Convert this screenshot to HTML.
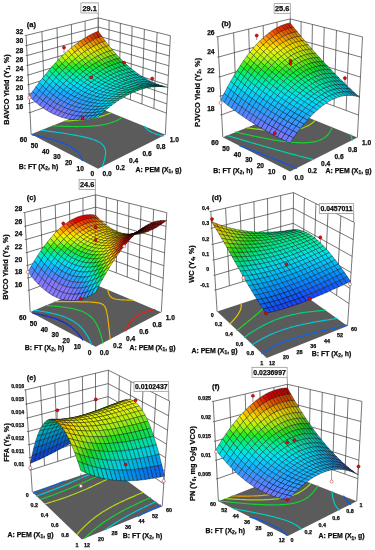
<!DOCTYPE html>
<html lang="en"><head><meta charset="utf-8"><title>Response surface plots</title>
<style>html,body{margin:0;padding:0;background:#fff}svg{display:block}</style></head>
<body>
<svg width="375" height="550" viewBox="0 0 375 550" font-family="'Liberation Sans', Arial, sans-serif" font-weight="bold" fill="#0a0a0a">
<g id="pa"><polygon points="31.1,134.3 98,168.7 165.3,134.8 98.2,107.6" fill="#5b5b5b"/>
<polyline points="31.9,134.7 32.3,134.8 33.8,135.1 35.2,135.4 35.6,135.5 36.7,135.7 38.2,136 39.4,136.3 39.7,136.4 41.1,136.7 42.6,137 43.5,137.2 44,137.4 45.5,137.7 46.9,138.1 47.9,138.3 48.3,138.4 49.7,138.8 51.1,139.2 52.4,139.6 52.9,139.7 53.8,140 55.1,140.4 56.5,140.8 57.8,141.2 59.1,141.7 59.1,141.7 60.3,142.1 61.6,142.6 62.8,143.1 64,143.5 65.2,144 66.3,144.6 67.5,145.1 68.6,145.6 69.6,146.2 70.7,146.8 71.7,147.4 72.6,148 73.6,148.7 74.5,149.3 74.5,149.4 75.3,150 76.2,150.8 76.9,151.5 77.5,152.1 77.7,152.3 78.4,153 79,153.9 79.2,154.1 79.6,154.7 80.2,155.6 80.4,155.9 80.7,156.5 81.2,157.4 81.2,157.6 81.6,158.4 81.9,159.1 82,159.4 82.3,160.4 82.3,160.6" fill="none" stroke="#0a55f5" stroke-width="1.2" stroke-linecap="round"/>
<polyline points="41.4,130.3 43.1,130.5 43.3,130.5 44.7,130.7 46.3,130.9 46.4,130.9 48.1,131.1 49.3,131.3 49.8,131.3 51.4,131.6 52.3,131.7 53.1,131.8 54.8,132 55.4,132.1 56.4,132.3 58.1,132.5 58.5,132.6 59.8,132.7 61.4,133 61.6,133 63.1,133.2 64.7,133.5 64.8,133.5 66.4,133.7 68,134 68.1,134 69.6,134.3 71.2,134.5 71.5,134.6 72.8,134.8 74.4,135.1 75,135.2 76,135.4 77.6,135.7 78.7,135.9 79.2,136 80.7,136.3 82.3,136.6 82.7,136.7 83.8,136.9 85.3,137.3 86.7,137.6 87.1,137.7 88.2,138 89.6,138.4 91,138.8 92.3,139.2 93.2,139.5 93.6,139.7 94.9,140.1 96.1,140.6 97.3,141.1 98.4,141.7 99.4,142.3 100.3,142.8 100.4,142.9 101.3,143.6 102.1,144.3 102.9,145 103,145.2 103.5,145.8 104.1,146.6 104.2,146.8 104.6,147.5 104.8,148.2 104.9,148.5 105.2,149.5 105.2,149.5 105.4,150.5 105.5,150.7 105.6,151.6 105.6,151.9 105.6,152.7 105.6,153 105.5,153.9 105.5,154.2 105.4,155.2 105.4,155.3 105.2,156.3 105.2,156.4 105,157.4 105,157.8 104.8,158.5 104.7,159.1 104.5,159.5 104.3,160.6 104.3,160.6 103.9,161.7 103.8,162 103.6,162.7 103.4,163.5 103.3,163.8 102.9,164.8 102.8,165 102.5,165.9 102.3,166.6" fill="none" stroke="#00c8d8" stroke-width="1.2" stroke-linecap="round"/>
<polyline points="163.1,136 161.5,135.6 160.1,135.2 158.6,134.8 158.1,134.6 157.2,134.4 155.9,133.9 154.6,133.5 153.3,133 152.1,132.5 151,131.9 149.9,131.4 149.6,131.1 149,130.8 148,130.1 147.2,129.5 146.8,129.1 146.5,128.8 145.8,128.1 145.5,127.7 145.2,127.3 144.7,126.5" fill="none" stroke="#00c8d8" stroke-width="1.2" stroke-linecap="round"/>
<polyline points="52.6,125.8 53.1,125.8 54.6,125.9 55.4,125.9 56.5,126 57.8,126 58.5,126.1 60.2,126.1 60.4,126.1 62.4,126.2 62.5,126.2 64.4,126.3 64.9,126.3 66.4,126.4 67.2,126.4 68.5,126.4 69.4,126.5 70.5,126.5 71.7,126.5 72.6,126.5 73.9,126.5 74.8,126.5 76.1,126.6 76.9,126.6 78.3,126.6 79.1,126.5 80.4,126.5 81.3,126.5 82.5,126.5 83.6,126.5 84.5,126.5 86,126.4 86.5,126.4 88.4,126.3 88.5,126.3 90.4,126.2 90.9,126.2 92.2,126.1 93.5,126 94,125.9 95.8,125.8 96.4,125.7 97.5,125.6 99.2,125.4 99.4,125.3 100.8,125.1 102.3,124.9 102.9,124.8 103.8,124.6 105.2,124.3 106.6,124 107.2,123.8 108,123.7 109.3,123.3 110.5,122.9 111.7,122.5 112.8,122.1 113.9,121.7 115,121.3 116,120.8 117,120.4 118,119.9 118.9,119.4 119.8,118.9 120.6,118.4 121.5,117.9 122.3,117.4" fill="none" stroke="#14d232" stroke-width="1.2" stroke-linecap="round"/>
<polyline points="64.8,121 65.9,120.9 67.1,120.9 67.8,120.8 69.5,120.8 69.7,120.8 71.6,120.7 72,120.6 73.4,120.5 74.5,120.5 75.2,120.4 77,120.3 77.1,120.3 78.8,120.1 79.9,120 80.5,120 82.2,119.8 82.8,119.7 83.8,119.6 85.4,119.4 85.8,119.3 87,119.2 88.6,118.9 89.1,118.8 90.1,118.7 91.6,118.4 92.8,118.2 93,118.2 94.4,117.9 95.8,117.6 97.1,117.3 97.2,117.3 98.5,117 99.8,116.6 101,116.3 102.2,115.9 103.1,115.7 103.4,115.6 104.6,115.2 105.7,114.8 106.8,114.4 107.9,114 108.9,113.6 110,113.2 110.9,112.8" fill="none" stroke="#96dc14" stroke-width="1.2" stroke-linecap="round"/>
<polyline points="81.1,114.4 82,114.3 83.4,114.1 84.8,113.8 84.9,113.8 86.3,113.5 87.7,113.3 88.9,113 89,113 90.3,112.7 91.6,112.4 92.9,112.1 94,111.8 94.2,111.7 95.4,111.4 96.6,111.1 97.8,110.7 98.9,110.4 100.1,110 101.2,109.7 102,109.4 102.3,109.3" fill="none" stroke="#e6c800" stroke-width="1.2" stroke-linecap="round"/>
<polygon points="30,112.6 98.2,87.8 98.2,17.9 26.1,35.4" fill="#fff"/>
<polygon points="98.2,87.8 166.4,113.1 170.4,35.7 98.2,17.9" fill="#fff"/>
<path d="M31.1,134.3 L26.1,35.4 M44.9,107.2 L41.9,31.6 M59.1,102.1 L57,27.9 M72.7,97.1 L71.4,24.4 M85.8,92.4 L85.1,21.1 M98.2,107.6 L98.2,17.9 M108.5,91.7 L109.1,20.6 M119.3,95.6 L120.4,23.4 M130.4,99.8 L132.1,26.3 M141.9,104 L144.4,29.3 M153.9,108.5 L157.1,32.5 M165.3,134.8 L170.4,35.7 M30,112.6 L98.2,87.8 L166.4,113.1 M30,112.6 L28.7,112.6 M29.5,103.5 L98.2,79.5 L166.9,103.9 M29.5,103.5 L28.2,103.5 M29.1,94.1 L98.2,71 L167.3,94.6 M29.1,94.1 L27.8,94.1 M28.6,84.7 L98.2,62.4 L167.8,85.1 M28.6,84.7 L27.3,84.7 M28.1,75.1 L98.2,53.7 L168.3,75.5 M28.1,75.1 L26.8,75.1 M27.6,65.4 L98.2,45 L168.8,65.8 M27.6,65.4 L26.3,65.4 M27.1,55.5 L98.2,36 L169.3,55.9 M27.1,55.5 L25.8,55.5 M26.6,45.5 L98.2,27 L169.8,45.9 M26.6,45.5 L25.3,45.5 M26.1,35.4 L98.2,17.9 L170.4,35.7 M26.1,35.4 L24.8,35.4" fill="none" stroke="#3c3c3c" stroke-width="0.7"/>
<line x1="64" y1="47.5" x2="64" y2="53" stroke="#555" stroke-width="0.6"/>
<line x1="124.1" y1="62.7" x2="124.1" y2="66" stroke="#555" stroke-width="0.6"/>
<line x1="152.2" y1="78.5" x2="152.2" y2="82" stroke="#555" stroke-width="0.6"/>
<line x1="98.3" y1="13" x2="98.3" y2="31.7" stroke="#555" stroke-width="0.6"/>
<g stroke="#000" stroke-opacity="0.8" stroke-width="0.45" stroke-linejoin="round">
<polygon points="95.3,32.4 97.1,34.9 98.9,37.4 100.3,36.8 101.8,36.2 100,33.7 98.2,31.2 96.8,31.8" fill="#d41f00"/>
<polygon points="92.4,33.8 94.2,36.2 95.9,38.6 97.4,38 98.9,37.4 97.1,34.9 95.3,32.4 93.9,33.1" fill="#d82a00"/>
<polygon points="98.9,37.4 100.6,39.8 102.4,42.1 103.9,41.6 105.3,41.1 103.5,38.7 101.8,36.2 100.3,36.8" fill="#de7500"/>
<polygon points="89.4,35.3 91.2,37.7 93,40.1 94.5,39.3 95.9,38.6 94.2,36.2 92.4,33.8 90.9,34.5" fill="#dd3800"/>
<polygon points="95.9,38.6 97.7,41 99.5,43.3 101,42.7 102.4,42.1 100.6,39.8 98.9,37.4 97.4,38" fill="#e27d00"/>
<polygon points="102.4,42.1 104.2,44.4 106,46.6 107.5,46.1 108.9,45.6 107.1,43.4 105.3,41.1 103.9,41.6" fill="#dfb400"/>
<polygon points="86.5,37 88.2,39.4 90,41.7 91.5,40.9 93,40.1 91.2,37.7 89.4,35.3 87.9,36.1" fill="#e24a00"/>
<polygon points="93,40.1 94.8,42.4 96.6,44.7 98,44 99.5,43.3 97.7,41 95.9,38.6 94.5,39.3" fill="#e58800"/>
<polygon points="99.5,43.3 101.3,45.5 103.1,47.7 104.6,47.2 106,46.6 104.2,44.4 102.4,42.1 101,42.7" fill="#e3bb00"/>
<polygon points="106,46.6 107.8,48.8 109.6,50.9 111.1,50.4 112.5,50 110.7,47.9 108.9,45.6 107.5,46.1" fill="#cad506"/>
<polygon points="83.4,38.8 85.2,41.2 87,43.5 88.5,42.6 90,41.7 88.2,39.4 86.5,37 85,37.9" fill="#e76000"/>
<polygon points="90,41.7 91.8,44 93.6,46.2 95.1,45.4 96.6,44.7 94.8,42.4 93,40.1 91.5,40.9" fill="#e99500"/>
<polygon points="96.6,44.7 98.4,46.9 100.2,49 101.6,48.4 103.1,47.7 101.3,45.5 99.5,43.3 98,44" fill="#e7c400"/>
<polygon points="103.1,47.7 104.9,49.9 106.7,51.9 108.2,51.4 109.6,50.9 107.8,48.8 106,46.6 104.6,47.2" fill="#cbd807"/>
<polygon points="109.6,50.9 111.5,53 113.3,55 114.7,54.6 116.2,54.2 114.3,52.1 112.5,50 111.1,50.4" fill="#a0db12"/>
<polygon points="80.4,40.8 82.2,43.1 84,45.4 85.5,44.4 87,43.5 85.2,41.2 83.4,38.8 81.9,39.8" fill="#ed7900"/>
<polygon points="87,43.5 88.8,45.7 90.6,47.9 92.1,47 93.6,46.2 91.8,44 90,41.7 88.5,42.6" fill="#eca500"/>
<polygon points="93.6,46.2 95.4,48.3 97.2,50.5 98.7,49.7 100.2,49 98.4,46.9 96.6,44.7 95.1,45.4" fill="#ead100"/>
<polygon points="100.2,49 102,51.1 103.8,53.1 105.3,52.5 106.7,51.9 104.9,49.9 103.1,47.7 101.6,48.4" fill="#cadc08"/>
<polygon points="106.7,51.9 108.6,54 110.4,55.9 111.9,55.4 113.3,55 111.5,53 109.6,50.9 108.2,51.4" fill="#a2df12"/>
<polygon points="77.4,43 79.1,45.3 80.9,47.5 82.5,46.4 84,45.4 82.2,43.1 80.4,40.8 78.9,41.9" fill="#f19100"/>
<polygon points="113.3,55 115.1,56.9 117,58.8 118.4,58.4 119.8,58.1 118,56.2 116.2,54.2 114.7,54.6" fill="#56d619"/>
<polygon points="84,45.4 85.8,47.6 87.6,49.7 89.1,48.8 90.6,47.9 88.8,45.7 87,43.5 85.5,44.4" fill="#efb800"/>
<polygon points="90.6,47.9 92.4,50 94.2,52.1 95.7,51.2 97.2,50.5 95.4,48.3 93.6,46.2 92.1,47" fill="#ecde01"/>
<polygon points="97.2,50.5 99,52.5 100.8,54.5 102.3,53.8 103.8,53.1 102,51.1 100.2,49 98.7,49.7" fill="#c7e10a"/>
<polygon points="103.8,53.1 105.6,55.1 107.5,57 108.9,56.5 110.4,55.9 108.6,54 106.7,51.9 105.3,52.5" fill="#a0e213"/>
<polygon points="74.3,45.3 76.1,47.6 77.8,49.7 79.4,48.6 80.9,47.5 79.1,45.3 77.4,43 75.8,44.2" fill="#f4ac00"/>
<polygon points="110.4,55.9 112.2,57.8 114.1,59.7 115.5,59.2 117,58.8 115.1,56.9 113.3,55 111.9,55.4" fill="#5ada19"/>
<polygon points="80.9,47.5 82.7,49.6 84.5,51.7 86,50.7 87.6,49.7 85.8,47.6 84,45.4 82.5,46.4" fill="#f2ce00"/>
<polygon points="117,58.8 118.8,60.7 120.7,62.4 122.1,62.1 123.6,61.8 121.7,60 119.8,58.1 118.4,58.4" fill="#16d222"/>
<polygon points="87.6,49.7 89.4,51.8 91.2,53.8 92.7,52.9 94.2,52.1 92.4,50 90.6,47.9 89.1,48.8" fill="#e3e304"/>
<polygon points="94.2,52.1 96,54.1 97.9,56 99.4,55.2 100.8,54.5 99,52.5 97.2,50.5 95.7,51.2" fill="#c2e50c"/>
<polygon points="100.8,54.5 102.7,56.4 104.5,58.3 106,57.7 107.5,57 105.6,55.1 103.8,53.1 102.3,53.8" fill="#9ae514"/>
<polygon points="71.2,47.9 73,50 74.7,52.2 76.3,50.9 77.8,49.7 76.1,47.6 74.3,45.3 72.7,46.6" fill="#f6c900"/>
<polygon points="107.5,57 109.3,58.9 111.2,60.7 112.6,60.2 114.1,59.7 112.2,57.8 110.4,55.9 108.9,56.5" fill="#5ade1a"/>
<polygon points="77.8,49.7 79.6,51.9 81.4,53.9 83,52.8 84.5,51.7 82.7,49.6 80.9,47.5 79.4,48.6" fill="#f3e501"/>
<polygon points="114.1,59.7 116,61.5 117.8,63.2 119.3,62.8 120.7,62.4 118.8,60.7 117,58.8 115.5,59.2" fill="#18d520"/>
<polygon points="84.5,51.7 86.3,53.8 88.1,55.7 89.7,54.8 91.2,53.8 89.4,51.8 87.6,49.7 86,50.7" fill="#d8e808"/>
<polygon points="120.7,62.4 122.6,64.2 124.5,65.8 125.9,65.5 127.3,65.3 125.4,63.6 123.6,61.8 122.1,62.1" fill="#0bd459"/>
<polygon points="91.2,53.8 93,55.8 94.8,57.7 96.3,56.8 97.9,56 96,54.1 94.2,52.1 92.7,52.9" fill="#bbea0f"/>
<polygon points="97.9,56 99.7,57.9 101.5,59.7 103,59 104.5,58.3 102.7,56.4 100.8,54.5 99.4,55.2" fill="#90e815"/>
<polygon points="68.1,50.5 69.8,52.7 71.6,54.8 73.2,53.4 74.7,52.2 73,50 71.2,47.9 69.6,49.2" fill="#f8e900"/>
<polygon points="104.5,58.3 106.4,60.1 108.2,61.9 109.7,61.3 111.2,60.7 109.3,58.9 107.5,57 106,57.7" fill="#56e11b"/>
<polygon points="74.7,52.2 76.5,54.2 78.3,56.3 79.9,55.1 81.4,53.9 79.6,51.9 77.8,49.7 76.3,50.9" fill="#e2eb06"/>
<polygon points="111.2,60.7 113,62.5 114.9,64.2 116.4,63.7 117.8,63.2 116,61.5 114.1,59.7 112.6,60.2" fill="#1ad920"/>
<polygon points="81.4,53.9 83.2,55.9 85.1,57.8 86.6,56.8 88.1,55.7 86.3,53.8 84.5,51.7 83,52.8" fill="#caed0c"/>
<polygon points="117.8,63.2 119.7,64.9 121.6,66.5 123.1,66.2 124.5,65.8 122.6,64.2 120.7,62.4 119.3,62.8" fill="#0cd854"/>
<polygon points="88.1,55.7 90,57.7 91.8,59.5 93.3,58.6 94.8,57.7 93,55.8 91.2,53.8 89.7,54.8" fill="#b0ef13"/>
<polygon points="124.5,65.8 126.4,67.5 128.3,69 129.7,68.8 131.1,68.6 129.2,67 127.3,65.3 125.9,65.5" fill="#01d78a"/>
<polygon points="94.8,57.7 96.7,59.5 98.5,61.3 100,60.5 101.5,59.7 99.7,57.9 97.9,56 96.3,56.8" fill="#81ea17"/>
<polygon points="64.9,53.4 66.7,55.5 68.5,57.5 70.1,56.1 71.6,54.8 69.8,52.7 68.1,50.5 66.5,51.9" fill="#e0ef08"/>
<polygon points="101.5,59.7 103.4,61.5 105.2,63.3 106.7,62.6 108.2,61.9 106.4,60.1 104.5,58.3 103,59" fill="#4de31c"/>
<polygon points="71.6,54.8 73.4,56.8 75.2,58.8 76.8,57.5 78.3,56.3 76.5,54.2 74.7,52.2 73.2,53.4" fill="#cdf10c"/>
<polygon points="108.2,61.9 110.1,63.6 112,65.3 113.5,64.7 114.9,64.2 113,62.5 111.2,60.7 109.7,61.3" fill="#17dc21"/>
<polygon points="78.3,56.3 80.1,58.2 82,60.1 83.5,59 85.1,57.8 83.2,55.9 81.4,53.9 79.9,55.1" fill="#b9f211"/>
<polygon points="114.9,64.2 116.8,65.8 118.7,67.4 120.2,66.9 121.6,66.5 119.7,64.9 117.8,63.2 116.4,63.7" fill="#0ddc51"/>
<polygon points="85.1,57.8 86.9,59.7 88.7,61.6 90.3,60.5 91.8,59.5 90,57.7 88.1,55.7 86.6,56.8" fill="#98f016"/>
<polygon points="121.6,66.5 123.5,68.1 125.4,69.6 126.9,69.3 128.3,69 126.4,67.5 124.5,65.8 123.1,66.2" fill="#03da83"/>
<polygon points="91.8,59.5 93.6,61.3 95.5,63.1 97,62.2 98.5,61.3 96.7,59.5 94.8,57.7 93.3,58.6" fill="#6eeb1a"/>
<polygon points="61.8,56.4 63.5,58.5 65.3,60.5 66.9,59 68.5,57.5 66.7,55.5 64.9,53.4 63.3,54.9" fill="#c4f50f"/>
<polygon points="128.3,69 130.2,70.5 132.1,71.9 133.6,71.7 135,71.6 133,70.1 131.1,68.6 129.7,68.8" fill="#00d3a6"/>
<polygon points="98.5,61.3 100.4,63.1 102.2,64.8 103.7,64 105.2,63.3 103.4,61.5 101.5,59.7 100,60.5" fill="#40e61e"/>
<polygon points="68.5,57.5 70.3,59.5 72.1,61.5 73.6,60.1 75.2,58.8 73.4,56.8 71.6,54.8 70.1,56.1" fill="#b6f713"/>
<polygon points="105.2,63.3 107.1,64.9 109,66.5 110.5,65.9 112,65.3 110.1,63.6 108.2,61.9 106.7,62.6" fill="#17e027"/>
<polygon points="75.2,58.8 77,60.7 78.8,62.5 80.4,61.3 82,60.1 80.1,58.2 78.3,56.3 76.8,57.5" fill="#9af416"/>
<polygon points="112,65.3 113.9,66.9 115.8,68.4 117.2,67.9 118.7,67.4 116.8,65.8 114.9,64.2 113.5,64.7" fill="#0edf53"/>
<polygon points="82,60.1 83.8,61.9 85.6,63.7 87.2,62.6 88.7,61.6 86.9,59.7 85.1,57.8 83.5,59" fill="#79f119"/>
<polygon points="118.7,67.4 120.6,68.9 122.5,70.4 124,70 125.4,69.6 123.5,68.1 121.6,66.5 120.2,66.9" fill="#04de7f"/>
<polygon points="88.7,61.6 90.5,63.3 92.4,65 93.9,64 95.5,63.1 93.6,61.3 91.8,59.5 90.3,60.5" fill="#55ec1d"/>
<polygon points="58.6,59.6 60.3,61.6 62.1,63.6 63.7,62 65.3,60.5 63.5,58.5 61.8,56.4 60.2,58" fill="#98f617"/>
<polygon points="125.4,69.6 127.4,71.1 129.3,72.5 130.7,72.2 132.1,71.9 130.2,70.5 128.3,69 126.9,69.3" fill="#00d8a2"/>
<polygon points="95.5,63.1 97.3,64.8 99.2,66.4 100.7,65.6 102.2,64.8 100.4,63.1 98.5,61.3 97,62.2" fill="#2fe720"/>
<polygon points="65.3,60.5 67.1,62.4 68.9,64.3 70.5,62.9 72.1,61.5 70.3,59.5 68.5,57.5 66.9,59" fill="#85f419"/>
<polygon points="132.1,71.9 134.1,73.3 136,74.7 137.5,74.5 138.9,74.4 136.9,73 135,71.6 133.6,71.7" fill="#00cfbd"/>
<polygon points="102.2,64.8 104.1,66.4 106,68 107.5,67.2 109,66.5 107.1,64.9 105.2,63.3 103.7,64" fill="#15e432"/>
<polygon points="72.1,61.5 73.9,63.3 75.7,65.1 77.3,63.8 78.8,62.5 77,60.7 75.2,58.8 73.6,60.1" fill="#6ef21b"/>
<polygon points="109,66.5 110.9,68.1 112.8,69.6 114.3,69 115.8,68.4 113.9,66.9 112,65.3 110.5,65.9" fill="#0de357"/>
<polygon points="78.8,62.5 80.7,64.3 82.5,66.1 84.1,64.9 85.6,63.7 83.8,61.9 82,60.1 80.4,61.3" fill="#55f01d"/>
<polygon points="115.8,68.4 117.7,69.9 119.6,71.3 121.1,70.8 122.5,70.4 120.6,68.9 118.7,67.4 117.2,67.9" fill="#05e27e"/>
<polygon points="85.6,63.7 87.4,65.5 89.3,67.1 90.8,66.1 92.4,65 90.5,63.3 88.7,61.6 87.2,62.6" fill="#38ed20"/>
<polygon points="55.4,63 57.1,65 58.9,66.9 60.5,65.2 62.1,63.6 60.3,61.6 58.6,59.6 57,61.3" fill="#58f01d"/>
<polygon points="122.5,70.4 124.5,71.8 126.4,73.1 127.8,72.8 129.3,72.5 127.4,71.1 125.4,69.6 124,70" fill="#00dda0"/>
<polygon points="92.4,65 94.3,66.7 96.1,68.3 97.7,67.3 99.2,66.4 97.3,64.8 95.5,63.1 93.9,64" fill="#19e923"/>
<polygon points="62.1,63.6 63.9,65.5 65.7,67.4 67.3,65.8 68.9,64.3 67.1,62.4 65.3,60.5 63.7,62" fill="#4cef1e"/>
<polygon points="129.3,72.5 131.2,73.8 133.2,75.1 134.6,74.9 136,74.7 134.1,73.3 132.1,71.9 130.7,72.2" fill="#00d5b8"/>
<polygon points="99.2,66.4 101.1,68 102.9,69.5 104.5,68.7 106,68 104.1,66.4 102.2,64.8 100.7,65.6" fill="#13e840"/>
<polygon points="68.9,64.3 70.7,66.2 72.5,67.9 74.1,66.5 75.7,65.1 73.9,63.3 72.1,61.5 70.5,62.9" fill="#3dee20"/>
<polygon points="136,74.7 138,75.9 140,77.1 141.4,77 142.8,77 140.8,75.7 138.9,74.4 137.5,74.5" fill="#00ccd0"/>
<polygon points="106,68 107.9,69.5 109.8,70.9 111.3,70.2 112.8,69.6 110.9,68.1 109,66.5 107.5,67.2" fill="#0ce760"/>
<polygon points="75.7,65.1 77.5,66.9 79.3,68.6 80.9,67.3 82.5,66.1 80.7,64.3 78.8,62.5 77.3,63.8" fill="#2bed21"/>
<polygon points="112.8,69.6 114.7,71 116.6,72.4 118.1,71.8 119.6,71.3 117.7,69.9 115.8,68.4 114.3,69" fill="#05e581"/>
<polygon points="82.5,66.1 84.3,67.8 86.2,69.4 87.7,68.2 89.3,67.1 87.4,65.5 85.6,63.7 84.1,64.9" fill="#18eb26"/>
<polygon points="52.1,66.5 53.9,68.5 55.7,70.4 57.3,68.6 58.9,66.9 57.1,65 55.4,63 53.8,64.7" fill="#18eb28"/>
<polygon points="119.6,71.3 121.5,72.7 123.5,74 124.9,73.5 126.4,73.1 124.5,71.8 122.5,70.4 121.1,70.8" fill="#00e29f"/>
<polygon points="89.3,67.1 91.2,68.7 93,70.3 94.6,69.3 96.1,68.3 94.3,66.7 92.4,65 90.8,66.1" fill="#14ec3b"/>
<polygon points="58.9,66.9 60.7,68.8 62.5,70.6 64.1,68.9 65.7,67.4 63.9,65.5 62.1,63.6 60.5,65.2" fill="#17eb2c"/>
<polygon points="126.4,73.1 128.4,74.4 130.3,75.7 131.8,75.4 133.2,75.1 131.2,73.8 129.3,72.5 127.8,72.8" fill="#00dab4"/>
<polygon points="96.1,68.3 98,69.8 99.9,71.3 101.4,70.4 102.9,69.5 101.1,68 99.2,66.4 97.7,67.3" fill="#0fec53"/>
<polygon points="65.7,67.4 67.5,69.1 69.3,70.9 70.9,69.4 72.5,67.9 70.7,66.2 68.9,64.3 67.3,65.8" fill="#16ec33"/>
<polygon points="133.2,75.1 135.2,76.3 137.2,77.5 138.6,77.3 140,77.1 138,75.9 136,74.7 134.6,74.9" fill="#00d1c9"/>
<polygon points="102.9,69.5 104.8,71 106.7,72.4 108.3,71.6 109.8,70.9 107.9,69.5 106,68 104.5,68.7" fill="#0aeb6c"/>
<polygon points="72.5,67.9 74.3,69.6 76.2,71.3 77.7,69.9 79.3,68.6 77.5,66.9 75.7,65.1 74.1,66.5" fill="#14ec3c"/>
<polygon points="140,77.1 142,78.3 144,79.4 145.4,79.3 146.8,79.3 144.8,78.1 142.8,77 141.4,77" fill="#01c7db"/>
<polygon points="109.8,70.9 111.7,72.3 113.6,73.6 115.1,73 116.6,72.4 114.7,71 112.8,69.6 111.3,70.2" fill="#04e987"/>
<polygon points="79.3,68.6 81.2,70.2 83,71.8 84.6,70.6 86.2,69.4 84.3,67.8 82.5,66.1 80.9,67.3" fill="#12ec48"/>
<polygon points="48.9,70.3 50.7,72.2 52.4,74 54.1,72.2 55.7,70.4 53.9,68.5 52.1,66.5 50.5,68.4" fill="#0bee68"/>
<polygon points="116.6,72.4 118.6,73.7 120.5,75 122,74.4 123.5,74 121.5,72.7 119.6,71.3 118.1,71.8" fill="#00e6a0"/>
<polygon points="86.2,69.4 88,71 89.9,72.5 91.5,71.4 93,70.3 91.2,68.7 89.3,67.1 87.7,68.2" fill="#0fed57"/>
<polygon points="55.7,70.4 57.5,72.2 59.3,73.9 60.9,72.2 62.5,70.6 60.7,68.8 58.9,66.9 57.3,68.6" fill="#0cee66"/>
<polygon points="123.5,74 125.4,75.2 127.4,76.4 128.9,76 130.3,75.7 128.4,74.4 126.4,73.1 124.9,73.5" fill="#00deb2"/>
<polygon points="93,70.3 94.9,71.8 96.8,73.2 98.3,72.2 99.9,71.3 98,69.8 96.1,68.3 94.6,69.3" fill="#0bee68"/>
<polygon points="62.5,70.6 64.3,72.3 66.1,74 67.7,72.4 69.3,70.9 67.5,69.1 65.7,67.4 64.1,68.9" fill="#0cee66"/>
<polygon points="130.3,75.7 132.3,76.8 134.3,78 135.7,77.7 137.2,77.5 135.2,76.3 133.2,75.1 131.8,75.4" fill="#00d7c4"/>
<polygon points="99.9,71.3 101.8,72.7 103.7,74.1 105.2,73.2 106.7,72.4 104.8,71 102.9,69.5 101.4,70.4" fill="#07ef7c"/>
<polygon points="69.3,70.9 71.1,72.6 73,74.2 74.6,72.7 76.2,71.3 74.3,69.6 72.5,67.9 70.9,69.4" fill="#0bee69"/>
<polygon points="137.2,77.5 139.2,78.6 141.2,79.6 142.6,79.5 144,79.4 142,78.3 140,77.1 138.6,77.3" fill="#00ced7"/>
<polygon points="106.7,72.4 108.7,73.8 110.6,75 112.1,74.3 113.6,73.6 111.7,72.3 109.8,70.9 108.3,71.6" fill="#03ed92"/>
<polygon points="76.2,71.3 78,72.9 79.8,74.4 81.4,73.1 83,71.8 81.2,70.2 79.3,68.6 77.7,69.9" fill="#0aee6e"/>
<polygon points="45.7,74.2 47.4,76 49.2,77.8 50.8,75.9 52.4,74 50.7,72.2 48.9,70.3 47.3,72.2" fill="#00efa8"/>
<polygon points="144,79.4 146,80.4 148.1,81.4 149.5,81.4 150.9,81.4 148.8,80.4 146.8,79.3 145.4,79.3" fill="#04bfdc"/>
<polygon points="113.6,73.6 115.6,74.9 117.5,76.1 119,75.5 120.5,75 118.6,73.7 116.6,72.4 115.1,73" fill="#00e9a4"/>
<polygon points="83,71.8 84.9,73.4 86.7,74.8 88.3,73.6 89.9,72.5 88,71 86.2,69.4 84.6,70.6" fill="#08ee77"/>
<polygon points="52.4,74 54.2,75.8 56,77.5 57.6,75.7 59.3,73.9 57.5,72.2 55.7,70.4 54.1,72.2" fill="#00f0a2"/>
<polygon points="120.5,75 122.5,76.2 124.4,77.3 125.9,76.8 127.4,76.4 125.4,75.2 123.5,74 122,74.4" fill="#00e3b2"/>
<polygon points="89.9,72.5 91.8,73.9 93.6,75.3 95.2,74.2 96.8,73.2 94.9,71.8 93,70.3 91.5,71.4" fill="#06ef82"/>
<polygon points="59.3,73.9 61.1,75.7 62.9,77.3 64.5,75.6 66.1,74 64.3,72.3 62.5,70.6 60.9,72.2" fill="#01f09d"/>
<polygon points="127.4,76.4 129.4,77.5 131.4,78.6 132.8,78.3 134.3,78 132.3,76.8 130.3,75.7 128.9,76" fill="#00dcc1"/>
<polygon points="96.8,73.2 98.7,74.6 100.6,75.9 102.1,75 103.7,74.1 101.8,72.7 99.9,71.3 98.3,72.2" fill="#03ef8f"/>
<polygon points="66.1,74 67.9,75.6 69.7,77.2 71.3,75.7 73,74.2 71.1,72.6 69.3,70.9 67.7,72.4" fill="#01f099"/>
<polygon points="134.3,78 136.3,79 138.3,80 139.8,79.8 141.2,79.6 139.2,78.6 137.2,77.5 135.7,77.7" fill="#00d4d1"/>
<polygon points="103.7,74.1 105.6,75.4 107.5,76.6 109.1,75.8 110.6,75 108.7,73.8 106.7,72.4 105.2,73.2" fill="#00f09f"/>
<polygon points="73,74.2 74.8,75.7 76.6,77.2 78.2,75.8 79.8,74.4 78,72.9 76.2,71.3 74.6,72.7" fill="#02f098"/>
<polygon points="42.4,78.2 44.1,80.1 45.9,81.8 47.5,79.8 49.2,77.8 47.4,76 45.7,74.2 44,76.2" fill="#00e7d4"/>
<polygon points="141.2,79.6 143.2,80.6 145.3,81.5 146.7,81.4 148.1,81.4 146,80.4 144,79.4 142.6,79.5" fill="#01cbdf"/>
<polygon points="110.6,75 112.5,76.3 114.5,77.4 116,76.8 117.5,76.1 115.6,74.9 113.6,73.6 112.1,74.3" fill="#00ecaa"/>
<polygon points="79.8,74.4 81.7,75.9 83.6,77.3 85.1,76.1 86.7,74.8 84.9,73.4 83,71.8 81.4,73.1" fill="#01f09a"/>
<polygon points="49.2,77.8 51,79.6 52.7,81.2 54.4,79.4 56,77.5 54.2,75.8 52.4,74 50.8,75.9" fill="#00e9ca"/>
<polygon points="148.1,81.4 150.1,82.3 152.2,83.1 153.6,83.2 155,83.3 152.9,82.4 150.9,81.4 149.5,81.4" fill="#06badc"/>
<polygon points="117.5,76.1 119.5,77.3 121.5,78.4 123,77.8 124.4,77.3 122.5,76.2 120.5,75 119,75.5" fill="#00e6b5"/>
<polygon points="86.7,74.8 88.6,76.2 90.5,77.6 92.1,76.4 93.6,75.3 91.8,73.9 89.9,72.5 88.3,73.6" fill="#00f09e"/>
<polygon points="56,77.5 57.8,79.2 59.6,80.8 61.2,79 62.9,77.3 61.1,75.7 59.3,73.9 57.6,75.7" fill="#00eac2"/>
<polygon points="124.4,77.3 126.4,78.4 128.4,79.4 129.9,79 131.4,78.6 129.4,77.5 127.4,76.4 125.9,76.8" fill="#00e0c0"/>
<polygon points="93.6,75.3 95.5,76.6 97.5,77.9 99,76.9 100.6,75.9 98.7,74.6 96.8,73.2 95.2,74.2" fill="#00efa3"/>
<polygon points="62.9,77.3 64.7,78.9 66.5,80.4 68.1,78.8 69.7,77.2 67.9,75.6 66.1,74 64.5,75.6" fill="#00ebbc"/>
<polygon points="131.4,78.6 133.4,79.6 135.4,80.6 136.9,80.3 138.3,80 136.3,79 134.3,78 132.8,78.3" fill="#00d9cc"/>
<polygon points="100.6,75.9 102.5,77.2 104.4,78.4 106,77.5 107.5,76.6 105.6,75.4 103.7,74.1 102.1,75" fill="#00eea9"/>
<polygon points="69.7,77.2 71.6,78.7 73.4,80.2 75,78.7 76.6,77.2 74.8,75.7 73,74.2 71.3,75.7" fill="#00ecb8"/>
<polygon points="39.1,82.5 40.9,84.3 42.6,86 44.3,83.9 45.9,81.8 44.1,80.1 42.4,78.2 40.7,80.3" fill="#04d9f6"/>
<polygon points="138.3,80 140.4,80.9 142.4,81.8 143.8,81.6 145.3,81.5 143.2,80.6 141.2,79.6 139.8,79.8" fill="#00d2d9"/>
<polygon points="107.5,76.6 109.5,77.8 111.4,78.9 113,78.2 114.5,77.4 112.5,76.3 110.6,75 109.1,75.8" fill="#00edb1"/>
<polygon points="76.6,77.2 78.5,78.7 80.3,80 82,78.7 83.6,77.3 81.7,75.9 79.8,74.4 78.2,75.8" fill="#00ecb5"/>
<polygon points="45.9,81.8 47.7,83.5 49.5,85.2 51.1,83.2 52.7,81.2 51,79.6 49.2,77.8 47.5,79.8" fill="#00e1f5"/>
<polygon points="145.3,81.5 147.3,82.4 149.4,83.2 150.8,83.1 152.2,83.1 150.1,82.3 148.1,81.4 146.7,81.4" fill="#02c6de"/>
<polygon points="114.5,77.4 116.4,78.5 118.4,79.6 119.9,79 121.5,78.4 119.5,77.3 117.5,76.1 116,76.8" fill="#00eab9"/>
<polygon points="83.6,77.3 85.4,78.7 87.3,80 88.9,78.8 90.5,77.6 88.6,76.2 86.7,74.8 85.1,76.1" fill="#00edb3"/>
<polygon points="52.7,81.2 54.5,82.9 56.3,84.4 58,82.6 59.6,80.8 57.8,79.2 56,77.5 54.4,79.4" fill="#00e3e9"/>
<polygon points="152.2,83.1 154.3,83.9 156.4,84.7 157.8,84.7 159.1,84.9 157.1,84.1 155,83.3 153.6,83.2" fill="#07b6db"/>
<polygon points="121.5,78.4 123.4,79.4 125.4,80.4 126.9,79.9 128.4,79.4 126.4,78.4 124.4,77.3 123,77.8" fill="#00e4c1"/>
<polygon points="90.5,77.6 92.4,78.9 94.3,80.1 95.9,79 97.5,77.9 95.5,76.6 93.6,75.3 92.1,76.4" fill="#00edb4"/>
<polygon points="59.6,80.8 61.4,82.3 63.2,83.8 64.9,82.1 66.5,80.4 64.7,78.9 62.9,77.3 61.2,79" fill="#00e5df"/>
<polygon points="128.4,79.4 130.4,80.4 132.5,81.3 133.9,80.9 135.4,80.6 133.4,79.6 131.4,78.6 129.9,79" fill="#00deca"/>
<polygon points="97.5,77.9 99.4,79.1 101.3,80.3 102.9,79.3 104.4,78.4 102.5,77.2 100.6,75.9 99,76.9" fill="#00ecb5"/>
<polygon points="66.5,80.4 68.3,81.9 70.2,83.3 71.8,81.7 73.4,80.2 71.6,78.7 69.7,77.2 68.1,78.8" fill="#00e6d6"/>
<polygon points="35.8,86.9 37.6,88.7 39.3,90.3 41,88.1 42.6,86 40.9,84.3 39.1,82.5 37.5,84.7" fill="#11bcfc"/>
<polygon points="135.4,80.6 137.5,81.4 139.5,82.3 141,82 142.4,81.8 140.4,80.9 138.3,80 136.9,80.3" fill="#00d7d3"/>
<polygon points="104.4,78.4 106.4,79.5 108.3,80.6 109.9,79.7 111.4,78.9 109.5,77.8 107.5,76.6 106,77.5" fill="#00ecb9"/>
<polygon points="73.4,80.2 75.3,81.6 77.1,82.9 78.7,81.5 80.3,80 78.5,78.7 76.6,77.2 75,78.7" fill="#00e8cf"/>
<polygon points="42.6,86 44.4,87.7 46.1,89.3 47.8,87.2 49.5,85.2 47.7,83.5 45.9,81.8 44.3,83.9" fill="#0cc6fa"/>
<polygon points="142.4,81.8 144.5,82.6 146.6,83.4 148,83.3 149.4,83.2 147.3,82.4 145.3,81.5 143.8,81.6" fill="#00d0dd"/>
<polygon points="111.4,78.9 113.4,80 115.4,81 116.9,80.3 118.4,79.6 116.4,78.5 114.5,77.4 113,78.2" fill="#00ebbe"/>
<polygon points="80.3,80 82.2,81.4 84.1,82.6 85.7,81.3 87.3,80 85.4,78.7 83.6,77.3 82,78.7" fill="#00e9ca"/>
<polygon points="49.5,85.2 51.2,86.8 53,88.3 54.7,86.3 56.3,84.4 54.5,82.9 52.7,81.2 51.1,83.2" fill="#08d0f8"/>
<polygon points="149.4,83.2 151.5,83.9 153.6,84.6 155,84.6 156.4,84.7 154.3,83.9 152.2,83.1 150.8,83.1" fill="#03c3dd"/>
<polygon points="118.4,79.6 120.4,80.6 122.4,81.5 123.9,80.9 125.4,80.4 123.4,79.4 121.5,78.4 119.9,79" fill="#00e8c4"/>
<polygon points="87.3,80 89.2,81.3 91.1,82.4 92.7,81.3 94.3,80.1 92.4,78.9 90.5,77.6 88.9,78.8" fill="#00e9c6"/>
<polygon points="56.3,84.4 58.1,86 59.9,87.4 61.6,85.6 63.2,83.8 61.4,82.3 59.6,80.8 58,82.6" fill="#04d8f7"/>
<polygon points="156.4,84.7 158.5,85.3 160.7,85.9 162,86.1 163.4,86.2 161.3,85.6 159.1,84.9 157.8,84.7" fill="#08b5da"/>
<polygon points="125.4,80.4 127.5,81.3 129.5,82.1 131,81.7 132.5,81.3 130.4,80.4 128.4,79.4 126.9,79.9" fill="#00e2c9"/>
<polygon points="94.3,80.1 96.2,81.3 98.1,82.4 99.7,81.3 101.3,80.3 99.4,79.1 97.5,77.9 95.9,79" fill="#00eac4"/>
<polygon points="63.2,83.8 65,85.3 66.9,86.6 68.5,85 70.2,83.3 68.3,81.9 66.5,80.4 64.9,82.1" fill="#01e0f5"/>
<polygon points="32.5,91.5 34.2,93.2 36,94.9 37.6,92.6 39.3,90.3 37.6,88.7 35.8,86.9 34.2,89.2" fill="#27a1ff"/>
<polygon points="132.5,81.3 134.5,82.1 136.6,82.9 138,82.5 139.5,82.3 137.5,81.4 135.4,80.6 133.9,80.9" fill="#00dccf"/>
<polygon points="101.3,80.3 103.2,81.4 105.2,82.4 106.8,81.5 108.3,80.6 106.4,79.5 104.4,78.4 102.9,79.3" fill="#00eac4"/>
<polygon points="70.2,83.3 72,84.7 73.9,86 75.5,84.4 77.1,82.9 75.3,81.6 73.4,80.2 71.8,81.7" fill="#00e3ec"/>
<polygon points="39.3,90.3 41.1,92 42.8,93.5 44.5,91.4 46.1,89.3 44.4,87.7 42.6,86 41,88.1" fill="#19aaff"/>
<polygon points="139.5,82.3 141.6,83 143.7,83.7 145.1,83.5 146.6,83.4 144.5,82.6 142.4,81.8 141,82" fill="#00d6d6"/>
<polygon points="108.3,80.6 110.3,81.6 112.3,82.6 113.8,81.7 115.4,81 113.4,80 111.4,78.9 109.9,79.7" fill="#00eac5"/>
<polygon points="77.1,82.9 79,84.2 80.9,85.4 82.5,84 84.1,82.6 82.2,81.4 80.3,80 78.7,81.5" fill="#00e4e3"/>
<polygon points="46.1,89.3 47.9,90.8 49.7,92.3 51.4,90.3 53,88.3 51.2,86.8 49.5,85.2 47.8,87.2" fill="#14b6fd"/>
<polygon points="146.6,83.4 148.7,84.1 150.8,84.7 152.2,84.6 153.6,84.6 151.5,83.9 149.4,83.2 148,83.3" fill="#00cedd"/>
<polygon points="115.4,81 117.4,81.9 119.4,82.8 120.9,82.1 122.4,81.5 120.4,80.6 118.4,79.6 116.9,80.3" fill="#00e9c8"/>
<polygon points="84.1,82.6 86,83.8 87.9,85 89.5,83.7 91.1,82.4 89.2,81.3 87.3,80 85.7,81.3" fill="#00e6db"/>
<polygon points="53,88.3 54.8,89.8 56.6,91.2 58.3,89.3 59.9,87.4 58.1,86 56.3,84.4 54.7,86.3" fill="#0fc1fb"/>
<polygon points="153.6,84.6 155.7,85.2 157.9,85.8 159.3,85.8 160.7,85.9 158.5,85.3 156.4,84.7 155,84.6" fill="#03c3dc"/>
<polygon points="122.4,81.5 124.4,82.4 126.5,83.2 128,82.6 129.5,82.1 127.5,81.3 125.4,80.4 123.9,80.9" fill="#00e6ca"/>
<polygon points="91.1,82.4 93,83.6 94.9,84.6 96.5,83.5 98.1,82.4 96.2,81.3 94.3,80.1 92.7,81.3" fill="#00e7d5"/>
<polygon points="59.9,87.4 61.8,88.8 63.6,90.1 65.2,88.4 66.9,86.6 65,85.3 63.2,83.8 61.6,85.6" fill="#0acbf9"/>
<polygon points="160.7,85.9 162.8,86.5 165,86.9 166.4,87.1 167.7,87.4 165.5,86.8 163.4,86.2 162,86.1" fill="#07b5d8"/>
<polygon points="29.2,96.3 30.9,98 32.7,99.6 34.3,97.2 36,94.9 34.2,93.2 32.5,91.5 30.8,93.9" fill="#4a8bff"/>
<polygon points="129.5,82.1 131.5,82.9 133.6,83.6 135.1,83.2 136.6,82.9 134.5,82.1 132.5,81.3 131,81.7" fill="#00e1cd"/>
<polygon points="98.1,82.4 100.1,83.4 102,84.4 103.6,83.4 105.2,82.4 103.2,81.4 101.3,80.3 99.7,81.3" fill="#00e7d0"/>
<polygon points="66.9,86.6 68.7,88 70.6,89.2 72.2,87.6 73.9,86 72,84.7 70.2,83.3 68.5,85" fill="#06d4f7"/>
<polygon points="36,94.9 37.7,96.4 39.5,98 41.2,95.7 42.8,93.5 41.1,92 39.3,90.3 37.6,92.6" fill="#3995ff"/>
<polygon points="136.6,82.9 138.6,83.6 140.7,84.2 142.2,84 143.7,83.7 141.6,83 139.5,82.3 138,82.5" fill="#00dbd0"/>
<polygon points="105.2,82.4 107.2,83.4 109.1,84.3 110.7,83.4 112.3,82.6 110.3,81.6 108.3,80.6 106.8,81.5" fill="#00e8cd"/>
<polygon points="73.9,86 75.7,87.2 77.6,88.4 79.2,86.9 80.9,85.4 79,84.2 77.1,82.9 75.5,84.4" fill="#02dcf6"/>
<polygon points="42.8,93.5 44.6,95 46.4,96.5 48,94.4 49.7,92.3 47.9,90.8 46.1,89.3 44.5,91.4" fill="#299fff"/>
<polygon points="143.7,83.7 145.8,84.4 147.9,84.9 149.3,84.8 150.8,84.7 148.7,84.1 146.6,83.4 145.1,83.5" fill="#00d4d4"/>
<polygon points="112.3,82.6 114.3,83.4 116.3,84.3 117.8,83.5 119.4,82.8 117.4,81.9 115.4,81 113.8,81.7" fill="#00e8cc"/>
<polygon points="80.9,85.4 82.7,86.6 84.6,87.7 86.3,86.3 87.9,85 86,83.8 84.1,82.6 82.5,84" fill="#00e2f2"/>
<polygon points="49.7,92.3 51.5,93.7 53.3,95.1 55,93.1 56.6,91.2 54.8,89.8 53,88.3 51.4,90.3" fill="#1ba9ff"/>
<polygon points="150.8,84.7 152.9,85.2 155.1,85.7 156.5,85.7 157.9,85.8 155.7,85.2 153.6,84.6 152.2,84.6" fill="#00cdd9"/>
<polygon points="119.4,82.8 121.4,83.6 123.4,84.4 125,83.7 126.5,83.2 124.4,82.4 122.4,81.5 120.9,82.1" fill="#00e8cd"/>
<polygon points="87.9,85 89.8,86.1 91.7,87.1 93.3,85.8 94.9,84.6 93,83.6 91.1,82.4 89.5,83.7" fill="#00e3e8"/>
<polygon points="56.6,91.2 58.4,92.5 60.3,93.8 61.9,91.9 63.6,90.1 61.8,88.8 59.9,87.4 58.3,89.3" fill="#14b5fd"/>
<polygon points="157.9,85.8 160,86.2 162.2,86.7 163.6,86.8 165,86.9 162.8,86.5 160.7,85.9 159.3,85.8" fill="#02c4da"/>
<polygon points="126.5,83.2 128.5,83.9 130.6,84.6 132.1,84.1 133.6,83.6 131.5,82.9 129.5,82.1 128,82.6" fill="#00e5cc"/>
<polygon points="94.9,84.6 96.9,85.6 98.8,86.6 100.4,85.5 102,84.4 100.1,83.4 98.1,82.4 96.5,83.5" fill="#00e5df"/>
<polygon points="63.6,90.1 65.4,91.4 67.3,92.6 68.9,90.9 70.6,89.2 68.7,88 66.9,86.6 65.2,88.4" fill="#0fc0fb"/>
<polygon points="32.7,99.6 34.4,101.1 36.1,102.6 37.8,100.3 39.5,98 37.7,96.4 36,94.9 34.3,97.2" fill="#5b80ff"/>
<polygon points="133.6,83.6 135.7,84.3 137.8,84.9 139.3,84.5 140.7,84.2 138.6,83.6 136.6,82.9 135.1,83.2" fill="#00e0cc"/>
<polygon points="102,84.4 104,85.3 106,86.2 107.6,85.2 109.1,84.3 107.2,83.4 105.2,82.4 103.6,83.4" fill="#00e6d8"/>
<polygon points="70.6,89.2 72.4,90.4 74.3,91.5 76,89.9 77.6,88.4 75.7,87.2 73.9,86 72.2,87.6" fill="#0acaf9"/>
<polygon points="39.5,98 41.3,99.4 43,100.9 44.7,98.7 46.4,96.5 44.6,95 42.8,93.5 41.2,95.7" fill="#488cff"/>
<polygon points="140.7,84.2 142.8,84.8 145,85.3 146.4,85.1 147.9,84.9 145.8,84.4 143.7,83.7 142.2,84" fill="#00dacd"/>
<polygon points="109.1,84.3 111.1,85.1 113.1,85.9 114.7,85.1 116.3,84.3 114.3,83.4 112.3,82.6 110.7,83.4" fill="#00e7d3"/>
<polygon points="77.6,88.4 79.5,89.5 81.4,90.6 83,89.1 84.6,87.7 82.7,86.6 80.9,85.4 79.2,86.9" fill="#06d4f7"/>
<polygon points="46.4,96.5 48.2,97.9 50,99.2 51.6,97.1 53.3,95.1 51.5,93.7 49.7,92.3 48,94.4" fill="#3797ff"/>
<polygon points="147.9,84.9 150,85.4 152.2,85.9 153.6,85.8 155.1,85.7 152.9,85.2 150.8,84.7 149.3,84.8" fill="#00d4cf"/>
<polygon points="116.3,84.3 118.3,85 120.3,85.7 121.9,85 123.4,84.4 121.4,83.6 119.4,82.8 117.8,83.5" fill="#00e8d0"/>
<polygon points="84.6,87.7 86.6,88.7 88.5,89.7 90.1,88.4 91.7,87.1 89.8,86.1 87.9,85 86.3,86.3" fill="#02dcf6"/>
<polygon points="53.3,95.1 55.1,96.4 56.9,97.7 58.6,95.7 60.3,93.8 58.4,92.5 56.6,91.2 55,93.1" fill="#27a1ff"/>
<polygon points="155.1,85.7 157.2,86.2 159.4,86.5 160.8,86.6 162.2,86.7 160,86.2 157.9,85.8 156.5,85.7" fill="#00cdd1"/>
<polygon points="123.4,84.4 125.5,85.1 127.5,85.7 129.1,85.1 130.6,84.6 128.5,83.9 126.5,83.2 125,83.7" fill="#00e8ce"/>
<polygon points="91.7,87.1 93.7,88 95.6,88.9 97.2,87.7 98.8,86.6 96.9,85.6 94.9,84.6 93.3,85.8" fill="#00e2f1"/>
<polygon points="60.3,93.8 62.1,95 63.9,96.2 65.6,94.4 67.3,92.6 65.4,91.4 63.6,90.1 61.9,91.9" fill="#19abff"/>
<polygon points="130.6,84.6 132.7,85.2 134.8,85.7 136.3,85.3 137.8,84.9 135.7,84.3 133.6,83.6 132.1,84.1" fill="#00e4ca"/>
<polygon points="98.8,86.6 100.8,87.5 102.8,88.3 104.4,87.2 106,86.2 104,85.3 102,84.4 100.4,85.5" fill="#00e4e6"/>
<polygon points="67.3,92.6 69.1,93.8 71,94.9 72.7,93.2 74.3,91.5 72.4,90.4 70.6,89.2 68.9,90.9" fill="#13b8fd"/>
<polygon points="36.1,102.6 37.9,104 39.7,105.4 41.4,103.1 43,100.9 41.3,99.4 39.5,98 37.8,100.3" fill="#677cff"/>
<polygon points="137.8,84.9 139.9,85.4 142,85.9 143.5,85.6 145,85.3 142.8,84.8 140.7,84.2 139.3,84.5" fill="#00dfc7"/>
<polygon points="106,86.2 108,87 110,87.7 111.6,86.8 113.1,85.9 111.1,85.1 109.1,84.3 107.6,85.2" fill="#00e5dd"/>
<polygon points="74.3,91.5 76.2,92.6 78.1,93.6 79.7,92.1 81.4,90.6 79.5,89.5 77.6,88.4 76,89.9" fill="#0ec3fa"/>
<polygon points="43,100.9 44.8,102.2 46.6,103.5 48.3,101.3 50,99.2 48.2,97.9 46.4,96.5 44.7,98.7" fill="#5583ff"/>
<polygon points="145,85.3 147.1,85.8 149.3,86.2 150.7,86 152.2,85.9 150,85.4 147.9,84.9 146.4,85.1" fill="#00d9c6"/>
<polygon points="113.1,85.9 115.2,86.6 117.2,87.3 118.8,86.5 120.3,85.7 118.3,85 116.3,84.3 114.7,85.1" fill="#00e7d5"/>
<polygon points="81.4,90.6 83.3,91.6 85.2,92.5 86.8,91.1 88.5,89.7 86.6,88.7 84.6,87.7 83,89.1" fill="#09cef8"/>
<polygon points="50,99.2 51.8,100.5 53.6,101.7 55.3,99.7 56.9,97.7 55.1,96.4 53.3,95.1 51.6,97.1" fill="#428fff"/>
<polygon points="152.2,85.9 154.4,86.3 156.6,86.6 158,86.5 159.4,86.5 157.2,86.2 155.1,85.7 153.6,85.8" fill="#00d3c5"/>
<polygon points="120.3,85.7 122.4,86.4 124.5,87 126,86.3 127.5,85.7 125.5,85.1 123.4,84.4 121.9,85" fill="#00e8cf"/>
<polygon points="88.5,89.7 90.4,90.6 92.4,91.5 94,90.2 95.6,88.9 93.7,88 91.7,87.1 90.1,88.4" fill="#04d8f7"/>
<polygon points="56.9,97.7 58.8,98.9 60.6,100 62.3,98.1 63.9,96.2 62.1,95 60.3,93.8 58.6,95.7" fill="#319bff"/>
<polygon points="127.5,85.7 129.6,86.2 131.7,86.7 133.2,86.2 134.8,85.7 132.7,85.2 130.6,84.6 129.1,85.1" fill="#00e8ca"/>
<polygon points="95.6,88.9 97.6,89.8 99.6,90.5 101.2,89.4 102.8,88.3 100.8,87.5 98.8,86.6 97.2,87.7" fill="#00e1f5"/>
<polygon points="63.9,96.2 65.8,97.3 67.7,98.4 69.3,96.6 71,94.9 69.1,93.8 67.3,92.6 65.6,94.4" fill="#20a5ff"/>
<polygon points="134.8,85.7 136.9,86.2 139,86.6 140.5,86.2 142,85.9 139.9,85.4 137.8,84.9 136.3,85.3" fill="#00e3c4"/>
<polygon points="102.8,88.3 104.8,89 106.8,89.7 108.4,88.7 110,87.7 108,87 106,86.2 104.4,87.2" fill="#00e3e8"/>
<polygon points="71,94.9 72.9,95.9 74.8,96.9 76.4,95.2 78.1,93.6 76.2,92.6 74.3,91.5 72.7,93.2" fill="#16b1fe"/>
<polygon points="39.7,105.4 41.4,106.7 43.2,108 44.9,105.7 46.6,103.5 44.8,102.2 43,100.9 41.4,103.1" fill="#707bff"/>
<polygon points="142,85.9 144.2,86.3 146.3,86.6 147.8,86.4 149.3,86.2 147.1,85.8 145,85.3 143.5,85.6" fill="#00dfbe"/>
<polygon points="110,87.7 112,88.4 114,89 115.6,88.1 117.2,87.3 115.2,86.6 113.1,85.9 111.6,86.8" fill="#00e5dd"/>
<polygon points="78.1,93.6 80,94.6 81.9,95.5 83.6,94 85.2,92.5 83.3,91.6 81.4,90.6 79.7,92.1" fill="#10bffb"/>
<polygon points="46.6,103.5 48.4,104.7 50.2,105.9 51.9,103.8 53.6,101.7 51.8,100.5 50,99.2 48.3,101.3" fill="#5f7dff"/>
<polygon points="149.3,86.2 151.5,86.5 153.7,86.8 155.1,86.6 156.6,86.6 154.4,86.3 152.2,85.9 150.7,86" fill="#00d9ba"/>
<polygon points="117.2,87.3 119.3,87.9 121.3,88.4 122.9,87.7 124.5,87 122.4,86.4 120.3,85.7 118.8,86.5" fill="#00e7d3"/>
<polygon points="85.2,92.5 87.1,93.4 89.1,94.2 90.7,92.8 92.4,91.5 90.4,90.6 88.5,89.7 86.8,91.1" fill="#0acbf9"/>
<polygon points="53.6,101.7 55.4,102.9 57.2,103.9 58.9,101.9 60.6,100 58.8,98.9 56.9,97.7 55.3,99.7" fill="#4b8aff"/>
<polygon points="124.5,87 126.5,87.5 128.6,87.9 130.2,87.3 131.7,86.7 129.6,86.2 127.5,85.7 126,86.3" fill="#00e9ca"/>
<polygon points="92.4,91.5 94.3,92.2 96.3,93 97.9,91.7 99.6,90.5 97.6,89.8 95.6,88.9 94,90.2" fill="#05d6f7"/>
<polygon points="60.6,100 62.4,101.1 64.3,102.1 66,100.2 67.7,98.4 65.8,97.3 63.9,96.2 62.3,98.1" fill="#3896ff"/>
<polygon points="131.7,86.7 133.8,87.2 136,87.5 137.5,87.1 139,86.6 136.9,86.2 134.8,85.7 133.2,86.2" fill="#00e7c2"/>
<polygon points="99.6,90.5 101.6,91.2 103.6,91.9 105.2,90.8 106.8,89.7 104.8,89 102.8,88.3 101.2,89.4" fill="#00e0f5"/>
<polygon points="67.7,98.4 69.5,99.4 71.4,100.3 73.1,98.6 74.8,96.9 72.9,95.9 71,94.9 69.3,96.6" fill="#26a2ff"/>
<polygon points="139,86.6 141.2,87 143.3,87.3 144.8,86.9 146.3,86.6 144.2,86.3 142,85.9 140.5,86.2" fill="#00e3b9"/>
<polygon points="106.8,89.7 108.8,90.3 110.8,90.9 112.4,89.9 114,89 112,88.4 110,87.7 108.4,88.7" fill="#00e4e6"/>
<polygon points="74.8,96.9 76.7,97.8 78.6,98.6 80.2,97 81.9,95.5 80,94.6 78.1,93.6 76.4,95.2" fill="#17aefe"/>
<polygon points="43.2,108 45,109.2 46.8,110.3 48.5,108.1 50.2,105.9 48.4,104.7 46.6,103.5 44.9,105.7" fill="#777aff"/>
<polygon points="146.3,86.6 148.5,86.9 150.7,87.1 152.2,86.9 153.7,86.8 151.5,86.5 149.3,86.2 147.8,86.4" fill="#00dfb1"/>
<polygon points="114,89 116.1,89.5 118.2,90 119.8,89.2 121.3,88.4 119.3,87.9 117.2,87.3 115.6,88.1" fill="#00e6d9"/>
<polygon points="81.9,95.5 83.8,96.3 85.8,97.1 87.4,95.6 89.1,94.2 87.1,93.4 85.2,92.5 83.6,94" fill="#11bcfc"/>
<polygon points="50.2,105.9 52,107 53.8,108.1 55.5,106 57.2,103.9 55.4,102.9 53.6,101.7 51.9,103.8" fill="#657cff"/>
<polygon points="121.3,88.4 123.4,88.9 125.5,89.3 127.1,88.6 128.6,87.9 126.5,87.5 124.5,87 122.9,87.7" fill="#00e8cc"/>
<polygon points="89.1,94.2 91,94.9 93,95.6 94.7,94.3 96.3,93 94.3,92.2 92.4,91.5 90.7,92.8" fill="#0acaf9"/>
<polygon points="57.2,103.9 59.1,105 60.9,105.9 62.6,104 64.3,102.1 62.4,101.1 60.6,100 58.9,101.9" fill="#5186ff"/>
<polygon points="128.6,87.9 130.8,88.3 132.9,88.6 134.4,88 136,87.5 133.8,87.2 131.7,86.7 130.2,87.3" fill="#00eac1"/>
<polygon points="96.3,93 98.3,93.6 100.3,94.2 101.9,93 103.6,91.9 101.6,91.2 99.6,90.5 97.9,91.7" fill="#05d7f7"/>
<polygon points="64.3,102.1 66.2,103 68,103.9 69.7,102.1 71.4,100.3 69.5,99.4 67.7,98.4 66,100.2" fill="#3c93ff"/>
<polygon points="136,87.5 138.1,87.8 140.3,88 141.8,87.6 143.3,87.3 141.2,87 139,86.6 137.5,87.1" fill="#00e8b5"/>
<polygon points="103.6,91.9 105.6,92.5 107.6,93 109.2,91.9 110.8,90.9 108.8,90.3 106.8,89.7 105.2,90.8" fill="#00e1f3"/>
<polygon points="71.4,100.3 73.3,101.2 75.2,102 76.9,100.3 78.6,98.6 76.7,97.8 74.8,96.9 73.1,98.6" fill="#29a0ff"/>
<polygon points="143.3,87.3 145.5,87.5 147.7,87.6 149.2,87.3 150.7,87.1 148.5,86.9 146.3,86.6 144.8,86.9" fill="#00e4aa"/>
<polygon points="110.8,90.9 112.9,91.4 115,91.8 116.6,90.9 118.2,90 116.1,89.5 114,89 112.4,89.9" fill="#00e5e1"/>
<polygon points="78.6,98.6 80.5,99.4 82.4,100.1 84.1,98.6 85.8,97.1 83.8,96.3 81.9,95.5 80.2,97" fill="#18adff"/>
<polygon points="46.8,110.3 48.6,111.4 50.4,112.4 52.1,110.2 53.8,108.1 52,107 50.2,105.9 48.5,108.1" fill="#7d79ff"/>
<polygon points="118.2,90 120.3,90.4 122.4,90.8 123.9,90 125.5,89.3 123.4,88.9 121.3,88.4 119.8,89.2" fill="#00e7d0"/>
<polygon points="85.8,97.1 87.7,97.8 89.7,98.4 91.4,97 93,95.6 91,94.9 89.1,94.2 87.4,95.6" fill="#11bdfc"/>
<polygon points="53.8,108.1 55.7,109.1 57.5,110 59.2,108 60.9,105.9 59.1,105 57.2,103.9 55.5,106" fill="#697cff"/>
<polygon points="125.5,89.3 127.6,89.6 129.8,89.8 131.3,89.2 132.9,88.6 130.8,88.3 128.6,87.9 127.1,88.6" fill="#00eac2"/>
<polygon points="93,95.6 95,96.2 97,96.7 98.7,95.5 100.3,94.2 98.3,93.6 96.3,93 94.7,94.3" fill="#0accf9"/>
<polygon points="60.9,105.9 62.8,106.9 64.7,107.7 66.4,105.8 68,103.9 66.2,103 64.3,102.1 62.6,104" fill="#5484ff"/>
<polygon points="132.9,88.6 135.1,88.8 137.2,89 138.8,88.5 140.3,88 138.1,87.8 136,87.5 134.4,88" fill="#00ebb4"/>
<polygon points="100.3,94.2 102.3,94.8 104.4,95.2 106,94.1 107.6,93 105.6,92.5 103.6,91.9 101.9,93" fill="#03daf6"/>
<polygon points="68,103.9 69.9,104.7 71.8,105.5 73.5,103.7 75.2,102 73.3,101.2 71.4,100.3 69.7,102.1" fill="#3e92ff"/>
<polygon points="140.3,88 142.5,88.2 144.7,88.3 146.2,87.9 147.7,87.6 145.5,87.5 143.3,87.3 141.8,87.6" fill="#00e8a5"/>
<polygon points="107.6,93 109.7,93.4 111.7,93.8 113.4,92.8 115,91.8 112.9,91.4 110.8,90.9 109.2,91.9" fill="#00e3eb"/>
<polygon points="75.2,102 77.1,102.7 79.1,103.4 80.8,101.7 82.4,100.1 80.5,99.4 78.6,98.6 76.9,100.3" fill="#29a0ff"/>
<polygon points="115,91.8 117.1,92.2 119.2,92.5 120.8,91.6 122.4,90.8 120.3,90.4 118.2,90 116.6,90.9" fill="#00e6d7"/>
<polygon points="82.4,100.1 84.4,100.8 86.4,101.4 88,99.9 89.7,98.4 87.7,97.8 85.8,97.1 84.1,98.6" fill="#17aefe"/>
<polygon points="50.4,112.4 52.3,113.4 54.1,114.2 55.8,112.1 57.5,110 55.7,109.1 53.8,108.1 52.1,110.2" fill="#8079ff"/>
<polygon points="122.4,90.8 124.5,91 126.6,91.3 128.2,90.5 129.8,89.8 127.6,89.6 125.5,89.3 123.9,90" fill="#00eac4"/>
<polygon points="89.7,98.4 91.7,99 93.7,99.5 95.3,98.1 97,96.7 95,96.2 93,95.6 91.4,97" fill="#0fbffb"/>
<polygon points="57.5,110 59.4,110.9 61.2,111.7 63,109.7 64.7,107.7 62.8,106.9 60.9,105.9 59.2,108" fill="#6b7cff"/>
<polygon points="129.8,89.8 131.9,90 134.1,90.1 135.7,89.6 137.2,89 135.1,88.8 132.9,88.6 131.3,89.2" fill="#00edb3"/>
<polygon points="97,96.7 99,97.2 101.1,97.6 102.7,96.4 104.4,95.2 102.3,94.8 100.3,94.2 98.7,95.5" fill="#08d0f8"/>
<polygon points="64.7,107.7 66.5,108.5 68.4,109.2 70.1,107.3 71.8,105.5 69.9,104.7 68,103.9 66.4,105.8" fill="#5583ff"/>
<polygon points="137.2,89 139.4,89.1 141.6,89.1 143.2,88.7 144.7,88.3 142.5,88.2 140.3,88 138.8,88.5" fill="#00eca1"/>
<polygon points="104.4,95.2 106.4,95.6 108.5,95.9 110.1,94.8 111.7,93.8 109.7,93.4 107.6,93 106,94.1" fill="#01dff5"/>
<polygon points="71.8,105.5 73.8,106.2 75.7,106.8 77.4,105.1 79.1,103.4 77.1,102.7 75.2,102 73.5,103.7" fill="#3d93ff"/>
<polygon points="111.7,93.8 113.8,94.1 115.9,94.3 117.5,93.4 119.2,92.5 117.1,92.2 115,91.8 113.4,92.8" fill="#00e5e0"/>
<polygon points="79.1,103.4 81,104 83,104.5 84.7,102.9 86.4,101.4 84.4,100.8 82.4,100.1 80.8,101.7" fill="#26a1ff"/>
<polygon points="119.2,92.5 121.3,92.7 123.4,92.8 125,92 126.6,91.3 124.5,91 122.4,90.8 120.8,91.6" fill="#00e9c9"/>
<polygon points="86.4,101.4 88.3,101.9 90.3,102.4 92,100.9 93.7,99.5 91.7,99 89.7,98.4 88,99.9" fill="#16b1fe"/>
<polygon points="54.1,114.2 56,115.1 57.8,115.8 59.5,113.7 61.2,111.7 59.4,110.9 57.5,110 55.8,112.1" fill="#8079ff"/>
<polygon points="126.6,91.3 128.8,91.4 131,91.5 132.5,90.8 134.1,90.1 131.9,90 129.8,89.8 128.2,90.5" fill="#00edb4"/>
<polygon points="93.7,99.5 95.7,99.9 97.7,100.3 99.4,98.9 101.1,97.6 99,97.2 97,96.7 95.3,98.1" fill="#0dc4fa"/>
<polygon points="61.2,111.7 63.1,112.4 65,113.1 66.7,111.1 68.4,109.2 66.5,108.5 64.7,107.7 63,109.7" fill="#6a7cff"/>
<polygon points="134.1,90.1 136.3,90.2 138.5,90.2 140.1,89.6 141.6,89.1 139.4,89.1 137.2,89 135.7,89.6" fill="#00f0a0"/>
<polygon points="101.1,97.6 103.1,98 105.2,98.3 106.8,97.1 108.5,95.9 106.4,95.6 104.4,95.2 102.7,96.4" fill="#05d6f7"/>
<polygon points="68.4,109.2 70.3,109.9 72.3,110.4 74,108.6 75.7,106.8 73.8,106.2 71.8,105.5 70.1,107.3" fill="#5385ff"/>
<polygon points="108.5,95.9 110.5,96.2 112.7,96.4 114.3,95.3 115.9,94.3 113.8,94.1 111.7,93.8 110.1,94.8" fill="#00e3eb"/>
<polygon points="75.7,106.8 77.6,107.4 79.6,107.9 81.3,106.2 83,104.5 81,104 79.1,103.4 77.4,105.1" fill="#3a95ff"/>
<polygon points="115.9,94.3 118,94.5 120.2,94.6 121.8,93.7 123.4,92.8 121.3,92.7 119.2,92.5 117.5,93.4" fill="#00e8d0"/>
<polygon points="83,104.5 85,105 86.9,105.4 88.6,103.9 90.3,102.4 88.3,101.9 86.4,101.4 84.7,102.9" fill="#21a5ff"/>
<polygon points="123.4,92.8 125.6,92.9 127.8,92.9 129.4,92.2 131,91.5 128.8,91.4 126.6,91.3 125,92" fill="#00ecb7"/>
<polygon points="90.3,102.4 92.3,102.7 94.4,103.1 96,101.6 97.7,100.3 95.7,99.9 93.7,99.5 92,100.9" fill="#13b8fd"/>
<polygon points="57.8,115.8 59.7,116.5 61.6,117.2 63.3,115.1 65,113.1 63.1,112.4 61.2,111.7 59.5,113.7" fill="#7f79ff"/>
<polygon points="131,91.5 133.1,91.4 135.4,91.4 137,90.7 138.5,90.2 136.3,90.2 134.1,90.1 132.5,90.8" fill="#00f09f"/>
<polygon points="97.7,100.3 99.8,100.6 101.8,100.8 103.5,99.5 105.2,98.3 103.1,98 101.1,97.6 99.4,98.9" fill="#0accf9"/>
<polygon points="65,113.1 66.9,113.7 68.8,114.3 70.6,112.3 72.3,110.4 70.3,109.9 68.4,109.2 66.7,111.1" fill="#687cff"/>
<polygon points="105.2,98.3 107.2,98.5 109.3,98.6 111,97.5 112.7,96.4 110.5,96.2 108.5,95.9 106.8,97.1" fill="#01dff5"/>
<polygon points="72.3,110.4 74.2,111 76.2,111.4 77.9,109.6 79.6,107.9 77.6,107.4 75.7,106.8 74,108.6" fill="#4e88ff"/>
<polygon points="112.7,96.4 114.8,96.5 116.9,96.6 118.5,95.6 120.2,94.6 118,94.5 115.9,94.3 114.3,95.3" fill="#00e6d9"/>
<polygon points="79.6,107.9 81.6,108.3 83.5,108.7 85.2,107 86.9,105.4 85,105 83,104.5 81.3,106.2" fill="#3399ff"/>
<polygon points="120.2,94.6 122.3,94.6 124.5,94.6 126.1,93.7 127.8,92.9 125.6,92.9 123.4,92.8 121.8,93.7" fill="#00ebbc"/>
<polygon points="86.9,105.4 88.9,105.8 91,106.1 92.7,104.5 94.4,103.1 92.3,102.7 90.3,102.4 88.6,103.9" fill="#1aaaff"/>
<polygon points="127.8,92.9 130,92.9 132.2,92.7 133.8,92 135.4,91.4 133.1,91.4 131,91.5 129.4,92.2" fill="#00f0a1"/>
<polygon points="94.4,103.1 96.4,103.3 98.5,103.5 100.1,102.1 101.8,100.8 99.8,100.6 97.7,100.3 96,101.6" fill="#0fc0fb"/>
<polygon points="61.6,117.2 63.5,117.8 65.4,118.3 67.1,116.2 68.8,114.3 66.9,113.7 65,113.1 63.3,115.1" fill="#7c79ff"/>
<polygon points="101.8,100.8 103.9,101 106,101.1 107.7,99.8 109.3,98.6 107.2,98.5 105.2,98.3 103.5,99.5" fill="#05d6f7"/>
<polygon points="68.8,114.3 70.8,114.7 72.7,115.2 74.4,113.3 76.2,111.4 74.2,111 72.3,110.4 70.6,112.3" fill="#637cff"/>
<polygon points="109.3,98.6 111.5,98.7 113.6,98.7 115.3,97.6 116.9,96.6 114.8,96.5 112.7,96.4 111,97.5" fill="#00e4e5"/>
<polygon points="76.2,111.4 78.1,111.8 80.1,112.2 81.8,110.4 83.5,108.7 81.6,108.3 79.6,107.9 77.9,109.6" fill="#478cff"/>
<polygon points="116.9,96.6 119.1,96.5 121.2,96.5 122.9,95.5 124.5,94.6 122.3,94.6 120.2,94.6 118.5,95.6" fill="#00eac4"/>
<polygon points="83.5,108.7 85.5,109 87.5,109.2 89.3,107.6 91,106.1 88.9,105.8 86.9,105.4 85.2,107" fill="#2b9fff"/>
<polygon points="124.5,94.6 126.7,94.5 128.9,94.3 130.6,93.5 132.2,92.7 130,92.9 127.8,92.9 126.1,93.7" fill="#00efa4"/>
<polygon points="91,106.1 93,106.3 95.1,106.4 96.8,104.9 98.5,103.5 96.4,103.3 94.4,103.1 92.7,104.5" fill="#15b3fd"/>
<polygon points="98.5,103.5 100.5,103.6 102.6,103.7 104.3,102.3 106,101.1 103.9,101 101.8,100.8 100.1,102.1" fill="#0acbf9"/>
<polygon points="65.4,118.3 67.3,118.7 69.2,119.1 71,117.1 72.7,115.2 70.8,114.7 68.8,114.3 67.1,116.2" fill="#767aff"/>
<polygon points="106,101.1 108.1,101.1 110.2,101 111.9,99.8 113.6,98.7 111.5,98.7 109.3,98.6 107.7,99.8" fill="#00e1f3"/>
<polygon points="72.7,115.2 74.7,115.5 76.6,115.8 78.4,114 80.1,112.2 78.1,111.8 76.2,111.4 74.4,113.3" fill="#5c7fff"/>
<polygon points="113.6,98.7 115.8,98.6 117.9,98.5 119.6,97.4 121.2,96.5 119.1,96.5 116.9,96.6 115.3,97.6" fill="#00e8ce"/>
<polygon points="80.1,112.2 82.1,112.4 84.1,112.6 85.8,110.9 87.5,109.2 85.5,109 83.5,108.7 81.8,110.4" fill="#3d93ff"/>
<polygon points="121.2,96.5 123.4,96.3 125.7,96 127.3,95.2 128.9,94.3 126.7,94.5 124.5,94.6 122.9,95.5" fill="#00eeaa"/>
<polygon points="87.5,109.2 89.6,109.4 91.6,109.5 93.3,107.9 95.1,106.4 93,106.3 91,106.1 89.3,107.6" fill="#1fa6ff"/>
<polygon points="95.1,106.4 97.1,106.5 99.2,106.5 100.9,105 102.6,103.7 100.5,103.6 98.5,103.5 96.8,104.9" fill="#0fbffb"/>
<polygon points="102.6,103.7 104.7,103.6 106.9,103.5 108.6,102.3 110.2,101 108.1,101.1 106,101.1 104.3,102.3" fill="#04d8f7"/>
<polygon points="69.2,119.1 71.2,119.4 73.1,119.6 74.9,117.7 76.6,115.8 74.7,115.5 72.7,115.2 71,117.1" fill="#6f7bff"/>
<polygon points="110.2,101 112.4,100.9 114.6,100.7 116.3,99.6 117.9,98.5 115.8,98.6 113.6,98.7 111.9,99.8" fill="#00e6da"/>
<polygon points="76.6,115.8 78.6,116 80.6,116.2 82.4,114.4 84.1,112.6 82.1,112.4 80.1,112.2 78.4,114" fill="#5186ff"/>
<polygon points="117.9,98.5 120.1,98.3 122.3,98 124,97 125.7,96 123.4,96.3 121.2,96.5 119.6,97.4" fill="#00edb2"/>
<polygon points="84.1,112.6 86.1,112.7 88.2,112.8 89.9,111.1 91.6,109.5 89.6,109.4 87.5,109.2 85.8,110.9" fill="#309bff"/>
<polygon points="91.6,109.5 93.7,109.5 95.8,109.5 97.5,107.9 99.2,106.5 97.1,106.5 95.1,106.4 93.3,107.9" fill="#16b1fe"/>
<polygon points="99.2,106.5 101.3,106.4 103.4,106.2 105.2,104.9 106.9,103.5 104.7,103.6 102.6,103.7 100.9,105" fill="#09cdf9"/>
<polygon points="106.9,103.5 109,103.4 111.2,103.1 112.9,101.9 114.6,100.7 112.4,100.9 110.2,101 108.6,102.3" fill="#00e3e9"/>
<polygon points="73.1,119.6 75.1,119.8 77.1,119.9 78.9,118 80.6,116.2 78.6,116 76.6,115.8 74.9,117.7" fill="#657cff"/>
<polygon points="114.6,100.7 116.8,100.4 119,100.1 120.7,99 122.3,98 120.1,98.3 117.9,98.5 116.3,99.6" fill="#00ebbd"/>
<polygon points="80.6,116.2 82.6,116.2 84.7,116.2 86.4,114.5 88.2,112.8 86.1,112.7 84.1,112.6 82.4,114.4" fill="#438fff"/>
<polygon points="88.2,112.8 90.2,112.7 92.3,112.6 94,111 95.8,109.5 93.7,109.5 91.6,109.5 89.9,111.1" fill="#21a5ff"/>
<polygon points="95.8,109.5 97.9,109.3 100,109.1 101.7,107.7 103.4,106.2 101.3,106.4 99.2,106.5 97.5,107.9" fill="#0fc1fb"/>
<polygon points="103.4,106.2 105.6,106 107.8,105.7 109.5,104.4 111.2,103.1 109,103.4 106.9,103.5 105.2,104.9" fill="#01def6"/>
<polygon points="111.2,103.1 113.4,102.8 115.6,102.4 117.3,101.2 119,100.1 116.8,100.4 114.6,100.7 112.9,101.9" fill="#00e9ca"/>
<polygon points="77.1,119.9 79.1,119.9 81.1,119.9 82.9,118 84.7,116.2 82.6,116.2 80.6,116.2 78.9,118" fill="#5882ff"/>
<polygon points="84.7,116.2 86.7,116.2 88.8,116 90.5,114.3 92.3,112.6 90.2,112.7 88.2,112.8 86.4,114.5" fill="#3399ff"/>
<polygon points="92.3,112.6 94.4,112.5 96.5,112.2 98.3,110.7 100,109.1 97.9,109.3 95.8,109.5 94,111" fill="#15b3fd"/>
<polygon points="100,109.1 102.1,108.9 104.3,108.5 106,107.1 107.8,105.7 105.6,106 103.4,106.2 101.7,107.7" fill="#07d3f8"/>
<polygon points="107.8,105.7 109.9,105.4 112.1,104.9 113.9,103.6 115.6,102.4 113.4,102.8 111.2,103.1 109.5,104.4" fill="#00e6d9"/>
<polygon points="81.1,119.9 83.2,119.8 85.3,119.6 87,117.8 88.8,116 86.7,116.2 84.7,116.2 82.9,118" fill="#468dff"/>
<polygon points="88.8,116 90.9,115.8 93,115.5 94.7,113.9 96.5,112.2 94.4,112.5 92.3,112.6 90.5,114.3" fill="#20a6ff"/>
<polygon points="96.5,112.2 98.6,111.9 100.8,111.5 102.5,110 104.3,108.5 102.1,108.9 100,109.1 98.3,110.7" fill="#0cc6fa"/>
<polygon points="104.3,108.5 106.5,108.1 108.7,107.6 110.4,106.2 112.1,104.9 109.9,105.4 107.8,105.7 106,107.1" fill="#00e3eb"/>
<polygon points="85.3,119.6 87.3,119.3 89.4,119 91.2,117.2 93,115.5 90.9,115.8 88.8,116 87,117.8" fill="#329aff"/>
<polygon points="93,115.5 95.1,115.2 97.3,114.7 99,113.1 100.8,111.5 98.6,111.9 96.5,112.2 94.7,113.9" fill="#13b8fd"/>
<polygon points="100.8,111.5 103,111 105.2,110.5 106.9,109 108.7,107.6 106.5,108.1 104.3,108.5 102.5,110" fill="#03dbf6"/>
<polygon points="89.4,119 91.6,118.6 93.7,118.1 95.5,116.4 97.3,114.7 95.1,115.2 93,115.5 91.2,117.2" fill="#1ba9ff"/>
<polygon points="97.3,114.7 99.4,114.2 101.6,113.6 103.4,112 105.2,110.5 103,111 100.8,111.5 99,113.1" fill="#09cef8"/>
<polygon points="93.7,118.1 95.9,117.5 98,116.9 99.8,115.2 101.6,113.6 99.4,114.2 97.3,114.7 95.5,116.4" fill="#0fbffb"/>
</g>
<circle cx="64" cy="47.5" r="1.55" fill="#e30b0b" stroke="#6e0000" stroke-width="0.5"/>
<circle cx="124.1" cy="62.7" r="1.55" fill="#e30b0b" stroke="#6e0000" stroke-width="0.5"/>
<circle cx="152.2" cy="78.5" r="1.55" fill="#e30b0b" stroke="#6e0000" stroke-width="0.5"/>
<circle cx="91.2" cy="77.3" r="1.55" fill="#e30b0b" stroke="#6e0000" stroke-width="0.5"/>
<circle cx="82.6" cy="118.2" r="1.55" fill="#e30b0b" stroke="#6e0000" stroke-width="0.5"/>
<circle cx="29.3" cy="97.5" r="1.55" fill="#fff" stroke="#b85050" stroke-width="0.6"/></g>
<g id="pb"><polygon points="222.8,137.2 290,171.5 357.4,137.5 290.2,110.2" fill="#5b5b5b"/>
<polyline points="239.8,145.9 240.3,146 241.5,146.5 242.8,147 244.1,147.4 245.3,147.9 246.6,148.3 247.8,148.8 247.9,148.8 249.2,149.3 250.4,149.8 251.7,150.2 253,150.7 254.3,151.2 255.6,151.7 256.6,152 256.9,152.2 258.2,152.6 259.5,153.1 260.8,153.6 262.1,154.1 263.4,154.6 264.7,155.1 266,155.6 266.3,155.8 267.3,156.1 268.6,156.7 269.9,157.2 271.2,157.7 272.5,158.2 273.8,158.7 275.2,159.3 276.5,159.8 277.8,160.4 278,160.4 279.1,160.9 280.4,161.4 281.7,162 283.1,162.5 284.4,163.1 285.7,163.7 287,164.2 288.3,164.8 289.7,165.4 291,166 292.3,166.6 293.6,167.2 294.9,167.8 296.2,168.4" fill="none" stroke="#0a55f5" stroke-width="1.2" stroke-linecap="round"/>
<polyline points="227,135.5 228.3,135.8 229.6,136.2 230.1,136.4 230.9,136.6 232.2,137 233.5,137.4 234.9,137.8 235.5,138 236.2,138.2 237.5,138.5 238.8,138.9 240.1,139.3 241,139.6 241.5,139.7 242.8,140.1 244.2,140.5 245.5,140.9 246.5,141.2 246.9,141.3 248.2,141.7 249.6,142.1 250.9,142.5 252,142.8 252.3,142.9 253.7,143.3 255.1,143.7 256.4,144.1 257.5,144.4 257.8,144.5 259.2,144.9 260.6,145.3 262,145.7 263.1,146 263.4,146.1 264.9,146.5 266.3,146.9 267.7,147.3 268.7,147.6 269.1,147.7 270.6,148.1 272,148.5 273.5,148.9 274.3,149.2 274.9,149.4 276.4,149.8 277.9,150.2 279.3,150.6 279.8,150.7 280.8,151 282.3,151.4 283.8,151.8 285.3,152.2 285.3,152.3 286.8,152.7 288.3,153.1 289.8,153.5 290.8,153.8 291.3,153.9 292.9,154.3 294.4,154.7 296,155.1 296.2,155.2 297.5,155.5 299.1,156 300.7,156.4 301.5,156.6 302.3,156.8 303.8,157.2 305.5,157.6 306.7,157.9 307.1,158 308.7,158.4 310.3,158.8 311.7,159.1 312,159.2 313.6,159.6" fill="none" stroke="#00cfa8" stroke-width="1.2" stroke-linecap="round"/>
<polyline points="352.2,140.1 352.1,139.9 352,139.1 351.9,138.9 351.7,138.1 351.7,137.9 351.5,137 351.5,136.8 351.3,136 351.2,135.8 351,135.1 351,134.8" fill="none" stroke="#00cfa8" stroke-width="1.2" stroke-linecap="round"/>
<polyline points="235.7,132 237.1,132.3 237.6,132.4 238.5,132.6 239.9,133 241.3,133.3 241.8,133.4 242.8,133.6 244.2,133.9 245.6,134.3 246,134.4 247.1,134.6 248.5,134.9 250,135.2 250.1,135.3 251.5,135.6 252.9,135.9 254.1,136.1 254.4,136.2 255.9,136.5 257.4,136.8 258,136.9 258.9,137.1 260.5,137.4 261.9,137.7 262,137.7 263.6,138 265.1,138.3 265.7,138.5 266.7,138.6 268.3,138.9 269.3,139.1 269.9,139.2 271.5,139.5 272.9,139.8 273.2,139.8 274.8,140.1 276.4,140.3 276.5,140.3 278.2,140.6 279.7,140.8 279.9,140.9 281.6,141.1 283,141.3 283.4,141.3 285.2,141.6 286.1,141.7 287,141.8 288.8,142 289.1,142 290.7,142.2 292,142.3 292.6,142.3 294.6,142.5 294.7,142.5 296.6,142.6 297.3,142.7 298.7,142.7 299.8,142.7 300.9,142.8 302.1,142.8 303.2,142.8 304.4,142.8 305.6,142.7 306.5,142.7 308.3,142.6 308.5,142.5 310.3,142.4 311.2,142.2 312.1,142.1 313.7,141.9 314.8,141.6 315.3,141.5 316.7,141.2 318.1,140.8 319.3,140.3 320.5,139.9 321.6,139.4 322.7,138.8 323.6,138.3 324.5,137.7 325.3,137.1 326.1,136.5 326.5,136.1 326.8,135.8 327.5,135.2 328.1,134.5 328.3,134.2 328.6,133.8 329.1,133.1 329.5,132.6 329.6,132.4 330.1,131.7 330.4,131.1 330.5,130.9 330.9,130.2 331,129.8 331.2,129.5 331.5,128.7 331.6,128.5 331.8,127.9 332,127.3 332.1,127.2" fill="none" stroke="#14d232" stroke-width="1.2" stroke-linecap="round"/>
<polyline points="246.5,127.7 247.5,127.8 248.1,127.9 249.7,128.1 250.7,128.3 251.3,128.4 252.9,128.6 253.8,128.7 254.6,128.8 256.2,129 256.8,129.1 257.9,129.2 259.6,129.4 259.7,129.4 261.3,129.6 262.5,129.8 263.1,129.8 264.8,130 265.3,130 266.7,130.1 267.9,130.3 268.5,130.3 270.4,130.4 270.5,130.4 272.3,130.5 273,130.6 274.3,130.6 275.4,130.7 276.3,130.7 277.8,130.8 278.3,130.8 280,130.8 280.5,130.8 282.2,130.8 282.7,130.8 284.2,130.7 285.1,130.7 286.2,130.7 287.6,130.6 288.1,130.5 290,130.4 290.3,130.4 291.7,130.2 293.3,130 293.4,130 295,129.7 296.6,129.5 296.8,129.4 298,129.2 299.4,128.8 300.8,128.5 301.8,128.2 302.1,128.1 303.3,127.7 304.4,127.3 305.5,126.8 306.6,126.4 307.6,125.9 308.5,125.4 309.4,124.9 309.8,124.7 310.3,124.4 311.1,123.8 311.9,123.3 312.6,122.7 313.1,122.3 313.3,122.1 314,121.5 314.6,120.9 315,120.5 315.2,120.3" fill="none" stroke="#96dc14" stroke-width="1.2" stroke-linecap="round"/>
<polyline points="261.6,121.6 263.7,121.6 263.8,121.6 265.8,121.6 265.9,121.6 267.9,121.6 268.1,121.6 269.8,121.5 270.4,121.5 271.7,121.4 272.9,121.3 273.5,121.3 275.3,121.2 275.5,121.1 277,121 278.4,120.8 278.6,120.8 280.2,120.6 281.6,120.4 281.8,120.3 283.2,120.1 284.7,119.8 285.6,119.6 286,119.5 287.4,119.2 288.6,118.8 289.9,118.5 291,118.1 292.2,117.7 292.7,117.5 293.3,117.3 294.3,116.9 295.3,116.5 295.9,116.2 296.3,116 297.2,115.5 298.1,115.1 299,114.6 299.8,114.1" fill="none" stroke="#e6c800" stroke-width="1.2" stroke-linecap="round"/>
<polygon points="221.6,114.8 290.2,89.8 290.2,18.9 217.7,36.7" fill="#fff"/>
<polygon points="290.2,89.8 358.6,115.1 362.5,36.9 290.2,18.9" fill="#fff"/>
<path d="M222.8,137.2 L217.7,36.7 M236.6,109.4 L233.6,32.8 M250.9,104.2 L248.7,29.1 M264.5,99.2 L263.2,25.5 M277.6,94.4 L277,22.1 M290.2,110.2 L290.2,18.9 M300.5,93.6 L301.1,21.6 M311.3,97.6 L312.4,24.4 M322.5,101.7 L324.2,27.4 M334,106 L336.5,30.4 M346.1,110.5 L349.3,33.6 M357.4,137.5 L362.5,36.9 M221.6,114.8 L290.2,89.8 L358.6,115.1 M221.6,114.8 L220.3,114.8 M220.7,96.1 L290.2,72.7 L359.5,96.4 M220.7,96.1 L219.4,96.1 M219.7,76.9 L290.2,55.2 L360.5,77.1 M219.7,76.9 L218.4,76.9 M218.7,57 L290.2,37.3 L361.5,57.3 M218.7,57 L217.4,57 M217.7,36.7 L290.2,18.9 L362.5,36.9 M217.7,36.7 L216.4,36.7" fill="none" stroke="#3c3c3c" stroke-width="0.7"/>
<line x1="256.7" y1="35.5" x2="256.7" y2="40" stroke="#555" stroke-width="0.6"/>
<line x1="344.9" y1="78.1" x2="344.9" y2="84" stroke="#555" stroke-width="0.6"/>
<line x1="290.3" y1="13.3" x2="290.3" y2="23" stroke="#555" stroke-width="0.6"/>
<g stroke="#000" stroke-opacity="0.8" stroke-width="0.45" stroke-linejoin="round">
<polygon points="287.2,23.6 289,25.8 290.8,28 292.3,27.7 293.7,27.4 291.9,25.2 290.2,22.9 288.7,23.2" fill="#d11f00"/>
<polygon points="284.3,24.4 286,26.6 287.8,28.8 289.3,28.3 290.8,28 289,25.8 287.2,23.6 285.7,24" fill="#d61f00"/>
<polygon points="290.8,28 292.6,30.1 294.4,32.3 295.9,32.1 297.3,31.8 295.5,29.6 293.7,27.4 292.3,27.7" fill="#d65300"/>
<polygon points="281.3,25.6 283.1,27.7 284.9,29.8 286.4,29.3 287.8,28.8 286,26.6 284.3,24.4 282.8,25" fill="#dc2300"/>
<polygon points="287.8,28.8 289.6,30.9 291.5,33 292.9,32.7 294.4,32.3 292.6,30.1 290.8,28 289.3,28.3" fill="#db5300"/>
<polygon points="294.4,32.3 296.2,34.5 298.1,36.6 299.5,36.4 301,36.2 299.2,34.1 297.3,31.8 295.9,32.1" fill="#d88200"/>
<polygon points="278.2,27 280,29.1 281.8,31.2 283.3,30.5 284.9,29.8 283.1,27.7 281.3,25.6 279.7,26.3" fill="#e12b00"/>
<polygon points="284.9,29.8 286.7,31.9 288.5,34 290,33.5 291.5,33 289.6,30.9 287.8,28.8 286.4,29.3" fill="#e15700"/>
<polygon points="291.5,33 293.3,35.2 295.1,37.3 296.6,36.9 298.1,36.6 296.2,34.5 294.4,32.3 292.9,32.7" fill="#de8200"/>
<polygon points="298.1,36.6 299.9,38.8 301.7,40.9 303.2,40.7 304.6,40.6 302.8,38.4 301,36.2 299.5,36.4" fill="#d7a700"/>
<polygon points="275.2,28.7 277,30.7 278.8,32.8 280.3,31.9 281.8,31.2 280,29.1 278.2,27 276.7,27.8" fill="#e73800"/>
<polygon points="281.8,31.2 283.6,33.2 285.5,35.3 287,34.6 288.5,34 286.7,31.9 284.9,29.8 283.3,30.5" fill="#e65f00"/>
<polygon points="288.5,34 290.3,36.1 292.1,38.2 293.6,37.7 295.1,37.3 293.3,35.2 291.5,33 290,33.5" fill="#e38600"/>
<polygon points="295.1,37.3 296.9,39.4 298.8,41.5 300.3,41.2 301.7,40.9 299.9,38.8 298.1,36.6 296.6,36.9" fill="#dda800"/>
<polygon points="301.7,40.9 303.6,43 305.4,45.1 306.9,45 308.3,44.9 306.5,42.8 304.6,40.6 303.2,40.7" fill="#d3c801"/>
<polygon points="272.1,30.6 273.9,32.6 275.7,34.6 277.3,33.7 278.8,32.8 277,30.7 275.2,28.7 273.7,29.6" fill="#ed4a00"/>
<polygon points="278.8,32.8 280.6,34.8 282.4,36.8 283.9,36 285.5,35.3 283.6,33.2 281.8,31.2 280.3,31.9" fill="#ec6b00"/>
<polygon points="285.5,35.3 287.3,37.3 289.1,39.4 290.6,38.7 292.1,38.2 290.3,36.1 288.5,34 287,34.6" fill="#e98c00"/>
<polygon points="292.1,38.2 294,40.3 295.8,42.3 297.3,41.9 298.8,41.5 296.9,39.4 295.1,37.3 293.6,37.7" fill="#e3ab00"/>
<polygon points="298.8,41.5 300.6,43.6 302.5,45.6 304,45.4 305.4,45.1 303.6,43 301.7,40.9 300.3,41.2" fill="#dccc00"/>
<polygon points="269,32.9 270.8,34.8 272.6,36.8 274.2,35.7 275.7,34.6 273.9,32.6 272.1,30.6 270.6,31.7" fill="#f46000"/>
<polygon points="305.4,45.1 307.3,47.2 309.2,49.3 310.6,49.2 312,49.2 310.2,47 308.3,44.9 306.9,45" fill="#b5cb08"/>
<polygon points="275.7,34.6 277.5,36.6 279.4,38.6 280.9,37.7 282.4,36.8 280.6,34.8 278.8,32.8 277.3,33.7" fill="#f37c00"/>
<polygon points="282.4,36.8 284.3,38.8 286.1,40.8 287.6,40.1 289.1,39.4 287.3,37.3 285.5,35.3 283.9,36" fill="#ee9500"/>
<polygon points="289.1,39.4 291,41.4 292.8,43.4 294.3,42.8 295.8,42.3 294,40.3 292.1,38.2 290.6,38.7" fill="#e8b100"/>
<polygon points="295.8,42.3 297.7,44.3 299.5,46.4 301,46 302.5,45.6 300.6,43.6 298.8,41.5 297.3,41.9" fill="#e2cf00"/>
<polygon points="265.9,35.4 267.7,37.3 269.5,39.2 271.1,38 272.6,36.8 270.8,34.8 269,32.9 267.5,34.1" fill="#fb7b00"/>
<polygon points="302.5,45.6 304.4,47.7 306.2,49.7 307.7,49.5 309.2,49.3 307.3,47.2 305.4,45.1 304,45.4" fill="#bfd007"/>
<polygon points="272.6,36.8 274.4,38.7 276.3,40.7 277.8,39.6 279.4,38.6 277.5,36.6 275.7,34.6 274.2,35.7" fill="#f88e00"/>
<polygon points="309.2,49.3 311,51.4 312.9,53.5 314.4,53.4 315.8,53.4 313.9,51.3 312,49.2 310.6,49.2" fill="#98ce10"/>
<polygon points="279.4,38.6 281.2,40.6 283,42.5 284.6,41.6 286.1,40.8 284.3,38.8 282.4,36.8 280.9,37.7" fill="#f3a200"/>
<polygon points="286.1,40.8 287.9,42.8 289.8,44.8 291.3,44 292.8,43.4 291,41.4 289.1,39.4 287.6,40.1" fill="#edba00"/>
<polygon points="292.8,43.4 294.7,45.4 296.5,47.4 298,46.8 299.5,46.4 297.7,44.3 295.8,42.3 294.3,42.8" fill="#e7d400"/>
<polygon points="262.8,38.1 264.6,40 266.4,41.9 267.9,40.5 269.5,39.2 267.7,37.3 265.9,35.4 264.3,36.7" fill="#ff9700"/>
<polygon points="299.5,46.4 301.4,48.4 303.3,50.4 304.8,50 306.2,49.7 304.4,47.7 302.5,45.6 301,46" fill="#c7d507"/>
<polygon points="269.5,39.2 271.3,41.1 273.1,43 274.7,41.8 276.3,40.7 274.4,38.7 272.6,36.8 271.1,38" fill="#fca200"/>
<polygon points="306.2,49.7 308.1,51.8 310,53.8 311.5,53.6 312.9,53.5 311,51.4 309.2,49.3 307.7,49.5" fill="#a2d30f"/>
<polygon points="276.3,40.7 278.1,42.6 279.9,44.5 281.5,43.5 283,42.5 281.2,40.6 279.4,38.6 277.8,39.6" fill="#f7b200"/>
<polygon points="312.9,53.5 314.8,55.5 316.7,57.6 318.2,57.6 319.6,57.6 317.7,55.5 315.8,53.4 314.4,53.4" fill="#66c915"/>
<polygon points="283,42.5 284.9,44.5 286.7,46.4 288.3,45.5 289.8,44.8 287.9,42.8 286.1,40.8 284.6,41.6" fill="#f2c600"/>
<polygon points="289.8,44.8 291.6,46.7 293.5,48.7 295,48 296.5,47.4 294.7,45.4 292.8,43.4 291.3,44" fill="#ecdd00"/>
<polygon points="259.6,41.2 261.4,43 263.2,44.9 264.8,43.4 266.4,41.9 264.6,40 262.8,38.1 261.2,39.6" fill="#ffb100"/>
<polygon points="296.5,47.4 298.4,49.4 300.3,51.3 301.8,50.8 303.3,50.4 301.4,48.4 299.5,46.4 298,46.8" fill="#cdda07"/>
<polygon points="266.4,41.9 268.2,43.8 270,45.6 271.6,44.3 273.1,43 271.3,41.1 269.5,39.2 267.9,40.5" fill="#ffbb00"/>
<polygon points="303.3,50.4 305.2,52.4 307.1,54.4 308.5,54.1 310,53.8 308.1,51.8 306.2,49.7 304.8,50" fill="#abd80e"/>
<polygon points="273.1,43 275,44.9 276.8,46.8 278.4,45.6 279.9,44.5 278.1,42.6 276.3,40.7 274.7,41.8" fill="#fbc600"/>
<polygon points="310,53.8 311.9,55.8 313.8,57.8 315.3,57.7 316.7,57.6 314.8,55.5 312.9,53.5 311.5,53.6" fill="#77d014"/>
<polygon points="279.9,44.5 281.8,46.4 283.6,48.3 285.2,47.3 286.7,46.4 284.9,44.5 283,42.5 281.5,43.5" fill="#f7d600"/>
<polygon points="316.7,57.6 318.6,59.6 320.6,61.6 322,61.7 323.4,61.7 321.5,59.7 319.6,57.6 318.2,57.6" fill="#34c31a"/>
<polygon points="286.7,46.4 288.6,48.3 290.5,50.2 292,49.4 293.5,48.7 291.6,46.7 289.8,44.8 288.3,45.5" fill="#ece202"/>
<polygon points="256.4,44.5 258.2,46.3 260,48.1 261.6,46.5 263.2,44.9 261.4,43 259.6,41.2 258,42.8" fill="#ffcf00"/>
<polygon points="293.5,48.7 295.4,50.6 297.3,52.5 298.8,51.9 300.3,51.3 298.4,49.4 296.5,47.4 295,48" fill="#d0e007"/>
<polygon points="263.2,44.9 265,46.7 266.8,48.5 268.4,47 270,45.6 268.2,43.8 266.4,41.9 264.8,43.4" fill="#ffd400"/>
<polygon points="300.3,51.3 302.2,53.3 304.1,55.2 305.6,54.8 307.1,54.4 305.2,52.4 303.3,50.4 301.8,50.8" fill="#b1dd0e"/>
<polygon points="270,45.6 271.8,47.5 273.7,49.3 275.2,48 276.8,46.8 275,44.9 273.1,43 271.6,44.3" fill="#ffde00"/>
<polygon points="307.1,54.4 309,56.4 310.9,58.3 312.4,58 313.8,57.8 311.9,55.8 310,53.8 308.5,54.1" fill="#83d614"/>
<polygon points="276.8,46.8 278.7,48.6 280.5,50.5 282.1,49.3 283.6,48.3 281.8,46.4 279.9,44.5 278.4,45.6" fill="#fbe900"/>
<polygon points="313.8,57.8 315.7,59.8 317.7,61.8 319.1,61.7 320.6,61.6 318.6,59.6 316.7,57.6 315.3,57.7" fill="#45ca19"/>
<polygon points="283.6,48.3 285.5,50.2 287.4,52 288.9,51.1 290.5,50.2 288.6,48.3 286.7,46.4 285.2,47.3" fill="#e8e804"/>
<polygon points="253.3,48.1 255,49.9 256.8,51.7 258.4,49.9 260,48.1 258.2,46.3 256.4,44.5 254.8,46.3" fill="#fdee01"/>
<polygon points="320.6,61.6 322.5,63.7 324.4,65.7 325.9,65.7 327.3,65.8 325.3,63.8 323.4,61.7 322,61.7" fill="#11c02b"/>
<polygon points="290.5,50.2 292.3,52.1 294.2,54 295.8,53.2 297.3,52.5 295.4,50.6 293.5,48.7 292,49.4" fill="#d0e509"/>
<polygon points="260,48.1 261.8,49.9 263.7,51.7 265.3,50.1 266.8,48.5 265,46.7 263.2,44.9 261.6,46.5" fill="#fdee01"/>
<polygon points="297.3,52.5 299.2,54.4 301.1,56.4 302.6,55.8 304.1,55.2 302.2,53.3 300.3,51.3 298.8,51.9" fill="#b4e20f"/>
<polygon points="266.8,48.5 268.7,50.3 270.5,52.1 272.1,50.7 273.7,49.3 271.8,47.5 270,45.6 268.4,47" fill="#f9ef02"/>
<polygon points="304.1,55.2 306,57.2 307.9,59.1 309.4,58.7 310.9,58.3 309,56.4 307.1,54.4 305.6,54.8" fill="#8bdc14"/>
<polygon points="273.7,49.3 275.5,51.1 277.4,52.9 279,51.7 280.5,50.5 278.7,48.6 276.8,46.8 275.2,48" fill="#f1f004"/>
<polygon points="310.9,58.3 312.8,60.3 314.7,62.2 316.2,62 317.7,61.8 315.7,59.8 313.8,57.8 312.4,58" fill="#52d119"/>
<polygon points="280.5,50.5 282.4,52.3 284.3,54.1 285.8,53 287.4,52 285.5,50.2 283.6,48.3 282.1,49.3" fill="#e1ee07"/>
<polygon points="250.1,52 251.8,53.8 253.6,55.5 255.2,53.5 256.8,51.7 255,49.9 253.3,48.1 251.7,50.1" fill="#dff209"/>
<polygon points="317.7,61.8 319.6,63.8 321.6,65.7 323,65.7 324.4,65.7 322.5,63.7 320.6,61.6 319.1,61.7" fill="#15c51d"/>
<polygon points="287.4,52 289.2,53.9 291.1,55.7 292.7,54.8 294.2,54 292.3,52.1 290.5,50.2 288.9,51.1" fill="#cdeb0b"/>
<polygon points="256.8,51.7 258.7,53.4 260.5,55.2 262.1,53.4 263.7,51.7 261.8,49.9 260,48.1 258.4,49.9" fill="#e3f207"/>
<polygon points="324.4,65.7 326.4,67.7 328.3,69.6 329.7,69.7 331.2,69.9 329.2,67.9 327.3,65.8 325.9,65.7" fill="#09c054"/>
<polygon points="294.2,54 296.1,55.9 298,57.7 299.6,57 301.1,56.4 299.2,54.4 297.3,52.5 295.8,53.2" fill="#b5e810"/>
<polygon points="263.7,51.7 265.5,53.5 267.3,55.2 268.9,53.6 270.5,52.1 268.7,50.3 266.8,48.5 265.3,50.1" fill="#e3f207"/>
<polygon points="301.1,56.4 303,58.2 304.9,60.1 306.4,59.6 307.9,59.1 306,57.2 304.1,55.2 302.6,55.8" fill="#8fe214"/>
<polygon points="270.5,52.1 272.4,53.9 274.2,55.7 275.8,54.3 277.4,52.9 275.5,51.1 273.7,49.3 272.1,50.7" fill="#dff209"/>
<polygon points="307.9,59.1 309.8,61 311.8,62.9 313.3,62.5 314.7,62.2 312.8,60.3 310.9,58.3 309.4,58.7" fill="#5bd719"/>
<polygon points="277.4,52.9 279.2,54.7 281.1,56.5 282.7,55.3 284.3,54.1 282.4,52.3 280.5,50.5 279,51.7" fill="#d6f30b"/>
<polygon points="246.8,56.2 248.6,57.9 250.4,59.6 252,57.5 253.6,55.5 251.8,53.8 250.1,52 248.4,54.1" fill="#bff711"/>
<polygon points="314.7,62.2 316.7,64.2 318.6,66.1 320.1,65.9 321.6,65.7 319.6,63.8 317.7,61.8 316.2,62" fill="#22cc1d"/>
<polygon points="284.3,54.1 286.1,55.9 288,57.8 289.6,56.7 291.1,55.7 289.2,53.9 287.4,52 285.8,53" fill="#c6f10e"/>
<polygon points="253.6,55.5 255.4,57.2 257.3,58.9 258.9,57 260.5,55.2 258.7,53.4 256.8,51.7 255.2,53.5" fill="#c7f60f"/>
<polygon points="321.6,65.7 323.5,67.7 325.5,69.6 326.9,69.6 328.3,69.6 326.4,67.7 324.4,65.7 323,65.7" fill="#0dc546"/>
<polygon points="291.1,55.7 293,57.6 294.9,59.4 296.5,58.5 298,57.7 296.1,55.9 294.2,54 292.7,54.8" fill="#b2ee12"/>
<polygon points="260.5,55.2 262.3,56.9 264.1,58.6 265.7,56.9 267.3,55.2 265.5,53.5 263.7,51.7 262.1,53.4" fill="#caf50e"/>
<polygon points="328.3,69.6 330.3,71.6 332.3,73.6 333.7,73.7 335.1,73.9 333.1,71.9 331.2,69.9 329.7,69.7" fill="#01c17b"/>
<polygon points="298,57.7 299.9,59.6 301.9,61.4 303.4,60.7 304.9,60.1 303,58.2 301.1,56.4 299.6,57" fill="#8ee715"/>
<polygon points="267.3,55.2 269.2,57 271,58.7 272.6,57.1 274.2,55.7 272.4,53.9 270.5,52.1 268.9,53.6" fill="#caf50e"/>
<polygon points="304.9,60.1 306.8,62 308.8,63.9 310.3,63.4 311.8,62.9 309.8,61 307.9,59.1 306.4,59.6" fill="#5fdd19"/>
<polygon points="274.2,55.7 276.1,57.4 277.9,59.2 279.5,57.8 281.1,56.5 279.2,54.7 277.4,52.9 275.8,54.3" fill="#c6f60f"/>
<polygon points="243.6,60.7 245.4,62.3 247.2,64 248.8,61.8 250.4,59.6 248.6,57.9 246.8,56.2 245.2,58.4" fill="#86f418"/>
<polygon points="311.8,62.9 313.7,64.8 315.7,66.7 317.2,66.4 318.6,66.1 316.7,64.2 314.7,62.2 313.3,62.5" fill="#2cd21d"/>
<polygon points="281.1,56.5 283,58.3 284.9,60.1 286.5,58.9 288,57.8 286.1,55.9 284.3,54.1 282.7,55.3" fill="#bdf712"/>
<polygon points="250.4,59.6 252.2,61.3 254,62.9 255.6,60.9 257.3,58.9 255.4,57.2 253.6,55.5 252,57.5" fill="#9cf616"/>
<polygon points="318.6,66.1 320.6,68 322.6,69.9 324,69.7 325.5,69.6 323.5,67.7 321.6,65.7 320.1,65.9" fill="#10cb3b"/>
<polygon points="288,57.8 289.9,59.5 291.8,61.3 293.4,60.3 294.9,59.4 293,57.6 291.1,55.7 289.6,56.7" fill="#aaf314"/>
<polygon points="257.3,58.9 259.1,60.6 260.9,62.3 262.5,60.4 264.1,58.6 262.3,56.9 260.5,55.2 258.9,57" fill="#abf715"/>
<polygon points="325.5,69.6 327.4,71.6 329.4,73.5 330.9,73.5 332.3,73.6 330.3,71.6 328.3,69.6 326.9,69.6" fill="#05c66d"/>
<polygon points="294.9,59.4 296.9,61.2 298.8,63 300.3,62.2 301.9,61.4 299.9,59.6 298,57.7 296.5,58.5" fill="#87eb17"/>
<polygon points="264.1,58.6 266,60.3 267.8,62 269.4,60.3 271,58.7 269.2,57 267.3,55.2 265.7,56.9" fill="#b1f814"/>
<polygon points="332.3,73.6 334.3,75.5 336.3,77.5 337.7,77.7 339,77.9 337.1,75.9 335.1,73.9 333.7,73.7" fill="#00bc94"/>
<polygon points="301.9,61.4 303.8,63.3 305.7,65.1 307.3,64.4 308.8,63.9 306.8,62 304.9,60.1 303.4,60.7" fill="#5fe21a"/>
<polygon points="271,58.7 272.9,60.4 274.8,62.1 276.4,60.6 277.9,59.2 276.1,57.4 274.2,55.7 272.6,57.1" fill="#b0f814"/>
<polygon points="240.4,65.4 242.2,67.1 243.9,68.7 245.6,66.3 247.2,64 245.4,62.3 243.6,60.7 242,63" fill="#3fee1f"/>
<polygon points="308.8,63.9 310.7,65.7 312.7,67.6 314.2,67.1 315.7,66.7 313.7,64.8 311.8,62.9 310.3,63.4" fill="#31d81d"/>
<polygon points="277.9,59.2 279.8,60.9 281.7,62.6 283.3,61.3 284.9,60.1 283,58.3 281.1,56.5 279.5,57.8" fill="#a7f715"/>
<polygon points="247.2,64 249,65.6 250.8,67.2 252.4,65.1 254,62.9 252.2,61.3 250.4,59.6 248.8,61.8" fill="#5cf11c"/>
<polygon points="315.7,66.7 317.6,68.6 319.6,70.4 321.1,70.1 322.6,69.9 320.6,68 318.6,66.1 317.2,66.4" fill="#12d034"/>
<polygon points="284.9,60.1 286.8,61.8 288.7,63.5 290.3,62.4 291.8,61.3 289.9,59.5 288,57.8 286.5,58.9" fill="#96f517"/>
<polygon points="254,62.9 255.8,64.6 257.7,66.2 259.3,64.2 260.9,62.3 259.1,60.6 257.3,58.9 255.6,60.9" fill="#72f21a"/>
<polygon points="322.6,69.9 324.5,71.8 326.5,73.7 328,73.6 329.4,73.5 327.4,71.6 325.5,69.6 324,69.7" fill="#08cb62"/>
<polygon points="291.8,61.3 293.8,63.1 295.7,64.9 297.2,63.9 298.8,63 296.9,61.2 294.9,59.4 293.4,60.3" fill="#7bee19"/>
<polygon points="260.9,62.3 262.7,63.9 264.6,65.6 266.2,63.7 267.8,62 266,60.3 264.1,58.6 262.5,60.4" fill="#80f419"/>
<polygon points="329.4,73.5 331.4,75.4 333.4,77.3 334.8,77.4 336.3,77.5 334.3,75.5 332.3,73.6 330.9,73.5" fill="#00c48c"/>
<polygon points="298.8,63 300.7,64.8 302.7,66.6 304.2,65.8 305.7,65.1 303.8,63.3 301.9,61.4 300.3,62.2" fill="#59e61b"/>
<polygon points="267.8,62 269.7,63.7 271.5,65.3 273.2,63.7 274.8,62.1 272.9,60.4 271,58.7 269.4,60.3" fill="#86f418"/>
<polygon points="336.3,77.5 338.3,79.4 340.3,81.3 341.7,81.5 343.1,81.8 341,79.9 339,77.9 337.7,77.7" fill="#00b7a9"/>
<polygon points="237.1,70.5 238.9,72.1 240.7,73.6 242.3,71.1 243.9,68.7 242.2,67.1 240.4,65.4 238.8,67.9" fill="#12ec45"/>
<polygon points="305.7,65.1 307.7,66.9 309.7,68.7 311.2,68.1 312.7,67.6 310.7,65.7 308.8,63.9 307.3,64.4" fill="#32dd1e"/>
<polygon points="274.8,62.1 276.6,63.8 278.5,65.5 280.1,64 281.7,62.6 279.8,60.9 277.9,59.2 276.4,60.6" fill="#85f419"/>
<polygon points="243.9,68.7 245.7,70.3 247.5,71.8 249.2,69.5 250.8,67.2 249,65.6 247.2,64 245.6,66.3" fill="#19eb24"/>
<polygon points="312.7,67.6 314.7,69.4 316.6,71.2 318.1,70.8 319.6,70.4 317.6,68.6 315.7,66.7 314.2,67.1" fill="#13d530"/>
<polygon points="281.7,62.6 283.6,64.3 285.5,66 287.1,64.8 288.7,63.5 286.8,61.8 284.9,60.1 283.3,61.3" fill="#7bf31a"/>
<polygon points="250.8,67.2 252.6,68.9 254.4,70.5 256,68.3 257.7,66.2 255.8,64.6 254,62.9 252.4,65.1" fill="#35ed20"/>
<polygon points="319.6,70.4 321.6,72.3 323.6,74.1 325.1,73.9 326.5,73.7 324.5,71.8 322.6,69.9 321.1,70.1" fill="#0ad05a"/>
<polygon points="288.7,63.5 290.6,65.3 292.5,67 294.1,65.9 295.7,64.9 293.8,63.1 291.8,61.3 290.3,62.4" fill="#69f11b"/>
<polygon points="257.7,66.2 259.5,67.8 261.3,69.5 263,67.5 264.6,65.6 262.7,63.9 260.9,62.3 259.3,64.2" fill="#4aef1e"/>
<polygon points="326.5,73.7 328.5,75.5 330.5,77.4 332,77.3 333.4,77.3 331.4,75.4 329.4,73.5 328,73.6" fill="#00cb86"/>
<polygon points="295.7,64.9 297.6,66.6 299.6,68.4 301.1,67.4 302.7,66.6 300.7,64.8 298.8,63 297.2,63.9" fill="#4fea1d"/>
<polygon points="264.6,65.6 266.4,67.2 268.3,68.8 269.9,67.1 271.5,65.3 269.7,63.7 267.8,62 266.2,63.7" fill="#57f01d"/>
<polygon points="333.4,77.3 335.4,79.2 337.5,81.1 338.9,81.2 340.3,81.3 338.3,79.4 336.3,77.5 334.8,77.4" fill="#00bea2"/>
<polygon points="233.9,75.8 235.7,77.3 237.4,78.9 239.1,76.2 240.7,73.6 238.9,72.1 237.1,70.5 235.5,73.1" fill="#04ef8d"/>
<polygon points="302.7,66.6 304.6,68.4 306.6,70.1 308.1,69.4 309.7,68.7 307.7,66.9 305.7,65.1 304.2,65.8" fill="#2de21f"/>
<polygon points="271.5,65.3 273.4,67 275.3,68.6 276.9,67 278.5,65.5 276.6,63.8 274.8,62.1 273.2,63.7" fill="#5df11c"/>
<polygon points="340.3,81.3 342.3,83.2 344.3,85.1 345.7,85.4 347.1,85.7 345.1,83.8 343.1,81.8 341.7,81.5" fill="#00b1be"/>
<polygon points="240.7,73.6 242.5,75.2 244.3,76.7 245.9,74.3 247.5,71.8 245.7,70.3 243.9,68.7 242.3,71.1" fill="#0cee66"/>
<polygon points="309.7,68.7 311.6,70.5 313.6,72.3 315.1,71.7 316.6,71.2 314.7,69.4 312.7,67.6 311.2,68.1" fill="#14db30"/>
<polygon points="278.5,65.5 280.4,67.2 282.3,68.8 283.9,67.4 285.5,66 283.6,64.3 281.7,62.6 280.1,64" fill="#5af01d"/>
<polygon points="247.5,71.8 249.3,73.4 251.2,75 252.8,72.7 254.4,70.5 252.6,68.9 250.8,67.2 249.2,69.5" fill="#12ec46"/>
<polygon points="316.6,71.2 318.6,73 320.6,74.8 322.1,74.4 323.6,74.1 321.6,72.3 319.6,70.4 318.1,70.8" fill="#0cd655"/>
<polygon points="285.5,66 287.5,67.7 289.4,69.4 291,68.2 292.5,67 290.6,65.3 288.7,63.5 287.1,64.8" fill="#50f01e"/>
<polygon points="254.4,70.5 256.2,72 258.1,73.6 259.7,71.5 261.3,69.5 259.5,67.8 257.7,66.2 256,68.3" fill="#17eb2d"/>
<polygon points="323.6,74.1 325.6,75.9 327.6,77.8 329.1,77.6 330.5,77.4 328.5,75.5 326.5,73.7 325.1,73.9" fill="#03d07e"/>
<polygon points="292.5,67 294.5,68.7 296.4,70.4 298,69.3 299.6,68.4 297.6,66.6 295.7,64.9 294.1,65.9" fill="#3eed1f"/>
<polygon points="261.3,69.5 263.2,71.1 265.1,72.6 266.7,70.7 268.3,68.8 266.4,67.2 264.6,65.6 263,67.5" fill="#23ec22"/>
<polygon points="330.5,77.4 332.6,79.3 334.6,81.1 336,81.1 337.5,81.1 335.4,79.2 333.4,77.3 332,77.3" fill="#00c69c"/>
<polygon points="230.6,81.4 232.4,82.9 234.2,84.4 235.8,81.6 237.4,78.9 235.7,77.3 233.9,75.8 232.3,78.5" fill="#00eac4"/>
<polygon points="299.6,68.4 301.5,70.1 303.5,71.8 305,70.9 306.6,70.1 304.6,68.4 302.7,66.6 301.1,67.4" fill="#24e621"/>
<polygon points="268.3,68.8 270.2,70.5 272.1,72.1 273.7,70.3 275.3,68.6 273.4,67 271.5,65.3 269.9,67.1" fill="#30ed21"/>
<polygon points="337.5,81.1 339.5,83 341.5,84.8 342.9,84.9 344.3,85.1 342.3,83.2 340.3,81.3 338.9,81.2" fill="#00b9b6"/>
<polygon points="237.4,78.9 239.2,80.4 241,81.9 242.6,79.3 244.3,76.7 242.5,75.2 240.7,73.6 239.1,76.2" fill="#00efa8"/>
<polygon points="306.6,70.1 308.6,71.9 310.6,73.6 312.1,72.9 313.6,72.3 311.6,70.5 309.7,68.7 308.1,69.4" fill="#14e034"/>
<polygon points="275.3,68.6 277.2,70.3 279.1,71.9 280.7,70.3 282.3,68.8 280.4,67.2 278.5,65.5 276.9,67" fill="#35ed20"/>
<polygon points="344.3,85.1 346.4,87 348.4,88.9 349.8,89.2 351.2,89.6 349.1,87.7 347.1,85.7 345.7,85.4" fill="#05a4c1"/>
<polygon points="244.3,76.7 246.1,78.3 247.9,79.8 249.5,77.3 251.2,75 249.3,73.4 247.5,71.8 245.9,74.3" fill="#05ef86"/>
<polygon points="313.6,72.3 315.6,74 317.6,75.8 319.1,75.3 320.6,74.8 318.6,73 316.6,71.2 315.1,71.7" fill="#0ddb54"/>
<polygon points="282.3,68.8 284.3,70.5 286.2,72.1 287.8,70.7 289.4,69.4 287.5,67.7 285.5,66 283.9,67.4" fill="#32ed21"/>
<polygon points="251.2,75 253,76.5 254.8,78.1 256.5,75.8 258.1,73.6 256.2,72 254.4,70.5 252.8,72.7" fill="#0cee66"/>
<polygon points="320.6,74.8 322.6,76.6 324.7,78.4 326.1,78 327.6,77.8 325.6,75.9 323.6,74.1 322.1,74.4" fill="#05d679"/>
<polygon points="289.4,69.4 291.3,71.1 293.3,72.7 294.9,71.5 296.4,70.4 294.5,68.7 292.5,67 291,68.2" fill="#27ec22"/>
<polygon points="258.1,73.6 259.9,75.2 261.8,76.7 263.4,74.7 265.1,72.6 263.2,71.1 261.3,69.5 259.7,71.5" fill="#11ed4d"/>
<polygon points="327.6,77.8 329.6,79.6 331.7,81.4 333.1,81.2 334.6,81.1 332.6,79.3 330.5,77.4 329.1,77.6" fill="#00cd98"/>
<polygon points="227.4,87.2 229.1,88.7 230.9,90.2 232.5,87.3 234.2,84.4 232.4,82.9 230.6,81.4 229,84.3" fill="#00e0f5"/>
<polygon points="296.4,70.4 298.4,72.1 300.4,73.8 301.9,72.8 303.5,71.8 301.5,70.1 299.6,68.4 298,69.3" fill="#18e927"/>
<polygon points="265.1,72.6 266.9,74.2 268.8,75.8 270.5,73.9 272.1,72.1 270.2,70.5 268.3,68.8 266.7,70.7" fill="#14ec3b"/>
<polygon points="334.6,81.1 336.6,82.9 338.7,84.7 340.1,84.7 341.5,84.8 339.5,83 337.5,81.1 336,81.1" fill="#00c1b0"/>
<polygon points="234.2,84.4 235.9,85.9 237.7,87.4 239.4,84.6 241,81.9 239.2,80.4 237.4,78.9 235.8,81.6" fill="#00e7d6"/>
<polygon points="303.5,71.8 305.5,73.5 307.5,75.2 309,74.4 310.6,73.6 308.6,71.9 306.6,70.1 305,70.9" fill="#13e53c"/>
<polygon points="272.1,72.1 274,73.7 275.9,75.2 277.5,73.5 279.1,71.9 277.2,70.3 275.3,68.6 273.7,70.3" fill="#16ec31"/>
<polygon points="341.5,84.8 343.6,86.7 345.7,88.5 347.1,88.7 348.4,88.9 346.4,87 344.3,85.1 342.9,84.9" fill="#01b2c5"/>
<polygon points="241,81.9 242.8,83.4 244.6,84.9 246.2,82.3 247.9,79.8 246.1,78.3 244.3,76.7 242.6,79.3" fill="#00ebba"/>
<polygon points="310.6,73.6 312.6,75.3 314.6,77 316.1,76.4 317.6,75.8 315.6,74 313.6,72.3 312.1,72.9" fill="#0de057"/>
<polygon points="279.1,71.9 281,73.5 283,75.1 284.6,73.6 286.2,72.1 284.3,70.5 282.3,68.8 280.7,70.3" fill="#17eb2d"/>
<polygon points="348.4,88.9 350.5,90.8 352.6,92.6 354,93 355.3,93.4 353.2,91.5 351.2,89.6 349.8,89.2" fill="#0a97c2"/>
<polygon points="247.9,79.8 249.7,81.3 251.5,82.8 253.2,80.4 254.8,78.1 253,76.5 251.2,75 249.5,77.3" fill="#00f0a2"/>
<polygon points="317.6,75.8 319.6,77.5 321.7,79.3 323.2,78.8 324.7,78.4 322.6,76.6 320.6,74.8 319.1,75.3" fill="#06db77"/>
<polygon points="286.2,72.1 288.1,73.7 290.1,75.4 291.7,74 293.3,72.7 291.3,71.1 289.4,69.4 287.8,70.7" fill="#16ec30"/>
<polygon points="254.8,78.1 256.7,79.6 258.5,81.1 260.2,78.9 261.8,76.7 259.9,75.2 258.1,73.6 256.5,75.8" fill="#05ef85"/>
<polygon points="324.7,78.4 326.7,80.1 328.7,81.9 330.2,81.6 331.7,81.4 329.6,79.6 327.6,77.8 326.1,78" fill="#00d496"/>
<polygon points="224.1,93.4 225.9,94.8 227.6,96.3 229.3,93.2 230.9,90.2 229.1,88.7 227.4,87.2 225.8,90.3" fill="#0fc1fb"/>
<polygon points="293.3,72.7 295.2,74.4 297.2,76 298.8,74.9 300.4,73.8 298.4,72.1 296.4,70.4 294.9,71.5" fill="#14ec3a"/>
<polygon points="261.8,76.7 263.7,78.3 265.5,79.8 267.2,77.8 268.8,75.8 266.9,74.2 265.1,72.6 263.4,74.7" fill="#0aee6c"/>
<polygon points="331.7,81.4 333.7,83.2 335.8,84.9 337.2,84.8 338.7,84.7 336.6,82.9 334.6,81.1 333.1,81.2" fill="#00c8ac"/>
<polygon points="230.9,90.2 232.7,91.6 234.4,93.1 236.1,90.2 237.7,87.4 235.9,85.9 234.2,84.4 232.5,87.3" fill="#05d6f7"/>
<polygon points="300.4,73.8 302.3,75.4 304.3,77.1 305.9,76.1 307.5,75.2 305.5,73.5 303.5,71.8 301.9,72.8" fill="#11ea4a"/>
<polygon points="268.8,75.8 270.7,77.3 272.6,78.9 274.3,77 275.9,75.2 274,73.7 272.1,72.1 270.5,73.9" fill="#0eed5b"/>
<polygon points="338.7,84.7 340.7,86.5 342.8,88.3 344.2,88.4 345.7,88.5 343.6,86.7 341.5,84.8 340.1,84.7" fill="#00bcc3"/>
<polygon points="237.7,87.4 239.5,88.8 241.3,90.3 242.9,87.5 244.6,84.9 242.8,83.4 241,81.9 239.4,84.6" fill="#00e3e7"/>
<polygon points="307.5,75.2 309.5,76.9 311.5,78.6 313,77.8 314.6,77 312.6,75.3 310.6,73.6 309,74.4" fill="#0ce65f"/>
<polygon points="275.9,75.2 277.8,76.8 279.7,78.4 281.3,76.7 283,75.1 281,73.5 279.1,71.9 277.5,73.5" fill="#10ed51"/>
<polygon points="345.7,88.5 347.7,90.3 349.8,92.2 351.2,92.4 352.6,92.6 350.5,90.8 348.4,88.9 347.1,88.7" fill="#07a5c6"/>
<polygon points="244.6,84.9 246.4,86.4 248.2,87.8 249.9,85.3 251.5,82.8 249.7,81.3 247.9,79.8 246.2,82.3" fill="#00e8cb"/>
<polygon points="314.6,77 316.6,78.7 318.6,80.4 320.1,79.8 321.7,79.3 319.6,77.5 317.6,75.8 316.1,76.4" fill="#06e17a"/>
<polygon points="283,75.1 284.9,76.7 286.9,78.3 288.5,76.8 290.1,75.4 288.1,73.7 286.2,72.1 284.6,73.6" fill="#11ed4d"/>
<polygon points="352.6,92.6 354.7,94.5 356.8,96.3 358.1,96.7 359.5,97.2 357.4,95.3 355.3,93.4 354,93" fill="#108ac2"/>
<polygon points="251.5,82.8 253.4,84.3 255.2,85.8 256.9,83.4 258.5,81.1 256.7,79.6 254.8,78.1 253.2,80.4" fill="#00ecb4"/>
<polygon points="321.7,79.3 323.7,81 325.7,82.7 327.2,82.3 328.7,81.9 326.7,80.1 324.7,78.4 323.2,78.8" fill="#00db96"/>
<polygon points="220.9,99.8 222.6,101.2 224.4,102.6 226,99.4 227.6,96.3 225.9,94.8 224.1,93.4 222.5,96.6" fill="#24a3ff"/>
<polygon points="290.1,75.4 292,77 294,78.6 295.6,77.3 297.2,76 295.2,74.4 293.3,72.7 291.7,74" fill="#10ed51"/>
<polygon points="258.5,81.1 260.4,82.6 262.3,84.1 263.9,81.9 265.5,79.8 263.7,78.3 261.8,76.7 260.2,78.9" fill="#00f0a1"/>
<polygon points="328.7,81.9 330.8,83.6 332.9,85.4 334.3,85.1 335.8,84.9 333.7,83.2 331.7,81.4 330.2,81.6" fill="#00cfaa"/>
<polygon points="227.6,96.3 229.4,97.7 231.1,99.1 232.8,96.1 234.4,93.1 232.7,91.6 230.9,90.2 229.3,93.2" fill="#13b8fd"/>
<polygon points="297.2,76 299.2,77.6 301.2,79.3 302.8,78.1 304.3,77.1 302.3,75.4 300.4,73.8 298.8,74.9" fill="#0eed5b"/>
<polygon points="265.5,79.8 267.4,81.3 269.3,82.8 271,80.8 272.6,78.9 270.7,77.3 268.8,75.8 267.2,77.8" fill="#04ef8a"/>
<polygon points="335.8,84.9 337.9,86.7 339.9,88.4 341.4,88.4 342.8,88.3 340.7,86.5 338.7,84.7 337.2,84.8" fill="#00c3bf"/>
<polygon points="234.4,93.1 236.2,94.5 238,95.9 239.7,93.1 241.3,90.3 239.5,88.8 237.7,87.4 236.1,90.2" fill="#09cdf9"/>
<polygon points="304.3,77.1 306.3,78.7 308.4,80.4 309.9,79.4 311.5,78.6 309.5,76.9 307.5,75.2 305.9,76.1" fill="#0aeb6b"/>
<polygon points="272.6,78.9 274.5,80.4 276.5,81.9 278.1,80.1 279.7,78.4 277.8,76.8 275.9,75.2 274.3,77" fill="#08ee7a"/>
<polygon points="342.8,88.3 344.9,90.1 347,91.9 348.4,92 349.8,92.2 347.7,90.3 345.7,88.5 344.2,88.4" fill="#03b2cb"/>
<polygon points="241.3,90.3 243.1,91.7 244.9,93.1 246.6,90.4 248.2,87.8 246.4,86.4 244.6,84.9 242.9,87.5" fill="#01e0f5"/>
<polygon points="311.5,78.6 313.5,80.2 315.5,81.9 317.1,81.1 318.6,80.4 316.6,78.7 314.6,77 313,77.8" fill="#05e680"/>
<polygon points="279.7,78.4 281.7,79.9 283.6,81.5 285.2,79.8 286.9,78.3 284.9,76.7 283,75.1 281.3,76.7" fill="#0aee70"/>
<polygon points="349.8,92.2 351.9,94 354,95.8 355.4,96 356.8,96.3 354.7,94.5 352.6,92.6 351.2,92.4" fill="#0c98c6"/>
<polygon points="248.2,87.8 250.1,89.3 251.9,90.7 253.6,88.2 255.2,85.8 253.4,84.3 251.5,82.8 249.9,85.3" fill="#00e5dc"/>
<polygon points="318.6,80.4 320.7,82.1 322.7,83.8 324.2,83.2 325.7,82.7 323.7,81 321.7,79.3 320.1,79.8" fill="#00e199"/>
<polygon points="286.9,78.3 288.8,79.8 290.8,81.4 292.4,79.9 294,78.6 292,77 290.1,75.4 288.5,76.8" fill="#0aee6d"/>
<polygon points="255.2,85.8 257.1,87.2 258.9,88.7 260.6,86.4 262.3,84.1 260.4,82.6 258.5,81.1 256.9,83.4" fill="#00e9c5"/>
<polygon points="325.7,82.7 327.8,84.4 329.9,86.1 331.4,85.7 332.9,85.4 330.8,83.6 328.7,81.9 327.2,82.3" fill="#00d6a9"/>
<polygon points="224.4,102.6 226.1,104 227.9,105.4 229.5,102.2 231.1,99.1 229.4,97.7 227.6,96.3 226,99.4" fill="#2d9dff"/>
<polygon points="294,78.6 296,80.1 298,81.7 299.6,80.5 301.2,79.3 299.2,77.6 297.2,76 295.6,77.3" fill="#09ee71"/>
<polygon points="262.3,84.1 264.1,85.6 266,87.1 267.7,84.9 269.3,82.8 267.4,81.3 265.5,79.8 263.9,81.9" fill="#00edb3"/>
<polygon points="332.9,85.4 334.9,87.1 337,88.8 338.5,88.6 339.9,88.4 337.9,86.7 335.8,84.9 334.3,85.1" fill="#00cabc"/>
<polygon points="231.1,99.1 232.9,100.5 234.7,101.9 236.4,98.9 238,95.9 236.2,94.5 234.4,93.1 232.8,96.1" fill="#17affe"/>
<polygon points="301.2,79.3 303.2,80.9 305.2,82.5 306.8,81.4 308.4,80.4 306.3,78.7 304.3,77.1 302.8,78.1" fill="#07ef7c"/>
<polygon points="269.3,82.8 271.2,84.3 273.2,85.8 274.8,83.8 276.5,81.9 274.5,80.4 272.6,78.9 271,80.8" fill="#00efa4"/>
<polygon points="339.9,88.4 342,90.2 344.1,91.9 345.6,91.9 347,91.9 344.9,90.1 342.8,88.3 341.4,88.4" fill="#00bed0"/>
<polygon points="238,95.9 239.8,97.3 241.6,98.7 243.3,95.9 244.9,93.1 243.1,91.7 241.3,90.3 239.7,93.1" fill="#0dc4fa"/>
<polygon points="308.4,80.4 310.4,82 312.4,83.6 314,82.7 315.5,81.9 313.5,80.2 311.5,78.6 309.9,79.4" fill="#04ec8b"/>
<polygon points="276.5,81.9 278.4,83.5 280.3,85 282,83.2 283.6,81.5 281.7,79.9 279.7,78.4 278.1,80.1" fill="#02f097"/>
<polygon points="347,91.9 349.1,93.7 351.2,95.4 352.6,95.6 354,95.8 351.9,94 349.8,92.2 348.4,92" fill="#08a5cb"/>
<polygon points="244.9,93.1 246.8,94.6 248.6,96 250.3,93.3 251.9,90.7 250.1,89.3 248.2,87.8 246.6,90.4" fill="#05d6f7"/>
<polygon points="315.5,81.9 317.6,83.5 319.6,85.1 321.2,84.4 322.7,83.8 320.7,82.1 318.6,80.4 317.1,81.1" fill="#00e69d"/>
<polygon points="283.6,81.5 285.6,83 287.5,84.5 289.2,82.9 290.8,81.4 288.8,79.8 286.9,78.3 285.2,79.8" fill="#04ef8d"/>
<polygon points="251.9,90.7 253.8,92.2 255.6,93.6 257.3,91.1 258.9,88.7 257.1,87.2 255.2,85.8 253.6,88.2" fill="#00e3ec"/>
<polygon points="322.7,83.8 324.8,85.4 326.8,87.1 328.4,86.6 329.9,86.1 327.8,84.4 325.7,82.7 324.2,83.2" fill="#00dcab"/>
<polygon points="290.8,81.4 292.8,82.9 294.8,84.5 296.4,83.1 298,81.7 296,80.1 294,78.6 292.4,79.9" fill="#04ef8b"/>
<polygon points="258.9,88.7 260.8,90.1 262.7,91.6 264.4,89.3 266,87.1 264.1,85.6 262.3,84.1 260.6,86.4" fill="#00e7d5"/>
<polygon points="329.9,86.1 332,87.8 334,89.4 335.5,89.1 337,88.8 334.9,87.1 332.9,85.4 331.4,85.7" fill="#00d1bb"/>
<polygon points="227.9,105.4 229.6,106.8 231.4,108.1 233,105 234.7,101.9 232.9,100.5 231.1,99.1 229.5,102.2" fill="#3697ff"/>
<polygon points="298,81.7 300,83.3 302,84.8 303.6,83.6 305.2,82.5 303.2,80.9 301.2,79.3 299.6,80.5" fill="#03ef8f"/>
<polygon points="266,87.1 267.9,88.5 269.9,90 271.5,87.8 273.2,85.8 271.2,84.3 269.3,82.8 267.7,84.9" fill="#00eac3"/>
<polygon points="337,88.8 339.1,90.5 341.2,92.2 342.7,92 344.1,91.9 342,90.2 339.9,88.4 338.5,88.6" fill="#00c6ce"/>
<polygon points="234.7,101.9 236.5,103.3 238.3,104.6 240,101.6 241.6,98.7 239.8,97.3 238,95.9 236.4,98.9" fill="#1da8ff"/>
<polygon points="305.2,82.5 307.2,84 309.3,85.6 310.8,84.6 312.4,83.6 310.4,82 308.4,80.4 306.8,81.4" fill="#01f09b"/>
<polygon points="273.2,85.8 275.1,87.3 277,88.7 278.7,86.8 280.3,85 278.4,83.5 276.5,81.9 274.8,83.8" fill="#00ecb5"/>
<polygon points="344.1,91.9 346.3,93.6 348.4,95.4 349.8,95.4 351.2,95.4 349.1,93.7 347,91.9 345.6,91.9" fill="#05b2d0"/>
<polygon points="241.6,98.7 243.4,100.1 245.3,101.5 246.9,98.7 248.6,96 246.8,94.6 244.9,93.1 243.3,95.9" fill="#11bbfc"/>
<polygon points="312.4,83.6 314.5,85.2 316.5,86.8 318.1,85.9 319.6,85.1 317.6,83.5 315.5,81.9 314,82.7" fill="#00eaa5"/>
<polygon points="280.3,85 282.3,86.4 284.3,87.9 285.9,86.2 287.5,84.5 285.6,83 283.6,81.5 282,83.2" fill="#00eeab"/>
<polygon points="248.6,96 250.4,97.4 252.3,98.7 254,96.1 255.6,93.6 253.8,92.2 251.9,90.7 250.3,93.3" fill="#09cef9"/>
<polygon points="319.6,85.1 321.7,86.8 323.8,88.4 325.3,87.7 326.8,87.1 324.8,85.4 322.7,83.8 321.2,84.4" fill="#00e1b0"/>
<polygon points="287.5,84.5 289.5,86 291.5,87.5 293.1,85.9 294.8,84.5 292.8,82.9 290.8,81.4 289.2,82.9" fill="#00efa6"/>
<polygon points="255.6,93.6 257.5,95 259.4,96.4 261.1,93.9 262.7,91.6 260.8,90.1 258.9,88.7 257.3,91.1" fill="#02ddf6"/>
<polygon points="326.8,87.1 328.9,88.7 331,90.3 332.5,89.9 334,89.4 332,87.8 329.9,86.1 328.4,86.6" fill="#00d8bd"/>
<polygon points="294.8,84.5 296.8,86 298.8,87.5 300.4,86.1 302,84.8 300,83.3 298,81.7 296.4,83.1" fill="#00efa5"/>
<polygon points="262.7,91.6 264.6,93 266.5,94.4 268.2,92.1 269.9,90 267.9,88.5 266,87.1 264.4,89.3" fill="#00e4e5"/>
<polygon points="334,89.4 336.2,91.1 338.3,92.7 339.8,92.4 341.2,92.2 339.1,90.5 337,88.8 335.5,89.1" fill="#00cdcd"/>
<polygon points="231.4,108.1 233.2,109.5 235,110.8 236.6,107.7 238.3,104.6 236.5,103.3 234.7,101.9 233,105" fill="#3f92ff"/>
<polygon points="302,84.8 304,86.4 306.1,87.9 307.7,86.7 309.3,85.6 307.2,84 305.2,82.5 303.6,83.6" fill="#00efa8"/>
<polygon points="269.9,90 271.8,91.4 273.7,92.8 275.4,90.7 277,88.7 275.1,87.3 273.2,85.8 271.5,87.8" fill="#00e7d3"/>
<polygon points="341.2,92.2 343.4,93.9 345.5,95.5 346.9,95.4 348.4,95.4 346.3,93.6 344.1,91.9 342.7,92" fill="#03bdd5"/>
<polygon points="238.3,104.6 240.1,106 241.9,107.3 243.6,104.4 245.3,101.5 243.4,100.1 241.6,98.7 240,101.6" fill="#25a2ff"/>
<polygon points="309.3,85.6 311.3,87.2 313.4,88.7 314.9,87.7 316.5,86.8 314.5,85.2 312.4,83.6 310.8,84.6" fill="#00edaf"/>
<polygon points="277,88.7 279,90.2 281,91.6 282.6,89.7 284.3,87.9 282.3,86.4 280.3,85 278.7,86.8" fill="#00e9c5"/>
<polygon points="245.3,101.5 247.1,102.9 249,104.2 250.6,101.4 252.3,98.7 250.4,97.4 248.6,96 246.9,98.7" fill="#15b3fd"/>
<polygon points="316.5,86.8 318.6,88.3 320.7,89.9 322.2,89.1 323.8,88.4 321.7,86.8 319.6,85.1 318.1,85.9" fill="#00e6b7"/>
<polygon points="284.3,87.9 286.2,89.4 288.2,90.8 289.9,89.1 291.5,87.5 289.5,86 287.5,84.5 285.9,86.2" fill="#00ebbb"/>
<polygon points="252.3,98.7 254.2,100.1 256,101.5 257.7,98.9 259.4,96.4 257.5,95 255.6,93.6 254,96.1" fill="#0cc6fa"/>
<polygon points="323.8,88.4 325.9,90 328,91.5 329.5,90.9 331,90.3 328.9,88.7 326.8,87.1 325.3,87.7" fill="#00ddc1"/>
<polygon points="291.5,87.5 293.5,89 295.5,90.4 297.2,88.9 298.8,87.5 296.8,86 294.8,84.5 293.1,85.9" fill="#00ecb6"/>
<polygon points="259.4,96.4 261.3,97.8 263.2,99.1 264.9,96.7 266.5,94.4 264.6,93 262.7,91.6 261.1,93.9" fill="#05d5f7"/>
<polygon points="331,90.3 333.1,92 335.3,93.6 336.8,93.1 338.3,92.7 336.2,91.1 334,89.4 332.5,89.9" fill="#00d3ce"/>
<polygon points="298.8,87.5 300.8,89 302.8,90.5 304.5,89.1 306.1,87.9 304,86.4 302,84.8 300.4,86.1" fill="#00ecb5"/>
<polygon points="266.5,94.4 268.5,95.8 270.4,97.2 272.1,95 273.7,92.8 271.8,91.4 269.9,90 268.2,92.1" fill="#00e1f3"/>
<polygon points="338.3,92.7 340.4,94.4 342.5,96 344,95.7 345.5,95.5 343.4,93.9 341.2,92.2 339.8,92.4" fill="#01c7db"/>
<polygon points="235,110.8 236.8,112.1 238.6,113.4 240.3,110.3 241.9,107.3 240.1,106 238.3,104.6 236.6,107.7" fill="#468dff"/>
<polygon points="306.1,87.9 308.1,89.4 310.2,90.9 311.8,89.8 313.4,88.7 311.3,87.2 309.3,85.6 307.7,86.7" fill="#00ecb9"/>
<polygon points="273.7,92.8 275.7,94.2 277.6,95.6 279.3,93.6 281,91.6 279,90.2 277,88.7 275.4,90.7" fill="#00e4e1"/>
<polygon points="241.9,107.3 243.8,108.6 245.6,110 247.3,107 249,104.2 247.1,102.9 245.3,101.5 243.6,104.4" fill="#2d9dff"/>
<polygon points="313.4,88.7 315.4,90.2 317.5,91.7 319.1,90.8 320.7,89.9 318.6,88.3 316.5,86.8 314.9,87.7" fill="#00eac0"/>
<polygon points="281,91.6 282.9,93 284.9,94.5 286.6,92.6 288.2,90.8 286.2,89.4 284.3,87.9 282.6,89.7" fill="#00e7d4"/>
<polygon points="249,104.2 250.8,105.5 252.7,106.9 254.4,104.1 256,101.5 254.2,100.1 252.3,98.7 250.6,101.4" fill="#18acff"/>
<polygon points="320.7,89.9 322.8,91.5 324.9,93 326.4,92.2 328,91.5 325.9,90 323.8,88.4 322.2,89.1" fill="#00e2c7"/>
<polygon points="288.2,90.8 290.2,92.3 292.2,93.7 293.9,92 295.5,90.4 293.5,89 291.5,87.5 289.9,89.1" fill="#00e8cb"/>
<polygon points="256,101.5 257.9,102.8 259.8,104.2 261.5,101.6 263.2,99.1 261.3,97.8 259.4,96.4 257.7,98.9" fill="#10befb"/>
<polygon points="328,91.5 330.1,93.1 332.2,94.7 333.8,94.1 335.3,93.6 333.1,92 331,90.3 329.5,90.9" fill="#00d9d1"/>
<polygon points="295.5,90.4 297.6,91.9 299.6,93.3 301.2,91.9 302.8,90.5 300.8,89 298.8,87.5 297.2,88.9" fill="#00e9c6"/>
<polygon points="263.2,99.1 265.1,100.5 267,101.8 268.7,99.5 270.4,97.2 268.5,95.8 266.5,94.4 264.9,96.7" fill="#09cdf9"/>
<polygon points="335.3,93.6 337.4,95.2 339.6,96.7 341.1,96.3 342.5,96 340.4,94.4 338.3,92.7 336.8,93.1" fill="#00cfdd"/>
<polygon points="302.8,90.5 304.9,91.9 307,93.4 308.6,92.1 310.2,90.9 308.1,89.4 306.1,87.9 304.5,89.1" fill="#00e9c5"/>
<polygon points="270.4,97.2 272.3,98.5 274.3,99.9 276,97.7 277.6,95.6 275.7,94.2 273.7,92.8 272.1,95" fill="#03daf6"/>
<polygon points="238.6,113.4 240.4,114.7 242.3,116 243.9,112.9 245.6,110 243.8,108.6 241.9,107.3 240.3,110.3" fill="#4e88ff"/>
<polygon points="310.2,90.9 312.3,92.4 314.4,93.9 315.9,92.8 317.5,91.7 315.4,90.2 313.4,88.7 311.8,89.8" fill="#00e9c9"/>
<polygon points="277.6,95.6 279.6,97 281.6,98.4 283.3,96.4 284.9,94.5 282.9,93 281,91.6 279.3,93.6" fill="#00e2ef"/>
<polygon points="245.6,110 247.5,111.3 249.3,112.5 251,109.7 252.7,106.9 250.8,105.5 249,104.2 247.3,107" fill="#3598ff"/>
<polygon points="317.5,91.7 319.6,93.3 321.7,94.8 323.3,93.8 324.9,93 322.8,91.5 320.7,89.9 319.1,90.8" fill="#00e6d0"/>
<polygon points="284.9,94.5 286.9,95.9 288.9,97.2 290.6,95.4 292.2,93.7 290.2,92.3 288.2,90.8 286.6,92.6" fill="#00e4e2"/>
<polygon points="252.7,106.9 254.6,108.2 256.5,109.5 258.2,106.8 259.8,104.2 257.9,102.8 256,101.5 254.4,104.1" fill="#1fa6ff"/>
<polygon points="324.9,93 327,94.5 329.1,96 330.7,95.3 332.2,94.7 330.1,93.1 328,91.5 326.4,92.2" fill="#00ded7"/>
<polygon points="292.2,93.7 294.3,95.1 296.3,96.5 298,94.9 299.6,93.3 297.6,91.9 295.5,90.4 293.9,92" fill="#00e6d9"/>
<polygon points="259.8,104.2 261.8,105.5 263.7,106.8 265.4,104.3 267,101.8 265.1,100.5 263.2,99.1 261.5,101.6" fill="#13b7fd"/>
<polygon points="332.2,94.7 334.4,96.2 336.5,97.8 338,97.2 339.6,96.7 337.4,95.2 335.3,93.6 333.8,94.1" fill="#00d5e0"/>
<polygon points="299.6,93.3 301.6,94.8 303.7,96.2 305.3,94.8 307,93.4 304.9,91.9 302.8,90.5 301.2,91.9" fill="#00e7d5"/>
<polygon points="267,101.8 269,103.2 270.9,104.5 272.6,102.2 274.3,99.9 272.3,98.5 270.4,97.2 268.7,99.5" fill="#0cc6fa"/>
<polygon points="307,93.4 309,94.9 311.1,96.3 312.7,95 314.4,93.9 312.3,92.4 310.2,90.9 308.6,92.1" fill="#00e7d4"/>
<polygon points="274.3,99.9 276.3,101.3 278.2,102.6 279.9,100.4 281.6,98.4 279.6,97 277.6,95.6 276,97.7" fill="#07d3f8"/>
<polygon points="242.3,116 244.1,117.3 246,118.5 247.6,115.5 249.3,112.5 247.5,111.3 245.6,110 243.9,112.9" fill="#5484ff"/>
<polygon points="314.4,93.9 316.5,95.3 318.6,96.8 320.2,95.7 321.7,94.8 319.6,93.3 317.5,91.7 315.9,92.8" fill="#00e6d8"/>
<polygon points="281.6,98.4 283.6,99.7 285.6,101.1 287.3,99.1 288.9,97.2 286.9,95.9 284.9,94.5 283.3,96.4" fill="#02ddf6"/>
<polygon points="249.3,112.5 251.2,113.8 253.1,115.1 254.8,112.2 256.5,109.5 254.6,108.2 252.7,106.9 251,109.7" fill="#3c94ff"/>
<polygon points="321.7,94.8 323.9,96.2 326,97.7 327.6,96.8 329.1,96 327,94.5 324.9,93 323.3,93.8" fill="#00e3df"/>
<polygon points="288.9,97.2 291,98.6 293,100 294.7,98.2 296.3,96.5 294.3,95.1 292.2,93.7 290.6,95.4" fill="#00e2ef"/>
<polygon points="256.5,109.5 258.4,110.8 260.3,112 262,109.4 263.7,106.8 261.8,105.5 259.8,104.2 258.2,106.8" fill="#26a2ff"/>
<polygon points="329.1,96 331.3,97.6 333.4,99 335,98.4 336.5,97.8 334.4,96.2 332.2,94.7 330.7,95.3" fill="#00dae5"/>
<polygon points="296.3,96.5 298.4,97.9 300.4,99.3 302.1,97.7 303.7,96.2 301.6,94.8 299.6,93.3 298,94.9" fill="#00e3e7"/>
<polygon points="263.7,106.8 265.6,108.1 267.6,109.4 269.2,106.9 270.9,104.5 269,103.2 267,101.8 265.4,104.3" fill="#16b0fe"/>
<polygon points="303.7,96.2 305.8,97.6 307.9,99 309.5,97.6 311.1,96.3 309,94.9 307,93.4 305.3,94.8" fill="#00e4e3"/>
<polygon points="270.9,104.5 272.9,105.8 274.9,107.1 276.6,104.8 278.2,102.6 276.3,101.3 274.3,99.9 272.6,102.2" fill="#0fbffb"/>
<polygon points="311.1,96.3 313.2,97.7 315.4,99.1 317,97.9 318.6,96.8 316.5,95.3 314.4,93.9 312.7,95" fill="#00e4e3"/>
<polygon points="278.2,102.6 280.2,103.9 282.2,105.2 283.9,103.1 285.6,101.1 283.6,99.7 281.6,98.4 279.9,100.4" fill="#0accf9"/>
<polygon points="246,118.5 247.8,119.8 249.7,121 251.4,118 253.1,115.1 251.2,113.8 249.3,112.5 247.6,115.5" fill="#5a80ff"/>
<polygon points="318.6,96.8 320.7,98.2 322.8,99.7 324.4,98.7 326,97.7 323.9,96.2 321.7,94.8 320.2,95.7" fill="#00e3e7"/>
<polygon points="285.6,101.1 287.6,102.4 289.7,103.7 291.3,101.8 293,100 291,98.6 288.9,97.2 287.3,99.1" fill="#05d6f7"/>
<polygon points="253.1,115.1 255,116.3 256.9,117.6 258.6,114.8 260.3,112 258.4,110.8 256.5,109.5 254.8,112.2" fill="#4290ff"/>
<polygon points="326,97.7 328.2,99.2 330.3,100.6 331.9,99.8 333.4,99 331.3,97.6 329.1,96 327.6,96.8" fill="#00dfec"/>
<polygon points="293,100 295.1,101.3 297.1,102.7 298.8,100.9 300.4,99.3 298.4,97.9 296.3,96.5 294.7,98.2" fill="#02ddf6"/>
<polygon points="260.3,112 262.2,113.3 264.2,114.6 265.9,111.9 267.6,109.4 265.6,108.1 263.7,106.8 262,109.4" fill="#2c9eff"/>
<polygon points="300.4,99.3 302.5,100.7 304.6,102 306.2,100.5 307.9,99 305.8,97.6 303.7,96.2 302.1,97.7" fill="#00e1f4"/>
<polygon points="267.6,109.4 269.5,110.7 271.5,111.9 273.2,109.5 274.9,107.1 272.9,105.8 270.9,104.5 269.2,106.9" fill="#19aaff"/>
<polygon points="307.9,99 310,100.4 312.1,101.8 313.7,100.4 315.4,99.1 313.2,97.7 311.1,96.3 309.5,97.6" fill="#00e2f0"/>
<polygon points="274.9,107.1 276.9,108.4 278.9,109.7 280.6,107.4 282.2,105.2 280.2,103.9 278.2,102.6 276.6,104.8" fill="#12b9fc"/>
<polygon points="315.4,99.1 317.5,100.5 319.6,101.9 321.2,100.8 322.8,99.7 320.7,98.2 318.6,96.8 317,97.9" fill="#00e2f0"/>
<polygon points="282.2,105.2 284.3,106.5 286.3,107.8 288,105.7 289.7,103.7 287.6,102.4 285.6,101.1 283.9,103.1" fill="#0dc5fa"/>
<polygon points="249.7,121 251.6,122.2 253.5,123.4 255.2,120.5 256.9,117.6 255,116.3 253.1,115.1 251.4,118" fill="#607dff"/>
<polygon points="322.8,99.7 325,101.1 327.2,102.5 328.7,101.5 330.3,100.6 328.2,99.2 326,97.7 324.4,98.7" fill="#00e1f5"/>
<polygon points="289.7,103.7 291.7,105.1 293.8,106.4 295.4,104.5 297.1,102.7 295.1,101.3 293,100 291.3,101.8" fill="#08cff8"/>
<polygon points="256.9,117.6 258.8,118.8 260.8,120 262.5,117.3 264.2,114.6 262.2,113.3 260.3,112 258.6,114.8" fill="#488cff"/>
<polygon points="297.1,102.7 299.2,104 301.3,105.3 302.9,103.6 304.6,102 302.5,100.7 300.4,99.3 298.8,100.9" fill="#05d6f7"/>
<polygon points="264.2,114.6 266.1,115.8 268.1,117 269.8,114.4 271.5,111.9 269.5,110.7 267.6,109.4 265.9,111.9" fill="#329aff"/>
<polygon points="304.6,102 306.7,103.4 308.8,104.7 310.5,103.2 312.1,101.8 310,100.4 307.9,99 306.2,100.5" fill="#03dbf6"/>
<polygon points="271.5,111.9 273.5,113.2 275.5,114.4 277.2,112 278.9,109.7 276.9,108.4 274.9,107.1 273.2,109.5" fill="#1fa6ff"/>
<polygon points="312.1,101.8 314.2,103.1 316.4,104.5 318,103.2 319.6,101.9 317.5,100.5 315.4,99.1 313.7,100.4" fill="#02ddf6"/>
<polygon points="278.9,109.7 280.9,110.9 282.9,112.2 284.6,110 286.3,107.8 284.3,106.5 282.2,105.2 280.6,107.4" fill="#15b3fd"/>
<polygon points="319.6,101.9 321.8,103.3 324,104.7 325.6,103.5 327.2,102.5 325,101.1 322.8,99.7 321.2,100.8" fill="#02ddf6"/>
<polygon points="286.3,107.8 288.3,109.1 290.4,110.4 292.1,108.3 293.8,106.4 291.7,105.1 289.7,103.7 288,105.7" fill="#0fbffb"/>
<polygon points="253.5,123.4 255.4,124.6 257.3,125.8 259,122.9 260.8,120 258.8,118.8 256.9,117.6 255.2,120.5" fill="#647cff"/>
<polygon points="293.8,106.4 295.8,107.7 297.9,108.9 299.6,107.1 301.3,105.3 299.2,104 297.1,102.7 295.4,104.5" fill="#0bc9f9"/>
<polygon points="260.8,120 262.7,121.2 264.7,122.4 266.4,119.7 268.1,117 266.1,115.8 264.2,114.6 262.5,117.3" fill="#4d89ff"/>
<polygon points="301.3,105.3 303.4,106.6 305.5,107.9 307.2,106.3 308.8,104.7 306.7,103.4 304.6,102 302.9,103.6" fill="#08d0f8"/>
<polygon points="268.1,117 270.1,118.2 272.1,119.4 273.8,116.9 275.5,114.4 273.5,113.2 271.5,111.9 269.8,114.4" fill="#3896ff"/>
<polygon points="308.8,104.7 310.9,106 313.1,107.3 314.7,105.9 316.4,104.5 314.2,103.1 312.1,101.8 310.5,103.2" fill="#06d4f7"/>
<polygon points="275.5,114.4 277.5,115.6 279.5,116.8 281.2,114.5 282.9,112.2 280.9,110.9 278.9,109.7 277.2,112" fill="#25a2ff"/>
<polygon points="316.4,104.5 318.5,105.8 320.7,107.1 322.3,105.9 324,104.7 321.8,103.3 319.6,101.9 318,103.2" fill="#05d6f7"/>
<polygon points="282.9,112.2 285,113.4 287,114.6 288.7,112.5 290.4,110.4 288.3,109.1 286.3,107.8 284.6,110" fill="#17aefe"/>
<polygon points="290.4,110.4 292.5,111.6 294.6,112.8 296.2,110.8 297.9,108.9 295.8,107.7 293.8,106.4 292.1,108.3" fill="#12bafc"/>
<polygon points="257.3,125.8 259.3,127 261.2,128.1 262.9,125.3 264.7,122.4 262.7,121.2 260.8,120 259,122.9" fill="#677cff"/>
<polygon points="297.9,108.9 300,110.2 302.1,111.4 303.8,109.6 305.5,107.9 303.4,106.6 301.3,105.3 299.6,107.1" fill="#0ec3fa"/>
<polygon points="264.7,122.4 266.6,123.6 268.6,124.8 270.3,122.1 272.1,119.4 270.1,118.2 268.1,117 266.4,119.7" fill="#5286ff"/>
<polygon points="305.5,107.9 307.6,109.2 309.8,110.5 311.4,108.8 313.1,107.3 310.9,106 308.8,104.7 307.2,106.3" fill="#0bcaf9"/>
<polygon points="272.1,119.4 274.1,120.6 276.1,121.8 277.8,119.3 279.5,116.8 277.5,115.6 275.5,114.4 273.8,116.9" fill="#3c93ff"/>
<polygon points="313.1,107.3 315.3,108.6 317.4,109.9 319.1,108.5 320.7,107.1 318.5,105.8 316.4,104.5 314.7,105.9" fill="#09cef8"/>
<polygon points="279.5,116.8 281.5,118 283.6,119.2 285.3,116.9 287,114.6 285,113.4 282.9,112.2 281.2,114.5" fill="#2a9fff"/>
<polygon points="287,114.6 289.1,115.9 291.2,117.1 292.9,114.9 294.6,112.8 292.5,111.6 290.4,110.4 288.7,112.5" fill="#1aa9ff"/>
<polygon points="294.6,112.8 296.7,114.1 298.8,115.3 300.5,113.3 302.1,111.4 300,110.2 297.9,108.9 296.2,110.8" fill="#14b5fd"/>
<polygon points="261.2,128.1 263.2,129.3 265.2,130.4 266.9,127.6 268.6,124.8 266.6,123.6 264.7,122.4 262.9,125.3" fill="#6a7cff"/>
<polygon points="302.1,111.4 304.3,112.7 306.4,113.9 308.1,112.1 309.8,110.5 307.6,109.2 305.5,107.9 303.8,109.6" fill="#10befb"/>
<polygon points="268.6,124.8 270.6,125.9 272.6,127.1 274.3,124.4 276.1,121.8 274.1,120.6 272.1,119.4 270.3,122.1" fill="#5683ff"/>
<polygon points="309.8,110.5 311.9,111.7 314.1,112.9 315.8,111.4 317.4,109.9 315.3,108.6 313.1,107.3 311.4,108.8" fill="#0dc4fa"/>
<polygon points="276.1,121.8 278.1,123 280.1,124.1 281.9,121.6 283.6,119.2 281.5,118 279.5,116.8 277.8,119.3" fill="#4191ff"/>
<polygon points="283.6,119.2 285.6,120.4 287.7,121.6 289.4,119.3 291.2,117.1 289.1,115.9 287,114.6 285.3,116.9" fill="#2e9cff"/>
<polygon points="291.2,117.1 293.2,118.2 295.4,119.4 297.1,117.3 298.8,115.3 296.7,114.1 294.6,112.8 292.9,114.9" fill="#1fa6ff"/>
<polygon points="298.8,115.3 300.9,116.5 303,117.7 304.7,115.7 306.4,113.9 304.3,112.7 302.1,111.4 300.5,113.3" fill="#16b0fe"/>
<polygon points="265.2,130.4 267.2,131.5 269.2,132.7 270.9,129.8 272.6,127.1 270.6,125.9 268.6,124.8 266.9,127.6" fill="#6d7bff"/>
<polygon points="306.4,113.9 308.6,115.1 310.8,116.3 312.4,114.6 314.1,112.9 311.9,111.7 309.8,110.5 308.1,112.1" fill="#12b9fc"/>
<polygon points="272.6,127.1 274.6,128.2 276.7,129.3 278.4,126.7 280.1,124.1 278.1,123 276.1,121.8 274.3,124.4" fill="#5981ff"/>
<polygon points="280.1,124.1 282.2,125.3 284.3,126.4 286,123.9 287.7,121.6 285.6,120.4 283.6,119.2 281.9,121.6" fill="#448eff"/>
<polygon points="287.7,121.6 289.8,122.7 291.9,123.9 293.6,121.6 295.4,119.4 293.2,118.2 291.2,117.1 289.4,119.3" fill="#329aff"/>
<polygon points="295.4,119.4 297.5,120.6 299.6,121.7 301.3,119.7 303,117.7 300.9,116.5 298.8,115.3 297.1,117.3" fill="#23a3ff"/>
<polygon points="303,117.7 305.2,118.8 307.4,120 309.1,118.1 310.8,116.3 308.6,115.1 306.4,113.9 304.7,115.7" fill="#18acff"/>
<polygon points="269.2,132.7 271.2,133.8 273.2,134.8 274.9,132 276.7,129.3 274.6,128.2 272.6,127.1 270.9,129.8" fill="#6f7bff"/>
<polygon points="276.7,129.3 278.7,130.4 280.8,131.5 282.5,128.9 284.3,126.4 282.2,125.3 280.1,124.1 278.4,126.7" fill="#5c7fff"/>
<polygon points="284.3,126.4 286.4,127.5 288.5,128.6 290.2,126.2 291.9,123.9 289.8,122.7 287.7,121.6 286,123.9" fill="#488cff"/>
<polygon points="291.9,123.9 294,125 296.2,126.1 297.9,123.9 299.6,121.7 297.5,120.6 295.4,119.4 293.6,121.6" fill="#3697ff"/>
<polygon points="299.6,121.7 301.8,122.9 303.9,124 305.7,121.9 307.4,120 305.2,118.8 303,117.7 301.3,119.7" fill="#27a1ff"/>
<polygon points="273.2,134.8 275.3,135.9 277.3,137 279.1,134.2 280.8,131.5 278.7,130.4 276.7,129.3 274.9,132" fill="#717bff"/>
<polygon points="280.8,131.5 282.9,132.6 285,133.7 286.7,131.1 288.5,128.6 286.4,127.5 284.3,126.4 282.5,128.9" fill="#5f7dff"/>
<polygon points="288.5,128.6 290.6,129.7 292.7,130.8 294.4,128.4 296.2,126.1 294,125 291.9,123.9 290.2,126.2" fill="#4a8aff"/>
<polygon points="296.2,126.1 298.3,127.2 300.5,128.3 302.2,126.1 303.9,124 301.8,122.9 299.6,121.7 297.9,123.9" fill="#3996ff"/>
<polygon points="277.3,137 279.4,138 281.5,139 283.2,136.3 285,133.7 282.9,132.6 280.8,131.5 279.1,134.2" fill="#737bff"/>
<polygon points="285,133.7 287.1,134.7 289.2,135.8 291,133.2 292.7,130.8 290.6,129.7 288.5,128.6 286.7,131.1" fill="#607dff"/>
<polygon points="292.7,130.8 294.9,131.8 297,132.9 298.8,130.5 300.5,128.3 298.3,127.2 296.2,126.1 294.4,128.4" fill="#4c89ff"/>
<polygon points="281.5,139 283.6,140.1 285.7,141.1 287.5,138.4 289.2,135.8 287.1,134.7 285,133.7 283.2,136.3" fill="#737aff"/>
<polygon points="289.2,135.8 291.4,136.8 293.5,137.8 295.3,135.3 297,132.9 294.9,131.8 292.7,130.8 291,133.2" fill="#617dff"/>
<polygon points="285.7,141.1 287.8,142.1 290,143 291.7,140.4 293.5,137.8 291.4,136.8 289.2,135.8 287.5,138.4" fill="#747aff"/>
</g>
<circle cx="256.7" cy="35.5" r="1.55" fill="#e30b0b" stroke="#6e0000" stroke-width="0.5"/>
<circle cx="344.9" cy="78.1" r="1.55" fill="#e30b0b" stroke="#6e0000" stroke-width="0.5"/>
<circle cx="290.5" cy="63.5" r="1.55" fill="#e30b0b" stroke="#6e0000" stroke-width="0.5"/>
<circle cx="290.5" cy="60.8" r="1.55" fill="#e30b0b" stroke="#6e0000" stroke-width="0.5"/>
<circle cx="274.8" cy="133.2" r="1.55" fill="#e30b0b" stroke="#6e0000" stroke-width="0.5"/>
<circle cx="220.7" cy="102.9" r="1.55" fill="#fff" stroke="#b85050" stroke-width="0.6"/></g>
<g id="pc"><polygon points="30.2,311.9 95.7,346.8 161.3,312.2 95.7,284.7" fill="#5b5b5b"/>
<polyline points="32.8,313.2 33.3,313.3 34.9,313.6 36,313.8 36.5,313.9 38,314.2 39.4,314.4 39.5,314.5 41,314.8 42.5,315.1 43.1,315.2 43.9,315.4 45.4,315.8 46.8,316.1 47.2,316.2 48.2,316.5 49.5,316.9 50.9,317.2 52.1,317.6 52.2,317.7 53.5,318.1 54.8,318.5 56,318.9 57.2,319.4 58.4,319.9 59.6,320.4 59.6,320.4 60.7,320.9 61.9,321.4 63,321.9 64,322.5 65.1,323.1 66.1,323.6 67.1,324.2 67.5,324.5 68.1,324.9 69,325.5 70,326.1 70.9,326.8 71.8,327.5 72.6,328.2 73.1,328.6 73.4,328.9 74.3,329.6 75,330.4 75.8,331.1 76,331.3 76.6,331.9 77.3,332.7 78,333.5 78.1,333.7 78.7,334.3 79.4,335.2 79.9,335.9 80,336.1 80.7,336.9 81.3,337.8 81.3,337.9 81.9,338.7 82.5,339.7 82.6,339.9" fill="none" stroke="#1428e6" stroke-width="1.2" stroke-linecap="round"/>
<polyline points="34,310.3 35.7,310.5 36.5,310.6 37.4,310.7 39,311 39.5,311 40.6,311.2 42.2,311.4 42.5,311.5 43.8,311.7 45.4,312 45.7,312 46.9,312.2 48.4,312.5 49.2,312.7 49.9,312.8 51.4,313.1 52.9,313.5 52.9,313.5 54.3,313.8 55.7,314.2 57.1,314.5 57.2,314.6 58.4,314.9 59.7,315.3 61,315.7 62.3,316.1 63,316.4 63.6,316.6 64.8,317 66,317.5 67.1,318 68.2,318.5 69.3,319 70.4,319.6 71.4,320.1 72.5,320.7 73.4,321.3 74.4,321.9 75.3,322.6 75.8,322.9 76.2,323.2 77.1,323.9 78,324.6 78.8,325.3 79.6,326 79.6,326 80.3,326.7 81.1,327.5 81.8,328.2 81.9,328.4 82.5,329 83.2,329.8 83.7,330.5 83.9,330.7 84.5,331.5 85.1,332.4 85.2,332.5 85.7,333.2 86.3,334.1 86.5,334.3 86.9,335 87.4,335.9 87.6,336.1 88,336.9 88.5,337.8 88.5,337.9 89,338.8 89.4,339.6 89.5,339.8 90,340.8 90.2,341.3 90.5,341.8 90.9,342.8 91,343 91.3,343.9 91.7,344.7" fill="none" stroke="#00c8d8" stroke-width="1.2" stroke-linecap="round"/>
<polyline points="45.7,305.5 45.8,305.5 47.5,305.6 48.3,305.7 49.3,305.7 50.7,305.8 51.2,305.9 53,306 53.3,306 54.7,306.2 55.8,306.3 56.5,306.3 58.2,306.5 58.5,306.5 60,306.7 61.2,306.8 61.6,306.9 63.3,307.1 64.1,307.2 64.9,307.3 66.6,307.5 67.2,307.6 68.1,307.8 69.7,308.1 70.5,308.2 71.2,308.3 72.7,308.6 74.1,309 74.3,309 75.5,309.3 76.9,309.7 78.2,310.1 79.4,310.4 79.4,310.5 80.7,310.9 81.9,311.3 83,311.8 84.1,312.3 85.1,312.8 86.1,313.4 87.1,314 88,314.6 88.2,314.7 88.9,315.2 89.7,315.8 90.5,316.5 91.3,317.2 91.3,317.3 92,317.9 92.7,318.7 93.2,319.2 93.3,319.4 94,320.2 94.5,321 94.6,321 95.1,321.8 95.6,322.6 95.7,322.7 96.2,323.5 96.5,324.2 96.7,324.4 97.1,325.3 97.3,325.7 97.6,326.2 98,327.2 98,327.2 98.4,328.1 98.6,328.6 98.8,329.1 99.2,330 99.2,330.1 99.6,331 99.7,331.5 99.9,332.1 100.2,332.9 100.3,333.1 100.6,334.1 100.7,334.3 100.9,335.2 101.1,335.8 101.2,336.3 101.5,337.2 101.5,337.3 101.8,338.4 101.9,338.6 102.1,339.6 102.2,340 102.4,340.7 102.6,341.4 102.7,341.8 102.9,342.9 102.9,343" fill="none" stroke="#14d232" stroke-width="1.2" stroke-linecap="round"/>
<polyline points="55,301.6 56.9,301.6 57.1,301.6 58.9,301.6 59.2,301.6 61,301.6 61.3,301.6 63.1,301.6 63.4,301.6 65.2,301.6 65.5,301.6 67.3,301.6 67.6,301.6 69.4,301.6 69.7,301.6 71.5,301.7 71.7,301.7 73.7,301.7 73.8,301.7 75.8,301.7 75.8,301.7 77.9,301.7 77.9,301.7 79.9,301.8 80.1,301.8 82,301.8 82.3,301.8 84,301.8 84.5,301.8 86,301.9 86.7,301.9 87.9,301.9 89,302 89.8,302 91.3,302.1 91.7,302.1 93.5,302.3 93.8,302.3 95.3,302.4 96.5,302.6 96.9,302.6 98.5,302.9 99.9,303.2 100.3,303.3 101.1,303.6 102.2,304.1 102.7,304.4 103.1,304.6 103.8,305.3 104.4,306 104.5,306.2 104.9,306.7 105.3,307.5 105.3,307.6 105.7,308.4 105.8,308.7 106,309.3 106.2,309.8 106.3,310.1 106.5,311 106.5,311.1 106.7,312 106.7,312.1 106.9,312.9 107,313.2 107.1,313.9 107.2,314.3 107.3,314.9 107.4,315.4 107.5,315.9 107.5,316.5 107.6,316.9 107.7,317.7 107.8,317.9 107.9,318.8 107.9,318.9 108,319.9 108,320 108.2,321 108.2,321 108.3,322.1 108.3,322.2 108.5,323.1 108.5,323.3 108.6,324.2 108.6,324.5 108.7,325.3 108.7,325.7 108.8,326.4 108.9,326.8 109,327.5 109,328 109.1,328.6 109.1,329.2 109.2,329.7 109.3,330.4 109.3,330.9 109.4,331.6 109.4,332 109.5,332.9 109.6,333.2 109.7,334.1 109.7,334.4 109.8,335.3 109.8,335.6 109.9,336.6 109.9,336.7 110,337.9 110.1,338 110.2,339.1 110.2,339.2" fill="none" stroke="#e6b400" stroke-width="1.2" stroke-linecap="round"/>
<polyline points="132.7,300.2 131.6,300.2 130.5,300.2 129.6,300.2 128.3,300.1 127.6,300.1 126.1,300 125.7,300 123.8,299.9 123.7,299.9 122,299.8 121.3,299.8 120.2,299.7 118.7,299.5 118.5,299.5 116.9,299.3 115.4,299 115.4,299 114.1,298.7 112.9,298.2 112,297.7 111.3,297.2 111.2,297.2 110.5,296.5 110,295.9 109.9,295.8 109.5,295.2 109.3,294.6 109.1,294.4 108.8,293.6 108.8,293.6 108.5,292.9 108.4,292.6 108.3,292.1 108.2,291.6 108.1,291.3 107.9,290.7 107.9,290.5 107.7,289.7" fill="none" stroke="#e6b400" stroke-width="1.2" stroke-linecap="round"/>
<polyline points="154.8,309.5 153.4,309.8 152.2,310.1 152,310.1 150.6,310.4 149.3,310.8 148,311.2 147.6,311.3 146.8,311.5 145.6,312 144.4,312.4 143.2,312.8 142.1,313.3 141,313.8 140,314.3 139,314.8 138,315.3 137.1,315.9 136.2,316.5 135.4,317.1 134.6,317.7 134,318.2 133.8,318.4 133.1,319.1 132.4,319.8 131.7,320.5 131.6,320.6 131.1,321.2 130.5,322 130.1,322.6 129.9,322.8 129.4,323.6 128.9,324.4 128.9,324.4 128.4,325.2 128,326.1 128,326.1 127.6,327 127.3,327.7 127.2,327.9 126.8,328.8 126.6,329.2 126.4,329.7 126.1,330.7 126.1,330.8" fill="none" stroke="#f01e0a" stroke-width="1.2" stroke-linecap="round"/>
<polygon points="29,290.3 95.7,265.1 95.7,194.8 24.7,212.5" fill="#fff"/>
<polygon points="95.7,265.1 162.5,290.5 166.8,212.7 95.7,194.8" fill="#fff"/>
<path d="M30.2,311.9 L24.7,212.5 M43.6,284.8 L40.4,208.6 M57.6,279.5 L55.2,204.9 M70.9,274.5 L69.4,201.4 M83.6,269.6 L82.9,198 M95.7,284.7 L95.7,194.8 M105.8,268.9 L106.4,197.5 M116.3,272.9 L117.5,200.3 M127.2,277.1 L129.1,203.2 M138.5,281.4 L141.1,206.2 M150.2,285.9 L153.7,209.4 M161.3,312.2 L166.8,212.7 M29,290.3 L95.7,265.1 L162.5,290.5 M29,290.3 L27.7,290.3 M28.3,278 L95.7,253.9 L163.2,278.2 M28.3,278 L27,278 M27.6,265.4 L95.7,242.5 L163.9,265.7 M27.6,265.4 L26.3,265.4 M26.9,252.6 L95.7,230.9 L164.6,252.8 M26.9,252.6 L25.6,252.6 M26.2,239.5 L95.7,219.1 L165.3,239.7 M26.2,239.5 L24.9,239.5 M25.5,226.2 L95.7,207.1 L166,226.4 M25.5,226.2 L24.2,226.2 M24.7,212.5 L95.7,194.8 L166.8,212.7 M24.7,212.5 L23.4,212.5" fill="none" stroke="#3c3c3c" stroke-width="0.7"/>
<line x1="63.3" y1="223.4" x2="63.3" y2="228" stroke="#555" stroke-width="0.6"/>
<line x1="95.3" y1="189.4" x2="95.3" y2="215" stroke="#555" stroke-width="0.6"/>
<g stroke="#000" stroke-opacity="0.8" stroke-width="0.45" stroke-linejoin="round">
<polygon points="92.9,214.8 94.6,216.6 96.4,218.4 97.8,218.6 99.2,218.8 97.5,217 95.7,215.2 94.3,215" fill="#e63d00"/>
<polygon points="90,214.6 91.8,216.5 93.5,218.3 94.9,218.3 96.4,218.4 94.6,216.6 92.9,214.8 91.5,214.7" fill="#e41f00"/>
<polygon points="96.4,218.4 98.1,220.1 99.9,221.7 101.3,221.8 102.7,222.1 100.9,220.5 99.2,218.8 97.8,218.6" fill="#ee8200"/>
<polygon points="87.2,214.7 88.9,216.6 90.6,218.5 92.1,218.3 93.5,218.3 91.8,216.5 90,214.6 88.6,214.7" fill="#e40800"/>
<polygon points="93.5,218.3 95.3,220 97,221.6 98.4,221.6 99.9,221.7 98.1,220.1 96.4,218.4 94.9,218.3" fill="#ee6500"/>
<polygon points="99.9,221.7 101.6,223.2 103.4,224.6 104.8,224.7 106.2,224.9 104.4,223.5 102.7,222.1 101.3,221.8" fill="#f0ae00"/>
<polygon points="84.2,215.1 86,217.1 87.7,218.9 89.2,218.6 90.6,218.5 88.9,216.6 87.2,214.7 85.7,214.9" fill="#e50000"/>
<polygon points="90.6,218.5 92.4,220.2 94.1,221.8 95.6,221.7 97,221.6 95.3,220 93.5,218.3 92.1,218.3" fill="#ed4e00"/>
<polygon points="97,221.6 98.8,223.1 100.5,224.6 102,224.5 103.4,224.6 101.6,223.2 99.9,221.7 98.4,221.6" fill="#f29900"/>
<polygon points="103.4,224.6 105.2,225.9 106.9,227.2 108.3,227.3 109.7,227.4 108,226.2 106.2,224.9 104.8,224.7" fill="#f1d300"/>
<polygon points="81.3,215.8 83,217.7 84.8,219.6 86.2,219.2 87.7,218.9 86,217.1 84.2,215.1 82.8,215.4" fill="#e60000"/>
<polygon points="87.7,218.9 89.5,220.6 91.2,222.2 92.7,222 94.1,221.8 92.4,220.2 90.6,218.5 89.2,218.6" fill="#ed3f00"/>
<polygon points="94.1,221.8 95.9,223.3 97.7,224.8 99.1,224.6 100.5,224.6 98.8,223.1 97,221.6 95.6,221.7" fill="#f48800"/>
<polygon points="100.5,224.6 102.3,225.9 104.1,227.1 105.5,227.1 106.9,227.2 105.2,225.9 103.4,224.6 102,224.5" fill="#f3be00"/>
<polygon points="106.9,227.2 108.7,228.3 110.5,229.3 111.9,229.4 113.3,229.6 111.5,228.6 109.7,227.4 108.3,227.3" fill="#e8e403"/>
<polygon points="78.3,216.7 80,218.7 81.8,220.5 83.3,220 84.8,219.6 83,217.7 81.3,215.8 79.8,216.2" fill="#e80000"/>
<polygon points="84.8,219.6 86.5,221.3 88.3,223 89.7,222.6 91.2,222.2 89.5,220.6 87.7,218.9 86.2,219.2" fill="#ee3800"/>
<polygon points="91.2,222.2 93,223.8 94.8,225.2 96.2,225 97.7,224.8 95.9,223.3 94.1,221.8 92.7,222" fill="#f57c00"/>
<polygon points="97.7,224.8 99.4,226.1 101.2,227.4 102.7,227.2 104.1,227.1 102.3,225.9 100.5,224.6 99.1,224.6" fill="#f6ae00"/>
<polygon points="104.1,227.1 105.9,228.3 107.7,229.3 109.1,229.3 110.5,229.3 108.7,228.3 106.9,227.2 105.5,227.1" fill="#f5db00"/>
<polygon points="75.3,218 77,219.9 78.8,221.8 80.3,221.1 81.8,220.5 80,218.7 78.3,216.7 76.8,217.3" fill="#e90000"/>
<polygon points="110.5,229.3 112.4,230.3 114.2,231.1 115.6,231.2 117,231.4 115.2,230.5 113.3,229.6 111.9,229.4" fill="#dae707"/>
<polygon points="81.8,220.5 83.5,222.3 85.3,224 86.8,223.4 88.3,223 86.5,221.3 84.8,219.6 83.3,220" fill="#f03800"/>
<polygon points="88.3,223 90,224.5 91.8,226 93.3,225.6 94.8,225.2 93,223.8 91.2,222.2 89.7,222.6" fill="#f77500"/>
<polygon points="94.8,225.2 96.5,226.6 98.3,227.9 99.8,227.6 101.2,227.4 99.4,226.1 97.7,224.8 96.2,225" fill="#f8a400"/>
<polygon points="101.2,227.4 103,228.5 104.9,229.6 106.3,229.4 107.7,229.3 105.9,228.3 104.1,227.1 102.7,227.2" fill="#f7cc00"/>
<polygon points="72.2,219.5 74,221.5 75.7,223.4 77.3,222.5 78.8,221.8 77,219.9 75.3,218 73.8,218.7" fill="#eb0400"/>
<polygon points="107.7,229.3 109.5,230.3 111.4,231.1 112.8,231.1 114.2,231.1 112.4,230.3 110.5,229.3 109.1,229.3" fill="#eee702"/>
<polygon points="78.8,221.8 80.5,223.6 82.3,225.3 83.8,224.6 85.3,224 83.5,222.3 81.8,220.5 80.3,221.1" fill="#f23f00"/>
<polygon points="114.2,231.1 116,231.9 117.9,232.5 119.3,232.6 120.7,232.8 118.8,232.1 117,231.4 115.6,231.2" fill="#d2e909"/>
<polygon points="85.3,224 87.1,225.6 88.8,227.1 90.3,226.5 91.8,226 90,224.5 88.3,223 86.8,223.4" fill="#f87600"/>
<polygon points="91.8,226 93.6,227.4 95.4,228.7 96.9,228.2 98.3,227.9 96.5,226.6 94.8,225.2 93.3,225.6" fill="#faa000"/>
<polygon points="98.3,227.9 100.1,229 102,230.1 103.4,229.8 104.9,229.6 103,228.5 101.2,227.4 99.8,227.6" fill="#f9c200"/>
<polygon points="69.2,221.3 70.9,223.3 72.7,225.2 74.2,224.2 75.7,223.4 74,221.5 72.2,219.5 70.7,220.3" fill="#ef1b00"/>
<polygon points="104.9,229.6 106.7,230.6 108.5,231.4 110,231.2 111.4,231.1 109.5,230.3 107.7,229.3 106.3,229.4" fill="#f8e000"/>
<polygon points="75.7,223.4 77.5,225.2 79.3,226.9 80.8,226 82.3,225.3 80.5,223.6 78.8,221.8 77.3,222.5" fill="#f54f00"/>
<polygon points="111.4,231.1 113.2,231.9 115.1,232.6 116.5,232.5 117.9,232.5 116,231.9 114.2,231.1 112.8,231.1" fill="#e7e904"/>
<polygon points="82.3,225.3 84.1,226.9 85.8,228.4 87.3,227.7 88.8,227.1 87.1,225.6 85.3,224 83.8,224.6" fill="#fb7f00"/>
<polygon points="117.9,232.5 119.8,233.1 121.7,233.6 123.1,233.6 124.4,233.8 122.6,233.3 120.7,232.8 119.3,232.6" fill="#d2ea09"/>
<polygon points="88.8,227.1 90.6,228.4 92.4,229.7 93.9,229.2 95.4,228.7 93.6,227.4 91.8,226 90.3,226.5" fill="#fca100"/>
<polygon points="95.4,228.7 97.2,229.9 99,230.9 100.5,230.5 102,230.1 100.1,229 98.3,227.9 96.9,228.2" fill="#fbbe00"/>
<polygon points="66.1,223.4 67.8,225.4 69.6,227.3 71.1,226.2 72.7,225.2 70.9,223.3 69.2,221.3 67.6,222.3" fill="#f43a00"/>
<polygon points="102,230.1 103.8,231.1 105.6,232 107.1,231.7 108.5,231.4 106.7,230.6 104.9,229.6 103.4,229.8" fill="#fad700"/>
<polygon points="72.7,225.2 74.4,227 76.2,228.7 77.7,227.8 79.3,226.9 77.5,225.2 75.7,223.4 74.2,224.2" fill="#f96700"/>
<polygon points="108.5,231.4 110.4,232.2 112.2,232.9 113.7,232.7 115.1,232.6 113.2,231.9 111.4,231.1 110,231.2" fill="#f7e901"/>
<polygon points="79.3,226.9 81,228.5 82.8,230 84.3,229.2 85.8,228.4 84.1,226.9 82.3,225.3 80.8,226" fill="#fd8d00"/>
<polygon points="115.1,232.6 117,233.1 118.9,233.6 120.3,233.5 121.7,233.6 119.8,233.1 117.9,232.5 116.5,232.5" fill="#e6ea05"/>
<polygon points="85.8,228.4 87.6,229.8 89.4,231.1 90.9,230.4 92.4,229.7 90.6,228.4 88.8,227.1 87.3,227.7" fill="#fda800"/>
<polygon points="121.7,233.6 123.6,233.9 125.5,234.2 126.9,234.2 128.3,234.4 126.3,234.1 124.4,233.8 123.1,233.6" fill="#d9e908"/>
<polygon points="92.4,229.7 94.2,230.9 96.1,232.1 97.5,231.5 99,230.9 97.2,229.9 95.4,228.7 93.9,229.2" fill="#fdc000"/>
<polygon points="63,225.7 64.7,227.8 66.5,229.7 68,228.5 69.6,227.3 67.8,225.4 66.1,223.4 64.5,224.5" fill="#f96200"/>
<polygon points="99,230.9 100.8,231.9 102.7,232.8 104.2,232.4 105.6,232 103.8,231.1 102,230.1 100.5,230.5" fill="#fdd300"/>
<polygon points="69.6,227.3 71.4,229.2 73.1,230.9 74.7,229.8 76.2,228.7 74.4,227 72.7,225.2 71.1,226.2" fill="#fe8700"/>
<polygon points="105.6,232 107.5,232.8 109.3,233.5 110.8,233.1 112.2,232.9 110.4,232.2 108.5,231.4 107.1,231.7" fill="#fce300"/>
<polygon points="76.2,228.7 78,230.4 79.8,231.9 81.3,230.9 82.8,230 81,228.5 79.3,226.9 77.7,227.8" fill="#ffa000"/>
<polygon points="112.2,232.9 114.1,233.5 116,233.9 117.4,233.7 118.9,233.6 117,233.1 115.1,232.6 113.7,232.7" fill="#f6ea01"/>
<polygon points="82.8,230 84.6,231.4 86.4,232.8 87.9,231.9 89.4,231.1 87.6,229.8 85.8,228.4 84.3,229.2" fill="#ffb600"/>
<polygon points="118.9,233.6 120.8,234 122.7,234.3 124.1,234.2 125.5,234.2 123.6,233.9 121.7,233.6 120.3,233.5" fill="#ede903"/>
<polygon points="89.4,231.1 91.2,232.3 93.1,233.4 94.6,232.7 96.1,232.1 94.2,230.9 92.4,229.7 90.9,230.4" fill="#ffc800"/>
<polygon points="59.9,228.4 61.6,230.5 63.4,232.5 64.9,231.1 66.5,229.7 64.7,227.8 63,225.7 61.4,227.1" fill="#fe8f00"/>
<polygon points="125.5,234.2 127.4,234.3 129.4,234.4 130.8,234.5 132.1,234.6 130.2,234.5 128.3,234.4 126.9,234.2" fill="#959603"/>
<polygon points="96.1,232.1 97.9,233.1 99.7,234 101.2,233.4 102.7,232.8 100.8,231.9 99,230.9 97.5,231.5" fill="#ffd600"/>
<polygon points="66.5,229.7 68.2,231.6 70,233.4 71.6,232.1 73.1,230.9 71.4,229.2 69.6,227.3 68,228.5" fill="#ffa600"/>
<polygon points="102.7,232.8 104.5,233.6 106.4,234.3 107.9,233.9 109.3,233.5 107.5,232.8 105.6,232 104.2,232.4" fill="#fee000"/>
<polygon points="73.1,230.9 74.9,232.6 76.7,234.1 78.2,233 79.8,231.9 78,230.4 76.2,228.7 74.7,229.8" fill="#ffb900"/>
<polygon points="109.3,233.5 111.2,234.1 113.1,234.6 114.6,234.2 116,233.9 114.1,233.5 112.2,232.9 110.8,233.1" fill="#fce600"/>
<polygon points="79.8,231.9 81.5,233.4 83.3,234.7 84.9,233.7 86.4,232.8 84.6,231.4 82.8,230 81.3,230.9" fill="#ffc900"/>
<polygon points="116,233.9 117.9,234.3 119.8,234.6 121.3,234.4 122.7,234.3 120.8,234 118.9,233.6 117.4,233.7" fill="#fbe800"/>
<polygon points="86.4,232.8 88.2,234 90,235.1 91.5,234.3 93.1,233.4 91.2,232.3 89.4,231.1 87.9,231.9" fill="#ffd500"/>
<polygon points="56.7,231.4 58.5,233.5 60.2,235.5 61.8,233.9 63.4,232.5 61.6,230.5 59.9,228.4 58.3,229.9" fill="#ffb900"/>
<polygon points="122.7,234.3 124.6,234.4 126.6,234.5 128,234.4 129.4,234.4 127.4,234.3 125.5,234.2 124.1,234.2" fill="#f9e700"/>
<polygon points="93.1,233.4 94.9,234.5 96.7,235.4 98.2,234.7 99.7,234 97.9,233.1 96.1,232.1 94.6,232.7" fill="#ffdd00"/>
<polygon points="63.4,232.5 65.1,234.4 66.9,236.1 68.5,234.7 70,233.4 68.2,231.6 66.5,229.7 64.9,231.1" fill="#ffca00"/>
<polygon points="129.4,234.4 131.4,234.4 133.3,234.2 134.7,234.3 136.1,234.4 134.1,234.6 132.1,234.6 130.8,234.5" fill="#9f9100"/>
<polygon points="99.7,234 101.6,234.8 103.4,235.5 104.9,234.9 106.4,234.3 104.5,233.6 102.7,232.8 101.2,233.4" fill="#ffe200"/>
<polygon points="70,233.4 71.8,235 73.6,236.6 75.1,235.3 76.7,234.1 74.9,232.6 73.1,230.9 71.6,232.1" fill="#ffd800"/>
<polygon points="106.4,234.3 108.3,234.9 110.2,235.5 111.6,235 113.1,234.6 111.2,234.1 109.3,233.5 107.9,233.9" fill="#ffe300"/>
<polygon points="76.7,234.1 78.5,235.6 80.3,237 81.8,235.8 83.3,234.7 81.5,233.4 79.8,231.9 78.2,233" fill="#ffe100"/>
<polygon points="113.1,234.6 115,234.9 116.9,235.2 118.4,234.9 119.8,234.6 117.9,234.3 116,233.9 114.6,234.2" fill="#fde000"/>
<polygon points="83.3,234.7 85.2,236 87,237.1 88.5,236.1 90,235.1 88.2,234 86.4,232.8 84.9,233.7" fill="#ffe700"/>
<polygon points="53.6,234.7 55.3,236.8 57.1,238.8 58.6,237.1 60.2,235.5 58.5,233.5 56.7,231.4 55.1,233" fill="#ffea00"/>
<polygon points="119.8,234.6 121.8,234.8 123.7,234.9 125.2,234.6 126.6,234.5 124.6,234.4 122.7,234.3 121.3,234.4" fill="#fbd800"/>
<polygon points="90,235.1 91.9,236.2 93.7,237.1 95.2,236.2 96.7,235.4 94.9,234.5 93.1,233.4 91.5,234.3" fill="#ffea00"/>
<polygon points="60.2,235.5 62,237.4 63.7,239.2 65.3,237.6 66.9,236.1 65.1,234.4 63.4,232.5 61.8,233.9" fill="#f9ef01"/>
<polygon points="126.6,234.5 128.5,234.5 130.5,234.3 131.9,234.2 133.3,234.2 131.4,234.4 129.4,234.4 128,234.4" fill="#9d8100"/>
<polygon points="96.7,235.4 98.6,236.2 100.4,237 101.9,236.2 103.4,235.5 101.6,234.8 99.7,234 98.2,234.7" fill="#ffe900"/>
<polygon points="66.9,236.1 68.7,237.8 70.4,239.4 72,238 73.6,236.6 71.8,235 70,233.4 68.5,234.7" fill="#f4f003"/>
<polygon points="133.3,234.2 135.4,234 137.4,233.6 138.8,233.7 140.1,233.8 138.1,234.2 136.1,234.4 134.7,234.3" fill="#9f7b00"/>
<polygon points="103.4,235.5 105.3,236.1 107.2,236.6 108.7,236 110.2,235.5 108.3,234.9 106.4,234.3 104.9,234.9" fill="#ffe500"/>
<polygon points="73.6,236.6 75.4,238.1 77.2,239.5 78.7,238.2 80.3,237 78.5,235.6 76.7,234.1 75.1,235.3" fill="#f0f004"/>
<polygon points="110.2,235.5 112.1,235.9 114,236.2 115.5,235.7 116.9,235.2 115,234.9 113.1,234.6 111.6,235" fill="#ffdd00"/>
<polygon points="80.3,237 82.1,238.2 83.9,239.4 85.4,238.2 87,237.1 85.2,236 83.3,234.7 81.8,235.8" fill="#f0f004"/>
<polygon points="50.4,238.3 52.1,240.4 53.9,242.5 55.5,240.6 57.1,238.8 55.3,236.8 53.6,234.7 52,236.5" fill="#d7f30b"/>
<polygon points="116.9,235.2 118.9,235.4 120.8,235.5 122.3,235.2 123.7,234.9 121.8,234.8 119.8,234.6 118.4,234.9" fill="#fdd000"/>
<polygon points="87,237.1 88.8,238.2 90.6,239.1 92.2,238.1 93.7,237.1 91.9,236.2 90,235.1 88.5,236.1" fill="#f3f003"/>
<polygon points="57.1,238.8 58.8,240.7 60.6,242.6 62.2,240.9 63.7,239.2 62,237.4 60.2,235.5 58.6,237.1" fill="#d2f40c"/>
<polygon points="123.7,234.9 125.7,234.8 127.7,234.7 129.1,234.5 130.5,234.3 128.5,234.5 126.6,234.5 125.2,234.6" fill="#fbbf00"/>
<polygon points="93.7,237.1 95.5,238 97.4,238.7 98.9,237.8 100.4,237 98.6,236.2 96.7,235.4 95.2,236.2" fill="#f8ef02"/>
<polygon points="63.7,239.2 65.5,240.9 67.3,242.5 68.9,240.9 70.4,239.4 68.7,237.8 66.9,236.1 65.3,237.6" fill="#d1f40c"/>
<polygon points="130.5,234.3 132.5,234.1 134.6,233.7 136,233.6 137.4,233.6 135.4,234 133.3,234.2 131.9,234.2" fill="#9d6c00"/>
<polygon points="100.4,237 102.3,237.6 104.2,238.1 105.7,237.3 107.2,236.6 105.3,236.1 103.4,235.5 101.9,236.2" fill="#ffec00"/>
<polygon points="70.4,239.4 72.2,240.9 74,242.3 75.6,240.9 77.2,239.5 75.4,238.1 73.6,236.6 72,238" fill="#d3f40c"/>
<polygon points="137.4,233.6 139.4,233.2 141.5,232.6 142.9,232.6 144.3,232.7 142.2,233.3 140.1,233.8 138.8,233.7" fill="#9f6000"/>
<polygon points="107.2,236.6 109.1,237.1 111,237.4 112.5,236.7 114,236.2 112.1,235.9 110.2,235.5 108.7,236" fill="#ffde00"/>
<polygon points="77.2,239.5 79,240.8 80.8,242 82.3,240.6 83.9,239.4 82.1,238.2 80.3,237 78.7,238.2" fill="#d7f30b"/>
<polygon points="47.2,242.2 49,244.3 50.7,246.4 52.3,244.4 53.9,242.5 52.1,240.4 50.4,238.3 48.8,240.2" fill="#9af617"/>
<polygon points="114,236.2 115.9,236.4 117.9,236.5 119.4,235.9 120.8,235.5 118.9,235.4 116.9,235.2 115.5,235.7" fill="#ffcd00"/>
<polygon points="83.9,239.4 85.7,240.5 87.6,241.5 89.1,240.3 90.6,239.1 88.8,238.2 87,237.1 85.4,238.2" fill="#dff209"/>
<polygon points="53.9,242.5 55.7,244.4 57.4,246.2 59,244.4 60.6,242.6 58.8,240.7 57.1,238.8 55.5,240.6" fill="#9bf616"/>
<polygon points="120.8,235.5 122.8,235.5 124.8,235.4 126.2,235 127.7,234.7 125.7,234.8 123.7,234.9 122.3,235.2" fill="#feb700"/>
<polygon points="90.6,239.1 92.5,240 94.4,240.8 95.9,239.7 97.4,238.7 95.5,238 93.7,237.1 92.2,238.1" fill="#e9f106"/>
<polygon points="60.6,242.6 62.4,244.3 64.1,246 65.7,244.2 67.3,242.5 65.5,240.9 63.7,239.2 62.2,240.9" fill="#a1f616"/>
<polygon points="127.7,234.7 129.7,234.5 131.7,234.1 133.2,233.9 134.6,233.7 132.5,234.1 130.5,234.3 129.1,234.5" fill="#9b6100"/>
<polygon points="97.4,238.7 99.3,239.4 101.2,239.9 102.7,239 104.2,238.1 102.3,237.6 100.4,237 98.9,237.8" fill="#f6ef03"/>
<polygon points="67.3,242.5 69.1,244.1 70.9,245.5 72.5,243.9 74,242.3 72.2,240.9 70.4,239.4 68.9,240.9" fill="#adf715"/>
<polygon points="134.6,233.7 136.6,233.3 138.7,232.7 140.1,232.6 141.5,232.6 139.4,233.2 137.4,233.6 136,233.6" fill="#9d5000"/>
<polygon points="104.2,238.1 106.1,238.6 108,238.9 109.5,238.1 111,237.4 109.1,237.1 107.2,236.6 105.7,237.3" fill="#ffe600"/>
<polygon points="74,242.3 75.8,243.6 77.6,244.9 79.2,243.4 80.8,242 79,240.8 77.2,239.5 75.6,240.9" fill="#b9f713"/>
<polygon points="141.5,232.6 143.6,231.9 145.7,231.1 147.1,231.1 148.5,231.3 146.4,232.1 144.3,232.7 142.9,232.6" fill="#9c3800"/>
<polygon points="44,246.4 45.8,248.5 47.5,250.6 49.1,248.5 50.7,246.4 49,244.3 47.2,242.2 45.6,244.2" fill="#35ed20"/>
<polygon points="111,237.4 113,237.6 114.9,237.7 116.4,237 117.9,236.5 115.9,236.4 114,236.2 112.5,236.7" fill="#ffcf00"/>
<polygon points="80.8,242 82.6,243.1 84.4,244.1 86,242.7 87.6,241.5 85.7,240.5 83.9,239.4 82.3,240.6" fill="#c5f60f"/>
<polygon points="50.7,246.4 52.5,248.4 54.2,250.2 55.8,248.2 57.4,246.2 55.7,244.4 53.9,242.5 52.3,244.4" fill="#3fee1f"/>
<polygon points="117.9,236.5 119.9,236.4 121.9,236.3 123.3,235.8 124.8,235.4 122.8,235.5 120.8,235.5 119.4,235.9" fill="#ffb400"/>
<polygon points="87.6,241.5 89.4,242.3 91.3,243.1 92.8,241.9 94.4,240.8 92.5,240 90.6,239.1 89.1,240.3" fill="#d4f40b"/>
<polygon points="57.4,246.2 59.2,248 61,249.7 62.6,247.8 64.1,246 62.4,244.3 60.6,242.6 59,244.4" fill="#4eef1e"/>
<polygon points="124.8,235.4 126.8,235.1 128.8,234.8 130.3,234.4 131.7,234.1 129.7,234.5 127.7,234.7 126.2,235" fill="#fd9500"/>
<polygon points="94.4,240.8 96.2,241.4 98.1,242 99.7,240.9 101.2,239.9 99.3,239.4 97.4,238.7 95.9,239.7" fill="#e6f107"/>
<polygon points="64.1,246 65.9,247.5 67.7,248.9 69.3,247.2 70.9,245.5 69.1,244.1 67.3,242.5 65.7,244.2" fill="#63f11c"/>
<polygon points="131.7,234.1 133.8,233.7 135.9,233.1 137.3,232.9 138.7,232.7 136.6,233.3 134.6,233.7 133.2,233.9" fill="#994300"/>
<polygon points="101.2,239.9 103.1,240.4 105,240.7 106.5,239.8 108,238.9 106.1,238.6 104.2,238.1 102.7,239" fill="#faef01"/>
<polygon points="70.9,245.5 72.7,246.8 74.5,248.1 76.1,246.4 77.6,244.9 75.8,243.6 74,242.3 72.5,243.9" fill="#7df319"/>
<polygon points="138.7,232.7 140.8,232 142.9,231.2 144.3,231.1 145.7,231.1 143.6,231.9 141.5,232.6 140.1,232.6" fill="#982600"/>
<polygon points="40.8,250.9 42.6,253.1 44.3,255.2 45.9,252.9 47.5,250.6 45.8,248.5 44,246.4 42.4,248.6" fill="#0aee6c"/>
<polygon points="108,238.9 110,239.1 111.9,239.2 113.4,238.4 114.9,237.7 113,237.6 111,237.4 109.5,238.1" fill="#ffd700"/>
<polygon points="77.6,244.9 79.5,246 81.3,247 82.9,245.5 84.4,244.1 82.6,243.1 80.8,242 79.2,243.4" fill="#9cf616"/>
<polygon points="145.7,231.1 147.9,230.2 150,229.1 151.4,229.2 152.8,229.3 150.6,230.3 148.5,231.3 147.1,231.1" fill="#960500"/>
<polygon points="47.5,250.6 49.3,252.6 51,254.5 52.6,252.3 54.2,250.2 52.5,248.4 50.7,246.4 49.1,248.5" fill="#0eed5b"/>
<polygon points="114.9,237.7 116.9,237.7 118.9,237.6 120.4,236.9 121.9,236.3 119.9,236.4 117.9,236.5 116.4,237" fill="#ffb600"/>
<polygon points="84.4,244.1 86.3,245 88.1,245.8 89.7,244.4 91.3,243.1 89.4,242.3 87.6,241.5 86,242.7" fill="#bbf712"/>
<polygon points="54.2,250.2 56,252 57.8,253.7 59.4,251.6 61,249.7 59.2,248 57.4,246.2 55.8,248.2" fill="#12ec45"/>
<polygon points="121.9,236.3 123.9,236.1 125.9,235.8 127.4,235.3 128.8,234.8 126.8,235.1 124.8,235.4 123.3,235.8" fill="#ff9200"/>
<polygon points="91.3,243.1 93.1,243.8 95,244.4 96.6,243.1 98.1,242 96.2,241.4 94.4,240.8 92.8,241.9" fill="#d1f40c"/>
<polygon points="61,249.7 62.7,251.2 64.5,252.7 66.1,250.8 67.7,248.9 65.9,247.5 64.1,246 62.6,247.8" fill="#17eb2b"/>
<polygon points="128.8,234.8 130.9,234.4 133,233.8 134.4,233.4 135.9,233.1 133.8,233.7 131.7,234.1 130.3,234.4" fill="#973a00"/>
<polygon points="98.1,242 100,242.5 101.9,242.8 103.5,241.7 105,240.7 103.1,240.4 101.2,239.9 99.7,240.9" fill="#eaf105"/>
<polygon points="67.7,248.9 69.5,250.3 71.3,251.5 72.9,249.8 74.5,248.1 72.7,246.8 70.9,245.5 69.3,247.2" fill="#32ed21"/>
<polygon points="135.9,233.1 137.9,232.4 140.1,231.6 141.5,231.4 142.9,231.2 140.8,232 138.7,232.7 137.3,232.9" fill="#951900"/>
<polygon points="37.6,255.7 39.4,257.9 41.1,260 42.7,257.5 44.3,255.2 42.6,253.1 40.8,250.9 39.2,253.2" fill="#00eac1"/>
<polygon points="105,240.7 106.9,240.9 108.9,241.1 110.4,240.1 111.9,239.2 110,239.1 108,238.9 106.5,239.8" fill="#ffe500"/>
<polygon points="74.5,248.1 76.3,249.2 78.1,250.2 79.7,248.6 81.3,247 79.5,246 77.6,244.9 76.1,246.4" fill="#5bf11d"/>
<polygon points="142.9,231.2 145.1,230.3 147.2,229.3 148.6,229.2 150,229.1 147.9,230.2 145.7,231.1 144.3,231.1" fill="#940000"/>
<polygon points="44.3,255.2 46.1,257.2 47.8,259.1 49.4,256.8 51,254.5 49.3,252.6 47.5,250.6 45.9,252.9" fill="#00edb2"/>
<polygon points="111.9,239.2 113.9,239.2 115.9,239.2 117.4,238.3 118.9,237.6 116.9,237.7 114.9,237.7 113.4,238.4" fill="#ffbe00"/>
<polygon points="81.3,247 83.2,247.9 85,248.7 86.6,247.2 88.1,245.8 86.3,245 84.4,244.1 82.9,245.5" fill="#88f418"/>
<polygon points="150,229.1 152.2,228 154.4,226.7 155.8,226.8 157.2,226.9 155,228.2 152.8,229.3 151.4,229.2" fill="#960000"/>
<polygon points="51,254.5 52.8,256.3 54.6,258 56.2,255.8 57.8,253.7 56,252 54.2,250.2 52.6,252.3" fill="#00f09f"/>
<polygon points="118.9,237.6 120.9,237.4 122.9,237.1 124.4,236.4 125.9,235.8 123.9,236.1 121.9,236.3 120.4,236.9" fill="#ff9400"/>
<polygon points="88.1,245.8 90,246.5 91.9,247.1 93.5,245.7 95,244.4 93.1,243.8 91.3,243.1 89.7,244.4" fill="#b8f813"/>
<polygon points="57.8,253.7 59.5,255.3 61.3,256.8 62.9,254.7 64.5,252.7 62.7,251.2 61,249.7 59.4,251.6" fill="#07ef7d"/>
<polygon points="125.9,235.8 128,235.3 130,234.8 131.5,234.3 133,233.8 130.9,234.4 128.8,234.8 127.4,235.3" fill="#fa5d00"/>
<polygon points="95,244.4 96.9,244.9 98.8,245.2 100.4,244 101.9,242.8 100,242.5 98.1,242 96.6,243.1" fill="#d6f40b"/>
<polygon points="64.5,252.7 66.3,254.1 68.1,255.4 69.7,253.4 71.3,251.5 69.5,250.3 67.7,248.9 66.1,250.8" fill="#0fed57"/>
<polygon points="133,233.8 135.1,233.1 137.2,232.3 138.6,231.9 140.1,231.6 137.9,232.4 135.9,233.1 134.4,233.4" fill="#931100"/>
<polygon points="34.4,260.8 36.2,263 37.9,265.2 39.5,262.5 41.1,260 39.4,257.9 37.6,255.7 36,258.2" fill="#05d6f7"/>
<polygon points="101.9,242.8 103.9,243.1 105.8,243.2 107.4,242.1 108.9,241.1 106.9,240.9 105,240.7 103.5,241.7" fill="#f6ef02"/>
<polygon points="71.3,251.5 73.1,252.7 75,253.8 76.6,252 78.1,250.2 76.3,249.2 74.5,248.1 72.9,249.8" fill="#17eb2b"/>
<polygon points="140.1,231.6 142.2,230.7 144.4,229.7 145.8,229.4 147.2,229.3 145.1,230.3 142.9,231.2 141.5,231.4" fill="#930000"/>
<polygon points="41.1,260 42.9,262 44.6,264 46.2,261.5 47.8,259.1 46.1,257.2 44.3,255.2 42.7,257.5" fill="#00e1f3"/>
<polygon points="108.9,241.1 110.9,241.1 112.8,241 114.4,240.1 115.9,239.2 113.9,239.2 111.9,239.2 110.4,240.1" fill="#ffcd00"/>
<polygon points="78.1,250.2 80,251.2 81.8,252 83.4,250.3 85,248.7 83.2,247.9 81.3,247 79.7,248.6" fill="#46ef1f"/>
<polygon points="147.2,229.3 149.4,228.1 151.6,226.8 153,226.7 154.4,226.7 152.2,228 150,229.1 148.6,229.2" fill="#950000"/>
<polygon points="47.8,259.1 49.6,260.9 51.3,262.6 53,260.3 54.6,258 52.8,256.3 51,254.5 49.4,256.8" fill="#00e5dc"/>
<polygon points="115.9,239.2 117.9,239 119.9,238.6 121.4,237.8 122.9,237.1 120.9,237.4 118.9,237.6 117.4,238.3" fill="#ff9d00"/>
<polygon points="85,248.7 86.9,249.5 88.8,250.1 90.3,248.5 91.9,247.1 90,246.5 88.1,245.8 86.6,247.2" fill="#82f419"/>
<polygon points="154.4,226.7 156.7,225.3 159,223.8 160.4,223.9 161.7,224 159.4,225.5 157.2,226.9 155.8,226.8" fill="#970000"/>
<polygon points="54.6,258 56.3,259.6 58.1,261.1 59.7,258.9 61.3,256.8 59.5,255.3 57.8,253.7 56.2,255.8" fill="#00eac2"/>
<polygon points="122.9,237.1 125,236.6 127,236.1 128.5,235.4 130,234.8 128,235.3 125.9,235.8 124.4,236.4" fill="#fb6000"/>
<polygon points="91.9,247.1 93.8,247.6 95.7,248 97.3,246.6 98.8,245.2 96.9,244.9 95,244.4 93.5,245.7" fill="#bcf712"/>
<polygon points="61.3,256.8 63.1,258.2 64.9,259.5 66.5,257.4 68.1,255.4 66.3,254.1 64.5,252.7 62.9,254.7" fill="#00efa6"/>
<polygon points="130,234.8 132.1,234.1 134.2,233.3 135.7,232.8 137.2,232.3 135.1,233.1 133,233.8 131.5,234.3" fill="#910e00"/>
<polygon points="31.2,266.2 32.9,268.4 34.7,270.6 36.3,267.8 37.9,265.2 36.2,263 34.4,260.8 32.8,263.4" fill="#1aaaff"/>
<polygon points="98.8,245.2 100.8,245.5 102.7,245.7 104.3,244.4 105.8,243.2 103.9,243.1 101.9,242.8 100.4,244" fill="#e1f208"/>
<polygon points="68.1,255.4 69.9,256.5 71.8,257.6 73.4,255.7 75,253.8 73.1,252.7 71.3,251.5 69.7,253.4" fill="#08ee76"/>
<polygon points="137.2,232.3 139.3,231.4 141.5,230.4 142.9,230 144.4,229.7 142.2,230.7 140.1,231.6 138.6,231.9" fill="#910000"/>
<polygon points="37.9,265.2 39.6,267.2 41.4,269.2 43,266.5 44.6,264 42.9,262 41.1,260 39.5,262.5" fill="#13b8fc"/>
<polygon points="105.8,243.2 107.8,243.3 109.8,243.2 111.3,242.1 112.8,241 110.9,241.1 108.9,241.1 107.4,242.1" fill="#ffe100"/>
<polygon points="75,253.8 76.8,254.7 78.7,255.6 80.3,253.8 81.8,252 80,251.2 78.1,250.2 76.6,252" fill="#14ec3e"/>
<polygon points="144.4,229.7 146.6,228.5 148.8,227.3 150.2,227 151.6,226.8 149.4,228.1 147.2,229.3 145.8,229.4" fill="#930000"/>
<polygon points="44.6,264 46.4,265.8 48.1,267.6 49.7,265.1 51.3,262.6 49.6,260.9 47.8,259.1 46.2,261.5" fill="#0bc9f9"/>
<polygon points="112.8,241 114.8,240.8 116.9,240.5 118.4,239.6 119.9,238.6 117.9,239 115.9,239.2 114.4,240.1" fill="#ffab00"/>
<polygon points="81.8,252 83.7,252.7 85.6,253.4 87.2,251.7 88.8,250.1 86.9,249.5 85,248.7 83.4,250.3" fill="#3fee1f"/>
<polygon points="151.6,226.8 153.9,225.4 156.2,223.9 157.6,223.8 159,223.8 156.7,225.3 154.4,226.7 153,226.7" fill="#950000"/>
<polygon points="51.3,262.6 53.1,264.3 54.9,265.8 56.5,263.4 58.1,261.1 56.3,259.6 54.6,258 53,260.3" fill="#03dbf6"/>
<polygon points="119.9,238.6 122,238.2 124,237.7 125.5,236.8 127,236.1 125,236.6 122.9,237.1 121.4,237.8" fill="#fc6b00"/>
<polygon points="88.8,250.1 90.6,250.6 92.6,251 94.1,249.4 95.7,248 93.8,247.6 91.9,247.1 90.3,248.5" fill="#89f418"/>
<polygon points="159,223.8 161.3,222.2 163.6,220.4 165,220.5 166.4,220.6 164,222.4 161.7,224 160.4,223.9" fill="#970000"/>
<polygon points="58.1,261.1 59.9,262.6 61.7,263.9 63.3,261.6 64.9,259.5 63.1,258.2 61.3,256.8 59.7,258.9" fill="#00e5de"/>
<polygon points="127,236.1 129.1,235.4 131.3,234.7 132.7,234 134.2,233.3 132.1,234.1 130,234.8 128.5,235.4" fill="#f31c00"/>
<polygon points="28,271.9 29.7,274.1 31.5,276.3 33.1,273.4 34.7,270.6 32.9,268.4 31.2,266.2 29.6,269" fill="#4e88ff"/>
<polygon points="95.7,248 97.6,248.3 99.6,248.4 101.1,247 102.7,245.7 100.8,245.5 98.8,245.2 97.3,246.6" fill="#c7f50f"/>
<polygon points="64.9,259.5 66.7,260.7 68.6,261.8 70.2,259.7 71.8,257.6 69.9,256.5 68.1,255.4 66.5,257.4" fill="#00ecb9"/>
<polygon points="134.2,233.3 136.4,232.4 138.5,231.4 140,230.9 141.5,230.4 139.3,231.4 137.2,232.3 135.7,232.8" fill="#900000"/>
<polygon points="34.7,270.6 36.4,272.7 38.2,274.7 39.8,271.9 41.4,269.2 39.6,267.2 37.9,265.2 36.3,267.8" fill="#3a95ff"/>
<polygon points="102.7,245.7 104.7,245.7 106.6,245.7 108.2,244.4 109.8,243.2 107.8,243.3 105.8,243.2 104.3,244.4" fill="#f4ef03"/>
<polygon points="71.8,257.6 73.6,258.6 75.4,259.5 77.1,257.5 78.7,255.6 76.8,254.7 75,253.8 73.4,255.7" fill="#05ef89"/>
<polygon points="141.5,230.4 143.7,229.2 145.9,228 147.3,227.6 148.8,227.3 146.6,228.5 144.4,229.7 142.9,230" fill="#920000"/>
<polygon points="41.4,269.2 43.1,271 44.9,272.8 46.5,270.2 48.1,267.6 46.4,265.8 44.6,264 43,266.5" fill="#25a2ff"/>
<polygon points="109.8,243.2 111.8,243 113.8,242.7 115.3,241.6 116.9,240.5 114.8,240.8 112.8,241 111.3,242.1" fill="#ffc000"/>
<polygon points="78.7,255.6 80.5,256.4 82.4,257 84,255.2 85.6,253.4 83.7,252.7 81.8,252 80.3,253.8" fill="#12ec44"/>
<polygon points="148.8,227.3 151,225.9 153.3,224.3 154.7,224.1 156.2,223.9 153.9,225.4 151.6,226.8 150.2,227" fill="#940000"/>
<polygon points="48.1,267.6 49.9,269.2 51.7,270.8 53.3,268.3 54.9,265.8 53.1,264.3 51.3,262.6 49.7,265.1" fill="#15b4fd"/>
<polygon points="116.9,240.5 118.9,240.1 121,239.6 122.5,238.6 124,237.7 122,238.2 119.9,238.6 118.4,239.6" fill="#fe7f00"/>
<polygon points="85.6,253.4 87.5,253.9 89.4,254.4 91,252.6 92.6,251 90.6,250.6 88.8,250.1 87.2,251.7" fill="#46ef1f"/>
<polygon points="156.2,223.9 158.5,222.3 160.8,220.5 162.2,220.4 163.6,220.4 161.3,222.2 159,223.8 157.6,223.8" fill="#960000"/>
<polygon points="54.9,265.8 56.7,267.3 58.5,268.6 60.1,266.2 61.7,263.9 59.9,262.6 58.1,261.1 56.5,263.4" fill="#0acbf9"/>
<polygon points="124,237.7 126.1,237 128.2,236.3 129.7,235.4 131.3,234.7 129.1,235.4 127,236.1 125.5,236.8" fill="#f42800"/>
<polygon points="92.6,251 94.5,251.3 96.4,251.5 98,249.9 99.6,248.4 97.6,248.3 95.7,248 94.1,249.4" fill="#9ef616"/>
<polygon points="61.7,263.9 63.5,265.1 65.3,266.2 66.9,264 68.6,261.8 66.7,260.7 64.9,259.5 63.3,261.6" fill="#00e2f1"/>
<polygon points="131.3,234.7 133.4,233.8 135.5,232.7 137,232 138.5,231.4 136.4,232.4 134.2,233.3 132.7,234" fill="#8e0000"/>
<polygon points="31.5,276.3 33.2,278.5 34.9,280.5 36.6,277.5 38.2,274.7 36.4,272.7 34.7,270.6 33.1,273.4" fill="#6b7bff"/>
<polygon points="99.6,248.4 101.5,248.5 103.5,248.5 105.1,247 106.6,245.7 104.7,245.7 102.7,245.7 101.1,247" fill="#daf30a"/>
<polygon points="68.6,261.8 70.4,262.8 72.2,263.7 73.8,261.5 75.4,259.5 73.6,258.6 71.8,257.6 70.2,259.7" fill="#00e9c5"/>
<polygon points="138.5,231.4 140.7,230.3 142.9,229 144.4,228.5 145.9,228 143.7,229.2 141.5,230.4 140,230.9" fill="#900000"/>
<polygon points="38.2,274.7 39.9,276.6 41.7,278.4 43.3,275.6 44.9,272.8 43.1,271 41.4,269.2 39.8,271.9" fill="#5683ff"/>
<polygon points="106.6,245.7 108.6,245.5 110.7,245.3 112.2,244 113.8,242.7 111.8,243 109.8,243.2 108.2,244.4" fill="#ffdb00"/>
<polygon points="75.4,259.5 77.3,260.3 79.2,260.9 80.8,258.9 82.4,257 80.5,256.4 78.7,255.6 77.1,257.5" fill="#03ef90"/>
<polygon points="145.9,228 148.1,226.6 150.4,225.1 151.9,224.7 153.3,224.3 151,225.9 148.8,227.3 147.3,227.6" fill="#920000"/>
<polygon points="44.9,272.8 46.7,274.5 48.4,276.1 50.1,273.4 51.7,270.8 49.9,269.2 48.1,267.6 46.5,270.2" fill="#3c93ff"/>
<polygon points="113.8,242.7 115.8,242.3 117.9,241.8 119.4,240.7 121,239.6 118.9,240.1 116.9,240.5 115.3,241.6" fill="#ff9600"/>
<polygon points="82.4,257 84.3,257.6 86.2,258 87.8,256.2 89.4,254.4 87.5,253.9 85.6,253.4 84,255.2" fill="#13ec3f"/>
<polygon points="153.3,224.3 155.6,222.7 158,220.9 159.4,220.7 160.8,220.5 158.5,222.3 156.2,223.9 154.7,224.1" fill="#940000"/>
<polygon points="51.7,270.8 53.5,272.3 55.2,273.6 56.9,271.1 58.5,268.6 56.7,267.3 54.9,265.8 53.3,268.3" fill="#20a5ff"/>
<polygon points="121,239.6 123.1,239 125.2,238.2 126.7,237.2 128.2,236.3 126.1,237 124,237.7 122.5,238.6" fill="#f73b00"/>
<polygon points="89.4,254.4 91.3,254.7 93.2,254.9 94.8,253.2 96.4,251.5 94.5,251.3 92.6,251 91,252.6" fill="#5bf11d"/>
<polygon points="58.5,268.6 60.3,269.9 62.1,271 63.7,268.6 65.3,266.2 63.5,265.1 61.7,263.9 60.1,266.2" fill="#10bffb"/>
<polygon points="128.2,236.3 130.4,235.4 132.5,234.4 134,233.5 135.5,232.7 133.4,233.8 131.3,234.7 129.7,235.4" fill="#f00000"/>
<polygon points="96.4,251.5 98.4,251.6 100.3,251.6 101.9,250 103.5,248.5 101.5,248.5 99.6,248.4 98,249.9" fill="#bbf712"/>
<polygon points="65.3,266.2 67.2,267.3 69,268.2 70.6,265.9 72.2,263.7 70.4,262.8 68.6,261.8 66.9,264" fill="#02dcf6"/>
<polygon points="135.5,232.7 137.7,231.6 139.9,230.4 141.5,229.6 142.9,229 140.7,230.3 138.5,231.4 137,232" fill="#8f0000"/>
<polygon points="34.9,280.5 36.7,282.4 38.4,284.2 40.1,281.3 41.7,278.4 39.9,276.6 38.2,274.7 36.6,277.5" fill="#8279ff"/>
<polygon points="103.5,248.5 105.5,248.3 107.5,248.1 109.1,246.6 110.7,245.3 108.6,245.5 106.6,245.7 105.1,247" fill="#f4ef03"/>
<polygon points="72.2,263.7 74.1,264.5 75.9,265.2 77.6,263 79.2,260.9 77.3,260.3 75.4,259.5 73.8,261.5" fill="#00e9ca"/>
<polygon points="142.9,229 145.2,227.6 147.5,226.1 148.9,225.5 150.4,225.1 148.1,226.6 145.9,228 144.4,228.5" fill="#910000"/>
<polygon points="41.7,278.4 43.4,280.1 45.2,281.7 46.8,278.9 48.4,276.1 46.7,274.5 44.9,272.8 43.3,275.6" fill="#6b7cff"/>
<polygon points="110.7,245.3 112.7,244.9 114.7,244.4 116.3,243.1 117.9,241.8 115.8,242.3 113.8,242.7 112.2,244" fill="#ffb100"/>
<polygon points="79.2,260.9 81.1,261.5 82.9,262 84.6,260 86.2,258 84.3,257.6 82.4,257 80.8,258.9" fill="#04ef8a"/>
<polygon points="150.4,225.1 152.7,223.4 155.1,221.6 156.5,221.2 158,220.9 155.6,222.7 153.3,224.3 151.9,224.7" fill="#930000"/>
<polygon points="48.4,276.1 50.2,277.6 52,279 53.6,276.3 55.2,273.6 53.5,272.3 51.7,270.8 50.1,273.4" fill="#4e88ff"/>
<polygon points="117.9,241.8 120,241.2 122.1,240.5 123.6,239.3 125.2,238.2 123.1,239 121,239.6 119.4,240.7" fill="#fa5700"/>
<polygon points="86.2,258 88.1,258.4 90,258.6 91.6,256.7 93.2,254.9 91.3,254.7 89.4,254.4 87.8,256.2" fill="#17eb2d"/>
<polygon points="55.2,273.6 57,274.9 58.8,276.1 60.5,273.5 62.1,271 60.3,269.9 58.5,268.6 56.9,271.1" fill="#2d9dff"/>
<polygon points="125.2,238.2 127.3,237.3 129.4,236.4 131,235.3 132.5,234.4 130.4,235.4 128.2,236.3 126.7,237.2" fill="#f00000"/>
<polygon points="93.2,254.9 95.2,255 97.1,255 98.7,253.3 100.3,251.6 98.4,251.6 96.4,251.5 94.8,253.2" fill="#7df319"/>
<polygon points="62.1,271 63.9,272.1 65.7,273 67.4,270.6 69,268.2 67.2,267.3 65.3,266.2 63.7,268.6" fill="#13b7fd"/>
<polygon points="132.5,234.4 134.7,233.3 136.9,232 138.4,231.1 139.9,230.4 137.7,231.6 135.5,232.7 134,233.5" fill="#f00000"/>
<polygon points="100.3,251.6 102.3,251.5 104.3,251.3 105.9,249.6 107.5,248.1 105.5,248.3 103.5,248.5 101.9,250" fill="#d5f40b"/>
<polygon points="69,268.2 70.8,269 72.7,269.8 74.3,267.4 75.9,265.2 74.1,264.5 72.2,263.7 70.6,265.9" fill="#04d9f6"/>
<polygon points="139.9,230.4 142.2,229 144.5,227.5 146,226.7 147.5,226.1 145.2,227.6 142.9,229 141.5,229.6" fill="#900000"/>
<polygon points="38.4,284.2 40.2,285.9 42,287.6 43.6,284.6 45.2,281.7 43.4,280.1 41.7,278.4 40.1,281.3" fill="#8778ff"/>
<polygon points="107.5,248.1 109.5,247.7 111.6,247.3 113.2,245.8 114.7,244.4 112.7,244.9 110.7,245.3 109.1,246.6" fill="#ffd200"/>
<polygon points="75.9,265.2 77.8,265.8 79.7,266.3 81.3,264.1 82.9,262 81.1,261.5 79.2,260.9 77.6,263" fill="#00e9c6"/>
<polygon points="147.5,226.1 149.8,224.5 152.1,222.7 153.6,222.1 155.1,221.6 152.7,223.4 150.4,225.1 148.9,225.5" fill="#920000"/>
<polygon points="45.2,281.7 47,283.2 48.7,284.6 50.4,281.8 52,279 50.2,277.6 48.4,276.1 46.8,278.9" fill="#797aff"/>
<polygon points="114.7,244.4 116.8,243.8 118.9,243.1 120.5,241.7 122.1,240.5 120,241.2 117.9,241.8 116.3,243.1" fill="#fe7b00"/>
<polygon points="82.9,262 84.8,262.4 86.8,262.7 88.4,260.6 90,258.6 88.1,258.4 86.2,258 84.6,260" fill="#08ee79"/>
<polygon points="52,279 53.8,280.3 55.6,281.5 57.2,278.8 58.8,276.1 57,274.9 55.2,273.6 53.6,276.3" fill="#5b7fff"/>
<polygon points="122.1,240.5 124.2,239.6 126.3,238.6 127.9,237.5 129.4,236.4 127.3,237.3 125.2,238.2 123.6,239.3" fill="#f10800"/>
<polygon points="90,258.6 91.9,258.8 93.9,258.8 95.5,256.9 97.1,255 95.2,255 93.2,254.9 91.6,256.7" fill="#30ed21"/>
<polygon points="58.8,276.1 60.7,277.2 62.5,278.2 64.1,275.6 65.7,273 63.9,272.1 62.1,271 60.5,273.5" fill="#3598ff"/>
<polygon points="129.4,236.4 131.6,235.2 133.8,234 135.4,233 136.9,232 134.7,233.3 132.5,234.4 131,235.3" fill="#f00000"/>
<polygon points="97.1,255 99.1,254.9 101.1,254.7 102.7,253 104.3,251.3 102.3,251.5 100.3,251.6 98.7,253.3" fill="#adf715"/>
<polygon points="65.7,273 67.6,273.9 69.4,274.6 71.1,272.2 72.7,269.8 70.8,269 69,268.2 67.4,270.6" fill="#14b5fd"/>
<polygon points="136.9,232 139.1,230.6 141.4,229.1 142.9,228.3 144.5,227.5 142.2,229 139.9,230.4 138.4,231.1" fill="#8e0000"/>
<polygon points="104.3,251.3 106.3,250.9 108.4,250.5 110,248.8 111.6,247.3 109.5,247.7 107.5,248.1 105.9,249.6" fill="#f6ef02"/>
<polygon points="72.7,269.8 74.6,270.4 76.4,270.9 78.1,268.6 79.7,266.3 77.8,265.8 75.9,265.2 74.3,267.4" fill="#03dbf6"/>
<polygon points="144.5,227.5 146.8,225.8 149.1,224 150.6,223.3 152.1,222.7 149.8,224.5 147.5,226.1 146,226.7" fill="#900000"/>
<polygon points="42,287.6 43.7,289.1 45.5,290.6 47.1,287.6 48.7,284.6 47,283.2 45.2,281.7 43.6,284.6" fill="#8778ff"/>
<polygon points="111.6,247.3 113.7,246.7 115.7,246 117.3,244.5 118.9,243.1 116.8,243.8 114.7,244.4 113.2,245.8" fill="#ff9f00"/>
<polygon points="79.7,266.3 81.6,266.7 83.5,267 85.1,264.8 86.8,262.7 84.8,262.4 82.9,262 81.3,264.1" fill="#00ebbc"/>
<polygon points="48.7,284.6 50.5,286 52.3,287.2 54,284.3 55.6,281.5 53.8,280.3 52,279 50.4,281.8" fill="#8478ff"/>
<polygon points="118.9,243.1 121,242.2 123.2,241.3 124.8,239.9 126.3,238.6 124.2,239.6 122.1,240.5 120.5,241.7" fill="#f52c00"/>
<polygon points="86.8,262.7 88.7,262.8 90.7,262.9 92.3,260.8 93.9,258.8 91.9,258.8 90,258.6 88.4,260.6" fill="#0eed5b"/>
<polygon points="55.6,281.5 57.4,282.6 59.2,283.6 60.8,280.9 62.5,278.2 60.7,277.2 58.8,276.1 57.2,278.8" fill="#637dff"/>
<polygon points="126.3,238.6 128.5,237.5 130.7,236.3 132.3,235.1 133.8,234 131.6,235.2 129.4,236.4 127.9,237.5" fill="#f00000"/>
<polygon points="93.9,258.8 95.9,258.7 97.9,258.5 99.5,256.6 101.1,254.7 99.1,254.9 97.1,255 95.5,256.9" fill="#60f11c"/>
<polygon points="62.5,278.2 64.3,279.1 66.1,279.8 67.8,277.2 69.4,274.6 67.6,273.9 65.7,273 64.1,275.6" fill="#3996ff"/>
<polygon points="133.8,234 136.1,232.6 138.3,231.1 139.9,230.1 141.4,229.1 139.1,230.6 136.9,232 135.4,233" fill="#f00000"/>
<polygon points="101.1,254.7 103.1,254.4 105.2,254 106.8,252.2 108.4,250.5 106.3,250.9 104.3,251.3 102.7,253" fill="#d1f40c"/>
<polygon points="69.4,274.6 71.3,275.3 73.2,275.9 74.8,273.4 76.4,270.9 74.6,270.4 72.7,269.8 71.1,272.2" fill="#13b6fd"/>
<polygon points="141.4,229.1 143.7,227.5 146,225.7 147.6,224.8 149.1,224 146.8,225.8 144.5,227.5 142.9,228.3" fill="#8f0000"/>
<polygon points="108.4,250.5 110.5,249.9 112.5,249.2 114.1,247.5 115.7,246 113.7,246.7 111.6,247.3 110,248.8" fill="#ffc700"/>
<polygon points="76.4,270.9 78.3,271.4 80.2,271.7 81.9,269.3 83.5,267 81.6,266.7 79.7,266.3 78.1,268.6" fill="#00e1f5"/>
<polygon points="45.5,290.6 47.3,291.9 49.1,293.2 50.7,290.2 52.3,287.2 50.5,286 48.7,284.6 47.1,287.6" fill="#8778ff"/>
<polygon points="115.7,246 117.9,245.1 120,244.2 121.6,242.7 123.2,241.3 121,242.2 118.9,243.1 117.3,244.5" fill="#fa5900"/>
<polygon points="83.5,267 85.4,267.2 87.4,267.3 89,265 90.7,262.9 88.7,262.8 86.8,262.7 85.1,264.8" fill="#00eeaa"/>
<polygon points="52.3,287.2 54.1,288.3 55.9,289.4 57.6,286.5 59.2,283.6 57.4,282.6 55.6,281.5 54,284.3" fill="#8778ff"/>
<polygon points="123.2,241.3 125.3,240.2 127.5,239 129.1,237.6 130.7,236.3 128.5,237.5 126.3,238.6 124.8,239.9" fill="#f00000"/>
<polygon points="90.7,262.9 92.6,262.8 94.6,262.7 96.2,260.6 97.9,258.5 95.9,258.7 93.9,258.8 92.3,260.8" fill="#16ec31"/>
<polygon points="59.2,283.6 61,284.5 62.9,285.3 64.5,282.6 66.1,279.8 64.3,279.1 62.5,278.2 60.8,280.9" fill="#667cff"/>
<polygon points="130.7,236.3 132.9,235 135.2,233.5 136.8,232.3 138.3,231.1 136.1,232.6 133.8,234 132.3,235.1" fill="#f00000"/>
<polygon points="97.9,258.5 99.9,258.2 101.9,257.8 103.5,255.9 105.2,254 103.1,254.4 101.1,254.7 99.5,256.6" fill="#9df616"/>
<polygon points="66.1,279.8 68,280.5 69.9,281.1 71.5,278.4 73.2,275.9 71.3,275.3 69.4,274.6 67.8,277.2" fill="#3797ff"/>
<polygon points="138.3,231.1 140.6,229.5 142.9,227.7 144.5,226.7 146,225.7 143.7,227.5 141.4,229.1 139.9,230.1" fill="#8e0000"/>
<polygon points="105.2,254 107.2,253.4 109.3,252.8 110.9,250.9 112.5,249.2 110.5,249.9 108.4,250.5 106.8,252.2" fill="#f9ef01"/>
<polygon points="73.2,275.9 75,276.3 76.9,276.7 78.6,274.1 80.2,271.7 78.3,271.4 76.4,270.9 74.8,273.4" fill="#11bcfc"/>
<polygon points="112.5,249.2 114.6,248.4 116.8,247.5 118.4,245.8 120,244.2 117.9,245.1 115.7,246 114.1,247.5" fill="#ff8b00"/>
<polygon points="80.2,271.7 82.2,271.9 84.1,272 85.7,269.6 87.4,267.3 85.4,267.2 83.5,267 81.9,269.3" fill="#00e4e3"/>
<polygon points="49.1,293.2 50.8,294.4 52.6,295.4 54.3,292.4 55.9,289.4 54.1,288.3 52.3,287.2 50.7,290.2" fill="#8778ff"/>
<polygon points="120,244.2 122.2,243.1 124.3,241.9 125.9,240.4 127.5,239 125.3,240.2 123.2,241.3 121.6,242.7" fill="#f00000"/>
<polygon points="87.4,267.3 89.3,267.3 91.3,267.1 93,264.8 94.6,262.7 92.6,262.8 90.7,262.9 89,265" fill="#05ef86"/>
<polygon points="55.9,289.4 57.7,290.3 59.6,291.2 61.2,288.2 62.9,285.3 61,284.5 59.2,283.6 57.6,286.5" fill="#8778ff"/>
<polygon points="127.5,239 129.8,237.6 132,236.1 133.6,234.8 135.2,233.5 132.9,235 130.7,236.3 129.1,237.6" fill="#f00000"/>
<polygon points="94.6,262.7 96.6,262.4 98.6,262 100.3,259.9 101.9,257.8 99.9,258.2 97.9,258.5 96.2,260.6" fill="#46ef1f"/>
<polygon points="62.9,285.3 64.7,286.1 66.6,286.7 68.2,283.9 69.9,281.1 68,280.5 66.1,279.8 64.5,282.6" fill="#647cff"/>
<polygon points="135.2,233.5 137.5,231.9 139.8,230.1 141.4,228.9 142.9,227.7 140.6,229.5 138.3,231.1 136.8,232.3" fill="#f00000"/>
<polygon points="101.9,257.8 104,257.3 106,256.7 107.7,254.7 109.3,252.8 107.2,253.4 105.2,254 103.5,255.9" fill="#d0f40d"/>
<polygon points="69.9,281.1 71.7,281.6 73.6,282 75.3,279.3 76.9,276.7 75,276.3 73.2,275.9 71.5,278.4" fill="#319bff"/>
<polygon points="109.3,252.8 111.4,252 113.5,251.1 115.1,249.2 116.8,247.5 114.6,248.4 112.5,249.2 110.9,250.9" fill="#ffba00"/>
<polygon points="76.9,276.7 78.9,276.9 80.8,277 82.4,274.5 84.1,272 82.2,271.9 80.2,271.7 78.6,274.1" fill="#0cc7fa"/>
<polygon points="116.8,247.5 118.9,246.4 121.1,245.2 122.7,243.5 124.3,241.9 122.2,243.1 120,244.2 118.4,245.8" fill="#f63300"/>
<polygon points="84.1,272 86,272 88,271.9 89.7,269.5 91.3,267.1 89.3,267.3 87.4,267.3 85.7,269.6" fill="#00e9c9"/>
<polygon points="52.6,295.4 54.5,296.4 56.3,297.3 57.9,294.2 59.6,291.2 57.7,290.3 55.9,289.4 54.3,292.4" fill="#8778ff"/>
<polygon points="124.3,241.9 126.6,240.6 128.8,239.2 130.4,237.6 132,236.1 129.8,237.6 127.5,239 125.9,240.4" fill="#f00000"/>
<polygon points="91.3,267.1 93.3,266.9 95.3,266.5 97,264.2 98.6,262 96.6,262.4 94.6,262.7 93,264.8" fill="#10ed50"/>
<polygon points="59.6,291.2 61.4,291.9 63.3,292.5 64.9,289.6 66.6,286.7 64.7,286.1 62.9,285.3 61.2,288.2" fill="#8778ff"/>
<polygon points="132,236.1 134.3,234.5 136.6,232.8 138.2,231.4 139.8,230.1 137.5,231.9 135.2,233.5 133.6,234.8" fill="#f00000"/>
<polygon points="98.6,262 100.7,261.5 102.7,260.9 104.4,258.7 106,256.7 104,257.3 101.9,257.8 100.3,259.9" fill="#91f517"/>
<polygon points="66.6,286.7 68.4,287.2 70.3,287.6 72,284.7 73.6,282 71.7,281.6 69.9,281.1 68.2,283.9" fill="#5f7dff"/>
<polygon points="106,256.7 108.1,255.9 110.2,255 111.9,253 113.5,251.1 111.4,252 109.3,252.8 107.7,254.7" fill="#ffee00"/>
<polygon points="73.6,282 75.5,282.2 77.5,282.4 79.1,279.7 80.8,277 78.9,276.9 76.9,276.7 75.3,279.3" fill="#25a2ff"/>
<polygon points="113.5,251.1 115.7,250 117.8,248.9 119.5,247 121.1,245.2 118.9,246.4 116.8,247.5 115.1,249.2" fill="#fc6f00"/>
<polygon points="80.8,277 82.7,277.1 84.7,277 86.3,274.4 88,271.9 86,272 84.1,272 82.4,274.5" fill="#05d6f7"/>
<polygon points="121.1,245.2 123.3,243.9 125.5,242.5 127.2,240.8 128.8,239.2 126.6,240.6 124.3,241.9 122.7,243.5" fill="#f00000"/>
<polygon points="88,271.9 90,271.7 92,271.3 93.7,268.9 95.3,266.5 93.3,266.9 91.3,267.1 89.7,269.5" fill="#00efa8"/>
<polygon points="56.3,297.3 58.1,298.1 59.9,298.7 61.6,295.6 63.3,292.5 61.4,291.9 59.6,291.2 57.9,294.2" fill="#8778ff"/>
<polygon points="128.8,239.2 131.1,237.6 133.4,235.8 135,234.3 136.6,232.8 134.3,234.5 132,236.1 130.4,237.6" fill="#f00000"/>
<polygon points="95.3,266.5 97.4,266 99.4,265.4 101.1,263.1 102.7,260.9 100.7,261.5 98.6,262 97,264.2" fill="#31ed21"/>
<polygon points="63.3,292.5 65.1,293.1 67,293.5 68.7,290.5 70.3,287.6 68.4,287.2 66.6,286.7 64.9,289.6" fill="#8778ff"/>
<polygon points="102.7,260.9 104.8,260.1 106.9,259.3 108.6,257.1 110.2,255 108.1,255.9 106,256.7 104.4,258.7" fill="#d1f40c"/>
<polygon points="70.3,287.6 72.2,287.9 74.1,288.1 75.8,285.2 77.5,282.4 75.5,282.2 73.6,282 72,284.7" fill="#5484ff"/>
<polygon points="110.2,255 112.4,254 114.5,252.9 116.2,250.8 117.8,248.9 115.7,250 113.5,251.1 111.9,253" fill="#ffa900"/>
<polygon points="77.5,282.4 79.4,282.5 81.3,282.4 83,279.7 84.7,277 82.7,277.1 80.8,277 79.1,279.7" fill="#17aefe"/>
<polygon points="117.8,248.9 120,247.6 122.2,246.2 123.9,244.3 125.5,242.5 123.3,243.9 121.1,245.2 119.5,247" fill="#f10a00"/>
<polygon points="84.7,277 86.7,276.8 88.7,276.5 90.3,273.9 92,271.3 90,271.7 88,271.9 86.3,274.4" fill="#00e3e7"/>
<polygon points="125.5,242.5 127.8,240.9 130.1,239.2 131.7,237.5 133.4,235.8 131.1,237.6 128.8,239.2 127.2,240.8" fill="#f00000"/>
<polygon points="92,271.3 94,270.9 96.1,270.3 97.7,267.8 99.4,265.4 97.4,266 95.3,266.5 93.7,268.9" fill="#0aee6c"/>
<polygon points="59.9,298.7 61.8,299.3 63.7,299.8 65.3,296.6 67,293.5 65.1,293.1 63.3,292.5 61.6,295.6" fill="#8778ff"/>
<polygon points="99.4,265.4 101.5,264.7 103.6,263.9 105.2,261.5 106.9,259.3 104.8,260.1 102.7,260.9 101.1,263.1" fill="#89f418"/>
<polygon points="67,293.5 68.9,293.9 70.8,294.1 72.4,291 74.1,288.1 72.2,287.9 70.3,287.6 68.7,290.5" fill="#7f79ff"/>
<polygon points="106.9,259.3 109,258.3 111.2,257.2 112.9,255 114.5,252.9 112.4,254 110.2,255 108.6,257.1" fill="#ffe400"/>
<polygon points="74.1,288.1 76,288.2 78,288.2 79.7,285.2 81.3,282.4 79.4,282.5 77.5,282.4 75.8,285.2" fill="#448eff"/>
<polygon points="114.5,252.9 116.7,251.6 118.9,250.2 120.6,248.2 122.2,246.2 120,247.6 117.8,248.9 116.2,250.8" fill="#f94f00"/>
<polygon points="81.3,282.4 83.3,282.3 85.3,282 87,279.2 88.7,276.5 86.7,276.8 84.7,277 83,279.7" fill="#0fc1fb"/>
<polygon points="122.2,246.2 124.5,244.6 126.8,243 128.4,241 130.1,239.2 127.8,240.9 125.5,242.5 123.9,244.3" fill="#f00000"/>
<polygon points="88.7,276.5 90.7,276.1 92.7,275.5 94.4,272.9 96.1,270.3 94,270.9 92,271.3 90.3,273.9" fill="#00ebbf"/>
<polygon points="96.1,270.3 98.1,269.6 100.2,268.8 101.9,266.3 103.6,263.9 101.5,264.7 99.4,265.4 97.7,267.8" fill="#1eeb22"/>
<polygon points="63.7,299.8 65.5,300.1 67.4,300.4 69.1,297.2 70.8,294.1 68.9,293.9 67,293.5 65.3,296.6" fill="#8778ff"/>
<polygon points="103.6,263.9 105.7,262.9 107.8,261.9 109.5,259.5 111.2,257.2 109,258.3 106.9,259.3 105.2,261.5" fill="#d3f40c"/>
<polygon points="70.8,294.1 72.7,294.2 74.6,294.2 76.3,291.2 78,288.2 76,288.2 74.1,288.1 72.4,291" fill="#727bff"/>
<polygon points="111.2,257.2 113.4,256 115.6,254.6 117.3,252.4 118.9,250.2 116.7,251.6 114.5,252.9 112.9,255" fill="#ff9700"/>
<polygon points="78,288.2 79.9,288 81.9,287.8 83.6,284.8 85.3,282 83.3,282.3 81.3,282.4 79.7,285.2" fill="#2f9cff"/>
<polygon points="118.9,250.2 121.2,248.7 123.4,247 125.1,245 126.8,243 124.5,244.6 122.2,246.2 120.6,248.2" fill="#f00000"/>
<polygon points="85.3,282 87.3,281.6 89.3,281.1 91,278.3 92.7,275.5 90.7,276.1 88.7,276.5 87,279.2" fill="#04d9f7"/>
<polygon points="92.7,275.5 94.7,274.9 96.8,274.1 98.5,271.4 100.2,268.8 98.1,269.6 96.1,270.3 94.4,272.9" fill="#05ef85"/>
<polygon points="100.2,268.8 102.3,267.9 104.4,266.9 106.1,264.3 107.8,261.9 105.7,262.9 103.6,263.9 101.9,266.3" fill="#84f419"/>
<polygon points="67.4,300.4 69.3,300.6 71.2,300.6 72.9,297.4 74.6,294.2 72.7,294.2 70.8,294.1 69.1,297.2" fill="#8778ff"/>
<polygon points="107.8,261.9 110,260.7 112.2,259.3 113.9,256.9 115.6,254.6 113.4,256 111.2,257.2 109.5,259.5" fill="#ffd800"/>
<polygon points="74.6,294.2 76.6,294.1 78.5,293.9 80.2,290.8 81.9,287.8 79.9,288 78,288.2 76.3,291.2" fill="#617dff"/>
<polygon points="115.6,254.6 117.8,253.1 120.1,251.5 121.7,249.2 123.4,247 121.2,248.7 118.9,250.2 117.3,252.4" fill="#f52b00"/>
<polygon points="81.9,287.8 83.9,287.4 85.9,287 87.6,284 89.3,281.1 87.3,281.6 85.3,282 83.6,284.8" fill="#18adfe"/>
<polygon points="89.3,281.1 91.3,280.5 93.4,279.7 95.1,276.9 96.8,274.1 94.7,274.9 92.7,275.5 91,278.3" fill="#00e7d3"/>
<polygon points="96.8,274.1 98.9,273.2 101,272.2 102.7,269.5 104.4,266.9 102.3,267.9 100.2,268.8 98.5,271.4" fill="#17eb2b"/>
<polygon points="104.4,266.9 106.6,265.7 108.8,264.4 110.5,261.8 112.2,259.3 110,260.7 107.8,261.9 106.1,264.3" fill="#d8f30a"/>
<polygon points="71.2,300.6 73.2,300.6 75.1,300.4 76.8,297.1 78.5,293.9 76.6,294.1 74.6,294.2 72.9,297.4" fill="#8778ff"/>
<polygon points="112.2,259.3 114.4,257.9 116.6,256.3 118.4,253.8 120.1,251.5 117.8,253.1 115.6,254.6 113.9,256.9" fill="#fe8000"/>
<polygon points="78.5,293.9 80.5,293.6 82.5,293.2 84.2,290 85.9,287 83.9,287.4 81.9,287.8 80.2,290.8" fill="#488cff"/>
<polygon points="85.9,287 87.9,286.4 90,285.7 91.7,282.7 93.4,279.7 91.3,280.5 89.3,281.1 87.6,284" fill="#0bc9f9"/>
<polygon points="93.4,279.7 95.5,278.9 97.6,277.9 99.3,275 101,272.2 98.9,273.2 96.8,274.1 95.1,276.9" fill="#01f09a"/>
<polygon points="101,272.2 103.2,271.1 105.3,269.8 107.1,267.1 108.8,264.4 106.6,265.7 104.4,266.9 102.7,269.5" fill="#83f419"/>
<polygon points="108.8,264.4 111,263 113.2,261.4 114.9,258.8 116.6,256.3 114.4,257.9 112.2,259.3 110.5,261.8" fill="#ffc900"/>
<polygon points="75.1,300.4 77.1,300.1 79.1,299.7 80.8,296.4 82.5,293.2 80.5,293.6 78.5,293.9 76.8,297.1" fill="#787aff"/>
<polygon points="82.5,293.2 84.5,292.6 86.5,292 88.3,288.8 90,285.7 87.9,286.4 85.9,287 84.2,290" fill="#299fff"/>
<polygon points="90,285.7 92.1,284.9 94.1,283.9 95.9,280.9 97.6,277.9 95.5,278.9 93.4,279.7 91.7,282.7" fill="#00e4e6"/>
<polygon points="97.6,277.9 99.7,276.8 101.9,275.6 103.6,272.6 105.3,269.8 103.2,271.1 101,272.2 99.3,275" fill="#16ec34"/>
<polygon points="105.3,269.8 107.5,268.4 109.7,266.9 111.5,264.1 113.2,261.4 111,263 108.8,264.4 107.1,267.1" fill="#def209"/>
<polygon points="79.1,299.7 81.1,299.2 83.1,298.6 84.8,295.2 86.5,292 84.5,292.6 82.5,293.2 80.8,296.4" fill="#5f7dff"/>
<polygon points="86.5,292 88.6,291.2 90.7,290.3 92.4,287.1 94.1,283.9 92.1,284.9 90,285.7 88.3,288.8" fill="#11bbfc"/>
<polygon points="94.1,283.9 96.3,282.9 98.4,281.7 100.1,278.6 101.9,275.6 99.7,276.8 97.6,277.9 95.9,280.9" fill="#00efa7"/>
<polygon points="101.9,275.6 104.1,274.2 106.3,272.7 108,269.7 109.7,266.9 107.5,268.4 105.3,269.8 103.6,272.6" fill="#86f418"/>
<polygon points="83.1,298.6 85.1,297.8 87.2,297 88.9,293.6 90.7,290.3 88.6,291.2 86.5,292 84.8,295.2" fill="#3c93ff"/>
<polygon points="90.7,290.3 92.8,289.3 94.9,288.1 96.6,284.8 98.4,281.7 96.3,282.9 94.1,283.9 92.4,287.1" fill="#00e0f5"/>
<polygon points="98.4,281.7 100.6,280.3 102.7,278.9 104.5,275.7 106.3,272.7 104.1,274.2 101.9,275.6 100.1,278.6" fill="#14ec3a"/>
<polygon points="87.2,297 89.3,296 91.4,294.9 93.1,291.4 94.9,288.1 92.8,289.3 90.7,290.3 88.9,293.6" fill="#17affe"/>
<polygon points="94.9,288.1 97,286.8 99.2,285.4 101,282.1 102.7,278.9 100.6,280.3 98.4,281.7 96.6,284.8" fill="#00edb0"/>
<polygon points="91.4,294.9 93.5,293.6 95.7,292.3 97.4,288.8 99.2,285.4 97,286.8 94.9,288.1 93.1,291.4" fill="#04d8f7"/>
</g>
<circle cx="63.3" cy="223.4" r="1.55" fill="#e30b0b" stroke="#6e0000" stroke-width="0.5"/>
<line x1="95.6" y1="227.1" x2="95.6" y2="246" stroke="#802020" stroke-width="0.6" stroke-dasharray="0.8 0.8"/>
<circle cx="95.6" cy="227.1" r="1.55" fill="#e30b0b" stroke="#6e0000" stroke-width="0.5"/>
<circle cx="95.6" cy="239.9" r="1.55" fill="#e30b0b" stroke="#6e0000" stroke-width="0.5"/>
<circle cx="80.7" cy="298.6" r="1.55" fill="#e30b0b" stroke="#6e0000" stroke-width="0.5"/>
<circle cx="27.7" cy="272" r="1.55" fill="#fff" stroke="#b85050" stroke-width="0.6"/>
<circle cx="124.3" cy="246.3" r="1.55" fill="#fff" stroke="#b85050" stroke-width="0.6"/></g>
<g id="pd"><polygon points="217.1,311.6 266.7,358 347.5,325.9 292.5,286.7" fill="#5b5b5b"/>
<polyline points="261.9,353.5 263.1,352.7 264.3,351.9 265.5,351.1 265.6,351 266.7,350.3 268,349.6 269.2,348.9 270.5,348.2 271.8,347.5 272.1,347.3 273,346.8 274.3,346.1 275.6,345.5 277,344.9 278.3,344.3 279.6,343.7 281,343.1 282.3,342.5 283.7,342 285.1,341.4 286.4,340.9 287.8,340.4 289.2,339.9 290.6,339.4 292.1,338.9 293.5,338.4 294.9,338 296.4,337.5 297.8,337.1 299.2,336.6 300.7,336.2 300.8,336.2 302.2,335.8 303.6,335.4 305.1,335 306.6,334.6 308.1,334.2 309.6,333.8 310.4,333.6 311,333.4 312.5,333.1 314,332.7 315.5,332.4 317,332 318.1,331.8 318.5,331.7 320,331.3 321.5,331 323,330.6 324.5,330.3 325.2,330.1 326,329.9 327.5,329.6 329,329.3 330.5,328.9 332,328.6 332.1,328.6 333.4,328.3 334.9,327.9 336.4,327.6 337.9,327.3 339.1,327 339.3,326.9 340.8,326.6 342.2,326.2 343.7,325.9 345.1,325.5 346.4,325.2 346.5,325.2" fill="none" stroke="#0a64f0" stroke-width="1.2" stroke-linecap="round"/>
<polyline points="252.4,344.7 253.6,343.9 253.7,343.8 254.8,343.1 256,342.4 257.2,341.6 258.4,340.9 258.4,340.9 259.6,340.2 260.9,339.5 262.1,338.8 263.3,338.1 264.6,337.5 264.9,337.3 265.9,336.9 267.1,336.2 268.4,335.6 269.7,335 271,334.4 272.3,333.9 273.6,333.3 274.9,332.7 276.2,332.2 277.6,331.7 278.9,331.2 280.3,330.7 281.7,330.2 283,329.7 284.4,329.3 285.8,328.8 287.2,328.4 288.6,328 290,327.5 291.5,327.1 292.9,326.8 293.8,326.5 294.4,326.4 295.8,326 297.3,325.6 298.8,325.3 300.2,325 301.7,324.6 301.8,324.6 303.2,324.3 304.7,324 306.2,323.7 307.8,323.4 308.2,323.3 309.3,323.1 310.8,322.8 312.3,322.5 313.9,322.2 313.9,322.2 315.4,322 317,321.7 318.5,321.4 319.2,321.3 320,321.2 321.6,320.9 323.1,320.6 324.3,320.4 324.7,320.4 326.2,320.1 327.7,319.9 329.3,319.6 329.3,319.6 330.8,319.4 332.3,319.1 333.9,318.9 334.4,318.8 335.4,318.6 336.9,318.3" fill="none" stroke="#00c8d8" stroke-width="1.2" stroke-linecap="round"/>
<polyline points="244.4,337.2 244.5,337.1 245.5,336.4 246.7,335.6 247.7,334.9 247.8,334.8 248.9,334.1 250.1,333.3 251.2,332.6 251.4,332.5 252.4,331.8 253.5,331.1 254.7,330.4 255.5,329.9 255.8,329.7 257,329 258.1,328.3 259.3,327.7 260.3,327.1 260.5,327 261.7,326.4 262.8,325.7 264,325.1 265.2,324.5 266.4,323.9 266.9,323.7 267.7,323.3 268.9,322.7 270.1,322.2 271.3,321.6 272.6,321.1 273.8,320.5 275.1,320 276.4,319.5 277.7,319 279,318.6 280.3,318.1 281.6,317.6 282.9,317.2 284.3,316.8 285.6,316.4 287,316 288.4,315.6 289.8,315.3 291.2,314.9 291.2,314.9 292.6,314.6 294.1,314.3 295.5,314 297,313.7 297.8,313.5 298.5,313.4 300,313.1 301.5,312.9 303,312.7 303.1,312.7 304.6,312.4 306.2,312.2 307.5,312 307.7,312 309.3,311.8 310.9,311.6 311.6,311.6 312.5,311.5 314.1,311.3 315.5,311.1 315.7,311.1 317.3,310.9 319,310.8 319.3,310.8 320.6,310.6 322.2,310.5 323.1,310.4 323.8,310.3 325.4,310.2" fill="none" stroke="#00d278" stroke-width="1.2" stroke-linecap="round"/>
<polyline points="237.1,330.4 237.6,330 238.2,329.5 239.2,328.7 239.8,328.2 240.2,327.8 241.2,327 242,326.4 242.2,326.2 243.2,325.3 244.2,324.6 244.3,324.5 245.3,323.7 246.3,322.9 246.4,322.8 247.3,322.1 248.2,321.3 248.6,321 249.2,320.5 250.2,319.7 250.8,319.3 251.2,318.9 252.2,318.1 252.9,317.5 253.1,317.3 254.1,316.5 254.9,315.8 255,315.7 255.9,315 256.9,314.2 256.9,314.2 257.8,313.4 258.7,312.6 258.7,312.6 259.6,311.8 260.3,311.1 260.4,311 261.3,310.1 261.8,309.6 262.1,309.3 262.9,308.4 263,308.2 263.6,307.6 264.1,306.9 264.3,306.6 264.8,305.8 264.9,305.6 265.3,304.7 265.3,304.6 265.6,303.6 265.6,303.4 265.6,302.7 265.5,301.9 265.4,301.8 265.1,301.1 264.6,300.3 264,299.7 263.2,299 262.4,298.4 261.4,297.8 260.4,297.3" fill="none" stroke="#28d228" stroke-width="1.2" stroke-linecap="round"/>
<polyline points="230.1,323.8 230.7,323.3 231,322.9 231.9,321.9 232,321.8 232.7,321 233.3,320.4 233.6,320 234.4,319 234.4,319 235.2,318.1 235.5,317.7 236,317.1 236.6,316.3 236.8,316.1 237.5,315.1 237.5,315.1 238.2,314 238.3,313.8 238.8,313 239,312.7 239.4,311.9 239.6,311.5 240,310.7 240.2,310.4 240.5,309.6 240.6,309.3 240.9,308.3 240.9,308.3 241.1,307.3 241.1,307 241.2,306.4 241.2,305.5 241.2,305.5 241.1,304.6 241,303.8 241,303.7" fill="none" stroke="#e6c800" stroke-width="1.2" stroke-linecap="round"/>
<polygon points="215.7,290 292.7,266.3 293.5,192.6 210.8,211.5" fill="#fff"/>
<polygon points="292.7,266.3 349,303.6 354.4,222.5 293.5,192.6" fill="#fff"/>
<path d="M217.1,311.6 L210.8,211.5 M229.4,285.8 L225.6,208.1 M242.8,281.6 L240,204.9 M255.7,277.6 L253.9,201.7 M268.4,273.8 L267.5,198.6 M280.7,270 L280.7,195.6 M292.5,286.7 L293.5,192.6 M302.9,273 L304.4,198 M313.6,280.1 L315.9,203.6 M324.8,287.6 L328.1,209.6 M336.6,295.4 L340.9,215.9 M347.5,325.9 L354.4,222.5 M215.7,290 L292.7,266.3 L349,303.6 M215.7,290 L214.4,290 M214.8,275.2 L292.8,252.3 L350,288.4 M214.8,275.2 L213.5,275.2 M213.8,260 L293,238 L351.1,272.6 M213.8,260 L212.5,260 M212.8,244.3 L293.2,223.3 L352.2,256.4 M212.8,244.3 L211.5,244.3 M211.8,228.2 L293.3,208.2 L353.3,239.7 M211.8,228.2 L210.5,228.2 M210.8,211.5 L293.5,192.6 L354.4,222.5 M210.8,211.5 L209.5,211.5" fill="none" stroke="#3c3c3c" stroke-width="0.7"/>
<line x1="320.3" y1="237.4" x2="320.3" y2="245" stroke="#555" stroke-width="0.6"/>
<line x1="353.7" y1="213.4" x2="353.7" y2="222" stroke="#555" stroke-width="0.6"/>
<g stroke="#000" stroke-opacity="0.8" stroke-width="0.45" stroke-linejoin="round">
<polygon points="289.4,230.3 290.7,230.3 292,230.4 293.9,230 295.7,229.6 294.4,229.6 293.1,229.7 291.3,230" fill="#00e5bb"/>
<polygon points="285.7,230.8 287,230.9 288.3,231.1 290.1,230.7 292,230.4 290.7,230.3 289.4,230.3 287.6,230.6" fill="#00e5b6"/>
<polygon points="292,230.4 293.3,230.5 294.6,230.8 296.5,230.3 298.4,229.9 297,229.7 295.7,229.6 293.9,230" fill="#00ebab"/>
<polygon points="281.9,231.3 283.2,231.4 284.5,231.7 286.4,231.4 288.3,231.1 287,230.9 285.7,230.8 283.8,231.1" fill="#00e6b0"/>
<polygon points="288.3,231.1 289.6,231.3 290.9,231.6 292.8,231.2 294.6,230.8 293.3,230.5 292,230.4 290.1,230.7" fill="#00eba8"/>
<polygon points="294.6,230.8 296,231.1 297.3,231.5 299.2,231 301,230.5 299.7,230.1 298.4,229.9 296.5,230.3" fill="#00ef9e"/>
<polygon points="278.2,231.6 279.4,231.9 280.7,232.2 282.6,232 284.5,231.7 283.2,231.4 281.9,231.3 280.1,231.5" fill="#00e6a8"/>
<polygon points="284.5,231.7 285.8,232 287.1,232.4 289,232 290.9,231.6 289.6,231.3 288.3,231.1 286.4,231.4" fill="#00eba4"/>
<polygon points="290.9,231.6 292.2,232 293.5,232.5 295.4,232 297.3,231.5 296,231.1 294.6,230.8 292.8,231.2" fill="#01ee9c"/>
<polygon points="274.3,231.9 275.6,232.3 276.9,232.7 278.8,232.5 280.7,232.2 279.4,231.9 278.2,231.6 276.3,231.8" fill="#00e7a0"/>
<polygon points="297.3,231.5 298.6,232 300,232.5 301.9,232 303.7,231.4 302.4,230.9 301,230.5 299.2,231" fill="#03ef8f"/>
<polygon points="280.7,232.2 282,232.6 283.3,233.1 285.2,232.7 287.1,232.4 285.8,232 284.5,231.7 282.6,232" fill="#00eb9e"/>
<polygon points="287.1,232.4 288.4,232.9 289.7,233.4 291.6,232.9 293.5,232.5 292.2,232 290.9,231.6 289,232" fill="#01ee99"/>
<polygon points="270.5,232.1 271.7,232.6 273,233.1 274.9,232.9 276.9,232.7 275.6,232.3 274.3,231.9 272.4,232.1" fill="#01e794"/>
<polygon points="293.5,232.5 294.9,233 296.2,233.6 298.1,233.1 300,232.5 298.6,232 297.3,231.5 295.4,232" fill="#03ef90"/>
<polygon points="276.9,232.7 278.2,233.2 279.4,233.7 281.4,233.4 283.3,233.1 282,232.6 280.7,232.2 278.8,232.5" fill="#01ea95"/>
<polygon points="300,232.5 301.4,233.2 302.7,233.9 304.6,233.2 306.5,232.6 305.1,231.9 303.7,231.4 301.9,232" fill="#05ef86"/>
<polygon points="283.3,233.1 284.6,233.6 285.9,234.3 287.8,233.8 289.7,233.4 288.4,232.9 287.1,232.4 285.2,232.7" fill="#02ed93"/>
<polygon points="266.6,232.3 267.8,232.8 269.1,233.4 271.1,233.2 273,233.1 271.7,232.6 270.5,232.1 268.5,232.2" fill="#04e583"/>
<polygon points="289.7,233.4 291.1,234 292.4,234.7 294.3,234.2 296.2,233.6 294.9,233 293.5,232.5 291.6,232.9" fill="#03ef90"/>
<polygon points="273,233.1 274.3,233.6 275.6,234.3 277.5,234 279.4,233.7 278.2,233.2 276.9,232.7 274.9,232.9" fill="#04e98a"/>
<polygon points="296.2,233.6 297.6,234.3 298.9,235.1 300.8,234.5 302.7,233.9 301.4,233.2 300,232.5 298.1,233.1" fill="#05ef89"/>
<polygon points="279.4,233.7 280.7,234.3 282,235 284,234.7 285.9,234.3 284.6,233.6 283.3,233.1 281.4,233.4" fill="#03ec8d"/>
<polygon points="262.7,232.3 263.9,232.9 265.1,233.6 267.1,233.5 269.1,233.4 267.8,232.8 266.6,232.3 264.6,232.3" fill="#08e371"/>
<polygon points="302.7,233.9 304.1,234.6 305.5,235.5 307.4,234.8 309.3,234.1 307.9,233.3 306.5,232.6 304.6,233.2" fill="#06ef83"/>
<polygon points="285.9,234.3 287.2,234.9 288.6,235.7 290.5,235.2 292.4,234.7 291.1,234 289.7,233.4 287.8,233.8" fill="#04ee8d"/>
<polygon points="269.1,233.4 270.4,234 271.6,234.7 273.6,234.5 275.6,234.3 274.3,233.6 273,233.1 271.1,233.2" fill="#06e77c"/>
<polygon points="292.4,234.7 293.7,235.5 295.1,236.3 297,235.7 298.9,235.1 297.6,234.3 296.2,233.6 294.3,234.2" fill="#04ef8c"/>
<polygon points="275.6,234.3 276.9,235 278.2,235.8 280.1,235.4 282,235 280.7,234.3 279.4,233.7 277.5,234" fill="#05ea84"/>
<polygon points="258.7,232.2 259.9,232.9 261.2,233.6 263.2,233.6 265.1,233.6 263.9,232.9 262.7,232.3 260.7,232.2" fill="#0ce15c"/>
<polygon points="298.9,235.1 300.3,235.9 301.7,236.9 303.6,236.2 305.5,235.5 304.1,234.6 302.7,233.9 300.8,234.5" fill="#05ef89"/>
<polygon points="282,235 283.4,235.8 284.7,236.6 286.6,236.2 288.6,235.7 287.2,234.9 285.9,234.3 284,234.7" fill="#04ed8a"/>
<polygon points="265.1,233.6 266.4,234.3 267.7,235.1 269.7,234.9 271.6,234.7 270.4,234 269.1,233.4 267.1,233.5" fill="#09e56d"/>
<polygon points="305.5,235.5 306.9,236.4 308.3,237.4 310.2,236.7 312.1,235.9 310.7,235 309.3,234.1 307.4,234.8" fill="#05ef86"/>
<polygon points="288.6,235.7 289.9,236.5 291.2,237.4 293.2,236.9 295.1,236.3 293.7,235.5 292.4,234.7 290.5,235.2" fill="#04ef8d"/>
<polygon points="271.6,234.7 272.9,235.5 274.2,236.4 276.2,236.1 278.2,235.8 276.9,235 275.6,234.3 273.6,234.5" fill="#07e97a"/>
<polygon points="254.7,231.9 255.9,232.8 257.1,233.6 259.2,233.7 261.2,233.6 259.9,232.9 258.7,232.2 256.7,232.1" fill="#10de45"/>
<polygon points="295.1,236.3 296.5,237.2 297.8,238.2 299.7,237.5 301.7,236.9 300.3,235.9 298.9,235.1 297,235.7" fill="#04ef8d"/>
<polygon points="278.2,235.8 279.5,236.6 280.8,237.5 282.7,237.1 284.7,236.6 283.4,235.8 282,235 280.1,235.4" fill="#05ec84"/>
<polygon points="261.2,233.6 262.4,234.5 263.7,235.4 265.7,235.3 267.7,235.1 266.4,234.3 265.1,233.6 263.2,233.6" fill="#0ce35b"/>
<polygon points="301.7,236.9 303,237.8 304.4,238.9 306.3,238.2 308.3,237.4 306.9,236.4 305.5,235.5 303.6,236.2" fill="#04ef8e"/>
<polygon points="284.7,236.6 286,237.5 287.4,238.5 289.3,238 291.2,237.4 289.9,236.5 288.6,235.7 286.6,236.2" fill="#04ee8c"/>
<polygon points="267.7,235.1 269,236 270.3,236.9 272.2,236.7 274.2,236.4 272.9,235.5 271.6,234.7 269.7,234.9" fill="#09e76e"/>
<polygon points="250.6,231.6 251.8,232.5 253.1,233.5 255.1,233.6 257.1,233.6 255.9,232.8 254.7,231.9 252.6,231.8" fill="#15db2c"/>
<polygon points="308.3,237.4 309.7,238.5 311.1,239.6 313,238.8 314.9,238 313.5,236.9 312.1,235.9 310.2,236.7" fill="#03ef8f"/>
<polygon points="291.2,237.4 292.6,238.4 294,239.4 295.9,238.8 297.8,238.2 296.5,237.2 295.1,236.3 293.2,236.9" fill="#03ef91"/>
<polygon points="274.2,236.4 275.5,237.3 276.8,238.3 278.8,237.9 280.8,237.5 279.5,236.6 278.2,235.8 276.2,236.1" fill="#06ea7d"/>
<polygon points="257.1,233.6 258.4,234.6 259.6,235.6 261.7,235.5 263.7,235.4 262.4,234.5 261.2,233.6 259.2,233.7" fill="#10e048"/>
<polygon points="297.8,238.2 299.2,239.2 300.6,240.3 302.5,239.6 304.4,238.9 303,237.8 301.7,236.9 299.7,237.5" fill="#02f094"/>
<polygon points="280.8,237.5 282.1,238.5 283.4,239.5 285.4,239 287.4,238.5 286,237.5 284.7,236.6 282.7,237.1" fill="#04ed89"/>
<polygon points="263.7,235.4 265,236.4 266.2,237.4 268.3,237.2 270.3,236.9 269,236 267.7,235.1 265.7,235.3" fill="#0ce560"/>
<polygon points="246.5,231.1 247.7,232.1 248.9,233.2 251,233.4 253.1,233.5 251.8,232.5 250.6,231.6 248.5,231.4" fill="#29db1f"/>
<polygon points="304.4,238.9 305.8,240 307.2,241.2 309.2,240.4 311.1,239.6 309.7,238.5 308.3,237.4 306.3,238.2" fill="#02f098"/>
<polygon points="287.4,238.5 288.7,239.5 290.1,240.6 292,240 294,239.4 292.6,238.4 291.2,237.4 289.3,238" fill="#03ef93"/>
<polygon points="270.3,236.9 271.5,237.9 272.9,239 274.8,238.7 276.8,238.3 275.5,237.3 274.2,236.4 272.2,236.7" fill="#08e974"/>
<polygon points="253.1,233.5 254.3,234.5 255.6,235.6 257.6,235.6 259.6,235.6 258.4,234.6 257.1,233.6 255.1,233.6" fill="#14de32"/>
<polygon points="311.1,239.6 312.5,240.8 313.9,242.1 315.8,241.3 317.7,240.4 316.3,239.2 314.9,238 313,238.8" fill="#01f09d"/>
<polygon points="294,239.4 295.3,240.5 296.7,241.7 298.6,241 300.6,240.3 299.2,239.2 297.8,238.2 295.9,238.8" fill="#01f09a"/>
<polygon points="276.8,238.3 278.1,239.3 279.5,240.5 281.5,240 283.4,239.5 282.1,238.5 280.8,237.5 278.8,237.9" fill="#05ec84"/>
<polygon points="259.6,235.6 260.9,236.6 262.2,237.7 264.2,237.6 266.2,237.4 265,236.4 263.7,235.4 261.7,235.5" fill="#0fe34f"/>
<polygon points="242.3,230.5 243.5,231.6 244.8,232.8 246.9,233 248.9,233.2 247.7,232.1 246.5,231.1 244.4,230.8" fill="#49db1b"/>
<polygon points="300.6,240.3 302,241.5 303.4,242.7 305.3,241.9 307.2,241.2 305.8,240 304.4,238.9 302.5,239.6" fill="#00f0a0"/>
<polygon points="283.4,239.5 284.8,240.6 286.1,241.8 288.1,241.2 290.1,240.6 288.7,239.5 287.4,238.5 285.4,239" fill="#03ee92"/>
<polygon points="266.2,237.4 267.5,238.5 268.8,239.6 270.8,239.3 272.9,239 271.5,237.9 270.3,236.9 268.3,237.2" fill="#0ae768"/>
<polygon points="248.9,233.2 250.2,234.4 251.4,235.5 253.5,235.6 255.6,235.6 254.3,234.5 253.1,233.5 251,233.4" fill="#1edc20"/>
<polygon points="307.2,241.2 308.6,242.4 310.1,243.7 312,242.9 313.9,242.1 312.5,240.8 311.1,239.6 309.2,240.4" fill="#00efa5"/>
<polygon points="290.1,240.6 291.4,241.8 292.8,243 294.7,242.4 296.7,241.7 295.3,240.5 294,239.4 292,240" fill="#00f09e"/>
<polygon points="272.9,239 274.2,240.1 275.5,241.3 277.5,240.9 279.5,240.5 278.1,239.3 276.8,238.3 274.8,238.7" fill="#06ea7e"/>
<polygon points="255.6,235.6 256.8,236.8 258.1,238 260.2,237.9 262.2,237.7 260.9,236.6 259.6,235.6 257.6,235.6" fill="#12e03d"/>
<polygon points="238.1,229.8 239.3,231 240.5,232.3 242.7,232.6 244.8,232.8 243.5,231.6 242.3,230.5 240.2,230.2" fill="#6bdc18"/>
<polygon points="313.9,242.1 315.3,243.4 316.8,244.8 318.7,243.9 320.6,243.1 319.2,241.7 317.7,240.4 315.8,241.3" fill="#00eeaa"/>
<polygon points="296.7,241.7 298.1,242.9 299.5,244.2 301.4,243.4 303.4,242.7 302,241.5 300.6,240.3 298.6,241" fill="#00efa5"/>
<polygon points="279.5,240.5 280.8,241.6 282.2,242.8 284.1,242.3 286.1,241.8 284.8,240.6 283.4,239.5 281.5,240" fill="#03ed90"/>
<polygon points="262.2,237.7 263.5,238.9 264.8,240.1 266.8,239.9 268.8,239.6 267.5,238.5 266.2,237.4 264.2,237.6" fill="#0de45b"/>
<polygon points="244.8,232.8 246,234.1 247.3,235.3 249.3,235.5 251.4,235.5 250.2,234.4 248.9,233.2 246.9,233" fill="#3adc1d"/>
<polygon points="303.4,242.7 304.8,244 306.2,245.3 308.1,244.5 310.1,243.7 308.6,242.4 307.2,241.2 305.3,241.9" fill="#00eeab"/>
<polygon points="286.1,241.8 287.5,243 288.8,244.3 290.8,243.6 292.8,243 291.4,241.8 290.1,240.6 288.1,241.2" fill="#00efa0"/>
<polygon points="268.8,239.6 270.1,240.8 271.5,242.1 273.5,241.7 275.5,241.3 274.2,240.1 272.9,239 270.8,239.3" fill="#08e876"/>
<polygon points="251.4,235.5 252.7,236.8 254,238.1 256,238 258.1,238 256.8,236.8 255.6,235.6 253.5,235.6" fill="#16dd29"/>
<polygon points="233.8,228.8 235,230.2 236.3,231.6 238.4,231.9 240.5,232.3 239.3,231 238.1,229.8 235.9,229.3" fill="#90dd14"/>
<polygon points="310.1,243.7 311.5,245.1 312.9,246.5 314.8,245.7 316.8,244.8 315.3,243.4 313.9,242.1 312,242.9" fill="#00edb1"/>
<polygon points="292.8,243 294.2,244.3 295.5,245.6 297.5,244.9 299.5,244.2 298.1,242.9 296.7,241.7 294.7,242.4" fill="#00eea9"/>
<polygon points="275.5,241.3 276.8,242.5 278.1,243.8 280.2,243.4 282.2,242.8 280.8,241.6 279.5,240.5 277.5,240.9" fill="#03ec8d"/>
<polygon points="258.1,238 259.4,239.2 260.7,240.5 262.7,240.4 264.8,240.1 263.5,238.9 262.2,237.7 260.2,237.9" fill="#0fe24c"/>
<polygon points="240.5,232.3 241.8,233.6 243,235 245.1,235.2 247.3,235.3 246,234.1 244.8,232.8 242.7,232.6" fill="#59dc1a"/>
<polygon points="316.8,244.8 318.2,246.3 319.6,247.8 321.6,246.9 323.5,246 322,244.5 320.6,243.1 318.7,243.9" fill="#00ecb8"/>
<polygon points="299.5,244.2 300.9,245.5 302.3,246.9 304.2,246.1 306.2,245.3 304.8,244 303.4,242.7 301.4,243.4" fill="#00edb1"/>
<polygon points="282.2,242.8 283.5,244.1 284.9,245.5 286.9,244.9 288.8,244.3 287.5,243 286.1,241.8 284.1,242.3" fill="#00eea0"/>
<polygon points="264.8,240.1 266.1,241.4 267.4,242.8 269.4,242.4 271.5,242.1 270.1,240.8 268.8,239.6 266.8,239.9" fill="#09e66b"/>
<polygon points="247.3,235.3 248.5,236.7 249.8,238.1 251.9,238.1 254,238.1 252.7,236.8 251.4,235.5 249.3,235.5" fill="#27dc1f"/>
<polygon points="229.5,227.8 230.7,229.2 231.9,230.7 234.1,231.2 236.3,231.6 235,230.2 233.8,228.8 231.6,228.3" fill="#acda0e"/>
<polygon points="306.2,245.3 307.6,246.7 309,248.2 311,247.4 312.9,246.5 311.5,245.1 310.1,243.7 308.1,244.5" fill="#00ecb8"/>
<polygon points="288.8,244.3 290.2,245.6 291.6,247 293.6,246.3 295.5,245.6 294.2,244.3 292.8,243 290.8,243.6" fill="#00eeac"/>
<polygon points="271.5,242.1 272.8,243.4 274.1,244.8 276.1,244.3 278.1,243.8 276.8,242.5 275.5,241.3 273.5,241.7" fill="#04ea87"/>
<polygon points="254,238.1 255.2,239.4 256.5,240.8 258.6,240.7 260.7,240.5 259.4,239.2 258.1,238 256,238" fill="#12e03b"/>
<polygon points="236.3,231.6 237.5,233 238.7,234.5 240.9,234.8 243,235 241.8,233.6 240.5,232.3 238.4,231.9" fill="#7add16"/>
<polygon points="312.9,246.5 314.3,248 315.8,249.6 317.7,248.7 319.6,247.8 318.2,246.3 316.8,244.8 314.8,245.7" fill="#00eac1"/>
<polygon points="295.5,245.6 296.9,247 298.3,248.4 300.3,247.7 302.3,246.9 300.9,245.5 299.5,244.2 297.5,244.9" fill="#00ecb5"/>
<polygon points="278.1,243.8 279.5,245.2 280.8,246.6 282.9,246 284.9,245.5 283.5,244.1 282.2,242.8 280.2,243.4" fill="#00ed9f"/>
<polygon points="260.7,240.5 262,241.9 263.3,243.3 265.3,243.1 267.4,242.8 266.1,241.4 264.8,240.1 262.7,240.4" fill="#0ce45f"/>
<polygon points="243,235 244.3,236.5 245.6,238 247.7,238 249.8,238.1 248.5,236.7 247.3,235.3 245.1,235.2" fill="#42dc1c"/>
<polygon points="225,226.5 226.3,228.1 227.5,229.7 229.7,230.2 231.9,230.7 230.7,229.2 229.5,227.8 227.3,227.1" fill="#c1d508"/>
<polygon points="319.6,247.8 321.1,249.3 322.6,251 324.5,250 326.4,249.1 325,247.5 323.5,246 321.6,246.9" fill="#00e9ca"/>
<polygon points="302.3,246.9 303.7,248.4 305.1,249.9 307.1,249 309,248.2 307.6,246.7 306.2,245.3 304.2,246.1" fill="#00ebbf"/>
<polygon points="284.9,245.5 286.2,246.9 287.6,248.3 289.6,247.6 291.6,247 290.2,245.6 288.8,244.3 286.9,244.9" fill="#00ecad"/>
<polygon points="267.4,242.8 268.7,244.1 270,245.6 272.1,245.2 274.1,244.8 272.8,243.4 271.5,242.1 269.4,242.4" fill="#06e87f"/>
<polygon points="249.8,238.1 251.1,239.5 252.3,241 254.4,240.9 256.5,240.8 255.2,239.4 254,238.1 251.9,238.1" fill="#16dd28"/>
<polygon points="231.9,230.7 233.2,232.3 234.4,233.9 236.6,234.2 238.7,234.5 237.5,233 236.3,231.6 234.1,231.2" fill="#9dde12"/>
<polygon points="309,248.2 310.4,249.7 311.9,251.3 313.8,250.4 315.8,249.6 314.3,248 312.9,246.5 311,247.4" fill="#00e9c8"/>
<polygon points="291.6,247 293,248.4 294.4,249.9 296.3,249.2 298.3,248.4 296.9,247 295.5,245.6 293.6,246.3" fill="#00ebb9"/>
<polygon points="274.1,244.8 275.5,246.2 276.8,247.6 278.8,247.1 280.8,246.6 279.5,245.2 278.1,243.8 276.1,244.3" fill="#00eb9c"/>
<polygon points="256.5,240.8 257.8,242.3 259.1,243.8 261.2,243.6 263.3,243.3 262,241.9 260.7,240.5 258.6,240.7" fill="#0ee251"/>
<polygon points="238.7,234.5 240,236.1 241.3,237.7 243.4,237.8 245.6,238 244.3,236.5 243,235 240.9,234.8" fill="#5fdd19"/>
<polygon points="220.6,225 221.8,226.8 223,228.5 225.3,229.1 227.5,229.7 226.3,228.1 225,226.5 222.8,225.8" fill="#d7cf02"/>
<polygon points="315.8,249.6 317.2,251.1 318.7,252.8 320.6,251.9 322.6,251 321.1,249.3 319.6,247.8 317.7,248.7" fill="#00e7d3"/>
<polygon points="298.3,248.4 299.7,249.9 301.1,251.5 303.1,250.7 305.1,249.9 303.7,248.4 302.3,246.9 300.3,247.7" fill="#00eac5"/>
<polygon points="280.8,246.6 282.2,248 283.6,249.5 285.6,248.9 287.6,248.3 286.2,246.9 284.9,245.5 282.9,246" fill="#00ebad"/>
<polygon points="263.3,243.3 264.6,244.8 265.9,246.3 268,246 270,245.6 268.7,244.1 267.4,242.8 265.3,243.1" fill="#07e676"/>
<polygon points="245.6,238 246.8,239.5 248.1,241.1 250.2,241.1 252.3,241 251.1,239.5 249.8,238.1 247.7,238" fill="#27dc1f"/>
<polygon points="227.5,229.7 228.8,231.4 230,233.1 232.2,233.5 234.4,233.9 233.2,232.3 231.9,230.7 229.7,230.2" fill="#b2d90d"/>
<polygon points="322.6,251 324,252.6 325.5,254.4 327.4,253.4 329.4,252.5 327.9,250.8 326.4,249.1 324.5,250" fill="#00e5de"/>
<polygon points="305.1,249.9 306.5,251.4 307.9,253 309.9,252.2 311.9,251.3 310.4,249.7 309,248.2 307.1,249" fill="#00e8d0"/>
<polygon points="287.6,248.3 289,249.8 290.4,251.3 292.4,250.6 294.4,249.9 293,248.4 291.6,247 289.6,247.6" fill="#00eabc"/>
<polygon points="270,245.6 271.4,247.1 272.7,248.6 274.8,248.1 276.8,247.6 275.5,246.2 274.1,244.8 272.1,245.2" fill="#01ea97"/>
<polygon points="252.3,241 253.6,242.6 254.9,244.2 257,244 259.1,243.8 257.8,242.3 256.5,240.8 254.4,240.9" fill="#11df40"/>
<polygon points="234.4,233.9 235.7,235.6 236.9,237.3 239.1,237.5 241.3,237.7 240,236.1 238.7,234.5 236.6,234.2" fill="#7fdd16"/>
<polygon points="216,223.4 217.3,225.2 218.5,227.1 220.8,227.8 223,228.5 221.8,226.8 220.6,225 218.3,224.3" fill="#dab300"/>
<polygon points="311.9,251.3 313.3,252.9 314.8,254.6 316.7,253.7 318.7,252.8 317.2,251.1 315.8,249.6 313.8,250.4" fill="#00e6db"/>
<polygon points="294.4,249.9 295.8,251.4 297.2,253 299.2,252.3 301.1,251.5 299.7,249.9 298.3,248.4 296.3,249.2" fill="#00e8c9"/>
<polygon points="276.8,247.6 278.2,249.1 279.5,250.7 281.5,250.1 283.6,249.5 282.2,248 280.8,246.6 278.8,247.1" fill="#00e9ac"/>
<polygon points="259.1,243.8 260.4,245.3 261.8,246.9 263.9,246.6 265.9,246.3 264.6,244.8 263.3,243.3 261.2,243.6" fill="#09e46a"/>
<polygon points="241.3,237.7 242.5,239.3 243.8,241 246,241.1 248.1,241.1 246.8,239.5 245.6,238 243.4,237.8" fill="#41dc1c"/>
<polygon points="223,228.5 224.3,230.3 225.5,232.1 227.8,232.6 230,233.1 228.8,231.4 227.5,229.7 225.3,229.1" fill="#c6d407"/>
<polygon points="318.7,252.8 320.1,254.5 321.6,256.2 323.5,255.3 325.5,254.4 324,252.6 322.6,251 320.6,251.9" fill="#00e3e7"/>
<polygon points="301.1,251.5 302.6,253.1 304,254.7 306,253.9 307.9,253 306.5,251.4 305.1,249.9 303.1,250.7" fill="#00e6d6"/>
<polygon points="283.6,249.5 284.9,251.1 286.3,252.7 288.3,252 290.4,251.3 289,249.8 287.6,248.3 285.6,248.9" fill="#00e8bd"/>
<polygon points="265.9,246.3 267.3,247.9 268.6,249.5 270.7,249 272.7,248.6 271.4,247.1 270,245.6 268,246" fill="#02e890"/>
<polygon points="248.1,241.1 249.4,242.7 250.7,244.4 252.8,244.3 254.9,244.2 253.6,242.6 252.3,241 250.2,241.1" fill="#15dc2e"/>
<polygon points="230,233.1 231.3,234.9 232.5,236.7 234.7,237 236.9,237.3 235.7,235.6 234.4,233.9 232.2,233.5" fill="#a1de12"/>
<polygon points="211.4,221.6 212.7,223.5 213.9,225.5 216.2,226.3 218.5,227.1 217.3,225.2 216,223.4 213.7,222.5" fill="#d88f00"/>
<polygon points="325.5,254.4 327,256.2 328.4,258 330.4,257 332.3,256.1 330.8,254.3 329.4,252.5 327.4,253.4" fill="#00e1f5"/>
<polygon points="307.9,253 309.4,254.7 310.8,256.4 312.8,255.5 314.8,254.6 313.3,252.9 311.9,251.3 309.9,252.2" fill="#00e4e3"/>
<polygon points="290.4,251.3 291.8,252.9 293.2,254.5 295.2,253.8 297.2,253 295.8,251.4 294.4,249.9 292.4,250.6" fill="#00e7cd"/>
<polygon points="272.7,248.6 274.1,250.2 275.4,251.8 277.5,251.3 279.5,250.7 278.2,249.1 276.8,247.6 274.8,248.1" fill="#00e8aa"/>
<polygon points="254.9,244.2 256.3,245.8 257.6,247.4 259.7,247.2 261.8,246.9 260.4,245.3 259.1,243.8 257,244" fill="#0ce15c"/>
<polygon points="236.9,237.3 238.2,239 239.5,240.8 241.7,240.9 243.8,241 242.5,239.3 241.3,237.7 239.1,237.5" fill="#5ddc19"/>
<polygon points="218.5,227.1 219.8,229 221,231 223.3,231.6 225.5,232.1 224.3,230.3 223,228.5 220.8,227.8" fill="#dbce00"/>
<polygon points="314.8,254.6 316.2,256.3 317.7,258.1 319.6,257.2 321.6,256.2 320.1,254.5 318.7,252.8 316.7,253.7" fill="#00e2f0"/>
<polygon points="297.2,253 298.6,254.7 300,256.3 302,255.5 304,254.7 302.6,253.1 301.1,251.5 299.2,252.3" fill="#00e5db"/>
<polygon points="279.5,250.7 280.9,252.3 282.3,254 284.3,253.3 286.3,252.7 284.9,251.1 283.6,249.5 281.5,250.1" fill="#00e7bd"/>
<polygon points="261.8,246.9 263.1,248.6 264.4,250.2 266.5,249.9 268.6,249.5 267.3,247.9 265.9,246.3 263.9,246.6" fill="#04e687"/>
<polygon points="243.8,241 245.1,242.7 246.4,244.5 248.6,244.5 250.7,244.4 249.4,242.7 248.1,241.1 246,241.1" fill="#1fda20"/>
<polygon points="225.5,232.1 226.8,234 228.1,235.9 230.3,236.3 232.5,236.7 231.3,234.9 230,233.1 227.8,232.6" fill="#b3d80c"/>
<polygon points="321.6,256.2 323.1,258 324.5,259.9 326.5,258.9 328.4,258 327,256.2 325.5,254.4 323.5,255.3" fill="#00dbf6"/>
<polygon points="304,254.7 305.4,256.4 306.8,258.1 308.8,257.3 310.8,256.4 309.4,254.7 307.9,253 306,253.9" fill="#00e3ea"/>
<polygon points="286.3,252.7 287.7,254.3 289.1,256 291.1,255.3 293.2,254.5 291.8,252.9 290.4,251.3 288.3,252" fill="#00e5cf"/>
<polygon points="268.6,249.5 269.9,251.1 271.3,252.8 273.4,252.3 275.4,251.8 274.1,250.2 272.7,248.6 270.7,249" fill="#00e7a6"/>
<polygon points="250.7,244.4 252,246.1 253.3,247.8 255.5,247.7 257.6,247.4 256.3,245.8 254.9,244.2 252.8,244.3" fill="#0fdf4d"/>
<polygon points="232.5,236.7 233.8,238.5 235.1,240.4 237.3,240.6 239.5,240.8 238.2,239 236.9,237.3 234.7,237" fill="#7cdc16"/>
<polygon points="213.9,225.5 215.2,227.6 216.4,229.6 218.7,230.3 221,231 219.8,229 218.5,227.1 216.2,226.3" fill="#daad00"/>
<polygon points="328.4,258 329.9,259.9 331.4,261.8 333.4,260.8 335.3,259.9 333.8,258 332.3,256.1 330.4,257" fill="#00d1f7"/>
<polygon points="310.8,256.4 312.3,258.1 313.7,259.9 315.7,259 317.7,258.1 316.2,256.3 314.8,254.6 312.8,255.5" fill="#00dff5"/>
<polygon points="293.2,254.5 294.6,256.2 296,257.9 298,257.1 300,256.3 298.6,254.7 297.2,253 295.2,253.8" fill="#00e3e0"/>
<polygon points="275.4,251.8 276.8,253.5 278.2,255.2 280.2,254.6 282.3,254 280.9,252.3 279.5,250.7 277.5,251.3" fill="#00e5bc"/>
<polygon points="257.6,247.4 258.9,249.2 260.2,250.9 262.3,250.6 264.4,250.2 263.1,248.6 261.8,246.9 259.7,247.2" fill="#06e47b"/>
<polygon points="239.5,240.8 240.8,242.6 242.1,244.5 244.3,244.5 246.4,244.5 245.1,242.7 243.8,241 241.7,240.9" fill="#38da1d"/>
<polygon points="221,231 222.3,233 223.6,235 225.8,235.5 228.1,235.9 226.8,234 225.5,232.1 223.3,231.6" fill="#c7d306"/>
<polygon points="317.7,258.1 319.1,259.9 320.6,261.8 322.6,260.8 324.5,259.9 323.1,258 321.6,256.2 319.6,257.2" fill="#00d6f7"/>
<polygon points="300,256.3 301.4,258.1 302.8,259.8 304.9,259 306.8,258.1 305.4,256.4 304,254.7 302,255.5" fill="#00e1ef"/>
<polygon points="282.3,254 283.6,255.6 285,257.4 287.1,256.7 289.1,256 287.7,254.3 286.3,252.7 284.3,253.3" fill="#00e4d0"/>
<polygon points="264.4,250.2 265.8,252 267.1,253.7 269.2,253.3 271.3,252.8 269.9,251.1 268.6,249.5 266.5,249.9" fill="#00e6a1"/>
<polygon points="246.4,244.5 247.7,246.3 249,248.1 251.2,248 253.3,247.8 252,246.1 250.7,244.4 248.6,244.5" fill="#12dc3a"/>
<polygon points="228.1,235.9 229.4,237.9 230.6,239.9 232.9,240.2 235.1,240.4 233.8,238.5 232.5,236.7 230.3,236.3" fill="#9ddd12"/>
<polygon points="324.5,259.9 326,261.8 327.5,263.7 329.5,262.8 331.4,261.8 329.9,259.9 328.4,258 326.5,258.9" fill="#00cbf8"/>
<polygon points="306.8,258.1 308.3,259.9 309.7,261.7 311.7,260.8 313.7,259.9 312.3,258.1 310.8,256.4 308.8,257.3" fill="#00daf6"/>
<polygon points="289.1,256 290.5,257.7 291.9,259.5 293.9,258.7 296,257.9 294.6,256.2 293.2,254.5 291.1,255.3" fill="#00e2e3"/>
<polygon points="271.3,252.8 272.7,254.5 274,256.3 276.1,255.7 278.2,255.2 276.8,253.5 275.4,251.8 273.4,252.3" fill="#00e4ba"/>
<polygon points="253.3,247.8 254.6,249.6 256,251.5 258.1,251.2 260.2,250.9 258.9,249.2 257.6,247.4 255.5,247.7" fill="#08e16e"/>
<polygon points="235.1,240.4 236.4,242.3 237.7,244.3 239.9,244.4 242.1,244.5 240.8,242.6 239.5,240.8 237.3,240.6" fill="#54da1a"/>
<polygon points="216.4,229.6 217.7,231.8 219,233.9 221.3,234.5 223.6,235 222.3,233 221,231 218.7,230.3" fill="#dccd00"/>
<polygon points="331.4,261.8 332.9,263.8 334.4,265.8 336.4,264.8 338.3,263.9 336.8,261.8 335.3,259.9 333.4,260.8" fill="#00bff9"/>
<polygon points="313.7,259.9 315.2,261.8 316.6,263.6 318.6,262.7 320.6,261.8 319.1,259.9 317.7,258.1 315.7,259" fill="#00d0f7"/>
<polygon points="296,257.9 297.4,259.7 298.8,261.5 300.8,260.7 302.8,259.8 301.4,258.1 300,256.3 298,257.1" fill="#00dff4"/>
<polygon points="278.2,255.2 279.5,256.9 280.9,258.7 283,258 285,257.4 283.6,255.6 282.3,254 280.2,254.6" fill="#00e2d0"/>
<polygon points="260.2,250.9 261.6,252.7 262.9,254.5 265,254.1 267.1,253.7 265.8,252 264.4,250.2 262.3,250.6" fill="#00e59b"/>
<polygon points="242.1,244.5 243.4,246.3 244.7,248.3 246.9,248.2 249,248.1 247.7,246.3 246.4,244.5 244.3,244.5" fill="#16d926"/>
<polygon points="223.6,235 224.8,237.1 226.1,239.2 228.4,239.5 230.6,239.9 229.4,237.9 228.1,235.9 225.8,235.5" fill="#b1d80d"/>
<polygon points="320.6,261.8 322.1,263.7 323.6,265.6 325.5,264.7 327.5,263.7 326,261.8 324.5,259.9 322.6,260.8" fill="#00c5f9"/>
<polygon points="302.8,259.8 304.3,261.6 305.7,263.5 307.7,262.6 309.7,261.7 308.3,259.9 306.8,258.1 304.9,259" fill="#00d5f6"/>
<polygon points="285,257.4 286.4,259.1 287.8,260.9 289.9,260.2 291.9,259.5 290.5,257.7 289.1,256 287.1,256.7" fill="#00e0e5"/>
<polygon points="267.1,253.7 268.5,255.5 269.8,257.3 271.9,256.8 274,256.3 272.7,254.5 271.3,252.8 269.2,253.3" fill="#00e3b7"/>
<polygon points="249,248.1 250.4,250 251.7,251.9 253.8,251.7 256,251.5 254.6,249.6 253.3,247.8 251.2,248" fill="#0bdf5e"/>
<polygon points="230.6,239.9 231.9,241.9 233.2,243.9 235.5,244.1 237.7,244.3 236.4,242.3 235.1,240.4 232.9,240.2" fill="#72db17"/>
<polygon points="327.5,263.7 329,265.7 330.5,267.7 332.5,266.7 334.4,265.8 332.9,263.8 331.4,261.8 329.5,262.8" fill="#00b9fa"/>
<polygon points="309.7,261.7 311.2,263.6 312.7,265.5 314.7,264.6 316.6,263.6 315.2,261.8 313.7,259.9 311.7,260.8" fill="#00cbf8"/>
<polygon points="291.9,259.5 293.3,261.3 294.8,263.1 296.8,262.3 298.8,261.5 297.4,259.7 296,257.9 293.9,258.7" fill="#00dbf3"/>
<polygon points="274,256.3 275.4,258.1 276.8,259.9 278.9,259.3 280.9,258.7 279.5,256.9 278.2,255.2 276.1,255.7" fill="#00e1cf"/>
<polygon points="256,251.5 257.3,253.3 258.7,255.2 260.8,254.9 262.9,254.5 261.6,252.7 260.2,250.9 258.1,251.2" fill="#01e492"/>
<polygon points="237.7,244.3 239,246.3 240.3,248.3 242.5,248.3 244.7,248.3 243.4,246.3 242.1,244.5 239.9,244.4" fill="#29d81e"/>
<polygon points="219,233.9 220.3,236.1 221.5,238.3 223.8,238.7 226.1,239.2 224.8,237.1 223.6,235 221.3,234.5" fill="#c4d307"/>
<polygon points="334.4,265.8 335.9,267.8 337.4,269.9 339.4,269 341.3,268 339.8,265.9 338.3,263.9 336.4,264.8" fill="#00acfb"/>
<polygon points="316.6,263.6 318.1,265.5 319.6,267.5 321.6,266.6 323.6,265.6 322.1,263.7 320.6,261.8 318.6,262.7" fill="#00bff9"/>
<polygon points="298.8,261.5 300.3,263.3 301.7,265.2 303.7,264.3 305.7,263.5 304.3,261.6 302.8,259.8 300.8,260.7" fill="#00d0f6"/>
<polygon points="280.9,258.7 282.3,260.5 283.7,262.3 285.8,261.7 287.8,260.9 286.4,259.1 285,257.4 283,258" fill="#00dfe6"/>
<polygon points="262.9,254.5 264.3,256.4 265.6,258.3 267.7,257.8 269.8,257.3 268.5,255.5 267.1,253.7 265,254.1" fill="#00e2b2"/>
<polygon points="244.7,248.3 246,250.2 247.3,252.2 249.5,252.1 251.7,251.9 250.4,250 249,248.1 246.9,248.2" fill="#0edc4c"/>
<polygon points="226.1,239.2 227.4,241.3 228.7,243.4 231,243.7 233.2,243.9 231.9,241.9 230.6,239.9 228.4,239.5" fill="#93db13"/>
<polygon points="323.6,265.6 325.1,267.6 326.6,269.6 328.5,268.7 330.5,267.7 329,265.7 327.5,263.7 325.5,264.7" fill="#00b3fb"/>
<polygon points="305.7,263.5 307.2,265.4 308.6,267.3 310.7,266.4 312.7,265.5 311.2,263.6 309.7,261.7 307.7,262.6" fill="#00c5f8"/>
<polygon points="287.8,260.9 289.2,262.8 290.7,264.7 292.7,263.9 294.8,263.1 293.3,261.3 291.9,259.5 289.9,260.2" fill="#00d8f3"/>
<polygon points="269.8,257.3 271.2,259.2 272.6,261.1 274.7,260.5 276.8,259.9 275.4,258.1 274,256.3 271.9,256.8" fill="#00e0cd"/>
<polygon points="251.7,251.9 253,253.8 254.4,255.8 256.5,255.5 258.7,255.2 257.3,253.3 256,251.5 253.8,251.7" fill="#04e184"/>
<polygon points="233.2,243.9 234.5,246 235.8,248.1 238.1,248.2 240.3,248.3 239,246.3 237.7,244.3 235.5,244.1" fill="#45d81b"/>
<polygon points="330.5,267.7 332,269.8 333.5,271.8 335.5,270.9 337.4,269.9 335.9,267.8 334.4,265.8 332.5,266.7" fill="#00a6fc"/>
<polygon points="312.7,265.5 314.1,267.4 315.6,269.4 317.6,268.4 319.6,267.5 318.1,265.5 316.6,263.6 314.7,264.6" fill="#00bafa"/>
<polygon points="294.8,263.1 296.2,265 297.6,266.9 299.7,266 301.7,265.2 300.3,263.3 298.8,261.5 296.8,262.3" fill="#00ccf5"/>
<polygon points="276.8,259.9 278.2,261.8 279.6,263.7 281.6,263 283.7,262.3 282.3,260.5 280.9,258.7 278.9,259.3" fill="#00dde6"/>
<polygon points="258.7,255.2 260,257.1 261.4,259.1 263.5,258.7 265.6,258.3 264.3,256.4 262.9,254.5 260.8,254.9" fill="#00e1ac"/>
<polygon points="240.3,248.3 241.6,250.3 242.9,252.4 245.1,252.3 247.3,252.2 246,250.2 244.7,248.3 242.5,248.3" fill="#12d938"/>
<polygon points="221.5,238.3 222.8,240.5 224.1,242.8 226.4,243.1 228.7,243.4 227.4,241.3 226.1,239.2 223.8,238.7" fill="#abd80e"/>
<polygon points="337.4,269.9 338.9,272.1 340.5,274.2 342.4,273.3 344.4,272.3 342.8,270.2 341.3,268 339.4,269" fill="#0397fb"/>
<polygon points="319.6,267.5 321.1,269.5 322.6,271.5 324.6,270.6 326.6,269.6 325.1,267.6 323.6,265.6 321.6,266.6" fill="#00aefb"/>
<polygon points="301.7,265.2 303.1,267.1 304.6,269 306.6,268.2 308.6,267.3 307.2,265.4 305.7,263.5 303.7,264.3" fill="#00c1f8"/>
<polygon points="283.7,262.3 285.1,264.2 286.5,266.1 288.6,265.4 290.7,264.7 289.2,262.8 287.8,260.9 285.8,261.7" fill="#00d5f2"/>
<polygon points="265.6,258.3 267,260.2 268.4,262.1 270.5,261.6 272.6,261.1 271.2,259.2 269.8,257.3 267.7,257.8" fill="#00dfc9"/>
<polygon points="247.3,252.2 248.7,254.2 250,256.3 252.2,256.1 254.4,255.8 253,253.8 251.7,251.9 249.5,252.1" fill="#07df74"/>
<polygon points="228.7,243.4 230,245.6 231.3,247.8 233.6,248 235.8,248.1 234.5,246 233.2,243.9 231,243.7" fill="#62d918"/>
<polygon points="326.6,269.6 328.1,271.7 329.6,273.8 331.5,272.8 333.5,271.8 332,269.8 330.5,267.7 328.5,268.7" fill="#01a1fc"/>
<polygon points="308.6,267.3 310.1,269.2 311.6,271.2 313.6,270.3 315.6,269.4 314.1,267.4 312.7,265.5 310.7,266.4" fill="#00b5fa"/>
<polygon points="290.7,264.7 292.1,266.6 293.5,268.5 295.6,267.7 297.6,266.9 296.2,265 294.8,263.1 292.7,263.9" fill="#00c9f5"/>
<polygon points="272.6,261.1 274,263 275.4,264.9 277.5,264.3 279.6,263.7 278.2,261.8 276.8,259.9 274.7,260.5" fill="#00dce4"/>
<polygon points="254.4,255.8 255.7,257.8 257.1,259.8 259.2,259.5 261.4,259.1 260,257.1 258.7,255.2 256.5,255.5" fill="#00e1a4"/>
<polygon points="235.8,248.1 237.2,250.3 238.5,252.4 240.7,252.4 242.9,252.4 241.6,250.3 240.3,248.3 238.1,248.2" fill="#16d622"/>
<polygon points="333.5,271.8 335,274 336.5,276.1 338.5,275.2 340.5,274.2 338.9,272.1 337.4,269.9 335.5,270.9" fill="#0592fb"/>
<polygon points="315.6,269.4 317.1,271.4 318.6,273.4 320.6,272.5 322.6,271.5 321.1,269.5 319.6,267.5 317.6,268.4" fill="#00a9fc"/>
<polygon points="297.6,266.9 299.1,268.8 300.5,270.8 302.6,269.9 304.6,269 303.1,267.1 301.7,265.2 299.7,266" fill="#00bdf8"/>
<polygon points="279.6,263.7 281,265.6 282.4,267.6 284.5,266.9 286.5,266.1 285.1,264.2 283.7,262.3 281.6,263" fill="#00d3f1"/>
<polygon points="261.4,259.1 262.7,261.1 264.1,263.1 266.2,262.6 268.4,262.1 267,260.2 265.6,258.3 263.5,258.7" fill="#00dec4"/>
<polygon points="242.9,252.4 244.3,254.5 245.6,256.6 247.8,256.5 250,256.3 248.7,254.2 247.3,252.2 245.1,252.3" fill="#0adc62"/>
<polygon points="224.1,242.8 225.5,245.1 226.8,247.4 229.1,247.6 231.3,247.8 230,245.6 228.7,243.4 226.4,243.1" fill="#83d914"/>
<polygon points="340.5,274.2 342,276.4 343.5,278.7 345.5,277.7 347.4,276.8 345.9,274.6 344.4,272.3 342.4,273.3" fill="#0981fa"/>
<polygon points="322.6,271.5 324.1,273.6 325.6,275.7 327.6,274.7 329.6,273.8 328.1,271.7 326.6,269.6 324.6,270.6" fill="#029bfc"/>
<polygon points="304.6,269 306.1,271 307.5,273 309.6,272.1 311.6,271.2 310.1,269.2 308.6,267.3 306.6,268.2" fill="#00b0fa"/>
<polygon points="286.5,266.1 288,268.1 289.4,270 291.5,269.3 293.5,268.5 292.1,266.6 290.7,264.7 288.6,265.4" fill="#00c6f5"/>
<polygon points="268.4,262.1 269.7,264.1 271.1,266.1 273.3,265.5 275.4,264.9 274,263 272.6,261.1 270.5,261.6" fill="#00dbe2"/>
<polygon points="250,256.3 251.4,258.3 252.7,260.4 254.9,260.1 257.1,259.8 255.7,257.8 254.4,255.8 252.2,256.1" fill="#00e09b"/>
<polygon points="231.3,247.8 232.7,250.1 234,252.3 236.2,252.4 238.5,252.4 237.2,250.3 235.8,248.1 233.6,248" fill="#30d61d"/>
<polygon points="329.6,273.8 331.1,275.9 332.6,278 334.6,277.1 336.5,276.1 335,274 333.5,271.8 331.5,272.8" fill="#068cfb"/>
<polygon points="311.6,271.2 313.1,273.2 314.5,275.2 316.6,274.3 318.6,273.4 317.1,271.4 315.6,269.4 313.6,270.3" fill="#00a4fc"/>
<polygon points="293.5,268.5 295,270.4 296.4,272.4 298.5,271.6 300.5,270.8 299.1,268.8 297.6,266.9 295.6,267.7" fill="#00b9f8"/>
<polygon points="275.4,264.9 276.8,266.9 278.2,268.9 280.3,268.2 282.4,267.6 281,265.6 279.6,263.7 277.5,264.3" fill="#00d1f0"/>
<polygon points="257.1,259.8 258.4,261.9 259.8,263.9 261.9,263.5 264.1,263.1 262.7,261.1 261.4,259.1 259.2,259.5" fill="#00ddbe"/>
<polygon points="238.5,252.4 239.8,254.6 241.2,256.8 243.4,256.7 245.6,256.6 244.3,254.5 242.9,252.4 240.7,252.4" fill="#0ed94e"/>
<polygon points="336.5,276.1 338.1,278.3 339.6,280.5 341.6,279.6 343.5,278.7 342,276.4 340.5,274.2 338.5,275.2" fill="#0a7cfa"/>
<polygon points="318.6,273.4 320.1,275.5 321.6,277.5 323.6,276.6 325.6,275.7 324.1,273.6 322.6,271.5 320.6,272.5" fill="#0396fc"/>
<polygon points="300.5,270.8 302,272.7 303.4,274.8 305.5,273.9 307.5,273 306.1,271 304.6,269 302.6,269.9" fill="#00acfa"/>
<polygon points="282.4,267.6 283.8,269.5 285.2,271.5 287.3,270.8 289.4,270 288,268.1 286.5,266.1 284.5,266.9" fill="#00c3f4"/>
<polygon points="264.1,263.1 265.5,265.1 266.9,267.2 269,266.6 271.1,266.1 269.7,264.1 268.4,262.1 266.2,262.6" fill="#00dade"/>
<polygon points="245.6,256.6 247,258.7 248.3,260.9 250.5,260.7 252.7,260.4 251.4,258.3 250,256.3 247.8,256.5" fill="#01df8e"/>
<polygon points="226.8,247.4 228.1,249.7 229.4,252 231.7,252.2 234,252.3 232.7,250.1 231.3,247.8 229.1,247.6" fill="#4ed61a"/>
<polygon points="343.5,278.7 345.1,280.9 346.6,283.2 348.6,282.3 350.5,281.4 349,279.1 347.4,276.8 345.5,277.7" fill="#0f6af9"/>
<polygon points="325.6,275.7 327.1,277.8 328.6,279.9 330.6,279 332.6,278 331.1,275.9 329.6,273.8 327.6,274.7" fill="#0787fb"/>
<polygon points="307.5,273 309,275 310.5,277.1 312.5,276.2 314.5,275.2 313.1,273.2 311.6,271.2 309.6,272.1" fill="#019ffc"/>
<polygon points="289.4,270 290.8,272 292.3,274 294.3,273.2 296.4,272.4 295,270.4 293.5,268.5 291.5,269.3" fill="#00b6f7"/>
<polygon points="271.1,266.1 272.5,268.1 273.9,270.1 276.1,269.5 278.2,268.9 276.8,266.9 275.4,264.9 273.3,265.5" fill="#00d0ee"/>
<polygon points="252.7,260.4 254.1,262.5 255.4,264.7 257.6,264.3 259.8,263.9 258.4,261.9 257.1,259.8 254.9,260.1" fill="#00dcb6"/>
<polygon points="234,252.3 235.3,254.6 236.7,256.9 238.9,256.8 241.2,256.8 239.8,254.6 238.5,252.4 236.2,252.4" fill="#12d638"/>
<polygon points="332.6,278 334.1,280.2 335.6,282.4 337.6,281.5 339.6,280.5 338.1,278.3 336.5,276.1 334.6,277.1" fill="#0b77fa"/>
<polygon points="314.5,275.2 316,277.3 317.5,279.4 319.6,278.5 321.6,277.5 320.1,275.5 318.6,273.4 316.6,274.3" fill="#0591fc"/>
<polygon points="296.4,272.4 297.9,274.4 299.3,276.5 301.4,275.6 303.4,274.8 302,272.7 300.5,270.8 298.5,271.6" fill="#00a8fa"/>
<polygon points="278.2,268.9 279.6,270.9 281,272.9 283.1,272.2 285.2,271.5 283.8,269.5 282.4,267.6 280.3,268.2" fill="#00c1f3"/>
<polygon points="259.8,263.9 261.2,266 262.5,268.1 264.7,267.7 266.9,267.2 265.5,265.1 264.1,263.1 261.9,263.5" fill="#00d9d9"/>
<polygon points="241.2,256.8 242.5,259 243.9,261.3 246.1,261.1 248.3,260.9 247,258.7 245.6,256.6 243.4,256.7" fill="#05dc7c"/>
<polygon points="339.6,280.5 341.1,282.8 342.7,285.1 344.6,284.2 346.6,283.2 345.1,280.9 343.5,278.7 341.6,279.6" fill="#1066f9"/>
<polygon points="321.6,277.5 323.1,279.7 324.6,281.8 326.6,280.9 328.6,279.9 327.1,277.8 325.6,275.7 323.6,276.6" fill="#0982fb"/>
<polygon points="303.4,274.8 304.9,276.8 306.4,278.9 308.4,278 310.5,277.1 309,275 307.5,273 305.5,273.9" fill="#029bfc"/>
<polygon points="285.2,271.5 286.6,273.6 288.1,275.6 290.2,274.8 292.3,274 290.8,272 289.4,270 287.3,270.8" fill="#00b3f7"/>
<polygon points="266.9,267.2 268.3,269.2 269.7,271.3 271.8,270.7 273.9,270.1 272.5,268.1 271.1,266.1 269,266.6" fill="#00d0ed"/>
<polygon points="248.3,260.9 249.7,263.1 251,265.3 253.2,265 255.4,264.7 254.1,262.5 252.7,260.4 250.5,260.7" fill="#00dcad"/>
<polygon points="229.4,252 230.8,254.4 232.1,256.7 234.4,256.8 236.7,256.9 235.3,254.6 234,252.3 231.7,252.2" fill="#17d31f"/>
<polygon points="328.6,279.9 330.1,282.1 331.7,284.3 333.7,283.3 335.6,282.4 334.1,280.2 332.6,278 330.6,279" fill="#0d72fb"/>
<polygon points="310.5,277.1 312,279.1 313.5,281.2 315.5,280.3 317.5,279.4 316,277.3 314.5,275.2 312.5,276.2" fill="#068cfc"/>
<polygon points="292.3,274 293.7,276.1 295.2,278.1 297.2,277.3 299.3,276.5 297.9,274.4 296.4,272.4 294.3,273.2" fill="#00a5fa"/>
<polygon points="273.9,270.1 275.3,272.2 276.8,274.3 278.9,273.6 281,272.9 279.6,270.9 278.2,268.9 276.1,269.5" fill="#00c0f2"/>
<polygon points="255.4,264.7 256.8,266.8 258.2,269 260.4,268.6 262.5,268.1 261.2,266 259.8,263.9 257.6,264.3" fill="#00d8d2"/>
<polygon points="236.7,256.9 238,259.2 239.4,261.5 241.6,261.4 243.9,261.3 242.5,259 241.2,256.8 238.9,256.8" fill="#08d968"/>
<polygon points="335.6,282.4 337.2,284.6 338.7,286.9 340.7,286 342.7,285.1 341.1,282.8 339.6,280.5 337.6,281.5" fill="#1161f9"/>
<polygon points="317.5,279.4 319,281.5 320.5,283.6 322.6,282.7 324.6,281.8 323.1,279.7 321.6,277.5 319.6,278.5" fill="#0a7dfb"/>
<polygon points="299.3,276.5 300.8,278.5 302.3,280.6 304.3,279.7 306.4,278.9 304.9,276.8 303.4,274.8 301.4,275.6" fill="#0397fb"/>
<polygon points="281,272.9 282.4,275 283.9,277.1 286,276.3 288.1,275.6 286.6,273.6 285.2,271.5 283.1,272.2" fill="#00b1f6"/>
<polygon points="262.5,268.1 263.9,270.2 265.3,272.4 267.5,271.9 269.7,271.3 268.3,269.2 266.9,267.2 264.7,267.7" fill="#00d0eb"/>
<polygon points="243.9,261.3 245.2,263.5 246.6,265.8 248.8,265.5 251,265.3 249.7,263.1 248.3,260.9 246.1,261.1" fill="#00dca2"/>
<polygon points="324.6,281.8 326.1,283.9 327.6,286.1 329.6,285.2 331.7,284.3 330.1,282.1 328.6,279.9 326.6,280.9" fill="#0e6efb"/>
<polygon points="306.4,278.9 307.9,280.9 309.4,283 311.4,282.1 313.5,281.2 312,279.1 310.5,277.1 308.4,278" fill="#0788fb"/>
<polygon points="288.1,275.6 289.5,277.7 291,279.7 293.1,278.9 295.2,278.1 293.7,276.1 292.3,274 290.2,274.8" fill="#00a2f9"/>
<polygon points="269.7,271.3 271.1,273.4 272.5,275.5 274.6,274.9 276.8,274.3 275.3,272.2 273.9,270.1 271.8,270.7" fill="#00bff0"/>
<polygon points="251,265.3 252.4,267.5 253.8,269.7 256,269.4 258.2,269 256.8,266.8 255.4,264.7 253.2,265" fill="#00d8ca"/>
<polygon points="232.1,256.7 233.4,259.1 234.8,261.5 237.1,261.5 239.4,261.5 238,259.2 236.7,256.9 234.4,256.8" fill="#0dd651"/>
<polygon points="331.7,284.3 333.2,286.5 334.7,288.7 336.7,287.8 338.7,286.9 337.2,284.6 335.6,282.4 333.7,283.3" fill="#125dfa"/>
<polygon points="313.5,281.2 315,283.3 316.5,285.5 318.5,284.6 320.5,283.6 319,281.5 317.5,279.4 315.5,280.3" fill="#0b79fb"/>
<polygon points="295.2,278.1 296.6,280.2 298.1,282.3 300.2,281.5 302.3,280.6 300.8,278.5 299.3,276.5 297.2,277.3" fill="#0493fa"/>
<polygon points="276.8,274.3 278.2,276.4 279.6,278.5 281.7,277.8 283.9,277.1 282.4,275 281,272.9 278.9,273.6" fill="#00aff5"/>
<polygon points="258.2,269 259.6,271.2 261,273.3 263.2,272.9 265.3,272.4 263.9,270.2 262.5,268.1 260.4,268.6" fill="#00d2e9"/>
<polygon points="239.4,261.5 240.7,263.8 242.1,266.1 244.3,266 246.6,265.8 245.2,263.5 243.9,261.3 241.6,261.4" fill="#00dc96"/>
<polygon points="320.5,283.6 322.1,285.8 323.6,288 325.6,287.1 327.6,286.1 326.1,283.9 324.6,281.8 322.6,282.7" fill="#0f6afb"/>
<polygon points="302.3,280.6 303.7,282.7 305.2,284.8 307.3,283.9 309.4,283 307.9,280.9 306.4,278.9 304.3,279.7" fill="#0884fb"/>
<polygon points="283.9,277.1 285.3,279.2 286.7,281.3 288.9,280.5 291,279.7 289.5,277.7 288.1,275.6 286,276.3" fill="#00a0f9"/>
<polygon points="265.3,272.4 266.7,274.5 268.1,276.7 270.3,276.1 272.5,275.5 271.1,273.4 269.7,271.3 267.5,271.9" fill="#00c0ef"/>
<polygon points="246.6,265.8 247.9,268.1 249.3,270.3 251.6,270 253.8,269.7 252.4,267.5 251,265.3 248.8,265.5" fill="#00d8c0"/>
<polygon points="327.6,286.1 329.2,288.3 330.7,290.5 332.7,289.6 334.7,288.7 333.2,286.5 331.7,284.3 329.6,285.2" fill="#1359fa"/>
<polygon points="309.4,283 310.9,285.2 312.4,287.3 314.4,286.4 316.5,285.5 315,283.3 313.5,281.2 311.4,282.1" fill="#0c75fb"/>
<polygon points="291,279.7 292.4,281.8 293.9,283.9 296,283.1 298.1,282.3 296.6,280.2 295.2,278.1 293.1,278.9" fill="#0590fa"/>
<polygon points="272.5,275.5 273.9,277.7 275.3,279.8 277.5,279.2 279.6,278.5 278.2,276.4 276.8,274.3 274.6,274.9" fill="#00aef3"/>
<polygon points="253.8,269.7 255.2,272 256.6,274.2 258.8,273.8 261,273.3 259.6,271.2 258.2,269 256,269.4" fill="#00d4e7"/>
<polygon points="234.8,261.5 236.1,263.9 237.5,266.3 239.8,266.3 242.1,266.1 240.7,263.8 239.4,261.5 237.1,261.5" fill="#03da83"/>
<polygon points="316.5,285.5 318,287.6 319.5,289.8 321.5,288.9 323.6,288 322.1,285.8 320.5,283.6 318.5,284.6" fill="#1066fb"/>
<polygon points="298.1,282.3 299.6,284.4 301,286.5 303.1,285.7 305.2,284.8 303.7,282.7 302.3,280.6 300.2,281.5" fill="#0981fa"/>
<polygon points="279.6,278.5 281,280.6 282.5,282.7 284.6,282 286.7,281.3 285.3,279.2 283.9,277.1 281.7,277.8" fill="#019ef8"/>
<polygon points="261,273.3 262.4,275.5 263.8,277.8 266,277.2 268.1,276.7 266.7,274.5 265.3,272.4 263.2,272.9" fill="#00c0ed"/>
<polygon points="242.1,266.1 243.4,268.5 244.8,270.8 247.1,270.6 249.3,270.3 247.9,268.1 246.6,265.8 244.3,266" fill="#00d7b5"/>
<polygon points="323.6,288 325.1,290.2 326.7,292.4 328.7,291.5 330.7,290.5 329.2,288.3 327.6,286.1 325.6,287.1" fill="#1556fa"/>
<polygon points="305.2,284.8 306.7,286.9 308.2,289.1 310.3,288.2 312.4,287.3 310.9,285.2 309.4,283 307.3,283.9" fill="#0d71fa"/>
<polygon points="286.7,281.3 288.2,283.4 289.7,285.5 291.8,284.7 293.9,283.9 292.4,281.8 291,279.7 288.9,280.5" fill="#058ef9"/>
<polygon points="268.1,276.7 269.6,278.9 271,281.1 273.2,280.4 275.3,279.8 273.9,277.7 272.5,275.5 270.3,276.1" fill="#00aef2"/>
<polygon points="249.3,270.3 250.7,272.6 252.1,274.9 254.3,274.6 256.6,274.2 255.2,272 253.8,269.7 251.6,270" fill="#00d3de"/>
<polygon points="312.4,287.3 313.9,289.4 315.4,291.6 317.4,290.7 319.5,289.8 318,287.6 316.5,285.5 314.4,286.4" fill="#1162fa"/>
<polygon points="293.9,283.9 295.4,286.1 296.8,288.2 299,287.4 301,286.5 299.6,284.4 298.1,282.3 296,283.1" fill="#0a7efa"/>
<polygon points="275.3,279.8 276.7,282 278.2,284.1 280.3,283.4 282.5,282.7 281,280.6 279.6,278.5 277.5,279.2" fill="#019df6"/>
<polygon points="256.6,274.2 258,276.5 259.4,278.7 261.6,278.2 263.8,277.8 262.4,275.5 261,273.3 258.8,273.8" fill="#00c2eb"/>
<polygon points="237.5,266.3 238.9,268.8 240.3,271.2 242.5,271 244.8,270.8 243.4,268.5 242.1,266.1 239.8,266.3" fill="#00d8a8"/>
<polygon points="319.5,289.8 321,292 322.6,294.2 324.6,293.3 326.7,292.4 325.1,290.2 323.6,288 321.5,288.9" fill="#1652fa"/>
<polygon points="301,286.5 302.5,288.6 304,290.8 306.1,289.9 308.2,289.1 306.7,286.9 305.2,284.8 303.1,285.7" fill="#0e6efa"/>
<polygon points="282.5,282.7 283.9,284.9 285.4,287 287.5,286.3 289.7,285.5 288.2,283.4 286.7,281.3 284.6,282" fill="#058cf8"/>
<polygon points="263.8,277.8 265.2,280 266.6,282.2 268.8,281.6 271,281.1 269.6,278.9 268.1,276.7 266,277.2" fill="#00aff0"/>
<polygon points="244.8,270.8 246.2,273.2 247.6,275.5 249.8,275.3 252.1,274.9 250.7,272.6 249.3,270.3 247.1,270.6" fill="#00d3d4"/>
<polygon points="308.2,289.1 309.7,291.2 311.2,293.4 313.3,292.5 315.4,291.6 313.9,289.4 312.4,287.3 310.3,288.2" fill="#125efa"/>
<polygon points="289.7,285.5 291.1,287.7 292.6,289.8 294.7,289 296.8,288.2 295.4,286.1 293.9,283.9 291.8,284.7" fill="#0a7bf9"/>
<polygon points="271,281.1 272.4,283.2 273.8,285.4 276,284.8 278.2,284.1 276.7,282 275.3,279.8 273.2,280.4" fill="#009df5"/>
<polygon points="252.1,274.9 253.5,277.2 254.9,279.6 257.1,279.1 259.4,278.7 258,276.5 256.6,274.2 254.3,274.6" fill="#00c5e8"/>
<polygon points="315.4,291.6 316.9,293.8 318.4,295.9 320.5,295 322.6,294.2 321,292 319.5,289.8 317.4,290.7" fill="#174ffa"/>
<polygon points="296.8,288.2 298.3,290.3 299.8,292.5 301.9,291.6 304,290.8 302.5,288.6 301,286.5 299,287.4" fill="#0e6bfa"/>
<polygon points="278.2,284.1 279.6,286.3 281.1,288.5 283.2,287.8 285.4,287 283.9,284.9 282.5,282.7 280.3,283.4" fill="#068bf7"/>
<polygon points="259.4,278.7 260.8,281 262.2,283.2 264.4,282.7 266.6,282.2 265.2,280 263.8,277.8 261.6,278.2" fill="#00b0ee"/>
<polygon points="240.3,271.2 241.6,273.6 243,276 245.3,275.8 247.6,275.5 246.2,273.2 244.8,270.8 242.5,271" fill="#00d3c8"/>
<polygon points="304,290.8 305.5,292.9 307.1,295.1 309.2,294.2 311.2,293.4 309.7,291.2 308.2,289.1 306.1,289.9" fill="#135bfa"/>
<polygon points="285.4,287 286.9,289.2 288.3,291.3 290.5,290.6 292.6,289.8 291.1,287.7 289.7,285.5 287.5,286.3" fill="#0a7af8"/>
<polygon points="266.6,282.2 268,284.4 269.5,286.6 271.7,286.1 273.8,285.4 272.4,283.2 271,281.1 268.8,281.6" fill="#009ef4"/>
<polygon points="247.6,275.5 249,277.9 250.4,280.3 252.6,279.9 254.9,279.6 253.5,277.2 252.1,274.9 249.8,275.3" fill="#00c8e6"/>
<polygon points="311.2,293.4 312.8,295.5 314.3,297.7 316.4,296.8 318.4,295.9 316.9,293.8 315.4,291.6 313.3,292.5" fill="#184cfa"/>
<polygon points="292.6,289.8 294.1,291.9 295.6,294.1 297.7,293.3 299.8,292.5 298.3,290.3 296.8,288.2 294.7,289" fill="#0f69f9"/>
<polygon points="273.8,285.4 275.3,287.6 276.7,289.8 278.9,289.2 281.1,288.5 279.6,286.3 278.2,284.1 276,284.8" fill="#058bf6"/>
<polygon points="254.9,279.6 256.3,281.9 257.7,284.2 260,283.7 262.2,283.2 260.8,281 259.4,278.7 257.1,279.1" fill="#00b3ec"/>
<polygon points="299.8,292.5 301.3,294.6 302.8,296.8 305,295.9 307.1,295.1 305.5,292.9 304,290.8 301.9,291.6" fill="#1359f9"/>
<polygon points="281.1,288.5 282.5,290.6 284,292.8 286.2,292.1 288.3,291.3 286.9,289.2 285.4,287 283.2,287.8" fill="#0a79f7"/>
<polygon points="262.2,283.2 263.6,285.5 265,287.8 267.3,287.2 269.5,286.6 268,284.4 266.6,282.2 264.4,282.7" fill="#009ff2"/>
<polygon points="243,276 244.4,278.4 245.8,280.9 248.1,280.6 250.4,280.3 249,277.9 247.6,275.5 245.3,275.8" fill="#00cce3"/>
<polygon points="307.1,295.1 308.6,297.2 310.1,299.4 312.2,298.5 314.3,297.7 312.8,295.5 311.2,293.4 309.2,294.2" fill="#194afa"/>
<polygon points="288.3,291.3 289.8,293.5 291.3,295.7 293.4,294.9 295.6,294.1 294.1,291.9 292.6,289.8 290.5,290.6" fill="#0f68f8"/>
<polygon points="269.5,286.6 270.9,288.9 272.3,291.1 274.5,290.5 276.7,289.8 275.3,287.6 273.8,285.4 271.7,286.1" fill="#058bf5"/>
<polygon points="250.4,280.3 251.8,282.6 253.2,285 255.5,284.6 257.7,284.2 256.3,281.9 254.9,279.6 252.6,279.9" fill="#00b6ea"/>
<polygon points="295.6,294.1 297.1,296.2 298.6,298.4 300.7,297.6 302.8,296.8 301.3,294.6 299.8,292.5 297.7,293.3" fill="#1457f9"/>
<polygon points="276.7,289.8 278.2,292 279.7,294.2 281.8,293.5 284,292.8 282.5,290.6 281.1,288.5 278.9,289.2" fill="#0a78f6"/>
<polygon points="257.7,284.2 259.1,286.5 260.6,288.8 262.8,288.3 265,287.8 263.6,285.5 262.2,283.2 260,283.7" fill="#00a1f0"/>
<polygon points="302.8,296.8 304.4,298.9 305.9,301.1 308,300.2 310.1,299.4 308.6,297.2 307.1,295.1 305,295.9" fill="#1a48f9"/>
<polygon points="284,292.8 285.5,295 287,297.2 289.1,296.4 291.3,295.7 289.8,293.5 288.3,291.3 286.2,292.1" fill="#0f67f7"/>
<polygon points="265,287.8 266.5,290 267.9,292.3 270.1,291.7 272.3,291.1 270.9,288.9 269.5,286.6 267.3,287.2" fill="#058cf3"/>
<polygon points="245.8,280.9 247.2,283.3 248.6,285.7 250.9,285.3 253.2,285 251.8,282.6 250.4,280.3 248.1,280.6" fill="#00bae7"/>
<polygon points="291.3,295.7 292.8,297.8 294.3,300 296.4,299.2 298.6,298.4 297.1,296.2 295.6,294.1 293.4,294.9" fill="#1456f8"/>
<polygon points="272.3,291.1 273.8,293.3 275.3,295.5 277.5,294.9 279.7,294.2 278.2,292 276.7,289.8 274.5,290.5" fill="#0a79f5"/>
<polygon points="253.2,285 254.6,287.3 256,289.7 258.3,289.2 260.6,288.8 259.1,286.5 257.7,284.2 255.5,284.6" fill="#00a4ee"/>
<polygon points="298.6,298.4 300.1,300.5 301.6,302.7 303.8,301.9 305.9,301.1 304.4,298.9 302.8,296.8 300.7,297.6" fill="#1a46f9"/>
<polygon points="279.7,294.2 281.1,296.4 282.6,298.6 284.8,297.9 287,297.2 285.5,295 284,292.8 281.8,293.5" fill="#0f66f7"/>
<polygon points="260.6,288.8 262,291.1 263.4,293.4 265.7,292.8 267.9,292.3 266.5,290 265,287.8 262.8,288.3" fill="#048ef2"/>
<polygon points="287,297.2 288.5,299.3 290,301.5 292.1,300.7 294.3,300 292.8,297.8 291.3,295.7 289.1,296.4" fill="#1455f8"/>
<polygon points="267.9,292.3 269.4,294.5 270.8,296.8 273,296.2 275.3,295.5 273.8,293.3 272.3,291.1 270.1,291.7" fill="#0a7af4"/>
<polygon points="248.6,285.7 250,288.1 251.5,290.5 253.7,290.1 256,289.7 254.6,287.3 253.2,285 250.9,285.3" fill="#00a7ec"/>
<polygon points="294.3,300 295.8,302.1 297.3,304.3 299.5,303.5 301.6,302.7 300.1,300.5 298.6,298.4 296.4,299.2" fill="#1b45f8"/>
<polygon points="275.3,295.5 276.7,297.7 278.2,299.9 280.4,299.3 282.6,298.6 281.1,296.4 279.7,294.2 277.5,294.9" fill="#0f67f6"/>
<polygon points="256,289.7 257.5,292 258.9,294.3 261.2,293.9 263.4,293.4 262,291.1 260.6,288.8 258.3,289.2" fill="#0391f0"/>
<polygon points="282.6,298.6 284.1,300.8 285.6,302.9 287.8,302.2 290,301.5 288.5,299.3 287,297.2 284.8,297.9" fill="#1455f7"/>
<polygon points="263.4,293.4 264.9,295.6 266.3,297.9 268.6,297.3 270.8,296.8 269.4,294.5 267.9,292.3 265.7,292.8" fill="#097cf3"/>
<polygon points="290,301.5 291.5,303.6 293,305.8 295.2,305 297.3,304.3 295.8,302.1 294.3,300 292.1,300.7" fill="#1b45f8"/>
<polygon points="270.8,296.8 272.3,299 273.7,301.2 276,300.6 278.2,299.9 276.7,297.7 275.3,295.5 273,296.2" fill="#0e68f4"/>
<polygon points="251.5,290.5 252.9,292.8 254.3,295.2 256.6,294.8 258.9,294.3 257.5,292 256,289.7 253.7,290.1" fill="#0195ef"/>
<polygon points="278.2,299.9 279.7,302.1 281.2,304.3 283.4,303.6 285.6,302.9 284.1,300.8 282.6,298.6 280.4,299.3" fill="#1455f6"/>
<polygon points="258.9,294.3 260.3,296.6 261.8,298.9 264.1,298.4 266.3,297.9 264.9,295.6 263.4,293.4 261.2,293.9" fill="#087ff1"/>
<polygon points="285.6,302.9 287.1,305.1 288.6,307.2 290.8,306.5 293,305.8 291.5,303.6 290,301.5 287.8,302.2" fill="#1b45f7"/>
<polygon points="266.3,297.9 267.8,300.1 269.3,302.4 271.5,301.8 273.7,301.2 272.3,299 270.8,296.8 268.6,297.3" fill="#0e6af3"/>
<polygon points="273.7,301.2 275.2,303.4 276.7,305.6 278.9,305 281.2,304.3 279.7,302.1 278.2,299.9 276,300.6" fill="#1357f5"/>
<polygon points="254.3,295.2 255.8,297.5 257.2,299.8 259.5,299.4 261.8,298.9 260.3,296.6 258.9,294.3 256.6,294.8" fill="#0782f0"/>
<polygon points="281.2,304.3 282.7,306.5 284.2,308.6 286.4,307.9 288.6,307.2 287.1,305.1 285.6,302.9 283.4,303.6" fill="#1a46f6"/>
<polygon points="261.8,298.9 263.2,301.2 264.7,303.4 267,302.9 269.3,302.4 267.8,300.1 266.3,297.9 264.1,298.4" fill="#0d6df2"/>
<polygon points="269.3,302.4 270.7,304.6 272.2,306.8 274.5,306.2 276.7,305.6 275.2,303.4 273.7,301.2 271.5,301.8" fill="#1259f4"/>
<polygon points="276.7,305.6 278.2,307.8 279.7,309.9 281.9,309.3 284.2,308.6 282.7,306.5 281.2,304.3 278.9,305" fill="#1947f5"/>
<polygon points="257.2,299.8 258.7,302.1 260.1,304.4 262.4,303.9 264.7,303.4 263.2,301.2 261.8,298.9 259.5,299.4" fill="#0c70f1"/>
<polygon points="264.7,303.4 266.2,305.7 267.7,307.9 269.9,307.4 272.2,306.8 270.7,304.6 269.3,302.4 267,302.9" fill="#115cf3"/>
<polygon points="272.2,306.8 273.7,309 275.2,311.1 277.5,310.5 279.7,309.9 278.2,307.8 276.7,305.6 274.5,306.2" fill="#1849f4"/>
<polygon points="260.1,304.4 261.6,306.7 263.1,308.9 265.4,308.4 267.7,307.9 266.2,305.7 264.7,303.4 262.4,303.9" fill="#105ff1"/>
<polygon points="267.7,307.9 269.1,310.1 270.6,312.2 272.9,311.7 275.2,311.1 273.7,309 272.2,306.8 269.9,307.4" fill="#174cf3"/>
<polygon points="263.1,308.9 264.5,311.1 266,313.3 268.3,312.8 270.6,312.2 269.1,310.1 267.7,307.9 265.4,308.4" fill="#1550f2"/>
</g>
<circle cx="320.3" cy="237.4" r="1.55" fill="#e30b0b" stroke="#6e0000" stroke-width="0.5"/>
<line x1="212" y1="219.1" x2="212.9" y2="223.2" stroke="#555" stroke-width="0.6"/>
<circle cx="212" cy="219.1" r="1.55" fill="#e30b0b" stroke="#6e0000" stroke-width="0.5"/>
<circle cx="286.5" cy="264.2" r="1.55" fill="#e30b0b" stroke="#6e0000" stroke-width="0.5"/>
<circle cx="310" cy="298.7" r="1.55" fill="#e30b0b" stroke="#6e0000" stroke-width="0.5"/>
<circle cx="266" cy="313.3" r="1.55" fill="#e30b0b" stroke="#6e0000" stroke-width="0.5"/>
<line x1="243.4" y1="272" x2="243.4" y2="277.9" stroke="#555" stroke-width="0.6"/>
<circle cx="243.4" cy="277.9" r="1.55" fill="#fff" stroke="#b85050" stroke-width="0.6"/>
<circle cx="350" cy="284.2" r="1.55" fill="#fff" stroke="#b85050" stroke-width="0.6"/></g>
<g id="pe"><polygon points="32.3,491.9 81.9,539.4 162.2,506.4 107.3,466.3" fill="#5b5b5b"/>
<polyline points="64.2,481 63.8,481.2 62.6,481.7 61.4,482.2 60.2,482.7 59,483.2 57.8,483.7 56.5,484.2 55.3,484.7 54.1,485.2 52.9,485.7 51.6,486.2 51,486.4 50.4,486.7 49.1,487.2 47.9,487.7 46.6,488.2 45.3,488.7 44.1,489.2 42.8,489.7 41.5,490.2 40.2,490.7 38.9,491.1 37.6,491.6 36.3,492.1 34.9,492.6 33.6,493.1" fill="none" stroke="#0a64f0" stroke-width="1.2" stroke-linecap="round"/>
<polyline points="138.4,516.1 139.5,515.6 140.7,515 141.8,514.3 143,513.7 144.2,513.1 145.4,512.5 146.5,511.9 147.7,511.4 148.9,510.8 150.1,510.2 150.2,510.1 151.2,509.6 152.4,509 153.6,508.5 154.7,507.9 155.9,507.3 157,506.8 158.2,506.2 159.4,505.7 160.5,505.1" fill="none" stroke="#0a64f0" stroke-width="1.2" stroke-linecap="round"/>
<polyline points="105.5,529.7 106,529.3 107.1,528.5 108.2,527.7 109.4,526.9 109.6,526.7 110.5,526.1 111.6,525.4 112.8,524.6 113.9,523.9 114.4,523.6 115,523.1 116.2,522.4 117.3,521.7 118.5,521 119.6,520.3 120.1,520 120.8,519.6 121.9,518.9 123.1,518.2 124.3,517.6 125.4,516.9 126.6,516.2 127.2,515.9 127.8,515.6 128.9,515 130.1,514.3 131.3,513.7 132.4,513.1 133.6,512.5 134.8,511.9 136,511.3 136.8,510.8 137.1,510.7 138.3,510.1 139.5,509.5 140.7,508.9 141.8,508.3 143,507.8 144.2,507.2 145.3,506.6 146.5,506.1 147.7,505.5 148.9,505 150,504.4 150.9,504 151.2,503.9 152.4,503.3 153.5,502.8 154.7,502.2 155.8,501.7" fill="none" stroke="#00c8d8" stroke-width="1.2" stroke-linecap="round"/>
<polyline points="107.9,466.7 106.8,467.2 105.7,467.6 104.8,468 104.6,468 103.5,468.5 102.4,469 101.3,469.4 100.2,469.9 99.1,470.3 98,470.8 96.9,471.3 95.8,471.7 94.7,472.2 93.6,472.7 93.1,472.9 92.5,473.1 91.3,473.6 90.2,474.1 89.1,474.6 88,475.1 86.9,475.6 85.7,476.1 84.6,476.5 83.5,477 82.9,477.3 82.3,477.5 81.2,478 80.1,478.5 78.9,479 77.8,479.5 76.6,480 75.4,480.5 74.3,481 73.1,481.5 72.5,481.8 71.9,482 70.7,482.6 69.6,483.1 68.4,483.6 67.2,484.1 66,484.6 64.8,485.1 63.6,485.6 62.3,486.1 61.1,486.6 60,487.1 59.9,487.1 58.7,487.6 57.4,488.1 56.2,488.6 54.9,489.1 53.6,489.6 52.4,490.1 51.1,490.6 49.8,491.1 48.5,491.6 47.2,492.1 45.9,492.6 44.6,493.1 43.3,493.6 42,494.1 40.7,494.5 39.3,495 38,495.5 36.6,496" fill="none" stroke="#00c8d8" stroke-width="1.2" stroke-linecap="round"/>
<polyline points="85,538.1 85.9,537.2 86.9,536.2 87.2,535.9 87.9,535.2 88.9,534.3 89.6,533.7 90,533.3 91,532.4 92.1,531.4 92.1,531.4 93.1,530.5 94.2,529.6 95,529 95.2,528.8 96.3,527.9 97.4,527 98.1,526.5 98.5,526.2 99.5,525.4 100.6,524.6 101.6,523.8 101.7,523.8 102.8,523 103.9,522.2 105,521.4 105.6,521 106.2,520.7 107.3,519.9 108.4,519.2 109.5,518.5 110.4,517.9 110.7,517.8 111.8,517 113,516.4 114.1,515.7 115.2,515 116.4,514.4 116.4,514.3 117.6,513.7 118.7,513 119.9,512.4 121,511.7 122.2,511.1 123.4,510.5 124.2,510.1 124.5,509.9 125.7,509.3 126.9,508.7 128.1,508.1 129.2,507.5 130.4,506.9 131.6,506.3 132.8,505.8 133.9,505.2 135.1,504.6 135.7,504.4 136.3,504.1 137.5,503.5 138.6,503 139.8,502.4 141,501.9 142.2,501.4 143.3,500.8 144.5,500.3 145.7,499.8 146.8,499.2 148,498.7 149.2,498.2 150.3,497.7" fill="none" stroke="#14d232" stroke-width="1.2" stroke-linecap="round"/>
<polyline points="112.2,469.9 111.1,470.3 110,470.8 108.9,471.2 107.8,471.7 106.7,472.2 105.6,472.6 104.5,473.1 103.4,473.6 102.3,474.1 101.2,474.5 101,474.7 100.1,475 99,475.5 97.9,476 96.8,476.5 95.7,477 94.6,477.5 93.5,478 92.3,478.5 91.2,479 91.2,479 90.1,479.5 88.9,480 87.8,480.5 86.7,481 85.5,481.5 84.4,482 83.2,482.5 82.1,483.1 81.3,483.4 80.9,483.6 79.7,484.1 78.6,484.6 77.4,485.1 76.2,485.6 75,486.1 73.8,486.7 72.6,487.2 71.4,487.7 70.2,488.2 69.3,488.6 69,488.7 67.7,489.2 66.5,489.7 65.3,490.2 64,490.7 62.8,491.2 61.5,491.7 60.2,492.2 59,492.7 57.7,493.2 56.4,493.7 55.1,494.2 53.8,494.7 52.4,495.2 51.1,495.7 49.8,496.2 48.4,496.6 47.1,497.1 45.7,497.6 44.4,498.1 43,498.5 41.6,499 40.2,499.4" fill="none" stroke="#14d232" stroke-width="1.2" stroke-linecap="round"/>
<polyline points="76.9,534.6 77.8,533.5 78,533.4 78.8,532.4 79.7,531.4 79.7,531.4 80.7,530.4 81.5,529.5 81.6,529.3 82.6,528.3 83.4,527.5 83.5,527.4 84.5,526.4 85.5,525.5 85.5,525.4 86.5,524.5 87.5,523.6 87.7,523.4 88.5,522.7 89.5,521.8 90.2,521.2 90.5,520.9 91.5,520.1 92.6,519.2 92.9,519 93.6,518.4 94.7,517.6 95.7,516.8 96,516.6 96.8,516 97.9,515.2 99,514.5 99.6,514 100,513.7 101.1,513 102.2,512.3 103.3,511.6 104,511.2 104.5,510.9 105.6,510.2 106.7,509.5 107.8,508.9 109,508.2 109.7,507.8 110.1,507.6 111.3,506.9 112.4,506.3 113.6,505.7 114.7,505.1 115.9,504.5 117.1,503.9 117.9,503.5 118.3,503.3 119.4,502.8 120.6,502.2 121.8,501.6 123,501.1 124.2,500.5 125.3,500 126.5,499.5 127.7,498.9 128.9,498.4 130.1,497.9 131.3,497.4 132.5,496.9 133.6,496.4 134.1,496.2 134.8,495.9 136,495.3 137.2,494.8 138.4,494.3 139.5,493.8 140.7,493.3 141.9,492.9 143,492.4" fill="none" stroke="#b4dc14" stroke-width="1.2" stroke-linecap="round"/>
<polyline points="118.3,474.3 117.2,474.8 116.1,475.3 115.1,475.8 114,476.2 112.9,476.7 111.8,477.2 110.8,477.7 110.7,477.7 109.6,478.2 108.5,478.7 107.4,479.2 106.3,479.8 105.2,480.3 104.1,480.8 103,481.3 102.1,481.7 101.9,481.8 100.8,482.3 99.7,482.9 98.6,483.4 97.4,483.9 96.3,484.4 95.2,485 94,485.5 93.5,485.8 92.9,486 91.8,486.6 90.6,487.1 89.4,487.6 88.3,488.1 87.1,488.7 85.9,489.2 84.7,489.7 83.5,490.2 82.6,490.6 82.3,490.8 81.1,491.3 79.9,491.8 78.7,492.3 77.4,492.8 76.2,493.3 74.9,493.8 73.7,494.3 72.4,494.8 71.1,495.3 69.8,495.8 68.5,496.3 67.2,496.8 65.9,497.2 64.5,497.7 63.2,498.2 61.8,498.6 60.5,499.1 59.1,499.6 57.7,500 56.3,500.5 54.9,500.9 53.5,501.3 52.1,501.8 50.7,502.2 49.2,502.6 48.9,502.7 47.8,503.1 46.3,503.5 44.9,503.9" fill="none" stroke="#b4dc14" stroke-width="1.2" stroke-linecap="round"/>
<polygon points="30.9,470 107.5,445.5 108.4,370.2 25.6,389.9" fill="#fff"/>
<polygon points="107.5,445.5 163.8,483.9 169.6,401.1 108.4,370.2" fill="#fff"/>
<path d="M32.3,491.9 L25.6,389.9 M44.5,465.6 L40.4,386.3 M57.8,461.4 L54.8,382.9 M70.7,457.3 L68.8,379.6 M83.3,453.2 L82.4,376.4 M95.6,449.3 L95.5,373.3 M107.3,466.3 L108.4,370.2 M117.7,452.5 L119.4,375.8 M128.4,459.7 L130.9,381.6 M139.6,467.4 L143.1,387.7 M151.4,475.4 L156,394.2 M162.2,506.4 L169.6,401.1 M30.9,470 L107.5,445.5 L163.8,483.9 M30.9,470 L29.6,470 M30.1,457.5 L107.6,433.7 L164.7,471 M30.1,457.5 L28.8,457.5 M29.2,444.7 L107.8,421.6 L165.6,457.8 M29.2,444.7 L27.9,444.7 M28.3,431.5 L107.9,409.2 L166.6,444.2 M28.3,431.5 L27,431.5 M27.4,418 L108.1,396.6 L167.6,430.2 M27.4,418 L26.1,418 M26.5,404.1 L108.2,383.6 L168.6,415.8 M26.5,404.1 L25.2,404.1 M25.6,389.9 L108.4,370.2 L169.6,401.1 M25.6,389.9 L24.3,389.9" fill="none" stroke="#3c3c3c" stroke-width="0.7"/>
<line x1="57.3" y1="410.3" x2="57.3" y2="422" stroke="#555" stroke-width="0.6"/>
<line x1="95.8" y1="399.4" x2="95.8" y2="412" stroke="#555" stroke-width="0.6"/>
<line x1="168.7" y1="391.3" x2="168.7" y2="400.7" stroke="#555" stroke-width="0.6"/>
<g stroke="#000" stroke-opacity="0.8" stroke-width="0.45" stroke-linejoin="round">
<polygon points="104.1,425.4 105.4,422.2 106.8,419.3 108.6,418.5 110.4,417.7 109.1,420.6 107.8,423.7 105.9,424.5" fill="#0470c4"/>
<polygon points="100.5,427.1 101.8,424 103.1,421 104.9,420.1 106.8,419.3 105.4,422.2 104.1,425.4 102.3,426.2" fill="#056ec4"/>
<polygon points="106.8,419.3 108.1,416.6 109.4,414 111.3,413.2 113.1,412.4 111.8,415 110.4,417.7 108.6,418.5" fill="#0087c1"/>
<polygon points="96.8,429 98.1,425.8 99.3,422.8 101.2,421.9 103.1,421 101.8,424 100.5,427.1 98.6,428" fill="#056bc4"/>
<polygon points="103.1,421 104.4,418.2 105.7,415.7 107.6,414.8 109.4,414 108.1,416.6 106.8,419.3 104.9,420.1" fill="#0085c2"/>
<polygon points="109.4,414 110.8,411.7 112.2,409.6 114,408.8 115.9,408 114.5,410.1 113.1,412.4 111.3,413.2" fill="#009abc"/>
<polygon points="93.1,430.9 94.3,427.7 95.6,424.6 97.5,423.7 99.3,422.8 98.1,425.8 96.8,429 94.9,429.9" fill="#0668c4"/>
<polygon points="99.3,422.8 100.6,420 101.9,417.4 103.8,416.5 105.7,415.7 104.4,418.2 103.1,421 101.2,421.9" fill="#0083c2"/>
<polygon points="105.7,415.7 107.1,413.3 108.4,411.2 110.3,410.4 112.2,409.6 110.8,411.7 109.4,414 107.6,414.8" fill="#0098bd"/>
<polygon points="89.4,432.9 90.6,429.6 91.8,426.6 93.7,425.6 95.6,424.6 94.3,427.7 93.1,430.9 91.2,431.9" fill="#0766c4"/>
<polygon points="112.2,409.6 113.6,407.7 115,406 116.9,405.2 118.7,404.5 117.3,406.2 115.9,408 114,408.8" fill="#00a9b8"/>
<polygon points="95.6,424.6 96.9,421.8 98.2,419.2 100.1,418.3 101.9,417.4 100.6,420 99.3,422.8 97.5,423.7" fill="#0081c2"/>
<polygon points="101.9,417.4 103.3,415 104.6,412.8 106.5,412 108.4,411.2 107.1,413.3 105.7,415.7 103.8,416.5" fill="#0096bd"/>
<polygon points="85.6,434.9 86.8,431.6 88,428.5 89.9,427.5 91.8,426.6 90.6,429.6 89.4,432.9 87.5,433.9" fill="#0763c4"/>
<polygon points="108.4,411.2 109.8,409.2 111.2,407.5 113.1,406.8 115,406 113.6,407.7 112.2,409.6 110.3,410.4" fill="#00a8b8"/>
<polygon points="91.8,426.6 93.1,423.7 94.4,421 96.3,420.1 98.2,419.2 96.9,421.8 95.6,424.6 93.7,425.6" fill="#007ec3"/>
<polygon points="115,406 116.4,404.5 117.8,403.3 119.7,402.6 121.6,401.9 120.2,403.1 118.7,404.5 116.9,405.2" fill="#00aba0"/>
<polygon points="98.2,419.2 99.5,416.8 100.8,414.6 102.7,413.7 104.6,412.8 103.3,415 101.9,417.4 100.1,418.3" fill="#0094bd"/>
<polygon points="81.8,437 83,433.6 84.2,430.5 86.1,429.5 88,428.5 86.8,431.6 85.6,434.9 83.7,435.9" fill="#0860c4"/>
<polygon points="104.6,412.8 106,410.9 107.3,409.1 109.3,408.3 111.2,407.5 109.8,409.2 108.4,411.2 106.5,412" fill="#00a6b8"/>
<polygon points="88,428.5 89.3,425.6 90.5,422.9 92.4,422 94.4,421 93.1,423.7 91.8,426.6 89.9,427.5" fill="#017cc3"/>
<polygon points="111.2,407.5 112.6,406.1 114,404.8 115.9,404 117.8,403.3 116.4,404.5 115,406 113.1,406.8" fill="#00aba2"/>
<polygon points="94.4,421 95.6,418.6 96.9,416.4 98.9,415.5 100.8,414.6 99.5,416.8 98.2,419.2 96.3,420.1" fill="#0092be"/>
<polygon points="78,439.1 79.2,435.7 80.4,432.5 82.3,431.5 84.2,430.5 83,433.6 81.8,437 79.9,438" fill="#095dc4"/>
<polygon points="117.8,403.3 119.2,402.3 120.7,401.5 122.6,400.8 124.5,400.1 123,400.9 121.6,401.9 119.7,402.6" fill="#00ac8e"/>
<polygon points="100.8,414.6 102.1,412.6 103.5,410.8 105.4,410 107.3,409.1 106,410.9 104.6,412.8 102.7,413.7" fill="#00a4b9"/>
<polygon points="84.2,430.5 85.4,427.6 86.7,424.8 88.6,423.9 90.5,422.9 89.3,425.6 88,428.5 86.1,429.5" fill="#0179c3"/>
<polygon points="107.3,409.1 108.7,407.6 110.1,406.3 112,405.6 114,404.8 112.6,406.1 111.2,407.5 109.3,408.3" fill="#00aaa4"/>
<polygon points="90.5,422.9 91.8,420.4 93.1,418.2 95,417.3 96.9,416.4 95.6,418.6 94.4,421 92.4,422" fill="#0090be"/>
<polygon points="74.2,441.2 75.4,437.8 76.5,434.6 78.4,433.6 80.4,432.5 79.2,435.7 78,439.1 76.1,440.1" fill="#0a5ac4"/>
<polygon points="114,404.8 115.4,403.8 116.8,403 118.7,402.2 120.7,401.5 119.2,402.3 117.8,403.3 115.9,404" fill="#00ac8f"/>
<polygon points="96.9,416.4 98.3,414.3 99.6,412.5 101.5,411.7 103.5,410.8 102.1,412.6 100.8,414.6 98.9,415.5" fill="#00a2b9"/>
<polygon points="80.4,432.5 81.6,429.6 82.8,426.8 84.7,425.8 86.7,424.8 85.4,427.6 84.2,430.5 82.3,431.5" fill="#0276c3"/>
<polygon points="120.7,401.5 122.1,401 123.6,400.7 125.5,400 127.4,399.4 125.9,399.6 124.5,400.1 122.6,400.8" fill="#d5f20b"/>
<polygon points="103.5,410.8 104.9,409.3 106.2,407.9 108.2,407.1 110.1,406.3 108.7,407.6 107.3,409.1 105.4,410" fill="#00aaa7"/>
<polygon points="86.7,424.8 87.9,422.3 89.2,420 91.1,419.1 93.1,418.2 91.8,420.4 90.5,422.9 88.6,423.9" fill="#008ebf"/>
<polygon points="70.4,443.3 71.5,439.9 72.6,436.6 74.6,435.6 76.5,434.6 75.4,437.8 74.2,441.2 72.3,442.3" fill="#0b56c4"/>
<polygon points="110.1,406.3 111.5,405.3 112.9,404.4 114.9,403.7 116.8,403 115.4,403.8 114,404.8 112,405.6" fill="#00ab91"/>
<polygon points="93.1,418.2 94.4,416.1 95.7,414.2 97.6,413.4 99.6,412.5 98.3,414.3 96.9,416.4 95,417.3" fill="#00a1b9"/>
<polygon points="76.5,434.6 77.7,431.6 78.8,428.7 80.8,427.8 82.8,426.8 81.6,429.6 80.4,432.5 78.4,433.6" fill="#0374c3"/>
<polygon points="116.8,403 118.2,402.4 119.7,402.1 121.6,401.4 123.6,400.7 122.1,401 120.7,401.5 118.7,402.2" fill="#d2f30c"/>
<polygon points="99.6,412.5 101,410.9 102.3,409.6 104.3,408.7 106.2,407.9 104.9,409.3 103.5,410.8 101.5,411.7" fill="#00a9aa"/>
<polygon points="82.8,426.8 84,424.2 85.2,421.8 87.2,420.9 89.2,420 87.9,422.3 86.7,424.8 84.7,425.8" fill="#008cbf"/>
<polygon points="66.5,445.5 67.6,442 68.7,438.7 70.6,437.7 72.6,436.6 71.5,439.9 70.4,443.3 68.5,444.4" fill="#0c53c4"/>
<polygon points="123.6,400.7 125,400.6 126.5,400.8 128.4,400.2 130.3,399.6 128.9,399.3 127.4,399.4 125.5,400" fill="#e7f106"/>
<polygon points="106.2,407.9 107.6,406.8 109,406 111,405.2 112.9,404.4 111.5,405.3 110.1,406.3 108.2,407.1" fill="#00ab93"/>
<polygon points="89.2,420 90.4,417.9 91.7,416 93.7,415.1 95.7,414.2 94.4,416.1 93.1,418.2 91.1,419.1" fill="#009fba"/>
<polygon points="72.6,436.6 73.7,433.6 74.9,430.7 76.9,429.7 78.8,428.7 77.7,431.6 76.5,434.6 74.6,435.6" fill="#0471c3"/>
<polygon points="112.9,404.4 114.4,403.9 115.8,403.5 117.7,402.8 119.7,402.1 118.2,402.4 116.8,403 114.9,403.7" fill="#cef30d"/>
<polygon points="95.7,414.2 97,412.6 98.4,411.2 100.3,410.4 102.3,409.6 101,410.9 99.6,412.5 97.6,413.4" fill="#00a9ac"/>
<polygon points="78.8,428.7 80.1,426.1 81.3,423.7 83.3,422.8 85.2,421.8 84,424.2 82.8,426.8 80.8,427.8" fill="#0089c0"/>
<polygon points="62.6,447.6 63.7,444.1 64.7,440.7 66.7,439.7 68.7,438.7 67.6,442 66.5,445.5 64.6,446.6" fill="#0c50c5"/>
<polygon points="119.7,402.1 121.1,402 122.6,402.1 124.5,401.5 126.5,400.8 125,400.6 123.6,400.7 121.6,401.4" fill="#e5f107"/>
<polygon points="102.3,409.6 103.7,408.4 105.1,407.5 107.1,406.7 109,406 107.6,406.8 106.2,407.9 104.3,408.7" fill="#00ab96"/>
<polygon points="85.2,421.8 86.5,419.7 87.8,417.7 89.8,416.9 91.7,416 90.4,417.9 89.2,420 87.2,420.9" fill="#009dba"/>
<polygon points="68.7,438.7 69.8,435.6 70.9,432.6 72.9,431.7 74.9,430.7 73.7,433.6 72.6,436.6 70.6,437.7" fill="#046ec3"/>
<polygon points="126.5,400.8 128,401.3 129.4,401.9 131.4,401.3 133.3,400.7 131.8,400 130.3,399.6 128.4,400.2" fill="#f0f004"/>
<polygon points="109,406 110.4,405.3 111.9,404.9 113.8,404.2 115.8,403.5 114.4,403.9 112.9,404.4 111,405.2" fill="#cbf40e"/>
<polygon points="91.7,416 93.1,414.3 94.4,412.9 96.4,412 98.4,411.2 97,412.6 95.7,414.2 93.7,415.1" fill="#00a9af"/>
<polygon points="74.9,430.7 76.1,428 77.3,425.6 79.3,424.6 81.3,423.7 80.1,426.1 78.8,428.7 76.9,429.7" fill="#0087c0"/>
<polygon points="58.7,449.8 59.7,446.2 60.8,442.7 62.7,441.7 64.7,440.7 63.7,444.1 62.6,447.6 60.7,448.7" fill="#0d4dc5"/>
<polygon points="115.8,403.5 117.2,403.4 118.7,403.5 120.6,402.8 122.6,402.1 121.1,402 119.7,402.1 117.7,402.8" fill="#e2f208"/>
<polygon points="98.4,411.2 99.7,410 101.1,409.1 103.1,408.3 105.1,407.5 103.7,408.4 102.3,409.6 100.3,410.4" fill="#00ab98"/>
<polygon points="81.3,423.7 82.5,421.5 83.8,419.5 85.8,418.6 87.8,417.7 86.5,419.7 85.2,421.8 83.3,422.8" fill="#009bbb"/>
<polygon points="64.7,440.7 65.8,437.5 66.9,434.6 68.9,433.6 70.9,432.6 69.8,435.6 68.7,438.7 66.7,439.7" fill="#056cc4"/>
<polygon points="122.6,402.1 124.1,402.5 125.5,403.2 127.5,402.6 129.4,401.9 128,401.3 126.5,400.8 124.5,401.5" fill="#eef004"/>
<polygon points="105.1,407.5 106.5,406.8 107.9,406.4 109.9,405.7 111.9,404.9 110.4,405.3 109,406 107.1,406.7" fill="#c7f40f"/>
<polygon points="87.8,417.7 89.1,416 90.4,414.5 92.4,413.7 94.4,412.9 93.1,414.3 91.7,416 89.8,416.9" fill="#00a9b2"/>
<polygon points="70.9,432.6 72.1,429.9 73.3,427.4 75.3,426.5 77.3,425.6 76.1,428 74.9,430.7 72.9,431.7" fill="#0085c1"/>
<polygon points="54.8,451.9 55.7,448.2 56.8,444.7 58.8,443.7 60.8,442.7 59.7,446.2 58.7,449.8 56.7,450.8" fill="#0e4bc5"/>
<polygon points="129.4,401.9 130.9,402.9 132.4,404 134.3,403.4 136.2,402.8 134.8,401.7 133.3,400.7 131.4,401.3" fill="#f0f004"/>
<polygon points="111.9,404.9 113.3,404.8 114.7,404.9 116.7,404.2 118.7,403.5 117.2,403.4 115.8,403.5 113.8,404.2" fill="#dff208"/>
<polygon points="94.4,412.9 95.7,411.6 97.1,410.7 99.1,409.9 101.1,409.1 99.7,410 98.4,411.2 96.4,412" fill="#00aa9a"/>
<polygon points="77.3,425.6 78.5,423.3 79.8,421.2 81.8,420.4 83.8,419.5 82.5,421.5 81.3,423.7 79.3,424.6" fill="#0099bc"/>
<polygon points="60.8,442.7 61.8,439.5 62.9,436.5 64.9,435.5 66.9,434.6 65.8,437.5 64.7,440.7 62.7,441.7" fill="#0669c4"/>
<polygon points="118.7,403.5 120.1,403.9 121.6,404.5 123.6,403.8 125.5,403.2 124.1,402.5 122.6,402.1 120.6,402.8" fill="#ecf105"/>
<polygon points="101.1,409.1 102.5,408.4 103.9,407.9 105.9,407.2 107.9,406.4 106.5,406.8 105.1,407.5 103.1,408.3" fill="#00ab88"/>
<polygon points="83.8,419.5 85.1,417.7 86.4,416.2 88.4,415.4 90.4,414.5 89.1,416 87.8,417.7 85.8,418.6" fill="#00a8b5"/>
<polygon points="66.9,434.6 68.1,431.8 69.2,429.2 71.3,428.3 73.3,427.4 72.1,429.9 70.9,432.6 68.9,433.6" fill="#0083c2"/>
<polygon points="50.8,453.9 51.7,450.2 52.7,446.7 54.7,445.7 56.8,444.7 55.7,448.2 54.8,451.9 52.8,452.9" fill="#0f48c5"/>
<polygon points="125.5,403.2 127,404.1 128.5,405.2 130.4,404.6 132.4,404 130.9,402.9 129.4,401.9 127.5,402.6" fill="#eff004"/>
<polygon points="107.9,406.4 109.3,406.2 110.7,406.3 112.7,405.6 114.7,404.9 113.3,404.8 111.9,404.9 109.9,405.7" fill="#dcf309"/>
<polygon points="90.4,414.5 91.7,413.3 93.1,412.2 95.1,411.4 97.1,410.7 95.7,411.6 94.4,412.9 92.4,413.7" fill="#00aa9d"/>
<polygon points="73.3,427.4 74.5,425.1 75.7,423 77.7,422.1 79.8,421.2 78.5,423.3 77.3,425.6 75.3,426.5" fill="#0098bc"/>
<polygon points="56.8,444.7 57.8,441.4 58.8,438.3 60.9,437.4 62.9,436.5 61.8,439.5 60.8,442.7 58.8,443.7" fill="#0667c4"/>
<polygon points="132.4,404 133.8,405.4 135.3,407.1 137.3,406.5 139.2,406 137.7,404.3 136.2,402.8 134.3,403.4" fill="#e5ef06"/>
<polygon points="114.7,404.9 116.2,405.2 117.6,405.8 119.6,405.1 121.6,404.5 120.1,403.9 118.7,403.5 116.7,404.2" fill="#eaf106"/>
<polygon points="97.1,410.7 98.5,409.9 99.9,409.4 101.9,408.6 103.9,407.9 102.5,408.4 101.1,409.1 99.1,409.9" fill="#00ab8a"/>
<polygon points="79.8,421.2 81,419.4 82.3,417.8 84.3,417 86.4,416.2 85.1,417.7 83.8,419.5 81.8,420.4" fill="#00a8b7"/>
<polygon points="62.9,436.5 64,433.6 65.1,431 67.2,430.1 69.2,429.2 68.1,431.8 66.9,434.6 64.9,435.5" fill="#0081c2"/>
<polygon points="46.8,455.9 47.7,452.2 48.7,448.5 50.7,447.6 52.7,446.7 51.7,450.2 50.8,453.9 48.8,454.9" fill="#1046c6"/>
<polygon points="121.6,404.5 123,405.3 124.5,406.4 126.5,405.8 128.5,405.2 127,404.1 125.5,403.2 123.6,403.8" fill="#edf005"/>
<polygon points="103.9,407.9 105.3,407.7 106.7,407.7 108.7,407 110.7,406.3 109.3,406.2 107.9,406.4 105.9,407.2" fill="#d9f30a"/>
<polygon points="86.4,416.2 87.7,414.9 89,413.8 91,413 93.1,412.2 91.7,413.3 90.4,414.5 88.4,415.4" fill="#00aa9f"/>
<polygon points="69.2,429.2 70.4,426.8 71.6,424.7 73.6,423.8 75.7,423 74.5,425.1 73.3,427.4 71.3,428.3" fill="#0096bd"/>
<polygon points="52.7,446.7 53.7,443.3 54.8,440.1 56.8,439.2 58.8,438.3 57.8,441.4 56.8,444.7 54.7,445.7" fill="#0765c5"/>
<polygon points="128.5,405.2 129.9,406.6 131.4,408.2 133.4,407.7 135.3,407.1 133.8,405.4 132.4,404 130.4,404.6" fill="#e5f006"/>
<polygon points="110.7,406.3 112.2,406.6 113.6,407.1 115.6,406.4 117.6,405.8 116.2,405.2 114.7,404.9 112.7,405.6" fill="#e8f106"/>
<polygon points="93.1,412.2 94.4,411.4 95.8,410.8 97.8,410.1 99.9,409.4 98.5,409.9 97.1,410.7 95.1,411.4" fill="#00ab8c"/>
<polygon points="75.7,423 76.9,421.1 78.2,419.4 80.2,418.6 82.3,417.8 81,419.4 79.8,421.2 77.7,422.1" fill="#00a7b8"/>
<polygon points="58.8,438.3 59.9,435.4 61,432.7 63.1,431.8 65.1,431 64,433.6 62.9,436.5 60.9,437.4" fill="#0080c3"/>
<polygon points="42.7,457.9 43.6,454.1 44.6,450.4 46.6,449.5 48.7,448.5 47.7,452.2 46.8,455.9 44.8,456.9" fill="#1044c6"/>
<polygon points="135.3,407.1 136.8,409 138.2,411.1 140.2,410.6 142.1,410.1 140.7,407.9 139.2,406 137.3,406.5" fill="#d2ef0b"/>
<polygon points="117.6,405.8 119.1,406.6 120.5,407.7 122.5,407.1 124.5,406.4 123,405.3 121.6,404.5 119.6,405.1" fill="#ecf105"/>
<polygon points="99.9,409.4 101.3,409.1 102.7,409 104.7,408.4 106.7,407.7 105.3,407.7 103.9,407.9 101.9,408.6" fill="#d6f30b"/>
<polygon points="82.3,417.8 83.6,416.4 84.9,415.3 87,414.5 89,413.8 87.7,414.9 86.4,416.2 84.3,417" fill="#00aaa2"/>
<polygon points="65.1,431 66.3,428.5 67.5,426.3 69.5,425.5 71.6,424.7 70.4,426.8 69.2,429.2 67.2,430.1" fill="#0095be"/>
<polygon points="48.7,448.5 49.6,445.1 50.6,441.9 52.7,441 54.8,440.1 53.7,443.3 52.7,446.7 50.7,447.6" fill="#0863c5"/>
<polygon points="124.5,406.4 126,407.8 127.4,409.4 129.4,408.8 131.4,408.2 129.9,406.6 128.5,405.2 126.5,405.8" fill="#e5f007"/>
<polygon points="106.7,407.7 108.1,407.9 109.6,408.4 111.6,407.8 113.6,407.1 112.2,406.6 110.7,406.3 108.7,407" fill="#e6f107"/>
<polygon points="89,413.8 90.3,412.9 91.7,412.3 93.8,411.6 95.8,410.8 94.4,411.4 93.1,412.2 91,413" fill="#00ab8e"/>
<polygon points="71.6,424.7 72.8,422.7 74.1,421 76.1,420.2 78.2,419.4 76.9,421.1 75.7,423 73.6,423.8" fill="#00a6b9"/>
<polygon points="54.8,440.1 55.8,437.1 56.9,434.4 59,433.5 61,432.7 59.9,435.4 58.8,438.3 56.8,439.2" fill="#007ec4"/>
<polygon points="38.7,459.8 39.5,455.9 40.4,452.1 42.5,451.3 44.6,450.4 43.6,454.1 42.7,457.9 40.7,458.9" fill="#1142c6"/>
<polygon points="131.4,408.2 132.9,410.1 134.3,412.2 136.3,411.7 138.2,411.1 136.8,409 135.3,407.1 133.4,407.7" fill="#d2ef0b"/>
<polygon points="113.6,407.1 115.1,407.9 116.5,408.9 118.5,408.3 120.5,407.7 119.1,406.6 117.6,405.8 115.6,406.4" fill="#ebf105"/>
<polygon points="95.8,410.8 97.2,410.5 98.6,410.4 100.6,409.7 102.7,409 101.3,409.1 99.9,409.4 97.8,410.1" fill="#d3f30c"/>
<polygon points="78.2,419.4 79.5,418 80.8,416.8 82.8,416 84.9,415.3 83.6,416.4 82.3,417.8 80.2,418.6" fill="#00aaa4"/>
<polygon points="61,432.7 62.2,430.2 63.3,427.9 65.4,427.1 67.5,426.3 66.3,428.5 65.1,431 63.1,431.8" fill="#0094be"/>
<polygon points="44.6,450.4 45.5,446.9 46.5,443.5 48.6,442.7 50.6,441.9 49.6,445.1 48.7,448.5 46.6,449.5" fill="#0861c5"/>
<polygon points="138.2,411.1 139.7,413.5 141.2,416.2 143.1,415.6 145.1,415.1 143.6,412.5 142.1,410.1 140.2,410.6" fill="#b6f011"/>
<polygon points="120.5,407.7 122,409 123.5,410.6 125.5,410 127.4,409.4 126,407.8 124.5,406.4 122.5,407.1" fill="#e4f007"/>
<polygon points="102.7,409 104.1,409.2 105.5,409.7 107.5,409.1 109.6,408.4 108.1,407.9 106.7,407.7 104.7,408.4" fill="#e4f207"/>
<polygon points="84.9,415.3 86.2,414.4 87.6,413.7 89.6,413 91.7,412.3 90.3,412.9 89,413.8 87,414.5" fill="#00ab90"/>
<polygon points="67.5,426.3 68.7,424.3 69.9,422.5 72,421.7 74.1,421 72.8,422.7 71.6,424.7 69.5,425.5" fill="#00a5b9"/>
<polygon points="50.6,441.9 51.7,438.8 52.7,436 54.8,435.2 56.9,434.4 55.8,437.1 54.8,440.1 52.7,441" fill="#007dc4"/>
<polygon points="34.6,461.6 35.4,457.6 36.3,453.8 38.3,453 40.4,452.1 39.5,455.9 38.7,459.8 36.6,460.7" fill="#1240c7"/>
<polygon points="127.4,409.4 128.9,411.2 130.4,413.3 132.4,412.8 134.3,412.2 132.9,410.1 131.4,408.2 129.4,408.8" fill="#d2ef0b"/>
<polygon points="109.6,408.4 111,409.1 112.5,410.1 114.5,409.5 116.5,408.9 115.1,407.9 113.6,407.1 111.6,407.8" fill="#e9f106"/>
<polygon points="91.7,412.3 93.1,411.9 94.5,411.7 96.5,411.1 98.6,410.4 97.2,410.5 95.8,410.8 93.8,411.6" fill="#d0f30c"/>
<polygon points="74.1,421 75.3,419.5 76.6,418.2 78.7,417.5 80.8,416.8 79.5,418 78.2,419.4 76.1,420.2" fill="#00aba6"/>
<polygon points="56.9,434.4 58,431.8 59.1,429.4 61.2,428.7 63.3,427.9 62.2,430.2 61,432.7 59,433.5" fill="#0093bf"/>
<polygon points="40.4,452.1 41.3,448.5 42.3,445.1 44.4,444.4 46.5,443.5 45.5,446.9 44.6,450.4 42.5,451.3" fill="#0860c6"/>
<polygon points="134.3,412.2 135.8,414.6 137.3,417.2 139.2,416.7 141.2,416.2 139.7,413.5 138.2,411.1 136.3,411.7" fill="#b7f011"/>
<polygon points="116.5,408.9 118,410.2 119.4,411.7 121.5,411.1 123.5,410.6 122,409 120.5,407.7 118.5,408.3" fill="#e4f007"/>
<polygon points="98.6,410.4 100,410.6 101.4,411 103.5,410.3 105.5,409.7 104.1,409.2 102.7,409 100.6,409.7" fill="#e2f208"/>
<polygon points="80.8,416.8 82.1,415.8 83.4,415 85.5,414.4 87.6,413.7 86.2,414.4 84.9,415.3 82.8,416" fill="#00ac92"/>
<polygon points="63.3,427.9 64.5,425.8 65.7,423.9 67.8,423.2 69.9,422.5 68.7,424.3 67.5,426.3 65.4,427.1" fill="#00a4ba"/>
<polygon points="46.5,443.5 47.5,440.4 48.5,437.5 50.6,436.7 52.7,436 51.7,438.8 50.6,441.9 48.6,442.7" fill="#017cc4"/>
<polygon points="30.4,463.4 31.2,459.3 32,455.4 34.2,454.6 36.3,453.8 35.4,457.6 34.6,461.6 32.5,462.5" fill="#133fc7"/>
<polygon points="141.2,416.2 142.6,419 144.1,422.1 146,421.7 147.9,421.2 146.5,418 145.1,415.1 143.1,415.6" fill="#7cea18"/>
<polygon points="123.5,410.6 124.9,412.4 126.4,414.4 128.4,413.9 130.4,413.3 128.9,411.2 127.4,409.4 125.5,410" fill="#d3f00b"/>
<polygon points="105.5,409.7 106.9,410.4 108.4,411.3 110.4,410.7 112.5,410.1 111,409.1 109.6,408.4 107.5,409.1" fill="#e8f106"/>
<polygon points="87.6,413.7 88.9,413.2 90.3,413 92.4,412.4 94.5,411.7 93.1,411.9 91.7,412.3 89.6,413" fill="#cef30d"/>
<polygon points="69.9,422.5 71.1,420.9 72.4,419.6 74.5,418.9 76.6,418.2 75.3,419.5 74.1,421 72,421.7" fill="#00aba7"/>
<polygon points="52.7,436 53.8,433.3 54.9,430.8 57,430.1 59.1,429.4 58,431.8 56.9,434.4 54.8,435.2" fill="#0092c0"/>
<polygon points="36.3,453.8 37.1,450.1 38,446.6 40.2,445.9 42.3,445.1 41.3,448.5 40.4,452.1 38.3,453" fill="#095fc6"/>
<polygon points="130.4,413.3 131.8,415.7 133.3,418.2 135.3,417.7 137.3,417.2 135.8,414.6 134.3,412.2 132.4,412.8" fill="#b8f011"/>
<polygon points="112.5,410.1 113.9,411.4 115.4,412.8 117.4,412.3 119.4,411.7 118,410.2 116.5,408.9 114.5,409.5" fill="#e3f007"/>
<polygon points="94.5,411.7 95.9,411.8 97.3,412.2 99.3,411.6 101.4,411 100,410.6 98.6,410.4 96.5,411.1" fill="#e1f208"/>
<polygon points="76.6,418.2 77.9,417.2 79.2,416.3 81.3,415.7 83.4,415 82.1,415.8 80.8,416.8 78.7,417.5" fill="#00ac93"/>
<polygon points="59.1,429.4 60.3,427.2 61.4,425.3 63.6,424.6 65.7,423.9 64.5,425.8 63.3,427.9 61.2,428.7" fill="#00a4bb"/>
<polygon points="42.3,445.1 43.2,441.9 44.2,438.9 46.4,438.2 48.5,437.5 47.5,440.4 46.5,443.5 44.4,444.4" fill="#017bc5"/>
<polygon points="137.3,417.2 138.7,420 140.2,423.1 142.1,422.6 144.1,422.1 142.6,419 141.2,416.2 139.2,416.7" fill="#7fea18"/>
<polygon points="119.4,411.7 120.9,413.5 122.4,415.5 124.4,415 126.4,414.4 124.9,412.4 123.5,410.6 121.5,411.1" fill="#d3f00b"/>
<polygon points="101.4,411 102.8,411.6 104.3,412.5 106.3,411.9 108.4,411.3 106.9,410.4 105.5,409.7 103.5,410.3" fill="#e8f106"/>
<polygon points="83.4,415 84.7,414.5 86.1,414.3 88.2,413.7 90.3,413 88.9,413.2 87.6,413.7 85.5,414.4" fill="#ccf30d"/>
<polygon points="65.7,423.9 66.9,422.3 68.1,420.9 70.3,420.2 72.4,419.6 71.1,420.9 69.9,422.5 67.8,423.2" fill="#00aba9"/>
<polygon points="48.5,437.5 49.5,434.7 50.6,432.2 52.8,431.5 54.9,430.8 53.8,433.3 52.7,436 50.6,436.7" fill="#0092c0"/>
<polygon points="32,455.4 32.9,451.6 33.8,448 35.9,447.3 38,446.6 37.1,450.1 36.3,453.8 34.2,454.6" fill="#095ec7"/>
<polygon points="144.1,422.1 145.5,425.5 146.9,429.1 148.9,428.6 150.8,428.1 149.4,424.5 147.9,421.2 146,421.7" fill="#2fe11f"/>
<polygon points="126.4,414.4 127.9,416.7 129.3,419.3 131.3,418.8 133.3,418.2 131.8,415.7 130.4,413.3 128.4,413.9" fill="#b9f011"/>
<polygon points="108.4,411.3 109.8,412.5 111.3,413.9 113.3,413.4 115.4,412.8 113.9,411.4 112.5,410.1 110.4,410.7" fill="#e3f007"/>
<polygon points="90.3,413 91.7,413.1 93.1,413.3 95.2,412.8 97.3,412.2 95.9,411.8 94.5,411.7 92.4,412.4" fill="#e0f208"/>
<polygon points="72.4,419.6 73.7,418.5 75,417.6 77.1,417 79.2,416.3 77.9,417.2 76.6,418.2 74.5,418.9" fill="#00ac94"/>
<polygon points="54.9,430.8 56,428.6 57.2,426.6 59.3,426 61.4,425.3 60.3,427.2 59.1,429.4 57,430.1" fill="#00a4bb"/>
<polygon points="38,446.6 39,443.3 39.9,440.2 42.1,439.6 44.2,438.9 43.2,441.9 42.3,445.1 40.2,445.9" fill="#017bc5"/>
<polygon points="133.3,418.2 134.8,421.1 136.2,424.1 138.2,423.6 140.2,423.1 138.7,420 137.3,417.2 135.3,417.7" fill="#82eb17"/>
<polygon points="115.4,412.8 116.8,414.6 118.3,416.5 120.3,416 122.4,415.5 120.9,413.5 119.4,411.7 117.4,412.3" fill="#d4f00b"/>
<polygon points="97.3,412.2 98.7,412.8 100.1,413.6 102.2,413 104.3,412.5 102.8,411.6 101.4,411 99.3,411.6" fill="#e7f106"/>
<polygon points="79.2,416.3 80.5,415.8 81.9,415.4 84,414.9 86.1,414.3 84.7,414.5 83.4,415 81.3,415.7" fill="#00ad85"/>
<polygon points="61.4,425.3 62.6,423.6 63.8,422.1 66,421.5 68.1,420.9 66.9,422.3 65.7,423.9 63.6,424.6" fill="#00acaa"/>
<polygon points="44.2,438.9 45.2,436.1 46.3,433.5 48.5,432.8 50.6,432.2 49.5,434.7 48.5,437.5 46.4,438.2" fill="#0092c1"/>
<polygon points="140.2,423.1 141.6,426.5 143,430 145,429.5 146.9,429.1 145.5,425.5 144.1,422.1 142.1,422.6" fill="#33e11f"/>
<polygon points="122.4,415.5 123.8,417.8 125.3,420.3 127.3,419.8 129.3,419.3 127.9,416.7 126.4,414.4 124.4,415" fill="#baf010"/>
<polygon points="104.3,412.5 105.7,413.6 107.2,415 109.2,414.5 111.3,413.9 109.8,412.5 108.4,411.3 106.3,411.9" fill="#e4f007"/>
<polygon points="86.1,414.3 87.5,414.2 88.9,414.5 91,413.9 93.1,413.3 91.7,413.1 90.3,413 88.2,413.7" fill="#dff108"/>
<polygon points="68.1,420.9 69.4,419.7 70.7,418.7 72.8,418.2 75,417.6 73.7,418.5 72.4,419.6 70.3,420.2" fill="#00ad95"/>
<polygon points="50.6,432.2 51.7,429.9 52.8,427.8 55,427.2 57.2,426.6 56,428.6 54.9,430.8 52.8,431.5" fill="#00a4bc"/>
<polygon points="33.8,448 34.7,444.6 35.6,441.4 37.8,440.8 39.9,440.2 39,443.3 38,446.6 35.9,447.3" fill="#017bc6"/>
<polygon points="146.9,429.1 148.4,432.9 149.8,436.9 151.7,436.5 153.6,436 152.2,432 150.8,428.1 148.9,428.6" fill="#0cdf5d"/>
<polygon points="129.3,419.3 130.8,422 132.2,425.1 134.2,424.6 136.2,424.1 134.8,421.1 133.3,418.2 131.3,418.8" fill="#86eb17"/>
<polygon points="111.3,413.9 112.7,415.6 114.2,417.6 116.3,417.1 118.3,416.5 116.8,414.6 115.4,412.8 113.3,413.4" fill="#d5f00a"/>
<polygon points="93.1,413.3 94.5,413.9 95.9,414.6 98,414.1 100.1,413.6 98.7,412.8 97.3,412.2 95.2,412.8" fill="#e7f106"/>
<polygon points="75,417.6 76.3,416.9 77.6,416.5 79.7,416 81.9,415.4 80.5,415.8 79.2,416.3 77.1,417" fill="#00ad85"/>
<polygon points="57.2,426.6 58.3,424.8 59.5,423.2 61.7,422.7 63.8,422.1 62.6,423.6 61.4,425.3 59.3,426" fill="#00acab"/>
<polygon points="39.9,440.2 40.9,437.3 41.9,434.6 44.1,434 46.3,433.5 45.2,436.1 44.2,438.9 42.1,439.6" fill="#0092c1"/>
<polygon points="136.2,424.1 137.7,427.4 139.1,430.9 141.1,430.5 143,430 141.6,426.5 140.2,423.1 138.2,423.6" fill="#37e21e"/>
<polygon points="118.3,416.5 119.8,418.8 121.2,421.2 123.3,420.7 125.3,420.3 123.8,417.8 122.4,415.5 120.3,416" fill="#bcf010"/>
<polygon points="100.1,413.6 101.5,414.7 103,416 105.1,415.5 107.2,415 105.7,413.6 104.3,412.5 102.2,413" fill="#e4f007"/>
<polygon points="81.9,415.4 83.2,415.3 84.6,415.5 86.7,415 88.9,414.5 87.5,414.2 86.1,414.3 84,414.9" fill="#dff108"/>
<polygon points="63.8,422.1 65.1,420.8 66.3,419.8 68.5,419.3 70.7,418.7 69.4,419.7 68.1,420.9 66,421.5" fill="#00ae96"/>
<polygon points="46.3,433.5 47.4,431 48.5,428.8 50.6,428.3 52.8,427.8 51.7,429.9 50.6,432.2 48.5,432.8" fill="#00a5bc"/>
<polygon points="143,430 144.5,433.8 145.9,437.8 147.8,437.4 149.8,436.9 148.4,432.9 146.9,429.1 145,429.5" fill="#0cdf58"/>
<polygon points="125.3,420.3 126.8,423 128.2,426 130.2,425.5 132.2,425.1 130.8,422 129.3,419.3 127.3,419.8" fill="#89eb17"/>
<polygon points="107.2,415 108.6,416.6 110.1,418.5 112.1,418 114.2,417.6 112.7,415.6 111.3,413.9 109.2,414.5" fill="#d6ef0a"/>
<polygon points="88.9,414.5 90.3,414.9 91.7,415.6 93.8,415.1 95.9,414.6 94.5,413.9 93.1,413.3 91,413.9" fill="#e8f006"/>
<polygon points="70.7,418.7 72,418 73.3,417.5 75.4,417 77.6,416.5 76.3,416.9 75,417.6 72.8,418.2" fill="#00ae86"/>
<polygon points="52.8,427.8 54,425.9 55.1,424.2 57.3,423.7 59.5,423.2 58.3,424.8 57.2,426.6 55,427.2" fill="#00adab"/>
<polygon points="35.6,441.4 36.5,438.4 37.5,435.6 39.7,435.1 41.9,434.6 40.9,437.3 39.9,440.2 37.8,440.8" fill="#0093c2"/>
<polygon points="149.8,436.9 151.2,441.2 152.6,445.7 154.5,445.2 156.4,444.8 155,440.3 153.6,436 151.7,436.5" fill="#00dcab"/>
<polygon points="132.2,425.1 133.7,428.3 135.1,431.8 137.1,431.4 139.1,430.9 137.7,427.4 136.2,424.1 134.2,424.6" fill="#3ce21e"/>
<polygon points="114.2,417.6 115.7,419.7 117.1,422.1 119.2,421.7 121.2,421.2 119.8,418.8 118.3,416.5 116.3,417.1" fill="#beef10"/>
<polygon points="95.9,414.6 97.3,415.7 98.8,416.9 100.9,416.5 103,416 101.5,414.7 100.1,413.6 98,414.1" fill="#e6f006"/>
<polygon points="77.6,416.5 78.9,416.4 80.3,416.4 82.5,416 84.6,415.5 83.2,415.3 81.9,415.4 79.7,416" fill="#dff008"/>
<polygon points="59.5,423.2 60.7,421.9 62,420.7 64.2,420.3 66.3,419.8 65.1,420.8 63.8,422.1 61.7,422.7" fill="#00ae96"/>
<polygon points="41.9,434.6 43,432.1 44,429.8 46.3,429.3 48.5,428.8 47.4,431 46.3,433.5 44.1,434" fill="#00a6bd"/>
<polygon points="139.1,430.9 140.5,434.7 142,438.7 143.9,438.3 145.9,437.8 144.5,433.8 143,430 141.1,430.5" fill="#0edf53"/>
<polygon points="121.2,421.2 122.7,423.9 124.2,426.9 126.2,426.4 128.2,426 126.8,423 125.3,420.3 123.3,420.7" fill="#8eec16"/>
<polygon points="103,416 104.4,417.6 105.9,419.4 108,419 110.1,418.5 108.6,416.6 107.2,415 105.1,415.5" fill="#d8ef09"/>
<polygon points="84.6,415.5 86,415.9 87.4,416.5 89.5,416.1 91.7,415.6 90.3,414.9 88.9,414.5 86.7,415" fill="#e9f006"/>
<polygon points="66.3,419.8 67.6,419 68.9,418.4 71.1,418 73.3,417.5 72,418 70.7,418.7 68.5,419.3" fill="#00af85"/>
<polygon points="48.5,428.8 49.6,426.9 50.7,425.1 52.9,424.7 55.1,424.2 54,425.9 52.8,427.8 50.6,428.3" fill="#00aeab"/>
<polygon points="145.9,437.8 147.3,442.1 148.7,446.5 150.6,446.1 152.6,445.7 151.2,441.2 149.8,436.9 147.8,437.4" fill="#00dda7"/>
<polygon points="128.2,426 129.7,429.2 131.1,432.7 133.1,432.3 135.1,431.8 133.7,428.3 132.2,425.1 130.2,425.5" fill="#41e31d"/>
<polygon points="110.1,418.5 111.5,420.6 113,423 115.1,422.6 117.1,422.1 115.7,419.7 114.2,417.6 112.1,418" fill="#c0ef0f"/>
<polygon points="91.7,415.6 93.1,416.6 94.5,417.8 96.7,417.4 98.8,416.9 97.3,415.7 95.9,414.6 93.8,415.1" fill="#e7ef06"/>
<polygon points="73.3,417.5 74.6,417.3 76,417.3 78.1,416.9 80.3,416.4 78.9,416.4 77.6,416.5 75.4,417" fill="#e0ef07"/>
<polygon points="55.1,424.2 56.3,422.8 57.6,421.6 59.8,421.2 62,420.7 60.7,421.9 59.5,423.2 57.3,423.7" fill="#00af95"/>
<polygon points="37.5,435.6 38.5,433 39.6,430.6 41.8,430.2 44,429.8 43,432.1 41.9,434.6 39.7,435.1" fill="#00a7be"/>
<polygon points="152.6,445.7 153.9,450.4 155.3,455.3 157.2,454.8 159.1,454.4 157.8,449.5 156.4,444.8 154.5,445.2" fill="#00cce4"/>
<polygon points="135.1,431.8 136.6,435.6 138,439.5 140,439.1 142,438.7 140.5,434.7 139.1,430.9 137.1,431.4" fill="#0fdf4e"/>
<polygon points="117.1,422.1 118.6,424.8 120.1,427.7 122.1,427.3 124.2,426.9 122.7,423.9 121.2,421.2 119.2,421.7" fill="#93ec16"/>
<polygon points="98.8,416.9 100.2,418.5 101.7,420.2 103.8,419.8 105.9,419.4 104.4,417.6 103,416 100.9,416.5" fill="#daef09"/>
<polygon points="80.3,416.4 81.7,416.8 83.1,417.3 85.2,416.9 87.4,416.5 86,415.9 84.6,415.5 82.5,416" fill="#ebef05"/>
<polygon points="62,420.7 63.2,419.8 64.5,419.2 66.7,418.8 68.9,418.4 67.6,419 66.3,419.8 64.2,420.3" fill="#00b085"/>
<polygon points="44,429.8 45.1,427.7 46.3,425.9 48.5,425.5 50.7,425.1 49.6,426.9 48.5,428.8 46.3,429.3" fill="#00afaa"/>
<polygon points="142,438.7 143.4,442.9 144.8,447.3 146.8,446.9 148.7,446.5 147.3,442.1 145.9,437.8 143.9,438.3" fill="#00dea4"/>
<polygon points="124.2,426.9 125.6,430.1 127.1,433.5 129.1,433.1 131.1,432.7 129.7,429.2 128.2,426 126.2,426.4" fill="#47e31d"/>
<polygon points="105.9,419.4 107.4,421.5 108.8,423.8 110.9,423.4 113,423 111.5,420.6 110.1,418.5 108,419" fill="#c3ef0e"/>
<polygon points="87.4,416.5 88.8,417.4 90.2,418.6 92.4,418.2 94.5,417.8 93.1,416.6 91.7,415.6 89.5,416.1" fill="#eaee05"/>
<polygon points="68.9,418.4 70.2,418.1 71.6,418 73.8,417.7 76,417.3 74.6,417.3 73.3,417.5 71.1,418" fill="#e3ee07"/>
<polygon points="50.7,425.1 51.9,423.6 53.1,422.3 55.3,421.9 57.6,421.6 56.3,422.8 55.1,424.2 52.9,424.7" fill="#00b094"/>
<polygon points="148.7,446.5 150.1,451.2 151.5,456.1 153.4,455.7 155.3,455.3 153.9,450.4 152.6,445.7 150.6,446.1" fill="#00cfe3"/>
<polygon points="131.1,432.7 132.6,436.4 134,440.3 136,439.9 138,439.5 136.6,435.6 135.1,431.8 133.1,432.3" fill="#10df47"/>
<polygon points="113,423 114.5,425.6 115.9,428.5 118,428.1 120.1,427.7 118.6,424.8 117.1,422.1 115.1,422.6" fill="#9aed15"/>
<polygon points="94.5,417.8 96,419.3 97.4,421 99.6,420.6 101.7,420.2 100.2,418.5 98.8,416.9 96.7,417.4" fill="#deee08"/>
<polygon points="76,417.3 77.3,417.5 78.7,418 80.9,417.7 83.1,417.3 81.7,416.8 80.3,416.4 78.1,416.9" fill="#eeee04"/>
<polygon points="57.6,421.6 58.8,420.6 60.1,419.9 62.3,419.5 64.5,419.2 63.2,419.8 62,420.7 59.8,421.2" fill="#00b184"/>
<polygon points="39.6,430.6 40.6,428.4 41.7,426.5 44,426.2 46.3,425.9 45.1,427.7 44,429.8 41.8,430.2" fill="#00b0a9"/>
<polygon points="155.3,455.3 156.6,460.4 158,465.7 159.9,465.3 161.8,464.9 160.4,459.6 159.1,454.4 157.2,454.8" fill="#009cea"/>
<polygon points="138,439.5 139.4,443.7 140.9,448.1 142.8,447.7 144.8,447.3 143.4,442.9 142,438.7 140,439.1" fill="#00de9f"/>
<polygon points="120.1,427.7 121.5,430.9 123,434.2 125,433.9 127.1,433.5 125.6,430.1 124.2,426.9 122.1,427.3" fill="#4ee41c"/>
<polygon points="101.7,420.2 103.1,422.2 104.6,424.5 106.7,424.2 108.8,423.8 107.4,421.5 105.9,419.4 103.8,419.8" fill="#c7ee0d"/>
<polygon points="83.1,417.3 84.5,418.2 85.9,419.2 88.1,418.9 90.2,418.6 88.8,417.4 87.4,416.5 85.2,416.9" fill="#eded04"/>
<polygon points="64.5,419.2 65.8,418.8 67.1,418.6 69.4,418.3 71.6,418 70.2,418.1 68.9,418.4 66.7,418.8" fill="#00b178"/>
<polygon points="46.3,425.9 47.4,424.2 48.6,422.8 50.8,422.6 53.1,422.3 51.9,423.6 50.7,425.1 48.5,425.5" fill="#00b293"/>
<polygon points="144.8,447.3 146.2,452 147.6,456.8 149.5,456.5 151.5,456.1 150.1,451.2 148.7,446.5 146.8,446.9" fill="#00d1e1"/>
<polygon points="127.1,433.5 128.5,437.2 130,441 132,440.7 134,440.3 132.6,436.4 131.1,432.7 129.1,433.1" fill="#11de41"/>
<polygon points="108.8,423.8 110.3,426.4 111.8,429.2 113.9,428.8 115.9,428.5 114.5,425.6 113,423 110.9,423.4" fill="#a1ed14"/>
<polygon points="90.2,418.6 91.7,419.9 93.1,421.6 95.3,421.3 97.4,421 96,419.3 94.5,417.8 92.4,418.2" fill="#e1ed07"/>
<polygon points="71.6,418 72.9,418.2 74.3,418.6 76.5,418.3 78.7,418 77.3,417.5 76,417.3 73.8,417.7" fill="#f1ec03"/>
<polygon points="53.1,422.3 54.3,421.2 55.6,420.4 57.8,420.1 60.1,419.9 58.8,420.6 57.6,421.6 55.3,421.9" fill="#00b382"/>
<polygon points="151.5,456.1 152.8,461.2 154.2,466.5 156.1,466.1 158,465.7 156.6,460.4 155.3,455.3 153.4,455.7" fill="#00a0ea"/>
<polygon points="134,440.3 135.5,444.5 136.9,448.8 138.9,448.5 140.9,448.1 139.4,443.7 138,439.5 136,439.9" fill="#00df9b"/>
<polygon points="115.9,428.5 117.4,431.6 118.9,434.9 120.9,434.6 123,434.2 121.5,430.9 120.1,427.7 118,428.1" fill="#57e51b"/>
<polygon points="97.4,421 98.9,422.9 100.3,425.1 102.5,424.8 104.6,424.5 103.1,422.2 101.7,420.2 99.6,420.6" fill="#cbed0c"/>
<polygon points="78.7,418 80.1,418.8 81.5,419.8 83.7,419.5 85.9,419.2 84.5,418.2 83.1,417.3 80.9,417.7" fill="#f1ec03"/>
<polygon points="60.1,419.9 61.3,419.4 62.6,419.1 64.9,418.9 67.1,418.6 65.8,418.8 64.5,419.2 62.3,419.5" fill="#00b276"/>
<polygon points="41.7,426.5 42.8,424.7 44,423.2 46.3,423 48.6,422.8 47.4,424.2 46.3,425.9 44,426.2" fill="#00b391"/>
<polygon points="158,465.7 159.3,471.2 160.6,476.9 162.5,476.5 164.3,476.1 163.1,470.4 161.8,464.9 159.9,465.3" fill="#0d65ea"/>
<polygon points="140.9,448.1 142.3,452.7 143.7,457.6 145.6,457.2 147.6,456.8 146.2,452 144.8,447.3 142.8,447.7" fill="#00d2dc"/>
<polygon points="123,434.2 124.5,437.9 125.9,441.7 128,441.4 130,441 128.5,437.2 127.1,433.5 125,433.9" fill="#13de39"/>
<polygon points="104.6,424.5 106.1,427 107.5,429.8 109.7,429.5 111.8,429.2 110.3,426.4 108.8,423.8 106.7,424.2" fill="#aaee14"/>
<polygon points="85.9,419.2 87.3,420.5 88.8,422.1 91,421.9 93.1,421.6 91.7,419.9 90.2,418.6 88.1,418.9" fill="#e6ec05"/>
<polygon points="67.1,418.6 68.5,418.7 69.8,419 72.1,418.8 74.3,418.6 72.9,418.2 71.6,418 69.4,418.3" fill="#f6eb01"/>
<polygon points="48.6,422.8 49.8,421.7 51,420.7 53.3,420.6 55.6,420.4 54.3,421.2 53.1,422.3 50.8,422.6" fill="#00b480"/>
<polygon points="147.6,456.8 148.9,461.9 150.3,467.2 152.2,466.8 154.2,466.5 152.8,461.2 151.5,456.1 149.5,456.5" fill="#00a3e9"/>
<polygon points="130,441 131.4,445.2 132.9,449.5 134.9,449.2 136.9,448.8 135.5,444.5 134,440.3 132,440.7" fill="#00e095"/>
<polygon points="111.8,429.2 113.2,432.2 114.7,435.5 116.8,435.2 118.9,434.9 117.4,431.6 115.9,428.5 113.9,428.8" fill="#60e51a"/>
<polygon points="93.1,421.6 94.6,423.5 96,425.6 98.2,425.4 100.3,425.1 98.9,422.9 97.4,421 95.3,421.3" fill="#d0ec0b"/>
<polygon points="74.3,418.6 75.7,419.3 77.1,420.2 79.3,420 81.5,419.8 80.1,418.8 78.7,418 76.5,418.3" fill="#f6eb01"/>
<polygon points="55.6,420.4 56.8,419.8 58.1,419.4 60.4,419.3 62.6,419.1 61.3,419.4 60.1,419.9 57.8,420.1" fill="#01b372"/>
<polygon points="154.2,466.5 155.5,471.9 156.8,477.6 158.7,477.3 160.6,476.9 159.3,471.2 158,465.7 156.1,466.1" fill="#0c69ea"/>
<polygon points="136.9,448.8 138.3,453.4 139.7,458.2 141.7,457.9 143.7,457.6 142.3,452.7 140.9,448.1 138.9,448.5" fill="#00d3d7"/>
<polygon points="118.9,434.9 120.3,438.5 121.8,442.3 123.9,442 125.9,441.7 124.5,437.9 123,434.2 120.9,434.6" fill="#15de30"/>
<polygon points="100.3,425.1 101.8,427.6 103.3,430.2 105.4,430 107.5,429.8 106.1,427 104.6,424.5 102.5,424.8" fill="#b1ee12"/>
<polygon points="81.5,419.8 82.9,421 84.4,422.5 86.6,422.3 88.8,422.1 87.3,420.5 85.9,419.2 83.7,419.5" fill="#eceb04"/>
<polygon points="62.6,419.1 64,419.1 65.3,419.3 67.6,419.2 69.8,419 68.5,418.7 67.1,418.6 64.9,418.9" fill="#fae700"/>
<polygon points="44,423.2 45.2,421.9 46.4,420.9 48.7,420.8 51,420.7 49.8,421.7 48.6,422.8 46.3,423" fill="#00b67d"/>
<polygon points="143.7,457.6 145,462.6 146.4,467.9 148.4,467.5 150.3,467.2 148.9,461.9 147.6,456.8 145.6,457.2" fill="#00a7e8"/>
<polygon points="125.9,441.7 127.4,445.8 128.8,450.1 130.8,449.8 132.9,449.5 131.4,445.2 130,441 128,441.4" fill="#02e08c"/>
<polygon points="107.5,429.8 109,432.8 110.5,436 112.6,435.8 114.7,435.5 113.2,432.2 111.8,429.2 109.7,429.5" fill="#6be619"/>
<polygon points="88.8,422.1 90.2,423.9 91.7,426 93.9,425.8 96,425.6 94.6,423.5 93.1,421.6 91,421.9" fill="#d6eb09"/>
<polygon points="69.8,419 71.2,419.6 72.6,420.4 74.8,420.3 77.1,420.2 75.7,419.3 74.3,418.6 72.1,418.8" fill="#fae600"/>
<polygon points="51,420.7 52.2,420 53.5,419.6 55.8,419.5 58.1,419.4 56.8,419.8 55.6,420.4 53.3,420.6" fill="#02b46d"/>
<polygon points="150.3,467.2 151.6,472.7 153,478.3 154.9,478 156.8,477.6 155.5,471.9 154.2,466.5 152.2,466.8" fill="#0b6eea"/>
<polygon points="132.9,449.5 134.3,454.1 135.7,458.8 137.7,458.5 139.7,458.2 138.3,453.4 136.9,448.8 134.9,449.2" fill="#00d4d0"/>
<polygon points="114.7,435.5 116.2,439 117.6,442.8 119.7,442.5 121.8,442.3 120.3,438.5 118.9,434.9 116.8,435.2" fill="#17dd25"/>
<polygon points="96,425.6 97.5,428 99,430.6 101.1,430.5 103.3,430.2 101.8,427.6 100.3,425.1 98.2,425.4" fill="#b7ed10"/>
<polygon points="77.1,420.2 78.5,421.3 79.9,422.7 82.2,422.6 84.4,422.5 82.9,421 81.5,419.8 79.3,420" fill="#f2e902"/>
<polygon points="58.1,419.4 59.4,419.3 60.7,419.5 63,419.4 65.3,419.3 64,419.1 62.6,419.1 60.4,419.3" fill="#f9dc00"/>
<polygon points="139.7,458.2 141.1,463.2 142.5,468.5 144.5,468.2 146.4,467.9 145,462.6 143.7,457.6 141.7,457.9" fill="#00abe8"/>
<polygon points="121.8,442.3 123.3,446.3 124.7,450.6 126.8,450.3 128.8,450.1 127.4,445.8 125.9,441.7 123.9,442" fill="#04df81"/>
<polygon points="103.3,430.2 104.8,433.2 106.2,436.4 108.4,436.2 110.5,436 109,432.8 107.5,429.8 105.4,430" fill="#78e718"/>
<polygon points="84.4,422.5 85.8,424.2 87.3,426.2 89.5,426.1 91.7,426 90.2,423.9 88.8,422.1 86.6,422.3" fill="#ddea07"/>
<polygon points="65.3,419.3 66.7,419.8 68.1,420.5 70.3,420.5 72.6,420.4 71.2,419.6 69.8,419 67.6,419.2" fill="#f9db00"/>
<polygon points="46.4,420.9 47.6,420.1 48.8,419.5 51.2,419.6 53.5,419.6 52.2,420 51,420.7 48.7,420.8" fill="#04b566"/>
<polygon points="146.4,467.9 147.8,473.3 149.1,478.9 151.1,478.6 153,478.3 151.6,472.7 150.3,467.2 148.4,467.5" fill="#0a72ea"/>
<polygon points="128.8,450.1 130.2,454.6 131.7,459.3 133.7,459.1 135.7,458.8 134.3,454.1 132.9,449.5 130.8,449.8" fill="#00d5ca"/>
<polygon points="110.5,436 112,439.5 113.4,443.2 115.6,443 117.6,442.8 116.2,439 114.7,435.5 112.6,435.8" fill="#20de20"/>
<polygon points="91.7,426 93.1,428.3 94.6,430.9 96.8,430.8 99,430.6 97.5,428 96,425.6 93.9,425.8" fill="#bfeb0e"/>
<polygon points="72.6,420.4 74,421.5 75.4,422.8 77.7,422.8 79.9,422.7 78.5,421.3 77.1,420.2 74.8,420.3" fill="#f8e600"/>
<polygon points="53.5,419.6 54.8,419.4 56.1,419.4 58.4,419.5 60.7,419.5 59.4,419.3 58.1,419.4 55.8,419.5" fill="#06b35c"/>
<polygon points="135.7,458.8 137.1,463.8 138.5,469 140.5,468.7 142.5,468.5 141.1,463.2 139.7,458.2 137.7,458.5" fill="#00b0e7"/>
<polygon points="117.6,442.8 119.1,446.8 120.6,451 122.6,450.8 124.7,450.6 123.3,446.3 121.8,442.3 119.7,442.5" fill="#06df75"/>
<polygon points="99,430.6 100.5,433.5 101.9,436.6 104.1,436.5 106.2,436.4 104.8,433.2 103.3,430.2 101.1,430.5" fill="#86e816"/>
<polygon points="79.9,422.7 81.4,424.4 82.8,426.3 85.1,426.3 87.3,426.2 85.8,424.2 84.4,422.5 82.2,422.6" fill="#e6e805"/>
<polygon points="60.7,419.5 62.1,419.8 63.4,420.5 65.8,420.5 68.1,420.5 66.7,419.8 65.3,419.3 63,419.4" fill="#f8ce00"/>
<polygon points="142.5,468.5 143.9,473.9 145.2,479.5 147.2,479.2 149.1,478.9 147.8,473.3 146.4,467.9 144.5,468.2" fill="#0977ea"/>
<polygon points="124.7,450.6 126.2,455.1 127.6,459.8 129.6,459.6 131.7,459.3 130.2,454.6 128.8,450.1 126.8,450.3" fill="#00d6c2"/>
<polygon points="106.2,436.4 107.7,439.8 109.2,443.4 111.3,443.3 113.4,443.2 112,439.5 110.5,436 108.4,436.2" fill="#2edf1f"/>
<polygon points="87.3,426.2 88.7,428.5 90.2,431 92.4,430.9 94.6,430.9 93.1,428.3 91.7,426 89.5,426.1" fill="#c7ea0c"/>
<polygon points="68.1,420.5 69.4,421.5 70.9,422.8 73.1,422.8 75.4,422.8 74,421.5 72.6,420.4 70.3,420.5" fill="#f8d900"/>
<polygon points="48.8,419.5 50.1,419.2 51.4,419.2 53.8,419.3 56.1,419.4 54.8,419.4 53.5,419.6 51.2,419.6" fill="#07b454"/>
<polygon points="131.7,459.3 133.1,464.3 134.5,469.5 136.5,469.2 138.5,469 137.1,463.8 135.7,458.8 133.7,459.1" fill="#00b5e6"/>
<polygon points="113.4,443.2 114.9,447.1 116.4,451.3 118.5,451.1 120.6,451 119.1,446.8 117.6,442.8 115.6,443" fill="#09de68"/>
<polygon points="94.6,430.9 96.1,433.7 97.6,436.7 99.8,436.7 101.9,436.6 100.5,433.5 99,430.6 96.8,430.8" fill="#97e915"/>
<polygon points="75.4,422.8 76.9,424.4 78.3,426.3 80.6,426.3 82.8,426.3 81.4,424.4 79.9,422.7 77.7,422.8" fill="#efe702"/>
<polygon points="56.1,419.4 57.4,419.7 58.8,420.2 61.1,420.4 63.4,420.5 62.1,419.8 60.7,419.5 58.4,419.5" fill="#f7c000"/>
<polygon points="138.5,469 139.9,474.4 141.3,480 143.3,479.8 145.2,479.5 143.9,473.9 142.5,468.5 140.5,468.7" fill="#077dea"/>
<polygon points="120.6,451 122,455.4 123.5,460.1 125.5,459.9 127.6,459.8 126.2,455.1 124.7,450.6 122.6,450.8" fill="#00d8b9"/>
<polygon points="101.9,436.6 103.4,440 104.9,443.6 107.1,443.5 109.2,443.4 107.7,439.8 106.2,436.4 104.1,436.5" fill="#3fe01d"/>
<polygon points="82.8,426.3 84.3,428.5 85.7,430.9 88,431 90.2,431 88.7,428.5 87.3,426.2 85.1,426.3" fill="#d1e809"/>
<polygon points="63.4,420.5 64.8,421.4 66.2,422.5 68.6,422.7 70.9,422.8 69.4,421.5 68.1,420.5 65.8,420.5" fill="#f7ca00"/>
<polygon points="127.6,459.8 129,464.7 130.5,469.8 132.5,469.6 134.5,469.5 133.1,464.3 131.7,459.3 129.6,459.6" fill="#00bae5"/>
<polygon points="109.2,443.4 110.7,447.3 112.2,451.4 114.3,451.4 116.4,451.3 114.9,447.1 113.4,443.2 111.3,443.3" fill="#0cdd59"/>
<polygon points="90.2,431 91.7,433.7 93.2,436.7 95.4,436.7 97.6,436.7 96.1,433.7 94.6,430.9 92.4,430.9" fill="#a9eb13"/>
<polygon points="70.9,422.8 72.3,424.3 73.7,426 76,426.2 78.3,426.3 76.9,424.4 75.4,422.8 73.1,422.8" fill="#f5e000"/>
<polygon points="51.4,419.2 52.7,419.3 54,419.8 56.4,420 58.8,420.2 57.4,419.7 56.1,419.4 53.8,419.3" fill="#f6af00"/>
<polygon points="134.5,469.5 135.9,474.8 137.3,480.4 139.3,480.2 141.3,480 139.9,474.4 138.5,469 136.5,469.2" fill="#0583e9"/>
<polygon points="116.4,451.3 117.9,455.7 119.3,460.3 121.4,460.2 123.5,460.1 122,455.4 120.6,451 118.5,451.1" fill="#00d9b0"/>
<polygon points="97.6,436.7 99.1,440 100.6,443.5 102.7,443.6 104.9,443.6 103.4,440 101.9,436.6 99.8,436.7" fill="#52e11b"/>
<polygon points="78.3,426.3 79.8,428.3 81.2,430.7 83.5,430.8 85.7,430.9 84.3,428.5 82.8,426.3 80.6,426.3" fill="#dce606"/>
<polygon points="58.8,420.2 60.2,421 61.5,422.1 63.9,422.3 66.2,422.5 64.8,421.4 63.4,420.5 61.1,420.4" fill="#f6ba00"/>
<polygon points="123.5,460.1 124.9,464.9 126.4,470 128.4,469.9 130.5,469.8 129,464.7 127.6,459.8 125.5,459.9" fill="#00c0e4"/>
<polygon points="104.9,443.6 106.4,447.4 107.9,451.4 110,451.5 112.2,451.4 110.7,447.3 109.2,443.4 107.1,443.5" fill="#0fdc48"/>
<polygon points="85.7,430.9 87.2,433.6 88.7,436.5 91,436.6 93.2,436.7 91.7,433.7 90.2,431 88,431" fill="#b5e910"/>
<polygon points="66.2,422.5 67.7,423.9 69.1,425.6 71.4,425.8 73.7,426 72.3,424.3 70.9,422.8 68.6,422.7" fill="#f4d000"/>
<polygon points="130.5,469.8 131.9,475.1 133.3,480.6 135.3,480.5 137.3,480.4 135.9,474.8 134.5,469.5 132.5,469.6" fill="#048ae9"/>
<polygon points="112.2,451.4 113.6,455.8 115.1,460.3 117.2,460.3 119.3,460.3 117.9,455.7 116.4,451.3 114.3,451.4" fill="#00dba5"/>
<polygon points="93.2,436.7 94.7,439.9 96.2,443.4 98.4,443.5 100.6,443.5 99.1,440 97.6,436.7 95.4,436.7" fill="#67e319"/>
<polygon points="73.7,426 75.2,428 76.6,430.3 78.9,430.5 81.2,430.7 79.8,428.3 78.3,426.3 76,426.2" fill="#e8e403"/>
<polygon points="54,419.8 55.4,420.5 56.8,421.4 59.2,421.8 61.5,422.1 60.2,421 58.8,420.2 56.4,420" fill="#f4a700"/>
<polygon points="119.3,460.3 120.8,465.1 122.2,470.1 124.3,470.1 126.4,470 124.9,464.9 123.5,460.1 121.4,460.2" fill="#00c7e2"/>
<polygon points="100.6,443.5 102.1,447.3 103.5,451.3 105.7,451.4 107.9,451.4 106.4,447.4 104.9,443.6 102.7,443.6" fill="#13db35"/>
<polygon points="81.2,430.7 82.7,433.3 84.2,436.1 86.5,436.3 88.7,436.5 87.2,433.6 85.7,430.9 83.5,430.8" fill="#c1e70d"/>
<polygon points="61.5,422.1 63,423.4 64.4,424.9 66.7,425.3 69.1,425.6 67.7,423.9 66.2,422.5 63.9,422.3" fill="#f4bd00"/>
<polygon points="126.4,470 127.8,475.3 129.2,480.8 131.2,480.7 133.3,480.6 131.9,475.1 130.5,469.8 128.4,469.9" fill="#0291e9"/>
<polygon points="107.9,451.4 109.4,455.7 110.8,460.2 113,460.3 115.1,460.3 113.6,455.8 112.2,451.4 110,451.5" fill="#00dd99"/>
<polygon points="88.7,436.5 90.2,439.6 91.7,443 93.9,443.2 96.2,443.4 94.7,439.9 93.2,436.7 91,436.6" fill="#7fe417"/>
<polygon points="69.1,425.6 70.5,427.5 72,429.6 74.3,430 76.6,430.3 75.2,428 73.7,426 71.4,425.8" fill="#f2de00"/>
<polygon points="115.1,460.3 116.6,465.1 118,470.1 120.1,470.1 122.2,470.1 120.8,465.1 119.3,460.3 117.2,460.3" fill="#00cee1"/>
<polygon points="96.2,443.4 97.7,447.1 99.2,451 101.4,451.2 103.5,451.3 102.1,447.3 100.6,443.5 98.4,443.5" fill="#18da20"/>
<polygon points="76.6,430.3 78.1,432.8 79.6,435.5 81.9,435.8 84.2,436.1 82.7,433.3 81.2,430.7 78.9,430.5" fill="#cfe409"/>
<polygon points="56.8,421.4 58.2,422.6 59.6,424 62,424.5 64.4,424.9 63,423.4 61.5,422.1 59.2,421.8" fill="#f3a900"/>
<polygon points="122.2,470.1 123.7,475.4 125.1,480.8 127.2,480.8 129.2,480.8 127.8,475.3 126.4,470 124.3,470.1" fill="#0099e9"/>
<polygon points="103.5,451.3 105,455.5 106.5,460 108.7,460.1 110.8,460.2 109.4,455.7 107.9,451.4 105.7,451.4" fill="#02dd87"/>
<polygon points="84.2,436.1 85.7,439.2 87.2,442.5 89.5,442.8 91.7,443 90.2,439.6 88.7,436.5 86.5,436.3" fill="#98e614"/>
<polygon points="64.4,424.9 65.8,426.7 67.3,428.8 69.6,429.2 72,429.6 70.5,427.5 69.1,425.6 66.7,425.3" fill="#f1ca00"/>
<polygon points="110.8,460.2 112.3,465 113.8,469.9 115.9,470 118,470.1 116.6,465.1 115.1,460.3 113,460.3" fill="#00d1d4"/>
<polygon points="91.7,443 93.2,446.7 94.7,450.5 96.9,450.8 99.2,451 97.7,447.1 96.2,443.4 93.9,443.2" fill="#32dc1e"/>
<polygon points="72,429.6 73.5,432 75,434.7 77.3,435.1 79.6,435.5 78.1,432.8 76.6,430.3 74.3,430" fill="#dee205"/>
<polygon points="118,470.1 119.5,475.3 120.9,480.7 123,480.8 125.1,480.8 123.7,475.4 122.2,470.1 120.1,470.1" fill="#00a1e7"/>
<polygon points="99.2,451 100.7,455.2 102.2,459.6 104.4,459.8 106.5,460 105,455.5 103.5,451.3 101.4,451.2" fill="#07dc70"/>
<polygon points="79.6,435.5 81.1,438.5 82.6,441.7 84.9,442.1 87.2,442.5 85.7,439.2 84.2,436.1 81.9,435.8" fill="#afe611"/>
<polygon points="59.6,424 61,425.8 62.5,427.7 64.9,428.3 67.3,428.8 65.8,426.7 64.4,424.9 62,424.5" fill="#f0b400"/>
<polygon points="106.5,460 108,464.7 109.5,469.6 111.7,469.8 113.8,469.9 112.3,465 110.8,460.2 108.7,460.1" fill="#00d3c5"/>
<polygon points="87.2,442.5 88.7,446 90.2,449.8 92.5,450.2 94.7,450.5 93.2,446.7 91.7,443 89.5,442.8" fill="#4fde1b"/>
<polygon points="67.3,428.8 68.8,431.1 70.2,433.7 72.6,434.2 75,434.7 73.5,432 72,429.6 69.6,429.2" fill="#eedf00"/>
<polygon points="113.8,469.9 115.3,475.1 116.7,480.4 118.8,480.6 120.9,480.7 119.5,475.3 118,470.1 115.9,470" fill="#00aae5"/>
<polygon points="94.7,450.5 96.2,454.6 97.7,459 100,459.3 102.2,459.6 100.7,455.2 99.2,451 96.9,450.8" fill="#0cda56"/>
<polygon points="75,434.7 76.5,437.6 78,440.8 80.3,441.3 82.6,441.7 81.1,438.5 79.6,435.5 77.3,435.1" fill="#bfe30c"/>
<polygon points="102.2,459.6 103.7,464.2 105.2,469 107.3,469.3 109.5,469.6 108,464.7 106.5,460 104.4,459.8" fill="#00d5b6"/>
<polygon points="82.6,441.7 84.1,445.2 85.6,448.9 87.9,449.4 90.2,449.8 88.7,446 87.2,442.5 84.9,442.1" fill="#6ee018"/>
<polygon points="62.5,427.7 64,429.9 65.4,432.4 67.8,433.1 70.2,433.7 68.8,431.1 67.3,428.8 64.9,428.3" fill="#eec700"/>
<polygon points="109.5,469.6 111,474.7 112.5,480 114.6,480.2 116.7,480.4 115.3,475.1 113.8,469.9 111.7,469.8" fill="#00b4e3"/>
<polygon points="90.2,449.8 91.7,453.9 93.3,458.1 95.5,458.6 97.7,459 96.2,454.6 94.7,450.5 92.5,450.2" fill="#12d93a"/>
<polygon points="70.2,433.7 71.7,436.5 73.2,439.6 75.6,440.2 78,440.8 76.5,437.6 75,434.7 72.6,434.2" fill="#d1e007"/>
<polygon points="97.7,459 99.3,463.5 100.8,468.3 103,468.7 105.2,469 103.7,464.2 102.2,459.6 100,459.3" fill="#00d8a4"/>
<polygon points="78,440.8 79.5,444.2 81,447.8 83.3,448.4 85.6,448.9 84.1,445.2 82.6,441.7 80.3,441.3" fill="#91e314"/>
<polygon points="105.2,469 106.7,474.1 108.2,479.3 110.3,479.7 112.5,480 111,474.7 109.5,469.6 107.3,469.3" fill="#00bfe1"/>
<polygon points="85.6,448.9 87.2,452.9 88.7,457.1 91,457.6 93.3,458.1 91.7,453.9 90.2,449.8 87.9,449.4" fill="#1cd820"/>
<polygon points="65.4,432.4 66.9,435.1 68.4,438.1 70.9,438.9 73.2,439.6 71.7,436.5 70.2,433.7 67.8,433.1" fill="#e5dd02"/>
<polygon points="93.3,458.1 94.8,462.6 96.3,467.3 98.5,467.9 100.8,468.3 99.3,463.5 97.7,459 95.5,458.6" fill="#00db91"/>
<polygon points="73.2,439.6 74.8,442.9 76.3,446.4 78.7,447.2 81,447.8 79.5,444.2 78,440.8 75.6,440.2" fill="#aee310"/>
<polygon points="100.8,468.3 102.3,473.3 103.8,478.5 106,478.9 108.2,479.3 106.7,474.1 105.2,469 103,468.7" fill="#00cadf"/>
<polygon points="81,447.8 82.5,451.7 84.1,455.8 86.4,456.5 88.7,457.1 87.2,452.9 85.6,448.9 83.3,448.4" fill="#41da1c"/>
<polygon points="88.7,457.1 90.2,461.5 91.8,466.2 94,466.8 96.3,467.3 94.8,462.6 93.3,458.1 91,457.6" fill="#07d970"/>
<polygon points="68.4,438.1 70,441.3 71.5,444.8 73.9,445.6 76.3,446.4 74.8,442.9 73.2,439.6 70.9,438.9" fill="#c4df0a"/>
<polygon points="96.3,467.3 97.8,472.3 99.3,477.4 101.6,478 103.8,478.5 102.3,473.3 100.8,468.3 98.5,467.9" fill="#00cfcd"/>
<polygon points="76.3,446.4 77.8,450.2 79.4,454.3 81.7,455.1 84.1,455.8 82.5,451.7 81,447.8 78.7,447.2" fill="#69dd18"/>
<polygon points="84.1,455.8 85.6,460.2 87.2,464.7 89.5,465.5 91.8,466.2 90.2,461.5 88.7,457.1 86.4,456.5" fill="#0ed74c"/>
<polygon points="91.8,466.2 93.3,471 94.8,476.1 97.1,476.8 99.3,477.4 97.8,472.3 96.3,467.3 94,466.8" fill="#00d2b7"/>
<polygon points="71.5,444.8 73,448.5 74.6,452.4 77,453.4 79.4,454.3 77.8,450.2 76.3,446.4 73.9,445.6" fill="#95e014"/>
<polygon points="79.4,454.3 80.9,458.5 82.5,463 84.8,463.9 87.2,464.7 85.6,460.2 84.1,455.8 81.7,455.1" fill="#16d525"/>
<polygon points="87.2,464.7 88.7,469.5 90.2,474.6 92.5,475.4 94.8,476.1 93.3,471 91.8,466.2 89.5,465.5" fill="#00d69f"/>
<polygon points="74.6,452.4 76.1,456.6 77.7,461.1 80.1,462.1 82.5,463 80.9,458.5 79.4,454.3 77,453.4" fill="#3fd81c"/>
<polygon points="82.5,463 84,467.8 85.6,472.7 87.9,473.7 90.2,474.6 88.7,469.5 87.2,464.7 84.8,463.9" fill="#04d77e"/>
<polygon points="77.7,461.1 79.3,465.7 80.8,470.6 83.2,471.7 85.6,472.7 84,467.8 82.5,463 80.1,462.1" fill="#0cd552"/>
</g>
<circle cx="57.3" cy="410.3" r="1.55" fill="#e30b0b" stroke="#6e0000" stroke-width="0.5"/>
<circle cx="95.8" cy="399.4" r="1.55" fill="#e30b0b" stroke="#6e0000" stroke-width="0.5"/>
<circle cx="135.5" cy="400.3" r="1.55" fill="#e30b0b" stroke="#6e0000" stroke-width="0.5"/>
<circle cx="125.7" cy="464.5" r="1.55" fill="#e30b0b" stroke="#6e0000" stroke-width="0.5"/>
<line x1="30.2" y1="464.7" x2="30.2" y2="467.9" stroke="#555" stroke-width="0.6"/>
<circle cx="30.2" cy="467.9" r="1.55" fill="#fff" stroke="#b85050" stroke-width="0.6"/>
<line x1="80.9" y1="473.3" x2="80.8" y2="486" stroke="#555" stroke-width="0.6"/>
<circle cx="80.8" cy="486" r="1.55" fill="#fff" stroke="#b85050" stroke-width="0.6"/>
<line x1="163.5" y1="476" x2="163.7" y2="480.9" stroke="#555" stroke-width="0.6"/>
<circle cx="163.7" cy="480.9" r="1.55" fill="#fff" stroke="#b85050" stroke-width="0.6"/></g>
<g id="pf"><polygon points="218.4,501.2 287.8,536 356.7,501.2 287.4,474.1" fill="#5b5b5b"/>
<polyline points="250,517.1 251,517.4 252.5,517.8 254,518.2 255.5,518.7 256.2,518.9 256.9,519.1 258.3,519.6 259.8,520.1 261.2,520.6 262.6,521.1 263.9,521.6 264.4,521.7 265.3,522.1 266.7,522.6 268,523.2 269.3,523.7 270.6,524.3 271.8,524.9 273.1,525.5 274.3,526.1 275.5,526.8 276.6,527.4 277.8,528.1 278.9,528.8 279.5,529.2 280,529.5 281,530.3 282,531.1 283,531.8 283.9,532.7 284.1,532.8 284.9,533.5 285.7,534.4 286.6,535.3 286.7,535.4" fill="none" stroke="#0a55f5" stroke-width="1.2" stroke-linecap="round"/>
<polyline points="350.6,504.3 350.6,504.2 349.8,503.5 349,502.8 348.8,502.6 348.2,502 347.5,501.2 347.4,501.2 346.8,500.4 346.3,499.8 346.1,499.6 345.5,498.8 345.3,498.5 344.9,498 344.5,497.3 344.4,497.1 343.9,496.3 343.8,496.1" fill="none" stroke="#0a55f5" stroke-width="1.2" stroke-linecap="round"/>
<polyline points="233.3,508.7 234.5,508.9 236.2,509.2 237,509.4 237.9,509.5 239.5,509.8 240.8,510 241.2,510.1 242.9,510.4 244.5,510.7 244.6,510.7 246.2,511 247.9,511.3 248.5,511.5 249.5,511.7 251.2,512 252.4,512.2 252.8,512.3 254.5,512.6 256.2,513 256.5,513 257.8,513.3 259.5,513.6 260.7,513.9 261.1,514 262.7,514.3 264.4,514.7 265.1,514.8 266,515 267.6,515.4 269.2,515.8 269.7,515.9 270.9,516.2 272.4,516.5 274,516.9 274.7,517.1 275.6,517.3 277.2,517.8 278.7,518.2 280.2,518.6 280.5,518.7 281.7,519.1 283.2,519.5 284.7,520 286.1,520.5 287.5,521 288.9,521.6 289.3,521.7 290.3,522.1 291.6,522.7 292.9,523.3 294.1,523.9 294.9,524.4 295.3,524.6 296.4,525.2 297.5,526 298.5,526.7 299.5,527.5 300,528 300.4,528.3 301.2,529.2" fill="none" stroke="#00cfc0" stroke-width="1.2" stroke-linecap="round"/>
<polyline points="339.2,510 338.4,509.3 337.8,508.6 337.6,508.4 336.9,507.6 336.7,507.2 336.3,506.7 335.8,505.8 335.8,505.8 335.3,504.9 335.1,504.6 334.8,504 334.6,503.4 334.4,503.1 334.1,502.3 334,502.1 333.7,501.2 333.7,501.2 333.4,500.2 333.4,500.1 333.2,499.2 333.2,499.1 333,498.2 332.9,498.1 332.8,497.3 332.8,497.1 332.6,496.3 332.6,496.2 332.5,495.3 332.5,495.2 332.4,494.3 332.4,494.3 332.3,493.4 332.3,493.3 332.2,492.5 332.2,492.3 332.2,491.6" fill="none" stroke="#00cfc0" stroke-width="1.2" stroke-linecap="round"/>
<polyline points="219.2,500.9 220.4,501.1 221,501.1 222.8,501.3 223.3,501.4 224.6,501.5 226.3,501.7 226.4,501.7 228.3,501.9 229.2,502 230.1,502.1 231.9,502.3 232.1,502.3 233.8,502.5 235.1,502.6 235.7,502.7 237.5,502.8 238,502.9 239.4,503 240.8,503.1 241.3,503.2 243.2,503.4 243.7,503.4 245.2,503.5 246.5,503.6 247.1,503.7 249.1,503.8 249.3,503.9 251,504 252.1,504.1 253,504.1 254.8,504.3 255,504.3 257.1,504.4 257.5,504.4 259.1,504.5 260.2,504.6 261.2,504.6 262.8,504.7 263.3,504.7 265.3,504.8 265.4,504.8 267.6,504.9 267.8,504.9 269.8,504.9 270.3,504.9 272.1,504.9 272.7,505 274.5,504.9 275,504.9 276.9,504.9 277.3,504.9 279.4,504.8 279.5,504.8 281.6,504.7 282,504.7 283.6,504.6 284.8,504.5 285.6,504.4 287.5,504.2 287.8,504.2 289.3,504 291,503.7 291.3,503.7 292.7,503.4 294.2,503.1 295.7,502.7 295.7,502.7 297.1,502.4 298.5,501.9 299.8,501.5 301,501 302.1,500.5 303.2,500 304.3,499.5 305.2,498.9 306.2,498.4 307.1,497.8 307.7,497.3 307.9,497.2 308.7,496.6 309.5,495.9 310.2,495.3 310.5,495.1 310.9,494.7 311.6,494 312.2,493.4 312.3,493.2 312.8,492.7 313.4,492.1 313.7,491.6 313.9,491.4 314.5,490.7 314.9,490.1 315,490 315.5,489.4 315.9,488.7 315.9,488.7 316.4,488 316.8,487.3 316.8,487.3 317.3,486.6 317.6,486 317.7,485.9" fill="none" stroke="#14d232" stroke-width="1.2" stroke-linecap="round"/>
<polyline points="225.3,498.5 226.9,498.6 227.2,498.7 229.2,498.8 229.6,498.8 231.1,498.9 232.3,499 233.1,499.1 234.9,499.2 235.1,499.2 237.1,499.3 237.5,499.3 239.1,499.4 240.1,499.5 241.1,499.5 242.6,499.6 243.2,499.6 245.1,499.7 245.3,499.7 247.4,499.8 247.6,499.8 249.5,499.8 250,499.8 251.7,499.9 252.4,499.9 253.9,499.9 254.8,499.9 256.2,499.9 257.1,499.9 258.5,499.9 259.4,499.9 260.8,499.9 261.6,499.9 263.2,499.8 263.8,499.8 265.7,499.7 265.9,499.7 267.9,499.6 268.3,499.6 270,499.5 271,499.4 271.9,499.4 273.8,499.2 273.9,499.2 275.7,499 277,498.8 277.5,498.8 279.2,498.5 280.4,498.4 280.9,498.3 282.5,498 284.1,497.7 284.3,497.6 285.6,497.4 287.1,497 288.5,496.6 289.6,496.3 289.8,496.3 291.2,495.8 292.4,495.4 293.6,495 294.8,494.5 295.9,494 297,493.6 298,493.1 299,492.6 300,492 300.9,491.5 301.3,491.2 301.8,490.9 302.6,490.4 303.5,489.8 304.3,489.3 305,488.7 305,488.7 305.8,488.1 306.5,487.5 307.2,486.9 307.4,486.7 307.8,486.3 308.5,485.7 309.1,485.1 309.2,485 309.7,484.5 310.3,483.9 310.6,483.5 310.8,483.3" fill="none" stroke="#96dc14" stroke-width="1.2" stroke-linecap="round"/>
<polyline points="232,495.9 232.6,495.9 234.1,496 235,496 236.2,496 237.4,496 238.4,496.1 239.8,496.1 240.5,496.1 242.1,496.1 242.7,496.1 244.3,496.1 245,496.1 246.6,496.1 247.3,496.1 248.8,496.1 249.6,496.1 251,496 252,496 253.1,496 254.4,495.9 255.2,495.9 257,495.8 257.2,495.8 259.2,495.7 259.6,495.7 261.2,495.6 262.3,495.5 263.1,495.4 265,495.2 265.2,495.2 266.8,495.1 268.2,494.9 268.6,494.9 270.3,494.6 271.5,494.5 272,494.4 273.7,494.1 275.2,493.9 275.3,493.8 276.8,493.5 278.3,493.2 279.5,493 279.8,492.9 281.2,492.6 282.6,492.2 283.9,491.8 285.2,491.4 285.9,491.2 286.5,491 287.7,490.6 288.9,490.2 290,489.7 291.1,489.3 292.2,488.8 293.2,488.3 294.2,487.9 295.2,487.4 295.8,487 296.1,486.9 297.1,486.3 297.9,485.8 298.8,485.3 299.6,484.8 300.4,484.2 300.6,484.1 301.2,483.7 302,483.1 302.7,482.6 303.4,482 303.4,482 304.1,481.5 304.8,480.9" fill="none" stroke="#f0a000" stroke-width="1.2" stroke-linecap="round"/>
<polygon points="217.3,478.8 287.4,453.8 287.4,384.3 213.2,401.4" fill="#fff"/>
<polygon points="287.4,453.8 357.9,478.7 361.9,401.4 287.4,384.3" fill="#fff"/>
<path d="M218.4,501.2 L213.2,401.4 M232.7,473.3 L229.6,397.7 M247.3,468 L245.2,394.1 M261.3,463.1 L259.9,390.6 M274.7,458.3 L274,387.4 M287.4,474.1 L287.4,384.3 M298.1,457.5 L298.6,386.8 M309.1,461.4 L310.2,389.5 M320.6,465.5 L322.3,392.3 M332.5,469.7 L335,395.2 M344.9,474.1 L348.2,398.2 M356.7,501.2 L361.9,401.4 M217.3,478.8 L287.4,453.8 L357.9,478.7 M217.3,478.8 L216,478.8 M216.3,460.2 L287.4,437 L358.9,460.2 M216.3,460.2 L215,460.2 M215.3,441.2 L287.4,419.9 L359.9,441.1 M215.3,441.2 L214,441.2 M214.3,421.6 L287.4,402.3 L360.9,421.5 M214.3,421.6 L213,421.6 M213.2,401.4 L287.4,384.3 L361.9,401.4 M213.2,401.4 L211.9,401.4" fill="none" stroke="#3c3c3c" stroke-width="0.7"/>
<line x1="252.9" y1="395.7" x2="252.9" y2="402" stroke="#555" stroke-width="0.6"/>
<line x1="287.2" y1="377.3" x2="287.6" y2="388.7" stroke="#555" stroke-width="0.6"/>
<line x1="358.5" y1="466.5" x2="357.7" y2="475" stroke="#555" stroke-width="0.6"/>
<g stroke="#000" stroke-opacity="0.8" stroke-width="0.45" stroke-linejoin="round">
<polygon points="284.4,388.1 286.3,391.3 288.1,394.5 289.6,394.4 291.1,394.4 289.2,391.2 287.4,387.9 285.9,387.9" fill="#b60000"/>
<polygon points="281.4,388.5 283.2,391.7 285.1,394.8 286.6,394.6 288.1,394.5 286.3,391.3 284.4,388.1 282.9,388.2" fill="#ba0000"/>
<polygon points="288.1,394.5 289.9,397.7 291.8,400.7 293.3,400.7 294.7,400.8 292.9,397.6 291.1,394.4 289.6,394.4" fill="#be4c00"/>
<polygon points="278.4,389.1 280.2,392.2 282,395.4 283.6,395.1 285.1,394.8 283.2,391.7 281.4,388.5 279.9,388.7" fill="#be0000"/>
<polygon points="285.1,394.8 286.9,397.9 288.8,401 290.3,400.8 291.8,400.7 289.9,397.7 288.1,394.5 286.6,394.6" fill="#c14400"/>
<polygon points="291.8,400.7 293.6,403.8 295.5,406.8 297,406.8 298.4,406.9 296.6,403.8 294.7,400.8 293.3,400.7" fill="#c18d00"/>
<polygon points="275.3,390 277.1,393.1 279,396.1 280.5,395.7 282,395.4 280.2,392.2 278.4,389.1 276.8,389.5" fill="#c20000"/>
<polygon points="282,395.4 283.9,398.4 285.8,401.4 287.3,401.2 288.8,401 286.9,397.9 285.1,394.8 283.6,395.1" fill="#c53f00"/>
<polygon points="288.8,401 290.6,404 292.5,406.9 294,406.8 295.5,406.8 293.6,403.8 291.8,400.7 290.3,400.8" fill="#c68800"/>
<polygon points="295.5,406.8 297.4,409.7 299.2,412.6 300.7,412.7 302.2,412.8 300.3,409.9 298.4,406.9 297,406.8" fill="#b3b604"/>
<polygon points="272.2,391.1 274,394.2 275.9,397.2 277.4,396.6 279,396.1 277.1,393.1 275.3,390 273.7,390.5" fill="#c60000"/>
<polygon points="279,396.1 280.8,399.2 282.7,402.1 284.2,401.8 285.8,401.4 283.9,398.4 282,395.4 280.5,395.7" fill="#c93e00"/>
<polygon points="285.8,401.4 287.6,404.4 289.5,407.3 291,407.1 292.5,406.9 290.6,404 288.8,401 287.3,401.2" fill="#ca8500"/>
<polygon points="292.5,406.9 294.4,409.8 296.3,412.7 297.7,412.6 299.2,412.6 297.4,409.7 295.5,406.8 294,406.8" fill="#bfba02"/>
<polygon points="299.2,412.6 301.1,415.5 303,418.3 304.5,418.4 305.9,418.5 304,415.7 302.2,412.8 300.7,412.7" fill="#87bc0f"/>
<polygon points="269,392.4 270.9,395.5 272.7,398.5 274.3,397.8 275.9,397.2 274,394.2 272.2,391.1 270.6,391.7" fill="#ca0000"/>
<polygon points="275.9,397.2 277.7,400.2 279.6,403.1 281.2,402.6 282.7,402.1 280.8,399.2 279,396.1 277.4,396.6" fill="#cd4100"/>
<polygon points="282.7,402.1 284.6,405.1 286.4,407.9 288,407.6 289.5,407.3 287.6,404.4 285.8,401.4 284.2,401.8" fill="#cf8500"/>
<polygon points="289.5,407.3 291.4,410.2 293.3,413 294.8,412.8 296.3,412.7 294.4,409.8 292.5,406.9 291,407.1" fill="#cabd00"/>
<polygon points="296.3,412.7 298.1,415.5 300,418.2 301.5,418.2 303,418.3 301.1,415.5 299.2,412.6 297.7,412.6" fill="#94c00d"/>
<polygon points="265.8,394 267.7,397 269.6,400 271.2,399.2 272.7,398.5 270.9,395.5 269,392.4 267.4,393.2" fill="#ce0100"/>
<polygon points="303,418.3 304.9,421 306.8,423.7 308.2,423.8 309.7,424 307.8,421.3 305.9,418.5 304.5,418.4" fill="#3ab617"/>
<polygon points="272.7,398.5 274.6,401.4 276.5,404.3 278,403.7 279.6,403.1 277.7,400.2 275.9,397.2 274.3,397.8" fill="#d24700"/>
<polygon points="279.6,403.1 281.5,406 283.4,408.8 284.9,408.3 286.4,407.9 284.6,405.1 282.7,402.1 281.2,402.6" fill="#d38700"/>
<polygon points="286.4,407.9 288.3,410.7 290.2,413.5 291.7,413.2 293.3,413 291.4,410.2 289.5,407.3 288,407.6" fill="#cfbe00"/>
<polygon points="293.3,413 295.1,415.7 297,418.4 298.5,418.3 300,418.2 298.1,415.5 296.3,412.7 294.8,412.8" fill="#9fc30c"/>
<polygon points="262.6,395.9 264.5,398.9 266.4,401.8 268,400.8 269.6,400 267.7,397 265.8,394 264.3,394.9" fill="#d31100"/>
<polygon points="300,418.2 301.9,420.9 303.8,423.6 305.3,423.6 306.8,423.7 304.9,421 303,418.3 301.5,418.2" fill="#4fbc15"/>
<polygon points="269.6,400 271.4,402.9 273.3,405.7 274.9,405 276.5,404.3 274.6,401.4 272.7,398.5 271.2,399.2" fill="#d75200"/>
<polygon points="306.8,423.7 308.7,426.3 310.6,428.9 312,429.1 313.5,429.4 311.6,426.7 309.7,424 308.2,423.8" fill="#0db339"/>
<polygon points="276.5,404.3 278.4,407.1 280.2,409.9 281.8,409.3 283.4,408.8 281.5,406 279.6,403.1 278,403.7" fill="#d88d00"/>
<polygon points="283.4,408.8 285.2,411.6 287.1,414.3 288.7,413.9 290.2,413.5 288.3,410.7 286.4,407.9 284.9,408.3" fill="#d4c000"/>
<polygon points="290.2,413.5 292.1,416.2 294,418.9 295.5,418.6 297,418.4 295.1,415.7 293.3,413 291.7,413.2" fill="#a7c70b"/>
<polygon points="259.4,398 261.3,401 263.2,403.8 264.8,402.8 266.4,401.8 264.5,398.9 262.6,395.9 261,396.9" fill="#d92400"/>
<polygon points="297,418.4 298.9,421.1 300.9,423.7 302.4,423.6 303.8,423.6 301.9,420.9 300,418.2 298.5,418.3" fill="#60c115"/>
<polygon points="266.4,401.8 268.3,404.6 270.1,407.4 271.7,406.5 273.3,405.7 271.4,402.9 269.6,400 268,400.8" fill="#dd6100"/>
<polygon points="303.8,423.6 305.8,426.2 307.7,428.7 309.1,428.8 310.6,428.9 308.7,426.3 306.8,423.7 305.3,423.6" fill="#11b727"/>
<polygon points="273.3,405.7 275.2,408.5 277.1,411.2 278.7,410.5 280.2,409.9 278.4,407.1 276.5,404.3 274.9,405" fill="#dc9500"/>
<polygon points="310.6,428.9 312.5,431.5 314.5,434 315.9,434.2 317.3,434.5 315.4,431.9 313.5,429.4 312,429.1" fill="#01b676"/>
<polygon points="280.2,409.9 282.1,412.6 284,415.3 285.6,414.8 287.1,414.3 285.2,411.6 283.4,408.8 281.8,409.3" fill="#d8c500"/>
<polygon points="287.1,414.3 289,417 291,419.6 292.5,419.2 294,418.9 292.1,416.2 290.2,413.5 288.7,413.9" fill="#aecb0a"/>
<polygon points="256.2,400.4 258,403.3 259.9,406.1 261.5,404.9 263.2,403.8 261.3,401 259.4,398 257.8,399.2" fill="#df3d00"/>
<polygon points="294,418.9 295.9,421.5 297.8,424.1 299.4,423.9 300.9,423.7 298.9,421.1 297,418.4 295.5,418.6" fill="#6ec714"/>
<polygon points="263.2,403.8 265,406.6 266.9,409.4 268.5,408.4 270.1,407.4 268.3,404.6 266.4,401.8 264.8,402.8" fill="#e37400"/>
<polygon points="300.9,423.7 302.8,426.3 304.7,428.8 306.2,428.7 307.7,428.7 305.8,426.2 303.8,423.6 302.4,423.6" fill="#17bb1c"/>
<polygon points="270.1,407.4 272,410.2 273.9,412.9 275.5,412 277.1,411.2 275.2,408.5 273.3,405.7 271.7,406.5" fill="#e1a000"/>
<polygon points="307.7,428.7 309.6,431.2 311.5,433.7 313,433.8 314.5,434 312.5,431.5 310.6,428.9 309.1,428.8" fill="#05b964"/>
<polygon points="277.1,411.2 279,413.9 280.9,416.6 282.5,415.9 284,415.3 282.1,412.6 280.2,409.9 278.7,410.5" fill="#ddcd00"/>
<polygon points="314.5,434 316.4,436.4 318.4,438.8 319.8,439.1 321.2,439.4 319.3,437 317.3,434.5 315.9,434.2" fill="#00b09b"/>
<polygon points="284,415.3 285.9,417.9 287.8,420.5 289.4,420 291,419.6 289,417 287.1,414.3 285.6,414.8" fill="#b3d00a"/>
<polygon points="252.9,403.1 254.8,405.9 256.6,408.7 258.3,407.3 259.9,406.1 258,403.3 256.2,400.4 254.5,401.7" fill="#e65a00"/>
<polygon points="291,419.6 292.9,422.1 294.8,424.7 296.3,424.3 297.8,424.1 295.9,421.5 294,418.9 292.5,419.2" fill="#78cc14"/>
<polygon points="259.9,406.1 261.8,408.9 263.7,411.6 265.3,410.4 266.9,409.4 265,406.6 263.2,403.8 261.5,404.9" fill="#e88800"/>
<polygon points="297.8,424.1 299.8,426.6 301.7,429 303.2,428.9 304.7,428.8 302.8,426.3 300.9,423.7 299.4,423.9" fill="#26c11b"/>
<polygon points="266.9,409.4 268.8,412.1 270.7,414.7 272.3,413.7 273.9,412.9 272,410.2 270.1,407.4 268.5,408.4" fill="#e5af00"/>
<polygon points="304.7,428.8 306.7,431.2 308.6,433.6 310.1,433.6 311.5,433.7 309.6,431.2 307.7,428.7 306.2,428.7" fill="#08be56"/>
<polygon points="273.9,412.9 275.8,415.5 277.7,418.1 279.3,417.3 280.9,416.6 279,413.9 277.1,411.2 275.5,412" fill="#ddd301"/>
<polygon points="311.5,433.7 313.5,436.1 315.5,438.4 316.9,438.6 318.4,438.8 316.4,436.4 314.5,434 313,433.8" fill="#00b791"/>
<polygon points="280.9,416.6 282.8,419.2 284.7,421.7 286.3,421.1 287.8,420.5 285.9,417.9 284,415.3 282.5,415.9" fill="#b5d50b"/>
<polygon points="318.4,438.8 320.3,441.2 322.3,443.5 323.7,443.8 325.1,444.1 323.2,441.8 321.2,439.4 319.8,439.1" fill="#01a8b9"/>
<polygon points="249.6,406 251.5,408.8 253.3,411.5 255,410 256.6,408.7 254.8,405.9 252.9,403.1 251.3,404.5" fill="#ed7c00"/>
<polygon points="287.8,420.5 289.8,423 291.7,425.5 293.2,425.1 294.8,424.7 292.9,422.1 291,419.6 289.4,420" fill="#7ed114"/>
<polygon points="256.6,408.7 258.5,411.4 260.4,414 262,412.8 263.7,411.6 261.8,408.9 259.9,406.1 258.3,407.3" fill="#eb9e00"/>
<polygon points="294.8,424.7 296.7,427.1 298.7,429.6 300.2,429.3 301.7,429 299.8,426.6 297.8,424.1 296.3,424.3" fill="#30c71b"/>
<polygon points="263.7,411.6 265.6,414.2 267.5,416.8 269.1,415.7 270.7,414.7 268.8,412.1 266.9,409.4 265.3,410.4" fill="#e9c200"/>
<polygon points="301.7,429 303.7,431.5 305.6,433.8 307.1,433.7 308.6,433.6 306.7,431.2 304.7,428.8 303.2,428.9" fill="#0bc24a"/>
<polygon points="270.7,414.7 272.6,417.3 274.5,419.9 276.1,418.9 277.7,418.1 275.8,415.5 273.9,412.9 272.3,413.7" fill="#d9d803"/>
<polygon points="308.6,433.6 310.6,436 312.5,438.3 314,438.3 315.5,438.4 313.5,436.1 311.5,433.7 310.1,433.6" fill="#00be89"/>
<polygon points="277.7,418.1 279.6,420.6 281.5,423.1 283.1,422.4 284.7,421.7 282.8,419.2 280.9,416.6 279.3,417.3" fill="#b4da0c"/>
<polygon points="315.5,438.4 317.4,440.7 319.4,443 320.8,443.2 322.3,443.5 320.3,441.2 318.4,438.8 316.9,438.6" fill="#00b1b2"/>
<polygon points="246.3,409.2 248.2,411.9 250,414.6 251.7,413 253.3,411.5 251.5,408.8 249.6,406 247.9,407.5" fill="#f19b00"/>
<polygon points="284.7,421.7 286.6,424.2 288.6,426.6 290.1,426 291.7,425.5 289.8,423 287.8,420.5 286.3,421.1" fill="#7fd614"/>
<polygon points="322.3,443.5 324.3,445.7 326.3,447.9 327.7,448.3 329.1,448.7 327.1,446.4 325.1,444.1 323.7,443.8" fill="#0996bc"/>
<polygon points="253.3,411.5 255.2,414.2 257.1,416.8 258.8,415.4 260.4,414 258.5,411.4 256.6,408.7 255,410" fill="#efb800"/>
<polygon points="291.7,425.5 293.6,427.9 295.6,430.3 297.1,429.9 298.7,429.6 296.7,427.1 294.8,424.7 293.2,425.1" fill="#37cc1b"/>
<polygon points="260.4,414 262.3,416.6 264.2,419.2 265.8,418 267.5,416.8 265.6,414.2 263.7,411.6 262,412.8" fill="#edd700"/>
<polygon points="298.7,429.6 300.6,431.9 302.6,434.2 304.1,434 305.6,433.8 303.7,431.5 301.7,429 300.2,429.3" fill="#0ec641"/>
<polygon points="267.5,416.8 269.4,419.4 271.3,421.9 272.9,420.8 274.5,419.9 272.6,417.3 270.7,414.7 269.1,415.7" fill="#d2de06"/>
<polygon points="305.6,433.8 307.6,436.1 309.5,438.4 311,438.3 312.5,438.3 310.6,436 308.6,433.6 307.1,433.7" fill="#00c482"/>
<polygon points="274.5,419.9 276.4,422.3 278.3,424.8 279.9,423.9 281.5,423.1 279.6,420.6 277.7,418.1 276.1,418.9" fill="#b1df0f"/>
<polygon points="312.5,438.3 314.5,440.6 316.5,442.8 317.9,442.9 319.4,443 317.4,440.7 315.5,438.4 314,438.3" fill="#00b8a9"/>
<polygon points="243,412.6 244.8,415.3 246.7,417.9 248.4,416.2 250,414.6 248.2,411.9 246.3,409.2 244.6,410.9" fill="#f4be00"/>
<polygon points="281.5,423.1 283.5,425.5 285.4,427.9 287,427.2 288.6,426.6 286.6,424.2 284.7,421.7 283.1,422.4" fill="#7cda15"/>
<polygon points="319.4,443 321.4,445.2 323.4,447.4 324.8,447.6 326.3,447.9 324.3,445.7 322.3,443.5 320.8,443.2" fill="#05a3c0"/>
<polygon points="250,414.6 251.9,417.2 253.8,419.8 255.5,418.2 257.1,416.8 255.2,414.2 253.3,411.5 251.7,413" fill="#f2d600"/>
<polygon points="288.6,426.6 290.5,429 292.5,431.3 294,430.8 295.6,430.3 293.6,427.9 291.7,425.5 290.1,426" fill="#39d11b"/>
<polygon points="326.3,447.9 328.3,450.1 330.3,452.1 331.7,452.6 333.1,453 331.1,450.9 329.1,448.7 327.7,448.3" fill="#1184bf"/>
<polygon points="257.1,416.8 259,419.3 260.9,421.9 262.5,420.5 264.2,419.2 262.3,416.6 260.4,414 258.8,415.4" fill="#e3e204"/>
<polygon points="295.6,430.3 297.5,432.6 299.5,434.9 301,434.5 302.6,434.2 300.6,431.9 298.7,429.6 297.1,429.9" fill="#10cb3c"/>
<polygon points="264.2,419.2 266.1,421.7 268,424.2 269.6,423 271.3,421.9 269.4,419.4 267.5,416.8 265.8,418" fill="#c8e40a"/>
<polygon points="302.6,434.2 304.5,436.5 306.5,438.7 308,438.5 309.5,438.4 307.6,436.1 305.6,433.8 304.1,434" fill="#03c979"/>
<polygon points="271.3,421.9 273.2,424.3 275.1,426.7 276.7,425.7 278.3,424.8 276.4,422.3 274.5,419.9 272.9,420.8" fill="#aae511"/>
<polygon points="309.5,438.4 311.5,440.6 313.5,442.8 315,442.7 316.5,442.8 314.5,440.6 312.5,438.3 311,438.3" fill="#00bfa3"/>
<polygon points="239.6,416.3 241.5,419 243.3,421.5 245,419.7 246.7,417.9 244.8,415.3 243,412.6 241.3,414.4" fill="#f7e400"/>
<polygon points="278.3,424.8 280.3,427.2 282.2,429.5 283.8,428.7 285.4,427.9 283.5,425.5 281.5,423.1 279.9,423.9" fill="#74de17"/>
<polygon points="316.5,442.8 318.5,444.9 320.5,447 321.9,447.2 323.4,447.4 321.4,445.2 319.4,443 317.9,442.9" fill="#01b0c3"/>
<polygon points="246.7,417.9 248.6,420.5 250.5,423 252.1,421.4 253.8,419.8 251.9,417.2 250,414.6 248.4,416.2" fill="#e7e704"/>
<polygon points="285.4,427.9 287.4,430.3 289.3,432.5 290.9,431.9 292.5,431.3 290.5,429 288.6,426.6 287,427.2" fill="#37d51c"/>
<polygon points="323.4,447.4 325.4,449.5 327.4,451.5 328.8,451.8 330.3,452.1 328.3,450.1 326.3,447.9 324.8,447.6" fill="#0d92c2"/>
<polygon points="253.8,419.8 255.7,422.3 257.6,424.8 259.2,423.3 260.9,421.9 259,419.3 257.1,416.8 255.5,418.2" fill="#d2e809"/>
<polygon points="292.5,431.3 294.4,433.6 296.4,435.8 298,435.3 299.5,434.9 297.5,432.6 295.6,430.3 294,430.8" fill="#11d03a"/>
<polygon points="330.3,452.1 332.3,454.2 334.3,456.2 335.7,456.6 337.1,457.2 335.1,455.1 333.1,453 331.7,452.6" fill="#1f77bf"/>
<polygon points="260.9,421.9 262.8,424.3 264.7,426.7 266.4,425.4 268,424.2 266.1,421.7 264.2,419.2 262.5,420.5" fill="#bbe90f"/>
<polygon points="299.5,434.9 301.5,437.1 303.5,439.3 305,439 306.5,438.7 304.5,436.5 302.6,434.2 301,434.5" fill="#05cd73"/>
<polygon points="268,424.2 269.9,426.6 271.9,428.9 273.5,427.8 275.1,426.7 273.2,424.3 271.3,421.9 269.6,423" fill="#9ae814"/>
<polygon points="306.5,438.7 308.5,440.9 310.5,443 312,442.8 313.5,442.8 311.5,440.6 309.5,438.4 308,438.5" fill="#00c59e"/>
<polygon points="236.2,420.3 238.1,422.9 240,425.4 241.6,423.5 243.3,421.5 241.5,419 239.6,416.3 237.9,418.3" fill="#dbed08"/>
<polygon points="275.1,426.7 277,429.1 279,431.4 280.6,430.4 282.2,429.5 280.3,427.2 278.3,424.8 276.7,425.7" fill="#66e119"/>
<polygon points="313.5,442.8 315.5,444.9 317.5,446.9 319,446.9 320.5,447 318.5,444.9 316.5,442.8 315,442.7" fill="#00b9c1"/>
<polygon points="243.3,421.5 245.2,424.1 247.1,426.6 248.8,424.8 250.5,423 248.6,420.5 246.7,417.9 245,419.7" fill="#ceee0b"/>
<polygon points="282.2,429.5 284.2,431.8 286.1,434 287.7,433.3 289.3,432.5 287.4,430.3 285.4,427.9 283.8,428.7" fill="#30d91e"/>
<polygon points="320.5,447 322.5,449.1 324.5,451.1 326,451.3 327.4,451.5 325.4,449.5 323.4,447.4 321.9,447.2" fill="#099fc6"/>
<polygon points="250.5,423 252.3,425.5 254.2,427.9 255.9,426.3 257.6,424.8 255.7,422.3 253.8,419.8 252.1,421.4" fill="#bdef0f"/>
<polygon points="289.3,432.5 291.3,434.8 293.2,437 294.8,436.3 296.4,435.8 294.4,433.6 292.5,431.3 290.9,431.9" fill="#11d43c"/>
<polygon points="327.4,451.5 329.5,453.5 331.5,455.5 332.9,455.8 334.3,456.2 332.3,454.2 330.3,452.1 328.8,451.8" fill="#1482c4"/>
<polygon points="257.6,424.8 259.5,427.2 261.4,429.5 263.1,428.1 264.7,426.7 262.8,424.3 260.9,421.9 259.2,423.3" fill="#a7ef14"/>
<polygon points="296.4,435.8 298.4,438 300.4,440.1 301.9,439.7 303.5,439.3 301.5,437.1 299.5,434.9 298,435.3" fill="#06d271"/>
<polygon points="334.3,456.2 336.4,458.1 338.4,460 339.8,460.5 341.2,461.1 339.1,459.1 337.1,457.2 335.7,456.6" fill="#2e6dbe"/>
<polygon points="264.7,426.7 266.6,429.1 268.6,431.4 270.2,430.1 271.9,428.9 269.9,426.6 268,424.2 266.4,425.4" fill="#80e917"/>
<polygon points="303.5,439.3 305.5,441.4 307.5,443.5 309,443.2 310.5,443 308.5,440.9 306.5,438.7 305,439" fill="#00cc9b"/>
<polygon points="232.8,424.6 234.7,427.1 236.6,429.6 238.3,427.5 240,425.4 238.1,422.9 236.2,420.3 234.5,422.4" fill="#bbf411"/>
<polygon points="271.9,428.9 273.8,431.2 275.7,433.5 277.4,432.4 279,431.4 277,429.1 275.1,426.7 273.5,427.8" fill="#53e31b"/>
<polygon points="310.5,443 312.5,445.1 314.5,447.1 316,447 317.5,446.9 315.5,444.9 313.5,442.8 312,442.8" fill="#00c0bc"/>
<polygon points="240,425.4 241.8,427.9 243.7,430.4 245.4,428.4 247.1,426.6 245.2,424.1 243.3,421.5 241.6,423.5" fill="#b1f414"/>
<polygon points="279,431.4 280.9,433.6 282.9,435.8 284.5,434.9 286.1,434 284.2,431.8 282.2,429.5 280.6,430.4" fill="#23dc20"/>
<polygon points="317.5,446.9 319.6,448.9 321.6,450.9 323.1,451 324.5,451.1 322.5,449.1 320.5,447 319,446.9" fill="#05acca"/>
<polygon points="247.1,426.6 249,429 250.9,431.4 252.6,429.6 254.2,427.9 252.3,425.5 250.5,423 248.8,424.8" fill="#9bf216"/>
<polygon points="286.1,434 288.1,436.2 290.1,438.4 291.7,437.6 293.2,437 291.3,434.8 289.3,432.5 287.7,433.3" fill="#10d943"/>
<polygon points="324.5,451.1 326.6,453 328.6,454.9 330.1,455.2 331.5,455.5 329.5,453.5 327.4,451.5 326,451.3" fill="#1090c8"/>
<polygon points="254.2,427.9 256.1,430.3 258.1,432.6 259.7,431 261.4,429.5 259.5,427.2 257.6,424.8 255.9,426.3" fill="#80ee18"/>
<polygon points="293.2,437 295.2,439.1 297.2,441.2 298.8,440.6 300.4,440.1 298.4,438 296.4,435.8 294.8,436.3" fill="#06d772"/>
<polygon points="331.5,455.5 333.6,457.4 335.6,459.2 337,459.6 338.4,460 336.4,458.1 334.3,456.2 332.9,455.8" fill="#2378c4"/>
<polygon points="261.4,429.5 263.3,431.9 265.2,434.1 266.9,432.7 268.6,431.4 266.6,429.1 264.7,426.7 263.1,428.1" fill="#5fea1b"/>
<polygon points="300.4,440.1 302.4,442.2 304.4,444.2 305.9,443.8 307.5,443.5 305.5,441.4 303.5,439.3 301.9,439.7" fill="#00d19b"/>
<polygon points="229.4,429.1 231.3,431.6 233.2,434 234.9,431.8 236.6,429.6 234.7,427.1 232.8,424.6 231.1,426.8" fill="#7df319"/>
<polygon points="338.4,460 340.5,461.9 342.6,463.7 344,464.2 345.3,464.8 343.3,463 341.2,461.1 339.8,460.5" fill="#3c64bd"/>
<polygon points="268.6,431.4 270.5,433.6 272.4,435.8 274.1,434.6 275.7,433.5 273.8,431.2 271.9,428.9 270.2,430.1" fill="#3be51e"/>
<polygon points="307.5,443.5 309.5,445.5 311.5,447.4 313,447.2 314.5,447.1 312.5,445.1 310.5,443 309,443.2" fill="#00c6b9"/>
<polygon points="236.6,429.6 238.4,432.1 240.3,434.4 242,432.4 243.7,430.4 241.8,427.9 240,425.4 238.3,427.5" fill="#73f21a"/>
<polygon points="275.7,433.5 277.7,435.7 279.6,437.8 281.3,436.8 282.9,435.8 280.9,433.6 279,431.4 277.4,432.4" fill="#17e027"/>
<polygon points="314.5,447.1 316.6,449 318.6,450.9 320.1,450.9 321.6,450.9 319.6,448.9 317.5,446.9 316,447" fill="#02b7ce"/>
<polygon points="243.7,430.4 245.6,432.8 247.5,435.1 249.2,433.2 250.9,431.4 249,429 247.1,426.6 245.4,428.4" fill="#65f01b"/>
<polygon points="282.9,435.8 284.9,437.9 286.8,440 288.5,439.2 290.1,438.4 288.1,436.2 286.1,434 284.5,434.9" fill="#0ede4e"/>
<polygon points="321.6,450.9 323.6,452.8 325.7,454.6 327.2,454.8 328.6,454.9 326.6,453 324.5,451.1 323.1,451" fill="#0c9ccc"/>
<polygon points="250.9,431.4 252.8,433.7 254.7,436 256.4,434.3 258.1,432.6 256.1,430.3 254.2,427.9 252.6,429.6" fill="#52ed1d"/>
<polygon points="290.1,438.4 292,440.4 294,442.5 295.6,441.8 297.2,441.2 295.2,439.1 293.2,437 291.7,437.6" fill="#06dc78"/>
<polygon points="328.6,454.9 330.7,456.8 332.8,458.6 334.2,458.9 335.6,459.2 333.6,457.4 331.5,455.5 330.1,455.2" fill="#1983c9"/>
<polygon points="258.1,432.6 260,434.9 261.9,437.1 263.6,435.6 265.2,434.1 263.3,431.9 261.4,429.5 259.7,431" fill="#39ea1f"/>
<polygon points="297.2,441.2 299.2,443.2 301.2,445.1 302.8,444.6 304.4,444.2 302.4,442.2 300.4,440.1 298.8,440.6" fill="#00d79d"/>
<polygon points="226,433.9 227.9,436.3 229.7,438.7 231.5,436.4 233.2,434 231.3,431.6 229.4,429.1 227.7,431.4" fill="#30ed21"/>
<polygon points="335.6,459.2 337.7,461 339.8,462.7 341.2,463.2 342.6,463.7 340.5,461.9 338.4,460 337,459.6" fill="#316fc3"/>
<polygon points="265.2,434.1 267.2,436.3 269.1,438.5 270.8,437.1 272.4,435.8 270.5,433.6 268.6,431.4 266.9,432.7" fill="#1ce622"/>
<polygon points="304.4,444.2 306.4,446.1 308.4,448.1 310,447.7 311.5,447.4 309.5,445.5 307.5,443.5 305.9,443.8" fill="#00cdb8"/>
<polygon points="233.2,434 235,436.4 236.9,438.8 238.6,436.6 240.3,434.4 238.4,432.1 236.6,429.6 234.9,431.8" fill="#2fed21"/>
<polygon points="342.6,463.7 344.7,465.4 346.8,467.1 348.2,467.7 349.5,468.4 347.4,466.6 345.3,464.8 344,464.2" fill="#485cbd"/>
<polygon points="272.4,435.8 274.4,438 276.4,440.1 278,438.9 279.6,437.8 277.7,435.7 275.7,433.5 274.1,434.6" fill="#13e53d"/>
<polygon points="311.5,447.4 313.5,449.4 315.6,451.2 317.1,451 318.6,450.9 316.6,449 314.5,447.1 313,447.2" fill="#00c2d3"/>
<polygon points="240.3,434.4 242.2,436.8 244.1,439.1 245.8,437.1 247.5,435.1 245.6,432.8 243.7,430.4 242,432.4" fill="#29ec21"/>
<polygon points="279.6,437.8 281.6,439.9 283.6,441.9 285.2,440.9 286.8,440 284.9,437.9 282.9,435.8 281.3,436.8" fill="#0ce35e"/>
<polygon points="318.6,450.9 320.7,452.8 322.7,454.6 324.2,454.6 325.7,454.6 323.6,452.8 321.6,450.9 320.1,450.9" fill="#09a8d1"/>
<polygon points="247.5,435.1 249.4,437.4 251.3,439.6 253,437.8 254.7,436 252.8,433.7 250.9,431.4 249.2,433.2" fill="#1deb23"/>
<polygon points="286.8,440 288.8,442.1 290.8,444 292.4,443.2 294,442.5 292,440.4 290.1,438.4 288.5,439.2" fill="#04e182"/>
<polygon points="325.7,454.6 327.8,456.4 329.9,458.2 331.3,458.4 332.8,458.6 330.7,456.8 328.6,454.9 327.2,454.8" fill="#128fce"/>
<polygon points="254.7,436 256.6,438.2 258.5,440.4 260.2,438.7 261.9,437.1 260,434.9 258.1,432.6 256.4,434.3" fill="#17eb2e"/>
<polygon points="294,442.5 296.1,444.4 298.1,446.4 299.7,445.7 301.2,445.1 299.2,443.2 297.2,441.2 295.6,441.8" fill="#00dca1"/>
<polygon points="222.6,438.9 224.5,441.4 226.3,443.7 228,441.2 229.7,438.7 227.9,436.3 226,433.9 224.3,436.4" fill="#0fed57"/>
<polygon points="332.8,458.6 334.9,460.3 337,462 338.4,462.4 339.8,462.7 337.7,461 335.6,459.2 334.2,458.9" fill="#267ac9"/>
<polygon points="261.9,437.1 263.8,439.3 265.8,441.4 267.5,439.9 269.1,438.5 267.2,436.3 265.2,434.1 263.6,435.6" fill="#13ea41"/>
<polygon points="301.2,445.1 303.3,447.1 305.3,448.9 306.9,448.5 308.4,448.1 306.4,446.1 304.4,444.2 302.8,444.6" fill="#00d2b9"/>
<polygon points="229.7,438.7 231.6,441.1 233.5,443.4 235.2,441.1 236.9,438.8 235,436.4 233.2,434 231.5,436.4" fill="#10ed51"/>
<polygon points="339.8,462.7 341.9,464.4 344,466.1 345.4,466.6 346.8,467.1 344.7,465.4 342.6,463.7 341.2,463.2" fill="#3d66c2"/>
<polygon points="269.1,438.5 271.1,440.6 273,442.6 274.7,441.3 276.4,440.1 274.4,438 272.4,435.8 270.8,437.1" fill="#0ee958"/>
<polygon points="308.4,448.1 310.5,449.9 312.5,451.7 314.1,451.4 315.6,451.2 313.5,449.4 311.5,447.4 310,447.7" fill="#00c8d2"/>
<polygon points="236.9,438.8 238.8,441.1 240.7,443.3 242.4,441.2 244.1,439.1 242.2,436.8 240.3,434.4 238.6,436.6" fill="#10ed50"/>
<polygon points="346.8,467.1 348.9,468.8 351.1,470.4 352.4,471 353.8,471.7 351.7,470.1 349.5,468.4 348.2,467.7" fill="#515bbc"/>
<polygon points="276.4,440.1 278.3,442.1 280.3,444.1 282,443 283.6,441.9 281.6,439.9 279.6,437.8 278,438.9" fill="#08e872"/>
<polygon points="315.6,451.2 317.7,453 319.7,454.8 321.2,454.7 322.7,454.6 320.7,452.8 318.6,450.9 317.1,451" fill="#06b3d5"/>
<polygon points="244.1,439.1 246,441.3 247.9,443.5 249.6,441.5 251.3,439.6 249.4,437.4 247.5,435.1 245.8,437.1" fill="#0fed53"/>
<polygon points="283.6,441.9 285.6,443.9 287.6,445.9 289.2,444.9 290.8,444 288.8,442.1 286.8,440 285.2,440.9" fill="#02e691"/>
<polygon points="322.7,454.6 324.8,456.3 326.9,458 328.4,458.1 329.9,458.2 327.8,456.4 325.7,454.6 324.2,454.6" fill="#0f9bd3"/>
<polygon points="251.3,439.6 253.2,441.8 255.1,443.9 256.8,442.1 258.5,440.4 256.6,438.2 254.7,436 253,437.8" fill="#0eed5b"/>
<polygon points="290.8,444 292.8,446 294.9,447.8 296.5,447.1 298.1,446.4 296.1,444.4 294,442.5 292.4,443.2" fill="#00e0a8"/>
<polygon points="219.2,444.3 221,446.7 222.9,449 224.6,446.3 226.3,443.7 224.5,441.4 222.6,438.9 220.9,441.6" fill="#00efa3"/>
<polygon points="329.9,458.2 332,459.9 334.1,461.5 335.5,461.8 337,462 334.9,460.3 332.8,458.6 331.3,458.4" fill="#1c84ce"/>
<polygon points="258.5,440.4 260.5,442.5 262.4,444.6 264.1,442.9 265.8,441.4 263.8,439.3 261.9,437.1 260.2,438.7" fill="#0bee67"/>
<polygon points="298.1,446.4 300.1,448.2 302.1,450.1 303.7,449.5 305.3,448.9 303.3,447.1 301.2,445.1 299.7,445.7" fill="#00d8bc"/>
<polygon points="226.3,443.7 228.2,446 230,448.3 231.8,445.8 233.5,443.4 231.6,441.1 229.7,438.7 228,441.2" fill="#02f098"/>
<polygon points="337,462 339.1,463.7 341.2,465.3 342.6,465.6 344,466.1 341.9,464.4 339.8,462.7 338.4,462.4" fill="#3272c8"/>
<polygon points="265.8,441.4 267.7,443.4 269.7,445.4 271.4,444 273,442.6 271.1,440.6 269.1,438.5 267.5,439.9" fill="#08ee78"/>
<polygon points="305.3,448.9 307.3,450.7 309.4,452.5 311,452.1 312.5,451.7 310.5,449.9 308.4,448.1 306.9,448.5" fill="#00ced2"/>
<polygon points="233.5,443.4 235.3,445.7 237.2,447.9 238.9,445.6 240.7,443.3 238.8,441.1 236.9,438.8 235.2,441.1" fill="#03ef90"/>
<polygon points="344,466.1 346.2,467.7 348.3,469.2 349.7,469.8 351.1,470.4 348.9,468.8 346.8,467.1 345.4,466.6" fill="#475fc1"/>
<polygon points="273,442.6 275,444.6 277,446.6 278.7,445.3 280.3,444.1 278.3,442.1 276.4,440.1 274.7,441.3" fill="#04ed8c"/>
<polygon points="312.5,451.7 314.6,453.5 316.7,455.2 318.2,455 319.7,454.8 317.7,453 315.6,451.2 314.1,451.4" fill="#04bdda"/>
<polygon points="240.7,443.3 242.6,445.5 244.5,447.7 246.2,445.6 247.9,443.5 246,441.3 244.1,439.1 242.4,441.2" fill="#04ef8c"/>
<polygon points="351.1,470.4 353.3,471.9 355.4,473.4 356.8,474.1 358.1,474.8 355.9,473.3 353.8,471.7 352.4,471" fill="#5859bb"/>
<polygon points="280.3,444.1 282.3,446.1 284.3,448 285.9,446.9 287.6,445.9 285.6,443.9 283.6,441.9 282,443" fill="#00eaa1"/>
<polygon points="319.7,454.8 321.8,456.5 323.9,458.1 325.4,458.1 326.9,458 324.8,456.3 322.7,454.6 321.2,454.7" fill="#0ca6d7"/>
<polygon points="247.9,443.5 249.8,445.6 251.7,447.7 253.4,445.8 255.1,443.9 253.2,441.8 251.3,439.6 249.6,441.5" fill="#04ef8d"/>
<polygon points="287.6,445.9 289.6,447.7 291.6,449.6 293.2,448.7 294.9,447.8 292.8,446 290.8,444 289.2,444.9" fill="#00e4b1"/>
<polygon points="215.7,449.9 217.6,452.2 219.4,454.5 221.1,451.7 222.9,449 221,446.7 219.2,444.3 217.5,447.1" fill="#00e7d6"/>
<polygon points="326.9,458 329,459.7 331.1,461.3 332.6,461.4 334.1,461.5 332,459.9 329.9,458.2 328.4,458.1" fill="#148fd4"/>
<polygon points="255.1,443.9 257.1,446 259,448 260.7,446.2 262.4,444.6 260.5,442.5 258.5,440.4 256.8,442.1" fill="#03ef92"/>
<polygon points="294.9,447.8 296.9,449.7 298.9,451.4 300.5,450.7 302.1,450.1 300.1,448.2 298.1,446.4 296.5,447.1" fill="#00dcc3"/>
<polygon points="222.9,449 224.7,451.3 226.6,453.5 228.3,450.9 230,448.3 228.2,446 226.3,443.7 224.6,446.3" fill="#00e9c9"/>
<polygon points="334.1,461.5 336.2,463.1 338.4,464.7 339.8,464.9 341.2,465.3 339.1,463.7 337,462 335.5,461.8" fill="#287dce"/>
<polygon points="262.4,444.6 264.4,446.6 266.3,448.5 268,447 269.7,445.4 267.7,443.4 265.8,441.4 264.1,442.9" fill="#01f09c"/>
<polygon points="302.1,450.1 304.2,451.8 306.3,453.5 307.8,453 309.4,452.5 307.3,450.7 305.3,448.9 303.7,449.5" fill="#00d4d5"/>
<polygon points="230,448.3 231.9,450.5 233.8,452.7 235.5,450.2 237.2,447.9 235.3,445.7 233.5,443.4 231.8,445.8" fill="#00eac0"/>
<polygon points="341.2,465.3 343.4,466.8 345.5,468.3 347,468.7 348.3,469.2 346.2,467.7 344,466.1 342.6,465.6" fill="#3c6bc7"/>
<polygon points="269.7,445.4 271.7,447.4 273.6,449.3 275.3,447.9 277,446.6 275,444.6 273,442.6 271.4,444" fill="#00efa6"/>
<polygon points="309.4,452.5 311.5,454.2 313.6,455.9 315.1,455.5 316.7,455.2 314.6,453.5 312.5,451.7 311,452.1" fill="#03c6df"/>
<polygon points="237.2,447.9 239.1,450 241,452.1 242.7,449.9 244.5,447.7 242.6,445.5 240.7,443.3 238.9,445.6" fill="#00ecb9"/>
<polygon points="348.3,469.2 350.5,470.7 352.7,472.1 354.1,472.7 355.4,473.4 353.3,471.9 351.1,470.4 349.7,469.8" fill="#4e5dc0"/>
<polygon points="277,446.6 279,448.5 281,450.3 282.6,449.1 284.3,448 282.3,446.1 280.3,444.1 278.7,445.3" fill="#00ecb1"/>
<polygon points="316.7,455.2 318.8,456.9 320.9,458.4 322.4,458.3 323.9,458.1 321.8,456.5 319.7,454.8 318.2,455" fill="#0ab1dc"/>
<polygon points="244.5,447.7 246.4,449.8 248.3,451.8 250,449.7 251.7,447.7 249.8,445.6 247.9,443.5 246.2,445.6" fill="#00ecb5"/>
<polygon points="284.3,448 286.3,449.8 288.3,451.6 290,450.5 291.6,449.6 289.6,447.7 287.6,445.9 285.9,446.9" fill="#00e6bd"/>
<polygon points="323.9,458.1 326,459.7 328.2,461.3 329.7,461.2 331.1,461.3 329,459.7 326.9,458 325.4,458.1" fill="#119bd9"/>
<polygon points="251.7,447.7 253.6,449.7 255.6,451.7 257.3,449.8 259,448 257.1,446 255.1,443.9 253.4,445.8" fill="#00ecb4"/>
<polygon points="291.6,449.6 293.7,451.3 295.7,453.1 297.3,452.2 298.9,451.4 296.9,449.7 294.9,447.8 293.2,448.7" fill="#00e0cb"/>
<polygon points="219.4,454.5 221.3,456.7 223.1,458.9 224.8,456.2 226.6,453.5 224.7,451.3 222.9,449 221.1,451.7" fill="#01def6"/>
<polygon points="331.1,461.3 333.3,462.8 335.4,464.3 336.9,464.5 338.4,464.7 336.2,463.1 334.1,461.5 332.6,461.4" fill="#1e87d4"/>
<polygon points="259,448 261,450 262.9,451.9 264.6,450.2 266.3,448.5 264.4,446.6 262.4,444.6 260.7,446.2" fill="#00ecb6"/>
<polygon points="298.9,451.4 301,453.1 303.1,454.8 304.7,454.1 306.3,453.5 304.2,451.8 302.1,450.1 300.5,450.7" fill="#00d8db"/>
<polygon points="226.6,453.5 228.4,455.6 230.3,457.8 232,455.2 233.8,452.7 231.9,450.5 230,448.3 228.3,450.9" fill="#00e2ed"/>
<polygon points="338.4,464.7 340.5,466.2 342.7,467.6 344.1,467.9 345.5,468.3 343.4,466.8 341.2,465.3 339.8,464.9" fill="#3176cd"/>
<polygon points="266.3,448.5 268.3,450.4 270.3,452.3 272,450.8 273.6,449.3 271.7,447.4 269.7,445.4 268,447" fill="#00ebbb"/>
<polygon points="306.3,453.5 308.3,455.2 310.4,456.8 312,456.3 313.6,455.9 311.5,454.2 309.4,452.5 307.8,453" fill="#02cde5"/>
<polygon points="233.8,452.7 235.7,454.8 237.6,456.8 239.3,454.4 241,452.1 239.1,450 237.2,447.9 235.5,450.2" fill="#00e4e2"/>
<polygon points="345.5,468.3 347.7,469.7 349.9,471.1 351.3,471.6 352.7,472.1 350.5,470.7 348.3,469.2 347,468.7" fill="#4464c6"/>
<polygon points="273.6,449.3 275.6,451.1 277.6,452.9 279.3,451.6 281,450.3 279,448.5 277,446.6 275.3,447.9" fill="#00eac2"/>
<polygon points="313.6,455.9 315.7,457.5 317.8,459 319.3,458.7 320.9,458.4 318.8,456.9 316.7,455.2 315.1,455.5" fill="#08bae1"/>
<polygon points="241,452.1 242.9,454.2 244.8,456.2 246.6,453.9 248.3,451.8 246.4,449.8 244.5,447.7 242.7,449.9" fill="#00e6da"/>
<polygon points="281,450.3 283,452.1 285,453.8 286.7,452.7 288.3,451.6 286.3,449.8 284.3,448 282.6,449.1" fill="#00e8cd"/>
<polygon points="320.9,458.4 323,460 325.1,461.5 326.7,461.3 328.2,461.3 326,459.7 323.9,458.1 322.4,458.3" fill="#0fa6de"/>
<polygon points="248.3,451.8 250.2,453.8 252.1,455.7 253.9,453.7 255.6,451.7 253.6,449.7 251.7,447.7 250,449.7" fill="#00e7d4"/>
<polygon points="288.3,451.6 290.4,453.3 292.4,455 294.1,454 295.7,453.1 293.7,451.3 291.6,449.6 290,450.5" fill="#00e3d7"/>
<polygon points="328.2,461.3 330.3,462.8 332.5,464.2 334,464.2 335.4,464.3 333.3,462.8 331.1,461.3 329.7,461.2" fill="#1691da"/>
<polygon points="255.6,451.7 257.5,453.6 259.5,455.5 261.2,453.7 262.9,451.9 261,450 259,448 257.3,449.8" fill="#00e7d2"/>
<polygon points="295.7,453.1 297.8,454.7 299.8,456.4 301.5,455.6 303.1,454.8 301,453.1 298.9,451.4 297.3,452.2" fill="#00dce3"/>
<polygon points="223.1,458.9 225,461 226.8,463.1 228.6,460.4 230.3,457.8 228.4,455.6 226.6,453.5 224.8,456.2" fill="#0bcaf9"/>
<polygon points="335.4,464.3 337.6,465.7 339.8,467.1 341.3,467.3 342.7,467.6 340.5,466.2 338.4,464.7 336.9,464.5" fill="#2880d3"/>
<polygon points="262.9,451.9 264.9,453.7 266.9,455.6 268.6,453.9 270.3,452.3 268.3,450.4 266.3,448.5 264.6,450.2" fill="#00e7d2"/>
<polygon points="303.1,454.8 305.1,456.4 307.2,458 308.8,457.4 310.4,456.8 308.3,455.2 306.3,453.5 304.7,454.1" fill="#02d2ea"/>
<polygon points="230.3,457.8 232.2,459.8 234.1,461.8 235.8,459.3 237.6,456.8 235.7,454.8 233.8,452.7 232,455.2" fill="#07d3f8"/>
<polygon points="342.7,467.6 344.9,469 347.1,470.3 348.5,470.7 349.9,471.1 347.7,469.7 345.5,468.3 344.1,467.9" fill="#3970cc"/>
<polygon points="270.3,452.3 272.3,454.1 274.3,455.8 276,454.4 277.6,452.9 275.6,451.1 273.6,449.3 272,450.8" fill="#00e7d5"/>
<polygon points="310.4,456.8 312.5,458.3 314.6,459.8 316.2,459.4 317.8,459 315.7,457.5 313.6,455.9 312,456.3" fill="#07c1e7"/>
<polygon points="237.6,456.8 239.5,458.8 241.4,460.8 243.1,458.4 244.8,456.2 242.9,454.2 241,452.1 239.3,454.4" fill="#03daf6"/>
<polygon points="277.6,452.9 279.7,454.7 281.7,456.4 283.4,455.1 285,453.8 283,452.1 281,450.3 279.3,451.6" fill="#00e6db"/>
<polygon points="317.8,459 319.9,460.5 322.1,462 323.6,461.7 325.1,461.5 323,460 320.9,458.4 319.3,458.7" fill="#0dafe3"/>
<polygon points="244.8,456.2 246.8,458.1 248.7,460 250.4,457.8 252.1,455.7 250.2,453.8 248.3,451.8 246.6,453.9" fill="#01e0f5"/>
<polygon points="285,453.8 287.1,455.5 289.1,457.1 290.8,456 292.4,455 290.4,453.3 288.3,451.6 286.7,452.7" fill="#00e4e4"/>
<polygon points="325.1,461.5 327.3,462.9 329.5,464.3 331,464.2 332.5,464.2 330.3,462.8 328.2,461.3 326.7,461.3" fill="#139cdf"/>
<polygon points="252.1,455.7 254.1,457.6 256,459.4 257.8,457.4 259.5,455.5 257.5,453.6 255.6,451.7 253.9,453.7" fill="#00e2f1"/>
<polygon points="292.4,455 294.5,456.6 296.6,458.2 298.2,457.2 299.8,456.4 297.8,454.7 295.7,453.1 294.1,454" fill="#00e0ed"/>
<polygon points="332.5,464.2 334.6,465.6 336.8,466.9 338.3,467 339.8,467.1 337.6,465.7 335.4,464.3 334,464.2" fill="#1f8ad9"/>
<polygon points="259.5,455.5 261.5,457.3 263.4,459.1 265.2,457.3 266.9,455.6 264.9,453.7 262.9,451.9 261.2,453.7" fill="#00e2ed"/>
<polygon points="299.8,456.4 301.9,457.9 304,459.4 305.6,458.7 307.2,458 305.1,456.4 303.1,454.8 301.5,455.6" fill="#02d6ef"/>
<polygon points="226.8,463.1 228.7,465.1 230.6,467.1 232.3,464.4 234.1,461.8 232.2,459.8 230.3,457.8 228.6,460.4" fill="#13b7fd"/>
<polygon points="339.8,467.1 342,468.5 344.2,469.7 345.7,470 347.1,470.3 344.9,469 342.7,467.6 341.3,467.3" fill="#2f7bd2"/>
<polygon points="266.9,455.6 268.9,457.3 270.9,459 272.6,457.4 274.3,455.8 272.3,454.1 270.3,452.3 268.6,453.9" fill="#00e3eb"/>
<polygon points="307.2,458 309.3,459.5 311.5,460.9 313.1,460.4 314.6,459.8 312.5,458.3 310.4,456.8 308.8,457.4" fill="#07c7ec"/>
<polygon points="234.1,461.8 236,463.8 237.9,465.7 239.6,463.2 241.4,460.8 239.5,458.8 237.6,456.8 235.8,459.3" fill="#0fc1fb"/>
<polygon points="274.3,455.8 276.3,457.5 278.3,459.2 280,457.7 281.7,456.4 279.7,454.7 277.6,452.9 276,454.4" fill="#00e2ed"/>
<polygon points="314.6,459.8 316.8,461.3 318.9,462.7 320.5,462.3 322.1,462 319.9,460.5 317.8,459 316.2,459.4" fill="#0cb7e8"/>
<polygon points="241.4,460.8 243.3,462.7 245.2,464.5 246.9,462.2 248.7,460 246.8,458.1 244.8,456.2 243.1,458.4" fill="#0bc9f9"/>
<polygon points="281.7,456.4 283.7,458 285.8,459.6 287.4,458.3 289.1,457.1 287.1,455.5 285,453.8 283.4,455.1" fill="#00e2f2"/>
<polygon points="322.1,462 324.2,463.3 326.4,464.7 327.9,464.5 329.5,464.3 327.3,462.9 325.1,461.5 323.6,461.7" fill="#11a6e4"/>
<polygon points="248.7,460 250.6,461.8 252.6,463.6 254.3,461.5 256,459.4 254.1,457.6 252.1,455.7 250.4,457.8" fill="#08d0f8"/>
<polygon points="289.1,457.1 291.2,458.7 293.2,460.2 294.9,459.2 296.6,458.2 294.5,456.6 292.4,455 290.8,456" fill="#01dff5"/>
<polygon points="329.5,464.3 331.6,465.6 333.8,466.9 335.3,466.9 336.8,466.9 334.6,465.6 332.5,464.2 331,464.2" fill="#1794df"/>
<polygon points="256,459.4 258,461.2 260,462.9 261.7,461 263.4,459.1 261.5,457.3 259.5,455.5 257.8,457.4" fill="#06d5f7"/>
<polygon points="296.6,458.2 298.6,459.7 300.7,461.1 302.4,460.2 304,459.4 301.9,457.9 299.8,456.4 298.2,457.2" fill="#04d7f5"/>
<polygon points="336.8,466.9 339.1,468.2 341.3,469.4 342.8,469.5 344.2,469.7 342,468.5 339.8,467.1 338.3,467" fill="#2685d8"/>
<polygon points="263.4,459.1 265.4,460.8 267.4,462.5 269.1,460.7 270.9,459 268.9,457.3 266.9,455.6 265.2,457.3" fill="#04d8f7"/>
<polygon points="304,459.4 306.1,460.9 308.3,462.3 309.9,461.6 311.5,460.9 309.3,459.5 307.2,458 305.6,458.7" fill="#07ccf1"/>
<polygon points="230.6,467.1 232.5,469 234.4,470.9 236.1,468.3 237.9,465.7 236,463.8 234.1,461.8 232.3,464.4" fill="#1da7ff"/>
<polygon points="270.9,459 272.9,460.7 274.9,462.3 276.6,460.7 278.3,459.2 276.3,457.5 274.3,455.8 272.6,457.4" fill="#03daf6"/>
<polygon points="311.5,460.9 313.6,462.3 315.8,463.7 317.4,463.1 318.9,462.7 316.8,461.3 314.6,459.8 313.1,460.4" fill="#0bbeed"/>
<polygon points="237.9,465.7 239.8,467.6 241.7,469.4 243.5,466.9 245.2,464.5 243.3,462.7 241.4,460.8 239.6,463.2" fill="#16b1fe"/>
<polygon points="278.3,459.2 280.3,460.8 282.4,462.3 284.1,460.9 285.8,459.6 283.7,458 281.7,456.4 280,457.7" fill="#03d9f6"/>
<polygon points="318.9,462.7 321.1,464 323.3,465.3 324.8,465 326.4,464.7 324.2,463.3 322.1,462 320.5,462.3" fill="#0fafe9"/>
<polygon points="245.2,464.5 247.1,466.3 249.1,468.1 250.8,465.8 252.6,463.6 250.6,461.8 248.7,460 246.9,462.2" fill="#12bafc"/>
<polygon points="285.8,459.6 287.8,461.1 289.9,462.6 291.6,461.4 293.2,460.2 291.2,458.7 289.1,457.1 287.4,458.3" fill="#04d8f7"/>
<polygon points="326.4,464.7 328.6,465.9 330.8,467.2 332.3,467 333.8,466.9 331.6,465.6 329.5,464.3 327.9,464.5" fill="#149ee4"/>
<polygon points="252.6,463.6 254.5,465.3 256.5,467 258.2,464.9 260,462.9 258,461.2 256,459.4 254.3,461.5" fill="#0ec2fb"/>
<polygon points="293.2,460.2 295.3,461.7 297.4,463.1 299.1,462.1 300.7,461.1 298.6,459.7 296.6,458.2 294.9,459.2" fill="#06d4f7"/>
<polygon points="333.8,466.9 336.1,468.1 338.3,469.3 339.8,469.3 341.3,469.4 339.1,468.2 336.8,466.9 335.3,466.9" fill="#1d8fde"/>
<polygon points="260,462.9 262,464.6 264,466.2 265.7,464.3 267.4,462.5 265.4,460.8 263.4,459.1 261.7,461" fill="#0cc8fa"/>
<polygon points="300.7,461.1 302.9,462.5 305,463.9 306.6,463 308.3,462.3 306.1,460.9 304,459.4 302.4,460.2" fill="#08cef7"/>
<polygon points="267.4,462.5 269.4,464.1 271.4,465.6 273.2,463.9 274.9,462.3 272.9,460.7 270.9,459 269.1,460.7" fill="#0accf9"/>
<polygon points="308.3,462.3 310.4,463.6 312.5,464.9 314.2,464.2 315.8,463.7 313.6,462.3 311.5,460.9 309.9,461.6" fill="#0bc3f3"/>
<polygon points="234.4,470.9 236.3,472.7 238.2,474.5 240,471.9 241.7,469.4 239.8,467.6 237.9,465.7 236.1,468.3" fill="#2d9dff"/>
<polygon points="274.9,462.3 276.9,463.8 279,465.3 280.7,463.7 282.4,462.3 280.3,460.8 278.3,459.2 276.6,460.7" fill="#09cef8"/>
<polygon points="315.8,463.7 317.9,464.9 320.1,466.2 321.7,465.7 323.3,465.3 321.1,464 318.9,462.7 317.4,463.1" fill="#0eb6ee"/>
<polygon points="241.7,469.4 243.6,471.1 245.6,472.8 247.3,470.4 249.1,468.1 247.1,466.3 245.2,464.5 243.5,466.9" fill="#20a5ff"/>
<polygon points="282.4,462.3 284.4,463.8 286.5,465.2 288.2,463.8 289.9,462.6 287.8,461.1 285.8,459.6 284.1,460.9" fill="#08cff8"/>
<polygon points="323.3,465.3 325.5,466.5 327.7,467.7 329.2,467.4 330.8,467.2 328.6,465.9 326.4,464.7 324.8,465" fill="#12a8e9"/>
<polygon points="249.1,468.1 251,469.7 253,471.4 254.8,469.2 256.5,467 254.5,465.3 252.6,463.6 250.8,465.8" fill="#18adfe"/>
<polygon points="289.9,462.6 292,464 294.1,465.3 295.8,464.2 297.4,463.1 295.3,461.7 293.2,460.2 291.6,461.4" fill="#09cef8"/>
<polygon points="330.8,467.2 333,468.3 335.3,469.4 336.8,469.3 338.3,469.3 336.1,468.1 333.8,466.9 332.3,467" fill="#1698e4"/>
<polygon points="256.5,467 258.5,468.6 260.5,470.2 262.2,468.2 264,466.2 262,464.6 260,462.9 258.2,464.9" fill="#14b6fd"/>
<polygon points="297.4,463.1 299.6,464.4 301.7,465.7 303.3,464.8 305,463.9 302.9,462.5 300.7,461.1 299.1,462.1" fill="#0accf9"/>
<polygon points="264,466.2 266,467.7 268,469.2 269.7,467.4 271.4,465.6 269.4,464.1 267.4,462.5 265.7,464.3" fill="#11bcfc"/>
<polygon points="305,463.9 307.1,465.2 309.3,466.4 310.9,465.6 312.5,464.9 310.4,463.6 308.3,462.3 306.6,463" fill="#0cc6f8"/>
<polygon points="271.4,465.6 273.5,467.1 275.5,468.5 277.3,466.9 279,465.3 276.9,463.8 274.9,462.3 273.2,463.9" fill="#0ec1fb"/>
<polygon points="312.5,464.9 314.7,466.1 316.9,467.3 318.5,466.7 320.1,466.2 317.9,464.9 315.8,463.7 314.2,464.2" fill="#0ebcf4"/>
<polygon points="238.2,474.5 240.1,476.2 242,477.8 243.8,475.3 245.6,472.8 243.6,471.1 241.7,469.4 240,471.9" fill="#3c94ff"/>
<polygon points="279,465.3 281,466.7 283.1,468.1 284.8,466.6 286.5,465.2 284.4,463.8 282.4,462.3 280.7,463.7" fill="#0dc5fa"/>
<polygon points="320.1,466.2 322.3,467.3 324.5,468.4 326.1,468 327.7,467.7 325.5,466.5 323.3,465.3 321.7,465.7" fill="#11b0ef"/>
<polygon points="245.6,472.8 247.5,474.4 249.5,476 251.2,473.7 253,471.4 251,469.7 249.1,468.1 247.3,470.4" fill="#2e9dff"/>
<polygon points="286.5,465.2 288.6,466.5 290.7,467.9 292.4,466.6 294.1,465.3 292,464 289.9,462.6 288.2,463.8" fill="#0cc6fa"/>
<polygon points="327.7,467.7 329.9,468.8 332.2,469.8 333.7,469.6 335.3,469.4 333,468.3 330.8,467.2 329.2,467.4" fill="#14a2e9"/>
<polygon points="253,471.4 255,473 257,474.5 258.7,472.3 260.5,470.2 258.5,468.6 256.5,467 254.8,469.2" fill="#22a4ff"/>
<polygon points="294.1,465.3 296.2,466.6 298.3,467.9 300,466.8 301.7,465.7 299.6,464.4 297.4,463.1 295.8,464.2" fill="#0cc6fa"/>
<polygon points="260.5,470.2 262.5,471.7 264.5,473.2 266.2,471.2 268,469.2 266,467.7 264,466.2 262.2,468.2" fill="#19abff"/>
<polygon points="301.7,465.7 303.8,467 306,468.2 307.6,467.2 309.3,466.4 307.1,465.2 305,463.9 303.3,464.8" fill="#0dc5fa"/>
<polygon points="268,469.2 270,470.7 272.1,472.1 273.8,470.3 275.5,468.5 273.5,467.1 271.4,465.6 269.7,467.4" fill="#15b3fd"/>
<polygon points="309.3,466.4 311.5,467.6 313.7,468.7 315.3,468 316.9,467.3 314.7,466.1 312.5,464.9 310.9,465.6" fill="#0ec0f9"/>
<polygon points="275.5,468.5 277.6,469.9 279.7,471.2 281.4,469.6 283.1,468.1 281,466.7 279,465.3 277.3,466.9" fill="#12b8fc"/>
<polygon points="316.9,467.3 319.1,468.4 321.3,469.5 322.9,468.9 324.5,468.4 322.3,467.3 320.1,466.2 318.5,466.7" fill="#10b7f4"/>
<polygon points="242,477.8 244,479.4 245.9,481 247.7,478.5 249.5,476 247.5,474.4 245.6,472.8 243.8,475.3" fill="#488cff"/>
<polygon points="283.1,468.1 285.2,469.4 287.3,470.7 289,469.2 290.7,467.9 288.6,466.5 286.5,465.2 284.8,466.6" fill="#10bdfc"/>
<polygon points="324.5,468.4 326.8,469.5 329,470.5 330.6,470.1 332.2,469.8 329.9,468.8 327.7,467.7 326.1,468" fill="#13abee"/>
<polygon points="249.5,476 251.4,477.6 253.4,479 255.2,476.7 257,474.5 255,473 253,471.4 251.2,473.7" fill="#3995ff"/>
<polygon points="290.7,467.9 292.8,469.1 295,470.3 296.7,469.1 298.3,467.9 296.2,466.6 294.1,465.3 292.4,466.6" fill="#0fbffb"/>
<polygon points="257,474.5 259,475.9 261,477.4 262.7,475.2 264.5,473.2 262.5,471.7 260.5,470.2 258.7,472.3" fill="#2c9dff"/>
<polygon points="298.3,467.9 300.5,469.1 302.6,470.2 304.3,469.2 306,468.2 303.8,467 301.7,465.7 300,466.8" fill="#0fc0fb"/>
<polygon points="264.5,473.2 266.5,474.6 268.5,475.9 270.3,474 272.1,472.1 270,470.7 268,469.2 266.2,471.2" fill="#21a5ff"/>
<polygon points="306,468.2 308.2,469.3 310.4,470.4 312,469.5 313.7,468.7 311.5,467.6 309.3,466.4 307.6,467.2" fill="#0fbffb"/>
<polygon points="272.1,472.1 274.1,473.4 276.2,474.7 277.9,472.9 279.7,471.2 277.6,469.9 275.5,468.5 273.8,470.3" fill="#19abff"/>
<polygon points="313.7,468.7 315.9,469.8 318.1,470.8 319.7,470.1 321.3,469.5 319.1,468.4 316.9,467.3 315.3,468" fill="#10bbf9"/>
<polygon points="279.7,471.2 281.7,472.5 283.8,473.7 285.6,472.2 287.3,470.7 285.2,469.4 283.1,468.1 281.4,469.6" fill="#16b1fe"/>
<polygon points="321.3,469.5 323.6,470.5 325.8,471.4 327.4,470.9 329,470.5 326.8,469.5 324.5,468.4 322.9,468.9" fill="#12b3f4"/>
<polygon points="245.9,481 247.9,482.5 249.9,483.9 251.7,481.4 253.4,479 251.4,477.6 249.5,476 247.7,478.5" fill="#5385ff"/>
<polygon points="287.3,470.7 289.4,471.9 291.5,473 293.3,471.6 295,470.3 292.8,469.1 290.7,467.9 289,469.2" fill="#13b7fd"/>
<polygon points="253.4,479 255.4,480.5 257.4,481.8 259.2,479.6 261,477.4 259,475.9 257,474.5 255.2,476.7" fill="#438fff"/>
<polygon points="295,470.3 297.1,471.4 299.3,472.5 301,471.3 302.6,470.2 300.5,469.1 298.3,467.9 296.7,469.1" fill="#12bafc"/>
<polygon points="261,477.4 263,478.7 265,480 266.8,477.9 268.5,475.9 266.5,474.6 264.5,473.2 262.7,475.2" fill="#3598ff"/>
<polygon points="302.6,470.2 304.8,471.3 307,472.3 308.7,471.3 310.4,470.4 308.2,469.3 306,468.2 304.3,469.2" fill="#11bcfc"/>
<polygon points="268.5,475.9 270.6,477.2 272.7,478.4 274.4,476.5 276.2,474.7 274.1,473.4 272.1,472.1 270.3,474" fill="#29a0ff"/>
<polygon points="310.4,470.4 312.6,471.4 314.8,472.3 316.5,471.5 318.1,470.8 315.9,469.8 313.7,468.7 312,469.5" fill="#11bcfc"/>
<polygon points="276.2,474.7 278.3,475.9 280.4,477.1 282.1,475.4 283.8,473.7 281.7,472.5 279.7,471.2 277.9,472.9" fill="#1fa6ff"/>
<polygon points="318.1,470.8 320.3,471.7 322.6,472.6 324.2,472 325.8,471.4 323.6,470.5 321.3,469.5 319.7,470.1" fill="#11b8f9"/>
<polygon points="283.8,473.7 286,474.9 288.1,476 289.8,474.5 291.5,473 289.4,471.9 287.3,470.7 285.6,472.2" fill="#18acff"/>
<polygon points="249.9,483.9 251.9,485.3 253.9,486.6 255.6,484.2 257.4,481.8 255.4,480.5 253.4,479 251.7,481.4" fill="#5b7fff"/>
<polygon points="291.5,473 293.7,474.1 295.8,475.1 297.6,473.8 299.3,472.5 297.1,471.4 295,470.3 293.3,471.6" fill="#15b2fe"/>
<polygon points="257.4,481.8 259.4,483.1 261.5,484.4 263.2,482.2 265,480 263,478.7 261,477.4 259.2,479.6" fill="#4b8aff"/>
<polygon points="299.3,472.5 301.4,473.6 303.6,474.5 305.3,473.4 307,472.3 304.8,471.3 302.6,470.2 301,471.3" fill="#13b7fd"/>
<polygon points="265,480 267.1,481.3 269.1,482.4 270.9,480.4 272.7,478.4 270.6,477.2 268.5,475.9 266.8,477.9" fill="#3c94ff"/>
<polygon points="307,472.3 309.2,473.3 311.5,474.2 313.1,473.2 314.8,472.3 312.6,471.4 310.4,470.4 308.7,471.3" fill="#12b9fc"/>
<polygon points="272.7,478.4 274.7,479.6 276.8,480.7 278.6,478.9 280.4,477.1 278.3,475.9 276.2,474.7 274.4,476.5" fill="#2f9cff"/>
<polygon points="314.8,472.3 317,473.2 319.3,474.1 321,473.3 322.6,472.6 320.3,471.7 318.1,470.8 316.5,471.5" fill="#12bafc"/>
<polygon points="280.4,477.1 282.5,478.2 284.6,479.2 286.3,477.6 288.1,476 286,474.9 283.8,473.7 282.1,475.4" fill="#24a3ff"/>
<polygon points="288.1,476 290.2,477 292.4,478 294.1,476.5 295.8,475.1 293.7,474.1 291.5,473 289.8,474.5" fill="#1aa9ff"/>
<polygon points="253.9,486.6 255.9,487.9 257.9,489.1 259.7,486.7 261.5,484.4 259.4,483.1 257.4,481.8 255.6,484.2" fill="#617dff"/>
<polygon points="295.8,475.1 298,476.1 300.2,477 301.9,475.7 303.6,474.5 301.4,473.6 299.3,472.5 297.6,473.8" fill="#16b0fe"/>
<polygon points="261.5,484.4 263.5,485.6 265.6,486.7 267.3,484.6 269.1,482.4 267.1,481.3 265,480 263.2,482.2" fill="#5086ff"/>
<polygon points="303.6,474.5 305.9,475.4 308.1,476.3 309.8,475.2 311.5,474.2 309.2,473.3 307,472.3 305.3,473.4" fill="#14b5fd"/>
<polygon points="269.1,482.4 271.2,483.6 273.3,484.7 275.1,482.7 276.8,480.7 274.7,479.6 272.7,478.4 270.9,480.4" fill="#4191ff"/>
<polygon points="311.5,474.2 313.7,475 316,475.8 317.7,474.9 319.3,474.1 317,473.2 314.8,472.3 313.1,473.2" fill="#12b8fc"/>
<polygon points="276.8,480.7 278.9,481.8 281.1,482.8 282.8,481 284.6,479.2 282.5,478.2 280.4,477.1 278.6,478.9" fill="#3399ff"/>
<polygon points="284.6,479.2 286.7,480.2 288.9,481.2 290.6,479.6 292.4,478 290.2,477 288.1,476 286.3,477.6" fill="#27a1ff"/>
<polygon points="292.4,478 294.6,478.9 296.8,479.8 298.5,478.4 300.2,477 298,476.1 295.8,475.1 294.1,476.5" fill="#1ca8ff"/>
<polygon points="257.9,489.1 259.9,490.2 262,491.3 263.8,489 265.6,486.7 263.5,485.6 261.5,484.4 259.7,486.7" fill="#657cff"/>
<polygon points="300.2,477 302.4,477.9 304.7,478.7 306.4,477.4 308.1,476.3 305.9,475.4 303.6,474.5 301.9,475.7" fill="#17affe"/>
<polygon points="265.6,486.7 267.6,487.8 269.7,488.9 271.5,486.7 273.3,484.7 271.2,483.6 269.1,482.4 267.3,484.6" fill="#5484ff"/>
<polygon points="308.1,476.3 310.3,477.1 312.6,477.8 314.3,476.7 316,475.8 313.7,475 311.5,474.2 309.8,475.2" fill="#14b5fd"/>
<polygon points="273.3,484.7 275.4,485.7 277.5,486.6 279.3,484.7 281.1,482.8 278.9,481.8 276.8,480.7 275.1,482.7" fill="#448fff"/>
<polygon points="281.1,482.8 283.2,483.7 285.4,484.6 287.1,482.9 288.9,481.2 286.7,480.2 284.6,479.2 282.8,481" fill="#3598ff"/>
<polygon points="288.9,481.2 291.1,482 293.3,482.9 295,481.3 296.8,479.8 294.6,478.9 292.4,478 290.6,479.6" fill="#28a1ff"/>
<polygon points="296.8,479.8 299,480.6 301.2,481.3 302.9,480 304.7,478.7 302.4,477.9 300.2,477 298.5,478.4" fill="#1ca8ff"/>
<polygon points="262,491.3 264,492.4 266.1,493.4 267.9,491.1 269.7,488.9 267.6,487.8 265.6,486.7 263.8,489" fill="#687cff"/>
<polygon points="304.7,478.7 306.9,479.4 309.2,480.1 310.9,478.9 312.6,477.8 310.3,477.1 308.1,476.3 306.4,477.4" fill="#16b0fe"/>
<polygon points="269.7,488.9 271.8,489.8 273.9,490.8 275.7,488.7 277.5,486.6 275.4,485.7 273.3,484.7 271.5,486.7" fill="#5683ff"/>
<polygon points="277.5,486.6 279.6,487.5 281.8,488.4 283.6,486.5 285.4,484.6 283.2,483.7 281.1,482.8 279.3,484.7" fill="#448eff"/>
<polygon points="285.4,484.6 287.5,485.5 289.7,486.2 291.5,484.5 293.3,482.9 291.1,482 288.9,481.2 287.1,482.9" fill="#3598ff"/>
<polygon points="293.3,482.9 295.5,483.6 297.7,484.3 299.5,482.8 301.2,481.3 299,480.6 296.8,479.8 295,481.3" fill="#27a1ff"/>
<polygon points="301.2,481.3 303.5,482 305.7,482.7 307.5,481.3 309.2,480.1 306.9,479.4 304.7,478.7 302.9,480" fill="#1aa9ff"/>
<polygon points="266.1,493.4 268.2,494.3 270.3,495.2 272.1,492.9 273.9,490.8 271.8,489.8 269.7,488.9 267.9,491.1" fill="#687cff"/>
<polygon points="273.9,490.8 276.1,491.6 278.2,492.4 280,490.3 281.8,488.4 279.6,487.5 277.5,486.6 275.7,488.7" fill="#5683ff"/>
<polygon points="281.8,488.4 284,489.1 286.2,489.9 287.9,488 289.7,486.2 287.5,485.5 285.4,484.6 283.6,486.5" fill="#448fff"/>
<polygon points="289.7,486.2 291.9,486.9 294.2,487.6 295.9,485.9 297.7,484.3 295.5,483.6 293.3,482.9 291.5,484.5" fill="#3399ff"/>
<polygon points="297.7,484.3 299.9,484.9 302.2,485.5 304,484 305.7,482.7 303.5,482 301.2,481.3 299.5,482.8" fill="#24a3ff"/>
<polygon points="270.3,495.2 272.4,496 274.6,496.7 276.4,494.5 278.2,492.4 276.1,491.6 273.9,490.8 272.1,492.9" fill="#687cff"/>
<polygon points="278.2,492.4 280.4,493.1 282.5,493.8 284.4,491.8 286.2,489.9 284,489.1 281.8,488.4 280,490.3" fill="#5484ff"/>
<polygon points="286.2,489.9 288.4,490.5 290.6,491.1 292.4,489.3 294.2,487.6 291.9,486.9 289.7,486.2 287.9,488" fill="#4190ff"/>
<polygon points="294.2,487.6 296.4,488.1 298.7,488.7 300.4,487.1 302.2,485.5 299.9,484.9 297.7,484.3 295.9,485.9" fill="#2f9cff"/>
<polygon points="274.6,496.7 276.7,497.4 278.9,498 280.7,495.9 282.5,493.8 280.4,493.1 278.2,492.4 276.4,494.5" fill="#657cff"/>
<polygon points="282.5,493.8 284.7,494.4 287,495 288.8,493 290.6,491.1 288.4,490.5 286.2,489.9 284.4,491.8" fill="#5186ff"/>
<polygon points="290.6,491.1 292.8,491.6 295.1,492.1 296.9,490.4 298.7,488.7 296.4,488.1 294.2,487.6 292.4,489.3" fill="#3c94ff"/>
<polygon points="278.9,498 281.1,498.6 283.3,499.1 285.1,497 287,495 284.7,494.4 282.5,493.8 280.7,495.9" fill="#627dff"/>
<polygon points="287,495 289.2,495.4 291.5,495.9 293.3,494 295.1,492.1 292.8,491.6 290.6,491.1 288.8,493" fill="#4b8aff"/>
<polygon points="283.3,499.1 285.5,499.5 287.8,499.9 289.6,497.9 291.5,495.9 289.2,495.4 287,495 285.1,497" fill="#5c7fff"/>
</g>
<circle cx="252.9" cy="395.7" r="1.55" fill="#e30b0b" stroke="#6e0000" stroke-width="0.5"/>
<circle cx="358.5" cy="466.5" r="1.55" fill="#e30b0b" stroke="#6e0000" stroke-width="0.5"/>
<circle cx="287.2" cy="442.5" r="1.55" fill="#e30b0b" stroke="#6e0000" stroke-width="0.5"/>
<circle cx="294.4" cy="440.1" r="1.55" fill="#e30b0b" stroke="#6e0000" stroke-width="0.5"/>
<circle cx="287.2" cy="499.6" r="1.55" fill="#e30b0b" stroke="#6e0000" stroke-width="0.5"/>
<circle cx="216.1" cy="451.7" r="1.55" fill="#fff" stroke="#b85050" stroke-width="0.6"/>
<line x1="331.6" y1="470" x2="331.6" y2="481.6" stroke="#555" stroke-width="0.6"/>
<circle cx="331.6" cy="481.6" r="1.55" fill="#fff" stroke="#b85050" stroke-width="0.6"/></g>
<g id="labels" stroke="#0a0a0a" stroke-width="0.25"><rect x="80.9" y="2.9" width="17.4" height="10.1" fill="#fff" stroke="#8a8a8a" stroke-width="0.7"/><text x="89.6" y="10.7" font-size="7.4" text-anchor="middle">29.1</text>
<text x="31.3" y="27" font-size="7.6" text-anchor="middle">(a)</text>
<text x="23.2" y="33.8" font-size="6.7" text-anchor="end">32</text>
<text x="23.2" y="43.2" font-size="6.7" text-anchor="end">30</text>
<text x="23.2" y="52.6" font-size="6.7" text-anchor="end">28</text>
<text x="23.2" y="62" font-size="6.7" text-anchor="end">26</text>
<text x="23.2" y="71.4" font-size="6.7" text-anchor="end">24</text>
<text x="23.2" y="80.8" font-size="6.7" text-anchor="end">22</text>
<text x="23.2" y="90.2" font-size="6.7" text-anchor="end">20</text>
<text x="23.2" y="99.6" font-size="6.7" text-anchor="end">18</text>
<text x="23.2" y="109" font-size="6.7" text-anchor="end">16</text>
<text x="8.9" y="89.5" font-size="7.35" text-anchor="middle" transform="rotate(-90 8.9 89.5)">BAVCO Yield (Y<tspan font-size="4.8" dy="1.3">1</tspan><tspan dy="-1.3">, %)</tspan></text>
<text x="23.5" y="142.4" font-size="6.6" text-anchor="middle">60</text>
<text x="34.5" y="148" font-size="6.6" text-anchor="middle">50</text>
<text x="45.7" y="153.7" font-size="6.6" text-anchor="middle">40</text>
<text x="57" y="159.4" font-size="6.6" text-anchor="middle">30</text>
<text x="68.6" y="165.2" font-size="6.6" text-anchor="middle">20</text>
<text x="80.2" y="170.9" font-size="6.6" text-anchor="middle">10</text>
<text x="92.3" y="176.4" font-size="6.6" text-anchor="middle">0</text>
<text x="107.2" y="176.4" font-size="6.6" text-anchor="middle">0.0</text>
<text x="120.4" y="169.6" font-size="6.6" text-anchor="middle">0.2</text>
<text x="133.6" y="162.7" font-size="6.6" text-anchor="middle">0.4</text>
<text x="147" y="155.7" font-size="6.6" text-anchor="middle">0.6</text>
<text x="160.8" y="148.7" font-size="6.6" text-anchor="middle">0.8</text>
<text x="174.3" y="141.7" font-size="6.6" text-anchor="middle">1.0</text>
<text x="38.5" y="168.9" font-size="6.9" text-anchor="middle">B: FT (X<tspan font-size="4.8" dy="1.3">2</tspan><tspan dy="-1.3">, h)</tspan></text>
<text x="158.6" y="171.9" font-size="6.9" text-anchor="middle">A: PEM (X<tspan font-size="4.8" dy="1.3">1</tspan><tspan dy="-1.3">, g)</tspan></text>
<rect x="274.1" y="3.7" width="16.2" height="9.6" fill="#fff" stroke="#8a8a8a" stroke-width="0.7"/><text x="282.2" y="11.3" font-size="7.4" text-anchor="middle">25.6</text>
<text x="226.3" y="26" font-size="7.6" text-anchor="middle">(b)</text>
<text x="214.6" y="34.8" font-size="6.7" text-anchor="end">26</text>
<text x="214.6" y="53.9" font-size="6.7" text-anchor="end">24</text>
<text x="214.6" y="72.9" font-size="6.7" text-anchor="end">22</text>
<text x="214.6" y="92" font-size="6.7" text-anchor="end">20</text>
<text x="214.6" y="111" font-size="6.7" text-anchor="end">18</text>
<text x="200.1" y="92.5" font-size="7.35" text-anchor="middle" transform="rotate(-90 200.1 92.5)">PJVCO Yield (Y<tspan font-size="4.8" dy="1.3">2</tspan><tspan dy="-1.3">, %)</tspan></text>
<text x="215" y="144.9" font-size="6.6" text-anchor="middle">60</text>
<text x="226" y="150.7" font-size="6.6" text-anchor="middle">50</text>
<text x="237.4" y="156.6" font-size="6.6" text-anchor="middle">40</text>
<text x="248.8" y="162.4" font-size="6.6" text-anchor="middle">30</text>
<text x="260.3" y="168.2" font-size="6.6" text-anchor="middle">20</text>
<text x="271.7" y="174" font-size="6.6" text-anchor="middle">10</text>
<text x="284.3" y="179.7" font-size="6.6" text-anchor="middle">0</text>
<text x="299" y="179.7" font-size="6.6" text-anchor="middle">0.0</text>
<text x="312.3" y="172.8" font-size="6.6" text-anchor="middle">0.2</text>
<text x="325.6" y="165.9" font-size="6.6" text-anchor="middle">0.4</text>
<text x="339" y="159" font-size="6.6" text-anchor="middle">0.6</text>
<text x="352.6" y="152.1" font-size="6.6" text-anchor="middle">0.8</text>
<text x="366.6" y="145.1" font-size="6.6" text-anchor="middle">1.0</text>
<text x="233" y="172.5" font-size="6.9" text-anchor="middle">B: FT (X<tspan font-size="4.8" dy="1.3">2</tspan><tspan dy="-1.3">, h)</tspan></text>
<text x="348.5" y="172.8" font-size="6.9" text-anchor="middle">A: PEM (X<tspan font-size="4.8" dy="1.3">1</tspan><tspan dy="-1.3">, g)</tspan></text>
<rect x="79.1" y="179.4" width="16.2" height="10" fill="#fff" stroke="#8a8a8a" stroke-width="0.7"/><text x="87.2" y="187.2" font-size="7.4" text-anchor="middle">24.6</text>
<text x="31.3" y="199.6" font-size="7.6" text-anchor="middle">(c)</text>
<text x="22.2" y="210.8" font-size="6.7" text-anchor="end">28</text>
<text x="22.2" y="223.5" font-size="6.7" text-anchor="end">26</text>
<text x="22.2" y="236.2" font-size="6.7" text-anchor="end">24</text>
<text x="22.2" y="248.8" font-size="6.7" text-anchor="end">22</text>
<text x="22.2" y="261.5" font-size="6.7" text-anchor="end">20</text>
<text x="22.2" y="274.2" font-size="6.7" text-anchor="end">18</text>
<text x="22.2" y="286.8" font-size="6.7" text-anchor="end">16</text>
<text x="7.6" y="267" font-size="7.35" text-anchor="middle" transform="rotate(-90 7.6 267)">BVCO Yield (Y<tspan font-size="4.8" dy="1.3">3</tspan><tspan dy="-1.3">, %)</tspan></text>
<text x="22.7" y="319.9" font-size="6.6" text-anchor="middle">60</text>
<text x="33.4" y="325.7" font-size="6.6" text-anchor="middle">50</text>
<text x="44.3" y="331.5" font-size="6.6" text-anchor="middle">40</text>
<text x="55.2" y="337.3" font-size="6.6" text-anchor="middle">30</text>
<text x="66.2" y="343.1" font-size="6.6" text-anchor="middle">20</text>
<text x="77.3" y="348.8" font-size="6.6" text-anchor="middle">10</text>
<text x="89.7" y="354.8" font-size="6.6" text-anchor="middle">0</text>
<text x="104.4" y="354.8" font-size="6.6" text-anchor="middle">0.0</text>
<text x="117.6" y="347.9" font-size="6.6" text-anchor="middle">0.2</text>
<text x="130.7" y="340.9" font-size="6.6" text-anchor="middle">0.4</text>
<text x="143.8" y="334" font-size="6.6" text-anchor="middle">0.6</text>
<text x="157" y="327.1" font-size="6.6" text-anchor="middle">0.8</text>
<text x="170.3" y="320" font-size="6.6" text-anchor="middle">1.0</text>
<text x="44.5" y="349.8" font-size="6.9" text-anchor="middle">B: FT (X<tspan font-size="4.8" dy="1.3">2</tspan><tspan dy="-1.3">, h)</tspan></text>
<text x="152.5" y="349.8" font-size="6.9" text-anchor="middle">A: PEM (X<tspan font-size="4.8" dy="1.3">1</tspan><tspan dy="-1.3">, g)</tspan></text>
<rect x="319.3" y="203.7" width="34.4" height="9.7" fill="#fff" stroke="#8a8a8a" stroke-width="0.7"/><text x="336.5" y="211.1" font-size="6.9" text-anchor="middle">0.0457011</text>
<text x="216.7" y="200" font-size="7.6" text-anchor="middle">(d)</text>
<text x="209.2" y="209.9" font-size="5.2" text-anchor="end">0.4</text>
<text x="209.2" y="225.2" font-size="5.2" text-anchor="end">0.3</text>
<text x="209.2" y="240.6" font-size="5.2" text-anchor="end">0.2</text>
<text x="209.2" y="256" font-size="5.2" text-anchor="end">0.1</text>
<text x="209.2" y="271.3" font-size="5.2" text-anchor="end">0</text>
<text x="209.2" y="286.7" font-size="5.2" text-anchor="end">-0.1</text>
<text x="194.2" y="264" font-size="7.35" text-anchor="middle" transform="rotate(-90 194.2 264)">WC (Y<tspan font-size="4.8" dy="1.3">4</tspan><tspan dy="-1.3">, %)</tspan></text>
<text x="212.3" y="316.6" font-size="5.4" text-anchor="middle">0</text>
<text x="218.6" y="326.2" font-size="5.4" text-anchor="middle">0.2</text>
<text x="229" y="335.9" font-size="5.4" text-anchor="middle">0.4</text>
<text x="239.5" y="345.5" font-size="5.4" text-anchor="middle">0.6</text>
<text x="250.2" y="355.1" font-size="5.4" text-anchor="middle">0.8</text>
<text x="261.7" y="364.9" font-size="5.4" text-anchor="middle">1</text>
<text x="272" y="364.9" font-size="5.4" text-anchor="middle">12</text>
<text x="286" y="359.2" font-size="5.4" text-anchor="middle">20</text>
<text x="299.6" y="353.7" font-size="5.4" text-anchor="middle">28</text>
<text x="313.3" y="348.2" font-size="5.4" text-anchor="middle">36</text>
<text x="327" y="342.6" font-size="5.4" text-anchor="middle">44</text>
<text x="340" y="336.9" font-size="5.4" text-anchor="middle">52</text>
<text x="354" y="330.9" font-size="5.4" text-anchor="middle">60</text>
<text x="214.5" y="353" font-size="6.9" text-anchor="middle">A: PEM (X<tspan font-size="4.8" dy="1.3">1</tspan><tspan dy="-1.3">, g)</tspan></text>
<text x="331.5" y="355.7" font-size="6.9" text-anchor="middle">B: FT (X<tspan font-size="4.8" dy="1.3">2</tspan><tspan dy="-1.3">, h)</tspan></text>
<rect x="134" y="381.7" width="34.7" height="9.6" fill="#fff" stroke="#8a8a8a" stroke-width="0.7"/><text x="151.3" y="389.1" font-size="6.9" text-anchor="middle">0.0102437</text>
<text x="31.3" y="379.7" font-size="7.6" text-anchor="middle">(e)</text>
<text x="24.2" y="387.9" font-size="5.2" text-anchor="end">0.016</text>
<text x="24.2" y="400.9" font-size="5.2" text-anchor="end">0.015</text>
<text x="24.2" y="413.9" font-size="5.2" text-anchor="end">0.014</text>
<text x="24.2" y="426.9" font-size="5.2" text-anchor="end">0.013</text>
<text x="24.2" y="439.9" font-size="5.2" text-anchor="end">0.012</text>
<text x="24.2" y="452.9" font-size="5.2" text-anchor="end">0.011</text>
<text x="24.2" y="465.9" font-size="5.2" text-anchor="end">0.01</text>
<text x="8.6" y="442.5" font-size="7.35" text-anchor="middle" transform="rotate(-90 8.6 442.5)">FFA (Y<tspan font-size="4.8" dy="1.3">5</tspan><tspan dy="-1.3">, %)</tspan></text>
<text x="27.3" y="496.6" font-size="5.4" text-anchor="middle">0</text>
<text x="34.2" y="506.6" font-size="5.4" text-anchor="middle">0.2</text>
<text x="44.5" y="516.7" font-size="5.4" text-anchor="middle">0.4</text>
<text x="54.7" y="526.8" font-size="5.4" text-anchor="middle">0.6</text>
<text x="65" y="536.9" font-size="5.4" text-anchor="middle">0.8</text>
<text x="77" y="546.6" font-size="5.4" text-anchor="middle">1</text>
<text x="87" y="546.6" font-size="5.4" text-anchor="middle">12</text>
<text x="101" y="540.6" font-size="5.4" text-anchor="middle">20</text>
<text x="114.5" y="534.9" font-size="5.4" text-anchor="middle">28</text>
<text x="128" y="529.1" font-size="5.4" text-anchor="middle">36</text>
<text x="141.5" y="523.3" font-size="5.4" text-anchor="middle">44</text>
<text x="155" y="517.5" font-size="5.4" text-anchor="middle">52</text>
<text x="169" y="511.6" font-size="5.4" text-anchor="middle">60</text>
<text x="30.5" y="536.5" font-size="6.9" text-anchor="middle">A: PEM (X<tspan font-size="4.8" dy="1.3">1</tspan><tspan dy="-1.3">, g)</tspan></text>
<text x="142.5" y="537.8" font-size="6.9" text-anchor="middle">B: FT (X<tspan font-size="4.8" dy="1.3">2</tspan><tspan dy="-1.3">, h)</tspan></text>
<rect x="252" y="367.3" width="35.1" height="10" fill="#fff" stroke="#8a8a8a" stroke-width="0.7"/><text x="269.6" y="374.9" font-size="6.9" text-anchor="middle">0.0236997</text>
<text x="215.7" y="389.4" font-size="7.6" text-anchor="middle">(f)</text>
<text x="211" y="399.9" font-size="5.2" text-anchor="end">0.025</text>
<text x="211" y="418.8" font-size="5.2" text-anchor="end">0.02</text>
<text x="211" y="437.8" font-size="5.2" text-anchor="end">0.015</text>
<text x="211" y="456.8" font-size="5.2" text-anchor="end">0.01</text>
<text x="211" y="475.8" font-size="5.2" text-anchor="end">0.005</text>
<text x="194.6" y="463.5" font-size="7.35" text-anchor="middle" transform="rotate(-90 194.6 463.5)">PN (Y<tspan font-size="4.8" dy="1.3">6</tspan><tspan dy="-1.3">, mg O</tspan><tspan font-size="4.8" dy="1.3">2</tspan><tspan dy="-1.3">/g VCO)</tspan></text>
<text x="213" y="506.2" font-size="5.4" text-anchor="middle">60</text>
<text x="224.3" y="512.1" font-size="5.4" text-anchor="middle">52</text>
<text x="235.7" y="518" font-size="5.4" text-anchor="middle">44</text>
<text x="247.1" y="523.9" font-size="5.4" text-anchor="middle">36</text>
<text x="258.6" y="529.9" font-size="5.4" text-anchor="middle">28</text>
<text x="270" y="535.9" font-size="5.4" text-anchor="middle">20</text>
<text x="281.7" y="541.6" font-size="5.4" text-anchor="middle">12</text>
<text x="292" y="541.6" font-size="5.4" text-anchor="middle">0</text>
<text x="308.3" y="534.2" font-size="5.4" text-anchor="middle">0.2</text>
<text x="322.2" y="527.2" font-size="5.4" text-anchor="middle">0.4</text>
<text x="336.1" y="520.3" font-size="5.4" text-anchor="middle">0.6</text>
<text x="350" y="513.3" font-size="5.4" text-anchor="middle">0.8</text>
<text x="361" y="506.6" font-size="5.4" text-anchor="middle">1</text>
<text x="225.3" y="532.5" font-size="6.9" text-anchor="middle">B: FT (X<tspan font-size="4.8" dy="1.3">2</tspan><tspan dy="-1.3">, h)</tspan></text>
<text x="341.6" y="538.4" font-size="6.9" text-anchor="middle">A: PEM (X<tspan font-size="4.8" dy="1.3">1</tspan><tspan dy="-1.3">, g)</tspan></text></g>
</svg>
</body></html>
